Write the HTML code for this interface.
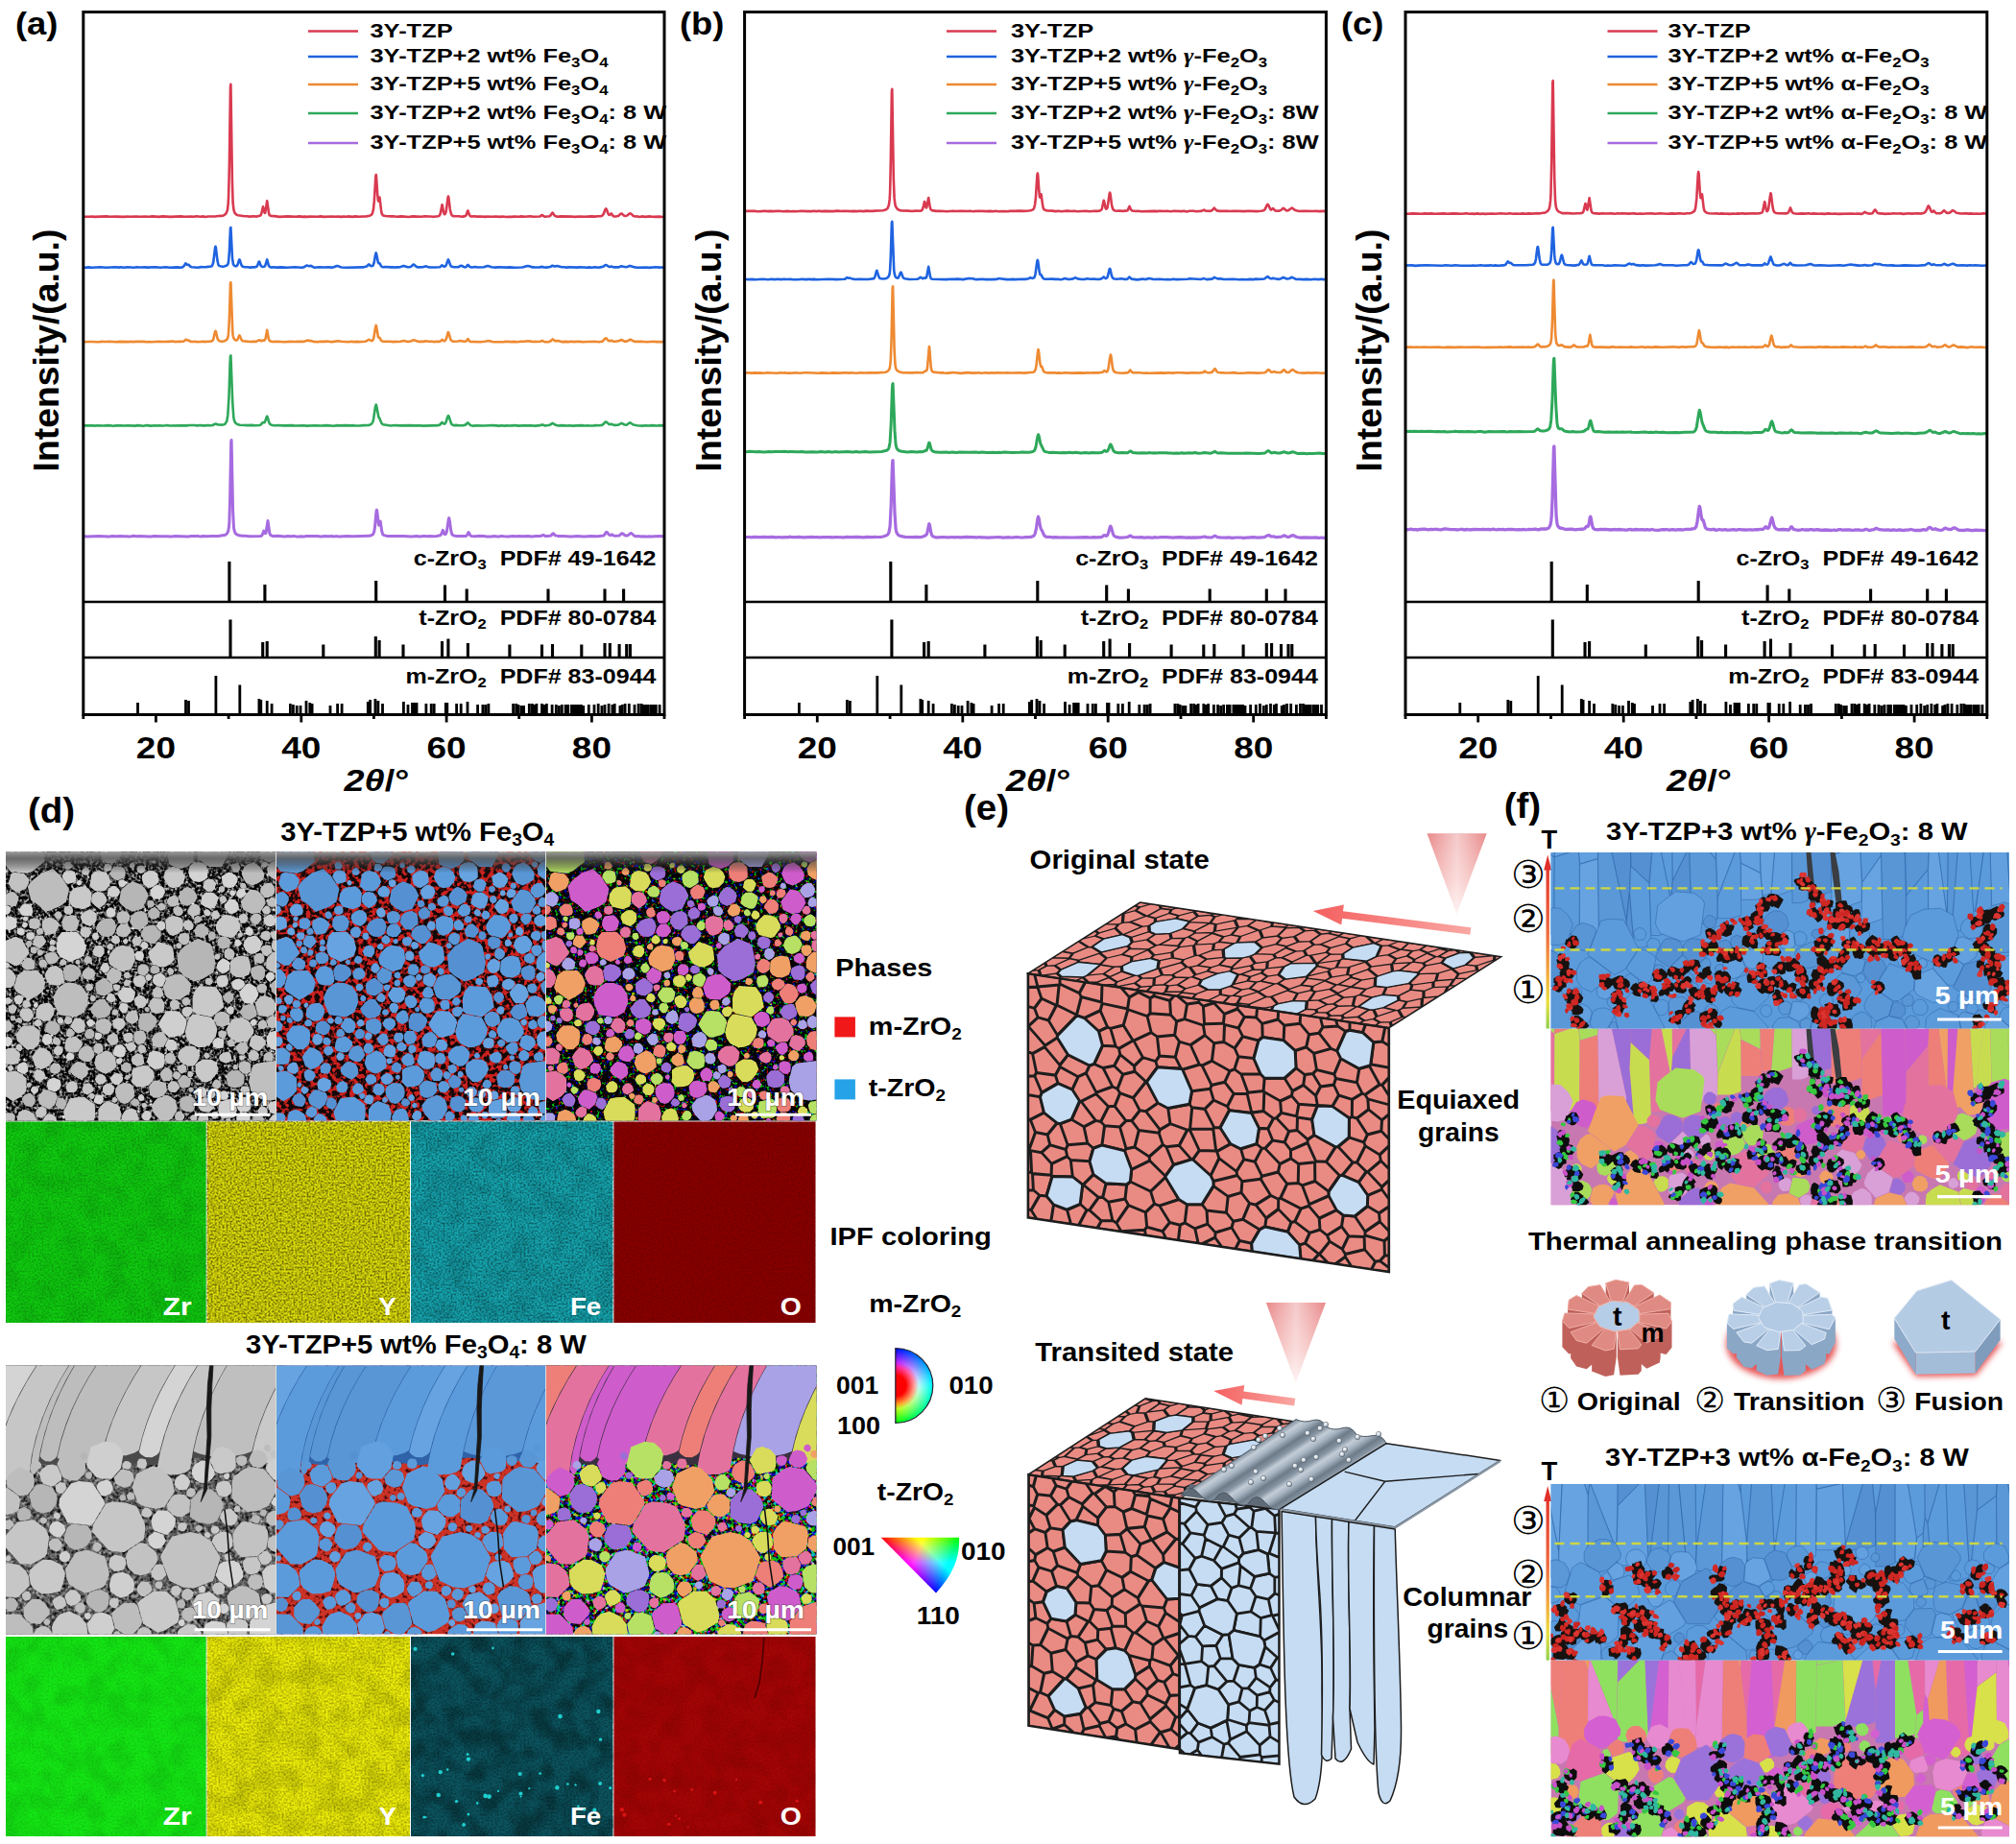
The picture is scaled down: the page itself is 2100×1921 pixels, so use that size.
<!DOCTYPE html>
<html><head><meta charset="utf-8"><title>Figure</title>
<style>html,body{margin:0;padding:0;background:#fff}svg{display:block}text{font-family:"Liberation Sans",sans-serif}</style>
</head><body>
<svg width="2100" height="1921" viewBox="0 0 2100 1921">
<rect width="2100" height="1921" fill="#fff"/>
<polyline points="86.8,225.7 92.5,225.8 96.3,225.6 98.9,225.9 111,225.4 114.4,225.8 119.7,225.6 129.5,225.9 132.9,225.5 135.2,225.7 141.6,225.5 146.9,225.8 150.3,225.5 155.3,225.7 158.7,225.4 165.5,225.9 169.6,225.4 177.2,225.9 188.5,225.4 192,225.7 198.8,225.5 202.2,225.8 204.8,225.3 208.6,225.7 212,225.4 213.9,226 216.9,225.5 224.1,225.5 227.5,225 230.9,224.9 232.8,224.5 235.1,222.9 235.8,221.8 237,218.6 237.7,212.1 238.1,204.7 238.9,171.5 240,90.2 240.4,87.7 241.9,188.4 242.6,211 243.4,218.2 244.2,221 245.3,222.8 246.8,223.9 247.9,224.3 254.7,225.3 257.4,225.3 259.7,225.6 264.2,225.2 267.6,225.6 270.6,224.8 271.4,224.4 272.1,223.3 274,215.3 275.5,221.4 275.9,221.9 276.3,221.5 278.2,209.3 280.1,222.3 280.8,224.2 282.4,225 285.8,225.1 291.4,225.9 299.8,225.4 308.1,225.8 311.9,225.4 315.3,225.9 317.2,225.6 320.2,225.9 322.8,225.6 330.8,225.8 334.2,225.4 337.2,225.9 346.7,225.5 347.4,225.7 353.1,225.6 354.6,225.9 358,225.6 360.7,225.8 362.5,225.4 367.1,225.9 370.5,225.4 373.5,225.7 381.5,225.4 385.2,224.7 387.1,223.6 387.9,222.5 389,217.9 389.8,209.9 391.3,184.2 391.7,182 392,184 393.2,201.9 393.9,209.1 394.3,209.5 395.1,206.2 395.5,205.6 397,218.7 397.7,222.5 398.5,223.8 399.2,224.4 401.5,225 407.2,225.4 409.4,225.2 413.2,225.7 418.1,225.4 425.7,226 429.9,225.4 439,225.7 442.4,225.3 452.2,225.7 456.4,225.3 457.5,224.9 458.6,223 460.5,213.2 460.9,214.1 462,221 462.4,222.3 463.2,223.2 463.9,222.6 464.7,220.2 466.6,205.7 466.9,204.6 467.3,205.6 468.8,217.9 469.6,221.8 470.7,224.3 472.2,225.2 473,225.3 478.3,225.3 480.6,225.7 482.1,225.4 483.2,225.6 484.7,225.1 485.9,223.6 487,219.9 487.4,219.5 489.3,224.6 490.4,225.5 493.8,225.3 497.2,225.6 501.7,225.5 505.1,225.9 507,225.6 512.7,225.8 516.1,225.5 520.7,225.9 523.7,225.5 527.1,226 530.5,225.7 532.4,225.9 535.8,225.6 540.7,225.8 543,225.4 546.4,225.8 552.4,225.3 555.5,225.8 562.3,225.5 564.9,224 566.4,225.2 567.6,225.7 572.5,225.3 573.6,224.3 575.5,221.6 578.1,225 580.8,225.7 584.2,225.4 596.3,225.6 596.7,225.8 599.3,225.9 603.5,225.5 609.5,225.8 615.6,225.4 620.9,225.6 622.4,225.2 626.2,225.1 627.7,224.3 628.8,222.7 630.3,218.5 631.1,217.4 631.9,218.2 633.4,222.3 634.1,223.5 634.5,223.9 635.3,223.9 636.8,222.4 638.7,225 639.4,225.4 641.3,225.5 644,225 646.6,222.8 647.4,222.5 648.1,222.8 650,224.7 651.5,225.1 653.4,224.4 655.7,222.6 656.4,222.3 657.6,222.9 659.5,224.8 660.6,225.3 661.7,225.5 664,225.4 666.3,225.9 668.5,225.4 672,225.9 677.2,225.4 679.1,225.8 681.8,225.9 687.1,225.6 689.4,226 692,225.7" fill="none" stroke="#d93a50" stroke-width="2.6" stroke-linejoin="round"/>
<polyline points="86.8,278.6 88.7,278.8 92.1,278.4 95.9,278.7 104.6,278.3 110.6,278.8 120.5,278.3 123.9,278.6 126.1,278.3 129.2,278.7 132.9,278.3 139.4,278.7 142.8,278.2 143.2,278.4 145.8,278.5 148.5,278.5 150.7,278.2 153,278.6 162.1,278.3 167,278.7 173,278.3 176.4,278.8 184.8,278.4 188.5,278.7 190.8,277.9 192,276.7 193.1,274.6 193.5,274.3 195,275.9 196.5,275.7 198.4,277.8 199.9,278.3 205.9,278.7 209.7,278.1 210.5,278.3 215,278.1 219.9,277.5 220.7,277.1 221.1,276.6 222.2,273.5 224.1,257.9 224.5,256.8 224.9,258.1 226.4,271.1 227.5,276 228.3,276.9 229.4,277.3 232,277.7 233.6,277.5 236.2,276.6 237,275.9 237.7,274.2 238.1,272 238.9,262.1 240,237.7 240.4,237 241.9,267.1 242.3,271.3 243,275.2 243.8,276.5 244.5,277 245.3,277.3 246.4,277.2 247.6,275.6 248.7,271.9 249.4,270.4 249.8,270.9 251.3,275.7 252.1,277 252.9,277.7 255.1,278.3 257.8,278.2 260.4,278.6 266.5,278.1 267.6,277.5 268.4,276.1 269.5,272.9 269.9,272.6 270.3,272.9 271.4,276.1 272.1,277.4 273.7,278 275.2,277.7 275.9,277.3 276.3,276.7 278.2,270.4 279.7,275.9 280.5,277.6 281.6,278.3 282.7,278.6 285,278.3 287.7,278.6 293.7,278.4 298.6,278.7 307.3,278.3 314.1,278.8 316.4,278.4 319.4,276.6 322.1,277.2 324,276.9 326.2,278.2 327.7,278.7 332.3,278.3 338.3,278.5 341.7,278.3 345.5,278.6 347.8,278.3 350.8,277 352.7,277.3 354.2,278.1 355.7,278.5 361,278.7 378.1,278.4 381.8,277.6 384.1,275.3 384.9,275.8 386,277 387.5,277.2 388.6,276.6 389.8,273 390.9,266.1 391.7,263.4 392,264 393.9,273.5 394.3,274.2 395.5,274.4 397,277.2 397.7,277.9 399.2,278.2 401.1,278 407.2,278.4 408.7,278.2 411.7,278.6 413.2,278.3 415.1,278.4 417.4,278 420.4,276.9 424.6,278.3 426.5,278.2 427.6,278 428.7,277.3 430.3,275.8 431,275.5 434,278.1 436.3,278.4 440.5,278.3 443.9,277.3 445.8,278.2 447.3,278.4 452.9,278.5 457.9,278.2 458.6,278 460.5,276.3 462.4,277.7 463.2,277.7 464.3,276.9 464.7,276.3 466.6,270.8 466.9,270.5 467.3,270.9 469.2,276.4 470,277.5 471.9,278.1 474.5,278.3 477.2,278.2 480.2,276.8 481.3,277 483.2,278.1 484.7,278.4 485.9,277.8 487,276.1 487.4,276 487.7,276.1 489.3,277.9 491.5,278.5 494.9,278 498,278.5 504,278.3 507.8,277 508.9,277.1 512,278.3 516.5,278.6 518.4,278.3 529,278.6 531.2,278.4 535.4,278.8 543.3,278.5 545.2,278.3 548.3,277.2 549.8,277 551.3,277.2 554.7,278.4 555.8,278.3 556.6,278.5 562.3,278.4 564.9,277.9 566.8,278.5 569.1,278.6 573.2,278 575.5,276.7 577.4,277.5 580.4,277.1 585,278.3 587.2,278.2 590.6,278.6 592.9,278.3 601.6,278.6 603.5,278.3 608.8,278.5 610.7,278.8 614.5,278.4 616.4,278.8 619.8,278.2 623.2,278.7 626.9,278.1 628.8,277.5 630.3,276.2 631.5,276 634.1,277.8 635.3,278 636.8,277.5 639,278.4 644,278.4 647.4,277.2 649.3,277.8 652.3,278.2 653.4,278 656.1,276.9 659.8,278.1 663.6,278.7 673.1,278.5 676.5,278.9 682.9,278.3 686.7,278.6 692,278.5" fill="none" stroke="#1f63e0" stroke-width="2.6" stroke-linejoin="round"/>
<polyline points="86.8,356 89.1,356.2 90.6,356 97,356 100.4,356.3 103.4,356.3 105.7,355.9 109.9,356 114,355.7 120.8,356.3 124.6,355.9 134.5,356.1 135.2,355.9 138.6,356.1 141.6,355.9 150.3,355.9 151.9,356.2 155.3,356 157.9,356.3 165.1,355.8 171.1,356 174.6,355.7 176.1,355.9 179.5,355.5 182.5,356.1 185.5,355.7 187.8,355.9 190.8,355.7 191.6,355.4 193.5,353.7 195.4,354.5 196.1,354.5 199.1,356 204.1,355.9 205.9,356.2 211.6,355.8 214.6,356.1 215.4,355.8 218.8,355.8 220.7,355.3 221.5,354.8 222.2,353.5 224.1,345.4 224.5,344.8 224.9,345.4 226.4,352.1 227.5,354.5 228.6,355.2 231.3,355.7 233.9,355.2 236.2,353.8 237,352.6 237.7,349.7 238.1,346.4 238.9,331.5 240,295.2 240.4,294.1 242.3,345.5 242.6,349.2 243.4,352.4 244.9,354.1 246,354.6 246.8,354.4 247.6,353.5 249.1,349.8 249.4,349.4 249.8,349.8 251.7,354.3 253.2,355.3 260.8,356 262.7,355.8 266.1,355.9 268.7,355.1 269.5,354.4 270.3,354.4 272.1,355.2 273.7,354.5 275.5,354.6 276.3,353.4 276.7,352 278.2,343.9 279.7,352.2 280.5,354.5 281.6,355.5 283.9,356 288.8,355.7 296,356.3 302,355.9 307.3,356 310.7,355.7 315.6,355.9 316.8,355.7 319.8,354.6 324,355.1 326.6,355.9 331.1,356.2 333,355.8 338,355.9 341.4,355.6 343.3,356 345.9,356.1 352.3,355.2 355.7,355.8 362.5,356.2 365.9,355.8 369,356.1 372.4,355.9 373.5,356.1 380.3,355.7 382.2,355.1 383.7,353.9 384.5,353.9 387.1,355.1 388.3,354.5 389.4,351.7 390.9,342 391.7,338.9 392,339.8 393.9,350.8 394.3,351.5 395.5,351.8 395.8,352.3 397.3,355.1 399.2,355.8 405.7,355.7 409.8,356.1 411.7,355.9 415.1,356 417,355.8 420.4,354.9 425,355.9 427.6,355.5 431,354.2 431.8,354.3 433.3,355.1 436.3,355.9 440.8,355.9 443.9,355.3 446.5,355.7 449.9,355.7 451.8,356.1 455.2,355.8 457.5,355.9 458.6,355.6 460.5,353.9 462.4,355.2 463.5,354.9 463.9,354.5 465.1,352.4 466.6,346.5 466.9,346 467.3,346.6 469.6,354.1 470.7,355.2 472.6,355.7 476.8,355.5 479.8,355 483.2,355.8 484.7,355.7 485.5,355.4 487.4,353.1 489.3,355.6 490,355.9 500.2,356.2 505.1,355.8 508.9,355 512.7,356 515.4,356.2 524.8,356.2 526.3,355.7 533.1,356.1 535.4,355.9 538.8,356.3 542.6,355.8 546.4,355.8 549.8,355.2 554.3,355.9 556.2,356 557.3,355.7 560.7,356 562.6,355.7 564.9,354.9 567.2,356.1 571.3,356.2 573.6,355.3 575.5,353.3 577.8,355.1 581.2,355.1 585,356.1 589.5,355.9 592.5,356.1 594.8,355.7 598.2,356.1 600.5,355.8 603.9,355.9 607.3,356.3 611.8,356 619.8,355.8 623.9,356.2 626.9,355.7 628.1,355.2 630.3,352.7 631.1,352.3 631.5,352.3 633,354.2 634.1,355.1 635.3,355.3 636.8,354.6 638.3,355.5 639.4,355.8 641.3,355.7 645.1,355 647.4,354 650.4,355.6 652.7,355.6 654.9,354.6 656.1,353.7 657.2,353.9 660.2,355.6 661.7,355.9 668.5,355.8 673.5,356.2 680.7,355.8 684.1,356.1 692,356.1" fill="none" stroke="#ee8a32" stroke-width="2.6" stroke-linejoin="round"/>
<polyline points="86.8,443.4 97.4,443.2 98.5,443.6 101.6,443.3 107.6,443.5 113.3,443.1 118.2,443.7 120.5,443.4 126.9,443.2 128.4,443.5 133.3,443.2 140.5,443.6 143.5,443.1 149.6,443.7 152.6,443.1 157.2,443.6 162.1,443.3 163.2,443.5 164.7,443.2 170,443.5 172.3,443.3 173.4,443 176.8,443.5 187.4,443.2 194.2,443.4 197.6,443 202.9,443 205.2,443.4 208.6,443 211.6,443.4 216.5,443.1 219.9,443.2 221.5,443 223.3,442 224.9,441.5 226.8,442.4 228.3,442.5 231.7,442.6 233.2,442.3 234.7,441.3 236.2,438.9 237.3,432.7 238.5,412.8 239.6,378.5 240,371.1 240.4,370.4 242.3,420.2 243.4,435.3 244.2,438.6 245.3,440.6 247.2,442 249.8,442.7 257.8,443.1 262.3,442.9 265.3,443.3 270.3,443 271.8,442.4 273.7,440 275.5,440.1 275.9,439.8 277.8,434.1 278.2,433.7 278.6,434.2 280.1,439.7 281.2,441.9 282.7,442.7 285.4,443.2 287.3,443.3 289.9,443 295.2,443.4 303.9,443.1 307.3,443.5 316.4,443.2 319.4,443.6 328.5,443.2 334.9,443.5 339.8,443.1 347.8,443.7 351.2,443.1 354.2,443.4 359.9,443.1 366.7,443.4 368.6,443.1 369,443.4 375,443.5 378.4,443.1 384.1,443 386.8,441.9 388.3,439.6 389,437 390.9,424.2 391.7,421.6 392,422.1 392.4,423.9 394.3,434 395.8,436.7 397.3,440.6 398.5,442 399.2,442.3 406.8,443.5 411.3,443 416.3,443.4 426.8,443.1 430.6,443.4 437.4,443.2 440.8,443.6 456.7,443.1 458.2,442.5 460.5,440 462.4,441.5 463.2,441.6 463.9,441 464.7,439.4 466.2,434.3 466.9,433 467.7,434.1 470,441.2 470.7,442.1 472.6,443.1 476,442.9 477.5,443.2 483.2,443.1 485.1,442.5 486.6,440.9 487.4,440.4 489.6,442.7 490.8,443.2 493,443.6 496.8,443.3 502.9,443.5 513.8,443.1 519.9,443.6 522.2,443.3 525.6,443.6 528.2,443.2 529.7,443.5 534.3,443.4 535.8,443.1 541.1,443.6 544.5,443.2 549,443.4 553.9,443.2 555.1,443.5 557.7,443.6 562.6,443.1 564.5,442.5 565.3,442.5 567.9,443.5 572.5,442.8 575.5,440.9 576.6,441.4 578.1,442.5 581.6,443.5 585,443.1 590.6,443.5 593.3,443.2 596.3,443.6 605.8,443.1 609.2,443.5 612.2,443.3 613.7,443.5 618.6,443.4 620.5,443.1 623.5,443.3 626.9,442.9 628.5,441.9 630.3,439.8 631.1,439.5 631.9,439.8 634.5,442.1 636.8,441.7 638.7,442.6 640.2,442.9 643.6,442.8 647.4,440.8 650.8,442.5 652.3,442.7 653,442.5 655.7,440.5 656.4,440.4 659.8,442.5 663.6,443.2 668.9,443.6 672.7,443.2 676.1,443.5 678.8,443.1 684.4,443.5 687.8,443.1 692,443.4" fill="none" stroke="#2ea85a" stroke-width="2.6" stroke-linejoin="round"/>
<polyline points="86.8,558.6 90.6,558.9 103.1,558.5 113.7,558.9 117.1,558.5 120.8,558.8 125.8,558.5 129.2,558.8 131.8,558.7 134.8,559.1 139,558.2 142.8,558.8 145.1,558.6 156.8,558.9 160.6,558.5 167.7,558.8 174.2,558.7 178.3,559 182.5,558.4 195.7,558.9 199.5,558.4 204.4,558.6 205.2,558.3 208.2,558.9 211.6,558.5 216.2,558.8 219.6,558.4 222.2,558.6 227.5,558.4 234.7,557.3 236.6,555.7 237.7,553.4 238.5,548.8 238.9,543.4 239.6,519.3 240.7,460.2 241.1,458.4 242.6,531.6 243.4,548.1 243.8,551.5 244.9,555.1 246.4,556.7 249.1,557.8 252.1,558.3 255.5,558.2 259.7,558.7 271.8,558.4 272.5,558 273.3,557 274.8,553.1 275.2,553.3 276.3,555.6 276.7,555.6 277.1,554.7 279,542.5 280.8,555.5 282,557.7 283.9,558.4 289.9,558.3 296.4,558.9 299.8,558.5 303.2,558.7 306.2,558.4 309.6,559.1 311.5,559.1 313,558.7 316.8,559 318.3,558.6 320.9,558.5 330.8,558.6 334.2,559 338.3,558.5 342.1,558.8 345.5,558.6 348.2,558.9 349.7,558.6 353.1,558.9 361.4,558.4 367.1,558.8 384.9,558.3 387.9,557.2 388.6,556.6 389.8,553.7 390.5,548.8 392,532.7 392.4,531.2 392.8,532.3 394.3,546.1 394.7,547.2 395.1,546.8 395.8,543.6 396.2,543 397.7,553.1 398.5,556.2 398.9,556.8 400,557.6 403,558.4 407.6,558.4 408.3,558.6 411.7,558.4 417,558.4 418.1,558.6 420.8,558.4 428.4,559 434,558.5 437.4,558.9 440.8,558.5 443.1,558.4 444.2,558.7 448,558.4 451.1,558.7 454.8,558.4 458.2,557.8 459,557.4 459.8,556.2 461.3,552.3 461.6,552.7 462.8,556 463.2,556.6 463.9,556.7 464.7,555.9 465.4,553.5 467.3,540.4 467.7,539.6 468.5,543.1 469.6,551.9 470.7,556.4 471.9,557.6 473.7,558.2 476,558.5 485.1,558.6 486.6,557.3 488.1,554.5 489.6,557.3 490.8,558.4 494.9,558.7 499.5,558.3 504.4,558.5 506.7,558.9 511.6,558.9 515,558.5 518.4,558.9 520.3,558.9 521.8,558.4 525.2,558.8 529,558.9 534.3,558.4 537.7,558.8 541.5,558.5 543.3,558.7 550.5,558.5 553.9,559 558.1,558.5 563.4,558.4 565.7,557.4 566.4,557.5 567.9,558.4 570.6,558.6 574,558 575.5,556.2 576.3,555.8 576.6,555.8 578.5,557.9 581.2,558.4 586.8,558.4 594.8,558.9 601.2,558.5 608.8,559 615.2,558.6 622.4,558.8 628.5,558.1 629.6,557.2 631.1,554.8 631.9,554.2 632.6,554.7 634.1,556.8 635.3,557.6 636,557.6 637.5,556.8 639,557.9 640.6,558.3 645.1,557.9 647.4,556 648.1,555.7 648.9,555.9 650.8,557.6 651.5,557.9 653.4,557.9 654.2,557.6 657.2,555.4 658.3,556 660.6,558.1 662.5,558.7 664.8,558.5 668.2,559 669.3,558.7 674.2,559.1 676.1,558.7 679.5,558.9 681,558.7 687.8,558.5 692,558.7" fill="none" stroke="#a66be0" stroke-width="3.0" stroke-linejoin="round"/>
<path d="M238.9 627v-42M275.9 627v-18M391.7 627v-22M463.5 627v-17.6M486.2 627v-13.5M571 627v-13.5M630 627v-13.5M649.6 627v-13.5" stroke="#000" stroke-width="3.1" fill="none"/>
<path d="M240 685v-39.5M273.7 685v-16M278.2 685v-17M336.8 685v-13.5M391.3 685v-22M395.1 685v-18M420 685v-13.5M460.5 685v-17M466.9 685v-19.5M487.4 685v-15M530.9 685v-13.5M564.5 685v-13.5M575.5 685v-14M605.8 685v-13.5M630 685v-15M635.3 685v-15M645.1 685v-14M652.7 685v-14M656.4 685v-14" stroke="#000" stroke-width="3.1" fill="none"/>
<path d="M143.5 744v-12M193.5 744v-15M196.5 744v-14M224.9 744v-40M249.8 744v-30.5M269.9 744v-16M271.8 744v-15M278.2 744v-14M283.1 744v-11M302.4 744v-11M305.4 744v-10M309.2 744v-9M313 744v-9M319 744v-14M322.8 744v-12M325.1 744v-11M344 744v-9M351.6 744v-11M356.1 744v-11M383.3 744v-13M385.6 744v-15M390.9 744v-16M393.9 744v-14M398.5 744v-11M420.4 744v-13M425 744v-10M429.5 744v-12M431.8 744v-12M434 744v-12M443.9 744v-11M449.2 744v-11M452.2 744v-11M464.3 744v-12M465.8 744v-12M475.6 744v-11M480.2 744v-11M487 744v-13M497.6 744v-10M502.9 744v-10M505.9 744v-10M508.9 744v-11M534.6 744v-11M537.7 744v-11M539.9 744v-10M543 744v-9M545.6 744v-9M551.3 744v-11M554.3 744v-11M556.6 744v-10M558.9 744v-11M564.5 744v-11M567.2 744v-10M569.4 744v-11M575.1 744v-10M579.3 744v-10M582.3 744v-9M585.3 744v-10M589.1 744v-10M591.8 744v-10M595.5 744v-10M598.2 744v-10M600.8 744v-10M603.1 744v-10M605.4 744v-10M607.7 744v-9M613.3 744v-10M619 744v-10M623.2 744v-11M626.9 744v-9M630 744v-10M634.1 744v-11M637.9 744v-10M640.2 744v-11M645.9 744v-9M648.1 744v-10M651.1 744v-11M655.3 744v-11M661 744v-10M665.1 744v-11M668.2 744v-11M670.4 744v-10M673.1 744v-10M675.4 744v-10M678.4 744v-10M681 744v-10M683.3 744v-10M687.1 744v-10" stroke="#000" stroke-width="2.8" fill="none"/>
<path d="M86.8 627H692 M86.8 685H692" stroke="#000" stroke-width="2.6"/>
<rect x="86.8" y="12.5" width="605.2" height="732" fill="none" stroke="#000" stroke-width="3"/>
<path d="M86.8 744.5v4.5M162.4 744.5v8M238.1 744.5v4.5M313.8 744.5v8M389.4 744.5v4.5M465.1 744.5v8M540.7 744.5v4.5M616.4 744.5v8M692 744.5v4.5" stroke="#000" stroke-width="2.8"/>
<text transform="translate(162.4 789.8) scale(1.2 1)" font-size="30.8" font-weight="bold" text-anchor="middle" fill="#000"><tspan>20</tspan></text>
<text transform="translate(313.8 789.8) scale(1.2 1)" font-size="30.8" font-weight="bold" text-anchor="middle" fill="#000"><tspan>40</tspan></text>
<text transform="translate(465.1 789.8) scale(1.2 1)" font-size="30.8" font-weight="bold" text-anchor="middle" fill="#000"><tspan>60</tspan></text>
<text transform="translate(616.4 789.8) scale(1.2 1)" font-size="30.8" font-weight="bold" text-anchor="middle" fill="#000"><tspan>80</tspan></text>
<text transform="translate(392.4 824.3) scale(1.24 1)" font-size="30.5" font-weight="bold" text-anchor="middle"><tspan font-style="italic">2θ</tspan>/°</text>
<text transform="translate(61 365) rotate(-90)" font-size="37.3" font-weight="bold" text-anchor="middle">Intensity/(a.u.)</text>
<text transform="translate(16 35.5) scale(1.12 1)" font-size="32.5" font-weight="bold" text-anchor="start" fill="#000"><tspan>(a)</tspan></text>
<path d="M321 32.5h52" stroke="#d93a50" stroke-width="2.6"/>
<text transform="translate(385.5 38.9) scale(1.21 1)" font-size="21" font-weight="bold" text-anchor="start" fill="#000"><tspan>3Y-TZP</tspan></text>
<path d="M321 59h52" stroke="#1f63e0" stroke-width="2.6"/>
<text transform="translate(385.5 65.4) scale(1.21 1)" font-size="21" font-weight="bold" text-anchor="start" fill="#000"><tspan>3Y-TZP+2 wt% Fe</tspan><tspan dy="4.2" font-size="13.9">3</tspan><tspan dy="-4.2">O</tspan><tspan dy="4.2" font-size="13.9">4</tspan></text>
<path d="M321 88h52" stroke="#ee8a32" stroke-width="2.6"/>
<text transform="translate(385.5 94.4) scale(1.21 1)" font-size="21" font-weight="bold" text-anchor="start" fill="#000"><tspan>3Y-TZP+5 wt% Fe</tspan><tspan dy="4.2" font-size="13.9">3</tspan><tspan dy="-4.2">O</tspan><tspan dy="4.2" font-size="13.9">4</tspan></text>
<path d="M321 118h52" stroke="#2ea85a" stroke-width="2.6"/>
<text transform="translate(385.5 124.4) scale(1.21 1)" font-size="21" font-weight="bold" text-anchor="start" fill="#000"><tspan>3Y-TZP+2 wt% Fe</tspan><tspan dy="4.2" font-size="13.9">3</tspan><tspan dy="-4.2">O</tspan><tspan dy="4.2" font-size="13.9">4</tspan><tspan dy="-4.2">: 8 W</tspan></text>
<path d="M321 149h52" stroke="#a66be0" stroke-width="2.6"/>
<text transform="translate(385.5 155.4) scale(1.21 1)" font-size="21" font-weight="bold" text-anchor="start" fill="#000"><tspan>3Y-TZP+5 wt% Fe</tspan><tspan dy="4.2" font-size="13.9">3</tspan><tspan dy="-4.2">O</tspan><tspan dy="4.2" font-size="13.9">4</tspan><tspan dy="-4.2">: 8 W</tspan></text>
<text transform="translate(683.5 589) scale(1.16 1)" font-size="21.6" font-weight="bold" text-anchor="end" fill="#000" xml:space="preserve"><tspan>c-ZrO</tspan><tspan dy="4.3" font-size="14.3">3</tspan><tspan dy="-4.3">  PDF# 49-1642</tspan></text>
<text transform="translate(683.5 650.5) scale(1.16 1)" font-size="21.6" font-weight="bold" text-anchor="end" fill="#000" xml:space="preserve"><tspan>t-ZrO</tspan><tspan dy="4.3" font-size="14.3">2</tspan><tspan dy="-4.3">  PDF# 80-0784</tspan></text>
<text transform="translate(683.5 711.5) scale(1.16 1)" font-size="21.6" font-weight="bold" text-anchor="end" fill="#000" xml:space="preserve"><tspan>m-ZrO</tspan><tspan dy="4.3" font-size="14.3">2</tspan><tspan dy="-4.3">  PDF# 83-0944</tspan></text>
<polyline points="775.6,220.1 779,219.7 787,219.9 788.5,220.2 792.6,220.1 796.4,219.8 800.2,220.1 802.1,219.9 805.1,220.1 811.2,219.8 815.7,220.2 820.3,219.9 823.3,220.2 826.3,220 829.7,220.3 834.7,219.7 841.1,220.1 846,220.1 847.2,219.8 850.6,220.1 853.2,219.8 855.9,220.1 859.3,219.9 867.6,220.1 872.5,219.6 875.9,220 879.3,219.7 887.3,220.1 888.8,219.9 892.2,220.1 896.4,219.7 899.4,220.1 902.8,219.6 904.7,219.9 910,219.9 911.1,219.6 919.9,219.3 922.5,218.6 923.6,217.8 924.8,216.7 925.9,213.5 926.7,207.7 927.1,200.8 927.8,170.1 928.9,95.2 929.3,92.9 930.8,185.5 931.6,206.4 932.4,212.9 933.1,215.3 935,218 937.3,219.1 939.5,219.5 946,219.6 950.1,220 953.6,219.6 957.7,219.8 960,219.4 960.7,218.6 961.5,216.6 963,210.1 963.4,210.9 964.5,215.9 964.9,216.4 965.3,216.1 967.2,206 968.7,215.4 969.5,218.1 970.6,219.1 975.1,219.9 979.3,219.7 986.1,220.2 992.9,219.8 996,220 1000.9,219.8 1008.8,220 1010,219.7 1014.1,220.2 1016,219.9 1016.8,220.1 1018.7,219.7 1028.1,220.1 1031.6,219.9 1035,220.2 1036.9,219.8 1039.9,220.2 1044.8,220 1050.1,220.2 1052,219.8 1057.7,219.9 1061.1,219.6 1066.8,219.9 1072.1,219.5 1074.7,218.9 1076.2,218.3 1077,217.3 1078.1,213 1078.9,205.8 1080.4,182.6 1080.8,180.5 1081.2,182.3 1082.3,198.5 1083,205.3 1083.4,205.6 1084.2,202.8 1084.6,202.3 1086.1,213.8 1086.8,217.1 1088,218.6 1090.6,219.5 1095.9,219.6 1099.7,220.1 1102.7,219.8 1105.4,220.2 1111.8,219.6 1116,220 1119,219.8 1122.4,220.2 1131.5,219.7 1134.9,220.2 1140.2,219.7 1142.9,219.9 1145.1,219.7 1147,218.9 1147.8,217.7 1149.7,208.7 1150.1,209.5 1151.6,216.7 1152,217.5 1152.7,217.6 1153.5,216.3 1153.8,214.9 1155.7,201.8 1156.1,200.7 1156.5,201.7 1158,213 1158.8,216.6 1159.5,218.3 1160.3,218.9 1161.4,219.5 1163.3,219.7 1165.6,219.6 1170.1,219.9 1174.3,219.4 1175,218.4 1176.2,215.4 1176.6,215 1178.1,218.4 1179.2,219.5 1183,220 1185.3,219.8 1188.7,220.3 1202.7,219.9 1205.3,220.1 1208,219.8 1213.7,220 1215.6,219.8 1219,220.3 1223.1,219.8 1230.7,220.1 1233,219.7 1236.4,220.4 1239,219.8 1241.3,219.8 1243.6,219.8 1245.9,220.2 1251.5,219.9 1254.2,218.6 1256.1,219.8 1261,219.9 1262.9,218.8 1264.8,216.6 1267.4,219.4 1270.1,219.9 1277.7,219.7 1281.4,220 1285.6,219.7 1296.2,220.1 1300.4,219.7 1308.7,220.1 1314,219.8 1316.3,219.2 1317.8,217.9 1319.7,213.8 1320.4,212.9 1321.2,213.7 1323.5,218.3 1324.2,218.6 1326.1,217 1328,219.2 1329.5,219.7 1332.6,219.6 1334.5,218.9 1336,217.3 1336.7,216.9 1337.5,217.2 1339.8,219.2 1340.9,219.4 1342.4,218.9 1345.8,216.5 1349.2,219.1 1353,220 1359.4,219.7 1367.4,220 1370.8,219.7 1373.4,220.1 1381.4,219.9" fill="none" stroke="#d93a50" stroke-width="2.6" stroke-linejoin="round"/>
<polyline points="775.6,291 781.3,291.1 783.2,290.9 787.3,291.2 794.5,290.8 800.2,291.2 803.6,290.8 806.6,291.1 810.4,290.8 813.8,291.1 816.5,290.8 819.9,291 823.3,290.9 826.3,291.3 831.3,291.3 835.4,290.7 838.8,291.1 843.8,290.9 844.5,291.1 847.9,290.9 851.3,291.2 863.4,290.8 871.4,291.1 879.3,290.8 880.5,290.6 882.4,289.1 883.5,289.7 885.4,289.6 888.1,290.6 891.1,291 895.2,290.8 904.7,291 910.4,290.1 911.5,288 913,282.4 913.4,281.8 915.3,287.9 916.4,290 919.5,290.5 922.5,290.3 924.4,289.4 925.9,287.7 926.7,284.9 927.1,281.6 927.8,267.2 928.9,231.9 929.3,230.8 931.2,280.8 931.6,284.4 932.4,287.5 933.1,288.9 934.6,289.7 935.4,289.7 936.1,288.9 938,284 938.4,283.6 938.8,284 940.7,289.1 941.8,290.1 942.6,290.3 947.1,291 955.4,290.8 956.6,290.4 958.9,288.8 961.1,290.2 963,289.4 964.2,289.7 964.9,289.1 965.3,288.3 967.2,277.9 969.1,288.5 969.8,290.2 971,290.8 985.7,291.1 990.7,290.7 994.1,290.9 997.5,290.6 1003.2,291.1 1009.2,290 1013.4,290.3 1015.6,291 1017.5,291.1 1023.2,290.8 1026.6,291.1 1033.4,291.1 1038,290.9 1039.9,290.3 1041.4,290.2 1048.6,291.1 1053.1,291.1 1054.3,290.9 1057.7,291.1 1064.5,290.7 1067.9,290.9 1071.3,290.3 1073.2,289.2 1075.1,289.9 1075.8,289.9 1077.4,289.1 1078.5,285.8 1080.4,272 1080.8,270.9 1081.2,271.9 1082.7,283.2 1083.4,285.9 1084.6,286.5 1086.5,289.9 1087.6,290.5 1088.7,290.8 1096.7,290.6 1098.9,290.9 1101.6,290.7 1105,291.2 1107.3,290.8 1109.2,290 1112.6,290.9 1114.1,291 1117.9,290.4 1119.8,289.4 1120.5,289.4 1122.4,290.4 1126.6,291 1129.6,290.9 1132.6,290.2 1135.7,290.8 1139.1,290.6 1144,291 1146.7,290.6 1148.5,289.6 1149.7,288.4 1151.6,290.1 1152.3,290 1153.1,289.5 1153.8,288.1 1155.7,280.4 1156.1,279.9 1156.5,280.5 1158,287.2 1159.1,289.7 1160.7,290.5 1163.3,290.8 1168.6,290.2 1171.6,290.9 1173.5,290.9 1174.7,290.5 1176.2,288.7 1176.6,288.6 1178.1,290.2 1178.8,290.6 1184.5,291.4 1190.6,290.6 1191.7,290.9 1194,291 1195.1,290.4 1197.4,290.1 1201.6,291 1207.6,290.8 1214.4,291.3 1216.3,291 1219.7,291.2 1221.6,290.8 1225.4,291.1 1231.1,291 1237.1,290.7 1239,290.3 1250.8,291 1254.2,290.1 1256.8,291.1 1262.5,290.6 1263.3,290.3 1264.8,288.9 1268.2,290.4 1271.2,290.4 1275,291 1284.5,290.8 1290.5,291.2 1293.9,291 1298.5,291.3 1301.9,290.9 1305.7,291.1 1308.3,290.6 1310.6,290.9 1313.6,290.7 1315.1,290.8 1317,290.5 1320.4,288 1322.3,289.6 1323.8,290.3 1325,290.2 1326.1,289.7 1328,290.3 1331.8,290.9 1334.5,290.2 1336.7,289 1340.5,290.5 1342.8,290.2 1345.8,288.8 1350.4,291 1353.8,290.9 1357.9,291.1 1361.3,290.9 1365.5,291.2 1368.9,290.7 1373.4,291.1 1376.5,290.7 1378.7,291.1 1381.4,291" fill="none" stroke="#1f63e0" stroke-width="2.6" stroke-linejoin="round"/>
<polyline points="775.6,388.7 779,388.2 780.9,388.6 787,388.4 790,388.6 791.9,388.4 795.3,388.7 799.1,388.3 809.3,388.7 812.7,388.2 814.6,388.5 818,388.3 819.5,388.7 822.9,388.5 824.8,388.8 828.2,388.3 833.5,388.8 837.3,388.3 841.5,388.2 852.5,388.7 855.9,388.4 865,388.7 866.8,388.4 874.4,388.6 881.2,388.3 884.6,388.6 886.5,388.3 892.2,388.8 895.6,388.2 901.7,388.5 904.7,388.3 913.8,388.4 922.5,387.8 924.4,386.9 925.9,385.4 926.7,383.9 927.4,379.6 927.8,374.7 928.6,353.1 929.7,300 930.1,298.4 931.6,364.1 932.4,378.8 933.1,383.5 934.2,385.8 936.5,387.2 939.5,388.1 950.9,388.4 954.7,388 959.6,388.3 961.5,388.1 963.4,386.8 964.9,386.3 965.7,385 966,383 967.9,361 968.3,363.3 969.5,379.5 969.8,382.9 970.6,386.2 971.3,387.1 972.5,387.6 978.2,388.2 980.4,388.4 982.3,388.1 983.1,388.5 986.1,388.7 986.5,388.5 988.8,388.6 992.2,388 1001.3,388.9 1006.9,388.1 1014.1,388.6 1019.8,388.2 1022.8,388.7 1026.6,388.2 1030.4,388.6 1033.4,388.2 1035.3,388.6 1039.1,388.2 1045.9,388.5 1049,388.3 1052.8,388.5 1063,388.3 1066.8,388.6 1076.2,387.8 1077.7,386.9 1078.9,384.2 1079.6,379.7 1081.2,365.4 1081.5,364.1 1081.9,365.3 1083.4,378.7 1084.2,381.6 1084.6,381.9 1085.3,381.9 1086.8,386.2 1087.6,387.3 1088.3,387.7 1091.8,388.4 1098.6,388.3 1100.1,388.6 1103.1,388.4 1105,388.7 1108.8,388.3 1116.4,388.6 1125.8,388.4 1129.2,388.6 1133.4,388.2 1134.9,388.5 1139.1,388.3 1143.6,388.4 1148.5,387.8 1150.4,386.1 1152,387.2 1152.7,387.4 1153.5,386.8 1153.8,386.2 1154.6,383.6 1156.1,372.7 1156.9,369.6 1157.3,370.5 1158.8,381.9 1159.5,385.3 1160.7,387.2 1163.3,388.2 1169,388.7 1173.5,388.4 1175.4,387.9 1177.3,385.5 1179.6,388.1 1187.5,388.2 1191.7,388.7 1193.6,388.5 1197,388.8 1209.9,388.4 1214,388.6 1217.5,388.3 1221.6,388.6 1225.4,388.2 1229.6,388.2 1236.8,388.6 1242.4,388.3 1248.9,388.5 1253.4,387.9 1254.9,386.6 1256.5,387.8 1258.7,388.3 1260.6,388.2 1262.9,387.4 1265.5,384 1266.3,384.9 1267.4,387 1268.9,388 1276.1,388.5 1281.1,388.5 1284.9,388.1 1288.3,388.6 1295.1,388.7 1300,388.3 1310.6,388.6 1316.7,388.3 1317.4,388.2 1318.9,387.3 1320.4,385.5 1321.2,385.1 1322.3,385.7 1323.5,387.1 1324.6,387.8 1325.7,387.7 1326.9,387 1329.9,388 1333.7,388 1335.2,387.3 1336.7,385.5 1337.5,385.2 1340.1,387.7 1341.6,388 1342.8,387.7 1345.8,385.2 1346.6,385 1349.6,387.3 1352.2,388.3 1359.4,388.6 1362.8,388.3 1366.6,388.6 1370,388.3 1378.4,388.7 1381.4,388.4" fill="none" stroke="#ee8a32" stroke-width="2.6" stroke-linejoin="round"/>
<polyline points="775.6,470.6 777.5,470.7 781.3,470.2 787.3,470.7 790.4,470.4 796,470.9 801,470.5 803.6,470.7 806.6,470.4 813.8,470.6 817.2,470.3 821.8,470.7 822.9,470.4 831.6,470.8 835.4,470.4 838.8,470.9 846.4,470.7 851.3,471 855.1,470.6 859.7,470.9 862.7,470.5 866.8,470.9 871.4,470.6 872.9,470.9 882.8,470.6 888.4,470.9 891.8,470.5 895.2,471 901.7,470.6 905.1,470.9 918.3,470.5 923.6,469.3 925.2,468.1 925.9,466.7 927.1,460.7 928.2,441.2 929.3,407.6 929.7,400.4 930.1,399.6 932,448.4 933.1,463.1 933.9,466.5 934.6,467.9 936.5,469.5 939.2,470.3 945.2,470.9 949.4,470.5 955.8,471 957.3,470.6 961.1,470.7 965.3,469 966,467.3 967.6,461.5 967.9,461.1 968.3,461.5 969.8,467.3 970.6,469.1 972.1,470.3 974.8,471.1 975.9,470.9 979.3,471.3 986.1,471.1 988.4,471.4 991.8,471 996.3,471.6 999,471 1010,471.3 1016.4,470.9 1019.8,471.5 1022.8,471.1 1028.1,471.5 1035,471.3 1036.9,471.6 1040.3,471.2 1042.5,471.5 1045.9,471.1 1054.3,471.4 1062.6,471.3 1063.7,471.1 1072.1,471.2 1075.8,470.6 1077.4,469.6 1077.7,469.1 1078.9,465.9 1080.8,454.9 1081.5,452.7 1082.3,454.6 1083.8,462.1 1087.2,469.2 1088.3,470.4 1092.5,471.4 1096.7,471.3 1103.9,471.7 1108.4,471.4 1110.7,471.7 1114.1,471.3 1117.1,471.7 1120.5,471.3 1125.8,471.9 1130.8,471.4 1134.2,471.9 1137.2,471.4 1142.5,471.8 1145.1,471.8 1148.2,471.2 1150.4,469.3 1152.3,470.4 1153.5,470.1 1155,467.4 1156.1,464 1156.9,462.9 1157.6,463.8 1159.5,469 1160.7,470.4 1161.4,471 1165.2,471.7 1168.2,471.5 1174.3,471.7 1175,471.5 1177.3,469.9 1178.1,470.1 1180,471.4 1185.3,472.1 1190.6,471.8 1194.7,472 1198.1,471.6 1199.7,471.9 1202.7,471.8 1203.8,472.1 1206.9,471.7 1211,471.7 1215.6,471.8 1216.3,472 1219.7,471.9 1222,472.3 1225.8,472 1228.1,472.3 1231.5,471.8 1233,472.2 1238.7,471.8 1242.1,472 1244.7,471.6 1248.1,472.2 1251.9,472 1254.6,471.5 1261,472.2 1262.1,471.9 1265.5,470.3 1267.8,471.7 1268.9,472.1 1272,471.8 1278.8,472.2 1295.1,472.3 1298.1,471.9 1311.7,472.4 1317.4,472.1 1320.8,469.6 1321.6,469.8 1324.2,471.7 1325,471.9 1327.3,471.3 1330.7,472 1333.3,472 1337.5,470.8 1341.6,472 1343.2,471.8 1346.6,470.7 1351.5,472.4 1357.9,472.3 1361.3,472.7 1362.8,472.4 1367.8,472.5 1374.2,472.1 1378,472.5 1381.4,472.5" fill="none" stroke="#2ea85a" stroke-width="3.0" stroke-linejoin="round"/>
<polyline points="775.6,559.5 780.9,559.5 782.4,559.8 785.4,559.3 791.9,559.7 795.7,559.4 799.8,559.7 804.8,559.4 808.2,559.8 811.2,559.5 814.2,559.8 818.8,559.6 819.9,559.8 823.3,559.2 825.2,559.7 829,559.5 830.1,559.7 832,559.4 837.3,559.9 846,559.4 847.5,559.7 850.9,559.5 853.6,559.9 857,559.5 864.6,559.6 866.8,559.9 871,559.5 879,559.8 882.4,559.4 885,559.7 893,559.4 899.8,559.8 902.8,559.4 908.5,559.7 911.5,559.3 913,559.5 917.6,559.3 919.9,559 922.9,558 924.8,556.8 925.9,554.9 927.1,548.4 928.2,526.2 929.3,488.4 929.7,480.3 930.1,479.6 932,534.3 933.1,550.9 933.9,554.6 935.4,557.1 937.7,558.4 942.6,559.4 950.9,559.6 953.6,559.4 957,559.7 960.4,559.3 962.6,558.6 964.9,557.1 965.7,555.7 967.6,546.3 967.9,545.6 968.3,546.4 969.8,554.8 970.6,557.4 971.3,558.5 972.1,559 974.8,559.8 977,559.9 981.6,559.5 988,559.9 991.4,559.5 994.1,559.9 996.7,559.5 1000.5,559.9 1006.6,559.4 1011.9,559.7 1013.8,559.6 1017.2,559.9 1020.6,559.5 1022.5,559.9 1025.5,559.8 1028.9,560.1 1040.6,559.5 1044.8,560.1 1051.2,559.7 1052.8,560 1055,559.9 1059.9,559.5 1063.4,560 1065.6,560 1067.9,559.6 1071.3,559.7 1074,559.4 1076.2,558.6 1077,558.1 1078.1,556.2 1079.3,551.4 1080.8,540.7 1081.5,538.2 1082.3,540.6 1083.4,547.7 1084.2,550.7 1085.7,553.3 1087.6,557.7 1089.5,559.2 1091.4,559.5 1093.3,559.3 1095.5,559.8 1098.9,559.6 1105.4,560 1106.9,559.8 1117.5,560 1131.1,559.6 1135.7,560 1138.7,559.7 1142.1,559.9 1146.7,559.7 1148.5,558.9 1150.1,557.6 1150.8,557.6 1152.3,558.4 1153.5,557.7 1154.6,555 1156.5,548.4 1156.9,548.1 1157.6,549.6 1159.5,556.4 1160.7,558.6 1162.6,559.4 1166.3,560.1 1170.5,560 1174.3,559.5 1175,559.3 1177.3,558 1177.7,558 1179.2,559.2 1181.1,559.6 1186.8,559.9 1188.7,559.7 1192.1,560.1 1195.1,559.8 1197.4,559.8 1198.9,560.2 1201.2,560.1 1202.3,559.7 1206.1,560 1209.1,559.7 1215.2,559.7 1222.8,560.2 1223.9,559.9 1229.2,559.7 1236,560.1 1238.3,559.8 1240.6,560.2 1243.2,559.9 1245.9,560.2 1247,559.9 1250.8,559.8 1254.6,559 1256.5,559.6 1261,560 1262.9,559.6 1265.5,558.1 1268.2,559.6 1270.5,559.9 1278.4,560.1 1279.9,559.8 1283.7,560.3 1286.7,560 1292.4,560 1295.1,560.3 1305.7,559.7 1310.2,560.2 1317,559.6 1320.8,557.6 1322,557.7 1324.2,559 1326.5,558.9 1329.9,559.7 1334.8,559.2 1337.5,557.8 1338.2,557.9 1339,558.5 1341.6,559.5 1342.8,559.3 1346.2,557.7 1347.3,557.8 1350.7,559.5 1354.5,560.1 1357.9,559.9 1367,560.2 1370.4,559.8 1373.8,560.3 1376.1,560 1379.5,560.3 1381.4,560.2" fill="none" stroke="#a66be0" stroke-width="3.2" stroke-linejoin="round"/>
<path d="M927.8 627v-42M964.9 627v-18M1080.8 627v-22M1152.7 627v-17.6M1175.4 627v-13.5M1260.2 627v-13.5M1319.3 627v-13.5M1339 627v-13.5" stroke="#000" stroke-width="3.1" fill="none"/>
<path d="M928.9 685v-39.5M962.6 685v-16M967.2 685v-17M1025.9 685v-13.5M1080.4 685v-22M1084.2 685v-18M1109.2 685v-13.5M1149.7 685v-17M1156.1 685v-19.5M1176.6 685v-15M1220.1 685v-13.5M1253.8 685v-13.5M1264.8 685v-14M1295.1 685v-13.5M1319.3 685v-15M1324.6 685v-15M1334.5 685v-14M1342 685v-14M1345.8 685v-14" stroke="#000" stroke-width="3.1" fill="none"/>
<path d="M832.4 744v-12M882.4 744v-15M885.4 744v-14M913.8 744v-40M938.8 744v-30.5M958.9 744v-16M960.7 744v-15M967.2 744v-14M972.1 744v-11M991.4 744v-11M994.4 744v-10M998.2 744v-9M1002 744v-9M1008.1 744v-14M1011.9 744v-12M1014.1 744v-11M1033.1 744v-9M1040.6 744v-11M1045.2 744v-11M1072.4 744v-13M1074.7 744v-15M1080 744v-16M1083 744v-14M1087.6 744v-11M1109.5 744v-13M1114.1 744v-10M1118.6 744v-12M1120.9 744v-12M1123.2 744v-12M1133 744v-11M1138.3 744v-11M1141.4 744v-11M1153.5 744v-12M1155 744v-12M1164.8 744v-11M1169.4 744v-11M1176.2 744v-13M1186.8 744v-10M1192.1 744v-10M1195.1 744v-10M1198.1 744v-11M1223.9 744v-11M1226.9 744v-11M1229.2 744v-10M1232.2 744v-9M1234.9 744v-9M1240.6 744v-11M1243.6 744v-11M1245.9 744v-10M1248.1 744v-11M1253.8 744v-11M1256.5 744v-10M1258.7 744v-11M1264.4 744v-10M1268.6 744v-10M1271.6 744v-9M1274.6 744v-10M1278.4 744v-10M1281.1 744v-10M1284.9 744v-10M1287.5 744v-10M1290.2 744v-10M1292.4 744v-10M1294.7 744v-10M1297 744v-9M1302.6 744v-10M1308.3 744v-10M1312.5 744v-11M1316.3 744v-9M1319.3 744v-10M1323.5 744v-11M1327.3 744v-10M1329.5 744v-11M1335.2 744v-9M1337.5 744v-10M1340.5 744v-11M1344.7 744v-11M1350.4 744v-10M1354.5 744v-11M1357.5 744v-11M1359.8 744v-10M1362.5 744v-10M1364.7 744v-10M1367.8 744v-10M1370.4 744v-10M1372.7 744v-10M1376.5 744v-10" stroke="#000" stroke-width="2.8" fill="none"/>
<path d="M775.6 627H1381.4 M775.6 685H1381.4" stroke="#000" stroke-width="2.6"/>
<rect x="775.6" y="12.5" width="605.8" height="732" fill="none" stroke="#000" stroke-width="3"/>
<path d="M775.6 744.5v4.5M851.3 744.5v8M927.1 744.5v4.5M1002.8 744.5v8M1078.5 744.5v4.5M1154.2 744.5v8M1230 744.5v4.5M1305.7 744.5v8M1381.4 744.5v4.5" stroke="#000" stroke-width="2.8"/>
<text transform="translate(851.3 789.8) scale(1.2 1)" font-size="30.8" font-weight="bold" text-anchor="middle" fill="#000"><tspan>20</tspan></text>
<text transform="translate(1002.8 789.8) scale(1.2 1)" font-size="30.8" font-weight="bold" text-anchor="middle" fill="#000"><tspan>40</tspan></text>
<text transform="translate(1154.2 789.8) scale(1.2 1)" font-size="30.8" font-weight="bold" text-anchor="middle" fill="#000"><tspan>60</tspan></text>
<text transform="translate(1305.7 789.8) scale(1.2 1)" font-size="30.8" font-weight="bold" text-anchor="middle" fill="#000"><tspan>80</tspan></text>
<text transform="translate(1081.5 824.3) scale(1.24 1)" font-size="30.5" font-weight="bold" text-anchor="middle"><tspan font-style="italic">2θ</tspan>/°</text>
<text transform="translate(751 365) rotate(-90)" font-size="37.3" font-weight="bold" text-anchor="middle">Intensity/(a.u.)</text>
<text transform="translate(708 35.5) scale(1.12 1)" font-size="32.5" font-weight="bold" text-anchor="start" fill="#000"><tspan>(b)</tspan></text>
<path d="M986 32.5h52" stroke="#d93a50" stroke-width="2.6"/>
<text transform="translate(1053 38.9) scale(1.21 1)" font-size="21" font-weight="bold" text-anchor="start" fill="#000"><tspan>3Y-TZP</tspan></text>
<path d="M986 59h52" stroke="#1f63e0" stroke-width="2.6"/>
<text transform="translate(1053 65.4) scale(1.21 1)" font-size="21" font-weight="bold" text-anchor="start" fill="#000"><tspan>3Y-TZP+2 wt% </tspan><tspan font-family="Liberation Serif, serif" font-style="italic" font-weight="bold">γ</tspan><tspan>-Fe</tspan><tspan dy="4.2" font-size="13.9">2</tspan><tspan dy="-4.2">O</tspan><tspan dy="4.2" font-size="13.9">3</tspan></text>
<path d="M986 88h52" stroke="#ee8a32" stroke-width="2.6"/>
<text transform="translate(1053 94.4) scale(1.21 1)" font-size="21" font-weight="bold" text-anchor="start" fill="#000"><tspan>3Y-TZP+5 wt% </tspan><tspan font-family="Liberation Serif, serif" font-style="italic" font-weight="bold">γ</tspan><tspan>-Fe</tspan><tspan dy="4.2" font-size="13.9">2</tspan><tspan dy="-4.2">O</tspan><tspan dy="4.2" font-size="13.9">3</tspan></text>
<path d="M986 118h52" stroke="#2ea85a" stroke-width="2.6"/>
<text transform="translate(1053 124.4) scale(1.21 1)" font-size="21" font-weight="bold" text-anchor="start" fill="#000"><tspan>3Y-TZP+2 wt% </tspan><tspan font-family="Liberation Serif, serif" font-style="italic" font-weight="bold">γ</tspan><tspan>-Fe</tspan><tspan dy="4.2" font-size="13.9">2</tspan><tspan dy="-4.2">O</tspan><tspan dy="4.2" font-size="13.9">3</tspan><tspan dy="-4.2">: 8W</tspan></text>
<path d="M986 149h52" stroke="#a66be0" stroke-width="2.6"/>
<text transform="translate(1053 155.4) scale(1.21 1)" font-size="21" font-weight="bold" text-anchor="start" fill="#000"><tspan>3Y-TZP+5 wt% </tspan><tspan font-family="Liberation Serif, serif" font-style="italic" font-weight="bold">γ</tspan><tspan>-Fe</tspan><tspan dy="4.2" font-size="13.9">2</tspan><tspan dy="-4.2">O</tspan><tspan dy="4.2" font-size="13.9">3</tspan><tspan dy="-4.2">: 8W</tspan></text>
<text transform="translate(1372.9 589) scale(1.16 1)" font-size="21.6" font-weight="bold" text-anchor="end" fill="#000" xml:space="preserve"><tspan>c-ZrO</tspan><tspan dy="4.3" font-size="14.3">3</tspan><tspan dy="-4.3">  PDF# 49-1642</tspan></text>
<text transform="translate(1372.9 650.5) scale(1.16 1)" font-size="21.6" font-weight="bold" text-anchor="end" fill="#000" xml:space="preserve"><tspan>t-ZrO</tspan><tspan dy="4.3" font-size="14.3">2</tspan><tspan dy="-4.3">  PDF# 80-0784</tspan></text>
<text transform="translate(1372.9 711.5) scale(1.16 1)" font-size="21.6" font-weight="bold" text-anchor="end" fill="#000" xml:space="preserve"><tspan>m-ZrO</tspan><tspan dy="4.3" font-size="14.3">2</tspan><tspan dy="-4.3">  PDF# 83-0944</tspan></text>
<polyline points="1464,222.7 1466.7,222.8 1471.6,222.4 1481,222.8 1484.4,222.4 1487.1,222.6 1490.9,222.4 1494.7,222.7 1504.1,222.4 1507.5,222.7 1514,222.4 1522.7,222.8 1527.6,222.3 1530.6,222.7 1534,222.6 1535.6,222.9 1539.7,222.4 1542,222.9 1545,222.5 1546.5,222.9 1554.5,222.5 1557.9,222.7 1563.6,222.3 1568.5,222.7 1572.7,222.3 1576.1,222.7 1579.5,222.5 1582.9,222.8 1586.3,222.4 1588.9,222.7 1592.4,222.4 1594.6,222.6 1601.4,222.2 1603.3,222.4 1606,222 1606.7,221.7 1608.3,221.7 1609.8,221.4 1612,220 1613.6,217.7 1614.3,215.2 1615.1,208.9 1615.5,201.4 1616.2,168.1 1617.3,86.5 1617.7,84.1 1619.2,185.1 1620,208 1620.8,215.3 1621.9,218.7 1623.4,220.4 1627.2,222.1 1633.6,222.1 1638.9,222.5 1642.3,222.2 1645.7,222.3 1648.4,221.7 1649.5,220.1 1651.4,212 1651.8,212.7 1652.9,218 1653.3,218.6 1653.7,218.1 1655.6,206.2 1657.5,219.3 1658.2,221.1 1659,221.8 1660.1,222.1 1666.2,222.6 1669.6,222.2 1672.6,222.5 1678.7,222.4 1682.1,222.7 1685.1,222.3 1686.6,222.5 1690,222.3 1696.5,222.6 1702.5,222.3 1703.3,222.6 1705.9,222.8 1708.2,222.5 1711.6,222.8 1714.3,222.5 1720.7,222.4 1724.5,222.8 1728.7,222.3 1736.6,222.7 1741.9,222.4 1744.6,222.6 1749.9,222.2 1754.4,222.8 1756.7,222.2 1760.5,222.3 1761.6,221.9 1763.1,221.3 1765,219.9 1766.1,217.1 1767.3,206.9 1768.8,181.3 1769.2,179 1769.6,180.9 1770.7,198.9 1771.4,205.9 1771.8,206.2 1772.6,203 1773,202.4 1774.5,215.2 1775.2,219 1776,220.3 1777.1,221.2 1777.9,221.7 1780.2,222.2 1785.1,222.5 1788.5,222.4 1790.8,222.7 1793,222.4 1798.3,222.8 1799.1,222.6 1802.1,222.9 1805.1,222.5 1808.5,222.7 1809.3,222.4 1811.6,222.6 1815,222.2 1817.6,222.6 1827.9,222.2 1829.8,222.5 1833.5,222.1 1835.4,221.5 1836.2,220 1838.1,210.2 1838.5,211.1 1839.6,217.9 1840.4,220 1840.7,220.2 1841.5,219.4 1842.2,216.9 1843.8,204.9 1844.5,201.3 1844.9,202.3 1846.4,214.8 1847.2,218.8 1847.9,220.5 1848.7,221.3 1849.4,221.8 1851.7,222.3 1860.4,222.4 1862.7,221.7 1863.4,220.5 1865,216.4 1866.5,220.4 1867.2,221.6 1868.4,222.2 1872.2,222.7 1876.7,222.4 1880.1,222.6 1884.3,222.3 1886.5,222.7 1888.8,222.4 1894.5,222.7 1897.5,222.6 1900.9,222.9 1904.3,222.4 1908.5,222.7 1910.8,222.5 1914.6,222.9 1929.3,222.5 1932.7,222.7 1935.4,222.5 1938.8,222.9 1940.7,222.3 1942.6,220.8 1944.5,222 1946.4,222.5 1948.6,222.6 1950.5,222.2 1952.4,219.2 1953.2,218.5 1953.6,218.7 1955.5,221.6 1956.2,222 1958.1,222.4 1962.3,222.6 1963.8,222.9 1967.2,222.5 1969.1,222.7 1971.7,222.3 1976.7,222.5 1979.3,222.4 1982.7,222.9 1988.4,222.3 1991.4,222.6 1997.9,222.3 2001.3,222.6 2004.3,221.7 2005.8,220.4 2006.9,218.4 2008.1,215.4 2008.8,214.5 2009.6,215.3 2011.1,219 2012.2,220.7 2013,220.8 2013.8,219.9 2014.5,219.5 2016,221.5 2017.2,222.2 2021.3,222.2 2022.9,221.3 2024.4,219.6 2025.1,219.3 2027.8,221.7 2028.5,221.9 2030,221.9 2031.6,221.2 2033.8,219.2 2035,219.5 2038,221.7 2042.2,222.5 2048.2,222.4 2050.9,222.6 2052.8,222.4 2056.9,222.7 2058.4,222.5 2062.6,222.7 2066,222.4 2069.8,222.5" fill="none" stroke="#d93a50" stroke-width="2.6" stroke-linejoin="round"/>
<polyline points="1464,276.5 1470.8,276.4 1474.6,276.9 1476.9,276.6 1485.6,276.3 1502.2,276.7 1506,276.3 1512.1,276.7 1515.9,276.3 1521.6,276.7 1532.5,276.7 1534,276.5 1537.8,276.8 1542.8,276.3 1546.2,276.8 1547.7,276.5 1551.1,276.6 1552.2,276.2 1555.2,276.7 1557.5,276.4 1560.5,276.7 1565.9,276.4 1568.1,275.9 1570.8,272.3 1572.3,274 1573.8,273.8 1575.7,275.7 1577.2,276.2 1589.3,276.3 1596.5,275.7 1598,275.2 1599.2,273.3 1599.9,270 1601.4,258.1 1601.8,257 1602.2,258.1 1603.7,270 1604.8,274.5 1605.6,275.4 1606.7,275.8 1611.7,275.7 1613.6,274.9 1614.3,274.2 1615.1,272.3 1615.5,270.3 1616.2,260.9 1617.3,237.6 1617.7,236.9 1619.2,265.4 1619.6,269.5 1620.4,273.3 1621.5,275 1623,275.2 1623.8,275 1624.9,272.6 1626.4,266.3 1626.8,265.6 1627.2,266.2 1629.1,273.9 1630.2,275.5 1631.7,276 1639.7,276.6 1644.2,275.9 1645.4,274.9 1647.3,271.4 1647.6,271.7 1649.1,275 1649.9,275.5 1652.2,275.7 1653.3,275.1 1653.7,274.5 1655.6,266.8 1657.5,274.5 1658.2,275.7 1660.1,276.2 1669.2,276.3 1671.9,276.7 1673.8,276.7 1674.5,276.5 1678.3,276.7 1681.7,276.2 1692.3,276.7 1694.2,276.2 1696.9,274.6 1697.6,274.6 1699.1,275.4 1701.4,275 1704,276.1 1708.6,276.6 1710.9,276.2 1714.6,276.6 1724.1,276.3 1726.4,275.9 1729,275 1732.4,276.2 1742.7,276.3 1746.1,276.7 1753.6,276.2 1757.1,276.3 1758.9,275.8 1761.2,273.2 1761.6,273.1 1763.5,274.7 1764.2,275 1765.4,274.8 1766.1,274.1 1767.3,270.3 1768.8,261 1769.2,260.3 1769.6,261 1771.1,269.7 1771.8,272 1773.3,272.7 1774.5,275 1775.2,275.7 1780.5,276.3 1793.4,276.4 1794.9,276.1 1797.2,274.7 1797.9,274.6 1801,276 1803.6,276.2 1805.9,275.5 1808.5,273.7 1809.7,274.2 1811.6,275.9 1813.1,276.3 1818.4,276.2 1820.3,275.6 1821.8,275.5 1825.2,276.4 1835.4,276.4 1836.6,276 1838.1,274.4 1839.6,275.5 1841.1,275.4 1842.2,273.9 1844.1,267.9 1844.5,267.5 1847.2,274.9 1847.9,275.7 1851,276.5 1852.8,276.5 1855.1,276.1 1857.8,274.8 1858.5,274.9 1861.2,276.1 1862.3,276.1 1863.4,275.5 1864.6,273.9 1865,273.9 1866.5,275.6 1867.6,276.2 1868.8,276.1 1871.4,276.5 1880.9,276.3 1885.8,274.9 1889.2,276.3 1890.7,276.5 1896,276.3 1905.5,276.8 1916.8,276.2 1920.2,276.7 1927.8,275.5 1930.8,276.1 1932.4,276.1 1935.8,276.6 1939.9,276.5 1942.6,276.1 1944.5,276.6 1950.2,276.3 1952.8,274.7 1953.6,274.7 1955.5,275.3 1957.3,275.1 1959.2,275.5 1960.4,276 1966.1,276.5 1969.5,276.3 1970.6,276.6 1971.7,276.4 1974.4,276.7 1978.2,276.7 1983.5,276.4 1997.5,276.7 2005.4,276.1 2008.8,274 2009.6,274.2 2011.5,275.6 2012.6,276 2014.5,275.3 2015.7,275.9 2017.5,276.3 2022.1,276.3 2025.1,274.8 2028.2,276.2 2030,276.2 2033.5,274.9 2034.6,274.8 2038,276.4 2039.9,276.5 2043.7,276.2 2049,276.6 2052,276.2 2053.9,276.5 2057.7,276.2 2064.5,276.7 2069.8,276.5" fill="none" stroke="#1f63e0" stroke-width="2.6" stroke-linejoin="round"/>
<polyline points="1464,361.6 1470.8,361.5 1472.7,361.8 1476.1,361.6 1477.6,361.8 1484.1,361.5 1487.9,361.8 1498.5,361.6 1503.4,362 1508.3,361.6 1514.4,361.9 1521.6,361.6 1526.5,361.8 1540.1,361.5 1543.9,362 1550.3,361.7 1551.5,361.9 1559.4,361.8 1562.8,361.5 1565.1,361.8 1573.8,361.4 1574.9,361.7 1586.7,361.5 1589.3,361.8 1592,361.5 1595.8,361.7 1598.8,361.2 1601.8,358.6 1602.6,359 1604.1,360.8 1605.2,361.4 1610.1,361.2 1612.4,360.5 1613.9,359.5 1615.1,357.9 1615.8,354.6 1616.2,351 1617,334.1 1618.1,293 1618.5,291.7 1620,342.7 1620.4,349.9 1621.1,356.5 1621.9,358.5 1623,359.7 1624.5,360 1626.8,359.2 1628.7,360.8 1630.6,361.4 1634.4,361.6 1636.7,361.5 1639.7,359.4 1641.6,360.9 1643.5,361.5 1649.5,361.5 1651,361.1 1652.2,360.5 1653.7,360.4 1654.4,359 1654.8,357.5 1656.3,348.7 1657.9,357.6 1658.6,360.2 1659.7,361.3 1661.6,361.6 1669.6,361.6 1676,361.9 1679.4,361.4 1681.3,361.4 1682.5,361.7 1684.7,361.8 1686.6,361.6 1696.1,361.8 1699.1,361.4 1701.4,361.7 1705.9,361.8 1710.9,361.3 1713.1,361.9 1717.3,361.5 1721.1,361.9 1724.5,361.4 1731.3,361.8 1743.4,361.4 1746.5,361.5 1748.7,361.9 1752.1,361.3 1755.5,361.6 1760.5,361.2 1764.2,361.3 1766.1,360.6 1767.3,358.6 1768,355.3 1769.6,345.1 1769.9,344.2 1770.3,345.2 1771.8,354.9 1772.6,357.1 1773.7,357.4 1775.2,360.1 1776,360.8 1778.3,361.4 1782.4,361.7 1786.6,361.9 1791.5,361.5 1795.3,361.9 1798.3,361.6 1801.7,362.1 1804.4,361.5 1807.8,361.8 1811.6,361.5 1815.7,361.8 1816.9,361.5 1821,361.8 1823.3,361.7 1824.5,361.4 1827.1,361.5 1828.6,361.9 1830.9,361.6 1836.2,361.5 1837.3,360.9 1838.8,359.4 1839.6,359.8 1840.4,360.7 1841.5,361 1842.2,360.4 1843,359 1844.5,352 1845.3,349.7 1845.7,350.3 1847.2,357.4 1848.3,360.2 1849.1,361 1850.2,361.4 1853.6,361.4 1855.1,361.9 1863.4,361.4 1864.2,361 1865.7,359.4 1867.2,360.8 1868,361.2 1874.4,361.7 1887.7,361.6 1891.5,361.9 1894.9,361.3 1898.3,361.6 1903.2,361.4 1907.4,361.7 1911.2,361.5 1915.7,361.8 1919.1,361.4 1929.7,361.8 1932.4,361.4 1934.6,361.8 1937.7,361.6 1939.6,361.9 1941.1,361.6 1943.3,360.6 1945.2,361.7 1949,361.7 1951.7,361.2 1953.9,359.4 1956.2,361.1 1958.1,361.6 1961.9,361.3 1967.9,361.9 1971.7,361.5 1975.1,361.8 1980.1,361.5 1983.5,361.8 1992.2,361.4 1995.6,361.8 1999.8,361.5 2003.2,361.7 2006.2,361.3 2009.6,358.7 2012.6,361.1 2013.4,361.3 2015.3,360.7 2017.5,361.6 2022.5,361.3 2023.6,360.9 2025.9,359.3 2026.6,359.5 2028.5,361.1 2030,361.5 2031.6,361.2 2035,359.4 2039.5,361.6 2042.9,361.4 2050.1,362.1 2053.5,361.3 2056.5,361.7 2064.1,361.6 2067.1,362 2069.8,361.7" fill="none" stroke="#ee8a32" stroke-width="2.6" stroke-linejoin="round"/>
<polyline points="1464,449.3 1467,449.5 1468.9,449.2 1470.1,449.4 1473.5,449.2 1478,449.6 1480.7,449.2 1483.3,449.6 1489.7,449.3 1494.7,449.7 1498.1,449.4 1502.2,449.7 1504.1,449.4 1507.2,449.9 1514.7,449.5 1515.9,449.2 1519.3,449.7 1521.9,449.4 1525.3,449.8 1529.5,449.5 1537.5,449.9 1539,449.6 1543.1,449.5 1546.5,450.2 1551.1,449.6 1556.8,449.8 1567.7,449.6 1569.6,450.1 1573.8,449.5 1577.2,449.7 1582.9,449.5 1586.3,449.8 1597.3,449.5 1598.8,449.1 1601.8,446.7 1604.1,448.5 1606.4,449.1 1609,448.9 1612,448 1613.6,446.8 1614.7,444.7 1615.8,437.4 1617,415.7 1618.1,381.2 1618.5,374 1618.9,373.3 1620.8,423.2 1621.9,440.2 1622.6,444.3 1623.4,446 1624.5,446.8 1626.8,446.7 1629.1,448.7 1630.2,449.2 1635.5,449.9 1638.2,449.5 1641.2,450 1647.6,449.7 1649.9,449.3 1652.6,447.2 1653.7,447.1 1654.1,446.8 1654.8,444.9 1656.3,438.6 1656.7,438.1 1657.1,438.6 1659.4,447.8 1660.5,449.3 1661.6,449.7 1664.7,449.6 1671.5,450.2 1675.7,449.9 1680.6,450.3 1684,450 1686.3,450.3 1690.4,449.9 1693.4,450.2 1696.9,449.9 1698.4,450.2 1699.1,450 1699.9,450.3 1705.6,450.4 1713.5,450.1 1716.9,450.5 1720,450.2 1722.6,450.4 1724.9,450.1 1727.9,450.5 1732.4,450.3 1735.9,450.8 1746.1,450.4 1749.5,450.7 1754.4,450.2 1758.6,450.3 1764.2,449.9 1765.4,449.1 1766.1,448.2 1767.3,445 1769.6,430 1770.3,427.2 1771.1,429.4 1773,439.9 1776,447.4 1776.7,448.6 1777.9,449.4 1781.3,450.2 1787.3,450.3 1790.4,450.7 1793,450.3 1796.1,450.8 1799.1,450.5 1800.2,450.7 1807.8,450.5 1811.2,450.8 1813.5,450.6 1817.3,451 1820.7,450.8 1824.1,451 1827.5,450.6 1835.1,450.5 1836.9,449.6 1838.5,447.7 1839.2,447.2 1841.1,448.4 1841.5,448.5 1842.2,448 1843.4,445.5 1844.9,439.9 1845.7,438.8 1846.4,440.2 1848.3,447.2 1849.4,449.2 1850.2,449.7 1856.6,451.1 1858.9,450.5 1862.3,450.7 1863.4,450.3 1865.3,448.2 1866.1,447.7 1866.9,448.2 1868.4,450 1869.5,450.6 1877.1,451.1 1886.2,450.7 1891.1,450.9 1893.4,451.3 1896.8,451 1903.6,451.2 1908.1,450.9 1913,451.6 1916.5,451 1924.8,451.3 1928.2,451 1929.7,451.2 1935,451.3 1938.8,451.7 1942.2,450.4 1943.7,450.2 1946,450.9 1948.6,451.1 1950.5,450.9 1954.3,448.8 1955.8,449.4 1957,450.4 1959.2,451.1 1971,451.6 1977.8,451 1980.8,451.6 1984.2,451.2 1987.6,451.2 1995.2,451.8 1998.6,451.3 2004.7,451.1 2006.9,450.2 2010,448.2 2010.7,448.4 2013.4,450.4 2015.7,450.1 2017.9,451.1 2019.4,451.5 2021.3,451.4 2026.3,449.5 2029.7,450.9 2031.2,451 2034.6,449.5 2035.7,449.6 2041,451.4 2043.3,451.7 2044.4,451.4 2047.8,451.7 2049.4,451.5 2052.8,451.7 2055.4,451.6 2058.8,452 2061.1,451.7 2064.1,451.9 2067.5,451.6 2069.8,451.7" fill="none" stroke="#2ea85a" stroke-width="3.0" stroke-linejoin="round"/>
<polyline points="1464,551.5 1466.3,551.9 1469.7,551.2 1472.3,551.8 1473.5,551.5 1475,551.9 1475.7,551.7 1476.9,552.1 1478.4,551.4 1480.7,551.5 1482.2,551.1 1482.9,551.3 1484.1,551.1 1487.5,551.8 1490.5,551.4 1492.4,551.7 1494.7,551.3 1497.3,551.3 1498.1,551.7 1500.7,551.9 1505.3,550.9 1510.9,551.7 1515.9,551.7 1518.5,552 1521.6,551.4 1523.4,551.4 1525,552 1528.7,551.5 1530.6,552 1531.8,551.7 1533.3,551.8 1534.4,551.5 1542,551.7 1545.4,551.3 1547.7,551.6 1550.7,551.5 1551.8,551.9 1556,551.2 1557.1,551.7 1559.4,551.8 1560.5,551.5 1562.1,551.7 1564.7,551.6 1565.1,551.3 1567.4,551.8 1571.5,551.4 1573,551.6 1574.2,551.4 1579.9,551.8 1582.1,551.6 1584,551.8 1587.4,551.5 1588.9,551.8 1591.6,551.7 1592.7,551.4 1594.2,551.7 1599.5,551.2 1601.8,551.8 1604.1,551.5 1605.2,550.8 1606,551.1 1607.1,551.1 1607.5,550.8 1608.6,551.3 1609.4,551 1610.9,551 1612.8,550.2 1613.6,549.6 1615.1,546.5 1615.8,542.2 1616.2,537.8 1617,520.9 1618.5,465.9 1618.9,465 1620.8,529.8 1621.1,537.3 1621.9,544.9 1622.6,547.8 1623.8,549.3 1624.9,550 1625.7,549.9 1626.4,550.4 1627.9,550.4 1629.1,551 1631,551.5 1638.2,551.2 1640.4,551.9 1647.6,551.1 1648.8,551.3 1650.3,550.8 1651,550.3 1652.6,548.3 1653.7,548.7 1654.4,548 1655.2,545.4 1656.3,538.9 1656.7,538.2 1657.1,539.1 1658.6,547.6 1659.4,550 1660.9,551.4 1663.9,551.9 1668.1,551.4 1669.2,551.6 1671.5,551.4 1678.3,552 1679.4,551.6 1681.3,551.8 1682.1,551.5 1682.8,551.9 1684.7,551.6 1685.5,551.9 1686.3,551.5 1690,551.9 1691.6,551.8 1692.7,552.2 1694.6,552.2 1696.9,551.6 1698.7,551.4 1699.9,552 1701,551.8 1702.2,552 1703.3,551.5 1707.5,551.8 1710.1,551.6 1713.5,552 1716.2,551.7 1718.1,552.1 1719.6,551.9 1720.3,551.5 1723.4,552.1 1727.5,552.3 1731.7,551.6 1732.8,551.9 1733.6,551.6 1735.1,551.8 1735.9,551.5 1738.9,552.1 1742.3,551.6 1745.7,552.1 1748.3,551.7 1752.9,552 1756.3,551.4 1761.2,551.4 1762,551 1765,550.6 1766.1,549.7 1766.9,548.5 1768,543.5 1769.6,530.9 1770.3,527.5 1770.7,528.1 1772.6,540.6 1773,541.4 1773.3,541.6 1773.7,541.4 1774.5,542.7 1776.4,549.6 1777.9,551.1 1782.4,551.8 1784.3,551.4 1785.8,551.5 1786.6,552 1788.5,552.3 1790.8,551.5 1794.2,552.2 1795.3,551.8 1797.6,551.7 1798.7,552.1 1801.4,552.2 1806.3,551.6 1807.8,552.2 1809.7,552.1 1810.8,551.6 1813.1,551.6 1814.2,551.9 1818,552 1818.4,552.2 1821,551.8 1824.1,551.8 1824.8,552.1 1829.8,551.6 1830.5,551.9 1833.9,551.3 1836.6,551.3 1839.2,548.7 1839.6,548.8 1840.7,550.2 1841.9,550.4 1843,548.7 1844.9,541.1 1845.7,539.3 1846,539.8 1847.9,547.5 1848.7,549.4 1850.2,551 1852.8,551.9 1857,551.5 1863.1,552 1864.2,551.3 1865.7,548.9 1866.1,548.8 1866.5,548.9 1868.4,551.5 1872.9,552.3 1876.7,551.8 1877.1,551.5 1880.5,552.1 1880.9,551.8 1884.3,552 1885.8,551.6 1887.7,551.7 1888.1,552 1889.6,552.2 1893,551.6 1894.5,552.1 1895.6,551.9 1897.1,552.3 1901.3,552 1907.7,552.5 1910.4,552 1911.5,552.3 1913.4,552.3 1915.7,551.6 1917.6,551.7 1919.1,552.2 1924.8,551.9 1927.4,552 1929,552.3 1932,552.1 1932.4,551.9 1934.6,552.1 1935.4,551.8 1938.8,552.3 1941.4,552.1 1943.7,551.3 1946.4,552.3 1947.9,552.5 1948.6,552.2 1952,551.6 1954.3,550.3 1957.7,551.7 1962.3,552.2 1966.8,552 1970.2,552.3 1972.5,551.8 1975.9,552.5 1977.4,552 1979.3,551.9 1980.8,552.3 1983.5,552.5 1984.2,552.2 1987.6,552.2 1990.7,551.5 1994.5,552.5 1999.4,552.3 2000.1,552.6 2003.5,551.7 2005.8,552.2 2006.9,552 2009.2,549.7 2010.4,549.3 2012.6,551.1 2014.1,551.3 2016,550.8 2018.3,551.9 2020.2,552.2 2022.5,552.3 2023.2,552 2024.4,551.4 2025.5,550.3 2026.3,550.1 2028.9,551.2 2031.6,551.7 2032.7,551.4 2034.6,550 2035.3,549.8 2036.9,550.1 2038.8,551.5 2040.6,552.3 2046.7,552.5 2047.1,552.2 2049.7,551.9 2053.5,552.7 2056.2,552.5 2057.7,552.1 2062.2,552.4 2064.1,552.3 2067.5,552.6 2069.8,552.5" fill="none" stroke="#a66be0" stroke-width="3.3" stroke-linejoin="round"/>
<path d="M1616.2 627v-42M1653.3 627v-18M1769.2 627v-22M1841.1 627v-17.6M1863.8 627v-13.5M1948.6 627v-13.5M2007.7 627v-13.5M2027.4 627v-13.5" stroke="#000" stroke-width="3.1" fill="none"/>
<path d="M1617.3 685v-39.5M1651 685v-16M1655.6 685v-17M1714.3 685v-13.5M1768.8 685v-22M1772.6 685v-18M1797.6 685v-13.5M1838.1 685v-17M1844.5 685v-19.5M1865 685v-15M1908.5 685v-13.5M1942.2 685v-13.5M1953.2 685v-14M1983.5 685v-13.5M2007.7 685v-15M2013 685v-15M2022.9 685v-14M2030.4 685v-14M2034.2 685v-14" stroke="#000" stroke-width="3.1" fill="none"/>
<path d="M1520.8 744v-12M1570.8 744v-15M1573.8 744v-14M1602.2 744v-40M1627.2 744v-30.5M1647.3 744v-16M1649.1 744v-15M1655.6 744v-14M1660.5 744v-11M1679.8 744v-11M1682.8 744v-10M1686.6 744v-9M1690.4 744v-9M1696.5 744v-14M1700.3 744v-12M1702.5 744v-11M1721.5 744v-9M1729 744v-11M1733.6 744v-11M1760.8 744v-13M1763.1 744v-15M1768.4 744v-16M1771.4 744v-14M1776 744v-11M1797.9 744v-13M1802.5 744v-10M1807 744v-12M1809.3 744v-12M1811.6 744v-12M1821.4 744v-11M1826.7 744v-11M1829.8 744v-11M1841.9 744v-12M1843.4 744v-12M1853.2 744v-11M1857.8 744v-11M1864.6 744v-13M1875.2 744v-10M1880.5 744v-10M1883.5 744v-10M1886.5 744v-11M1912.3 744v-11M1915.3 744v-11M1917.6 744v-10M1920.6 744v-9M1923.3 744v-9M1929 744v-11M1932 744v-11M1934.3 744v-10M1936.5 744v-11M1942.2 744v-11M1944.9 744v-10M1947.1 744v-11M1952.8 744v-10M1957 744v-10M1960 744v-9M1963 744v-10M1966.8 744v-10M1969.5 744v-10M1973.3 744v-10M1975.9 744v-10M1978.6 744v-10M1980.8 744v-10M1983.1 744v-10M1985.4 744v-9M1991 744v-10M1996.7 744v-10M2000.9 744v-11M2004.7 744v-9M2007.7 744v-10M2011.9 744v-11M2015.7 744v-10M2017.9 744v-11M2023.6 744v-9M2025.9 744v-10M2028.9 744v-11M2033.1 744v-11M2038.8 744v-10M2042.9 744v-11M2045.9 744v-11M2048.2 744v-10M2050.9 744v-10M2053.1 744v-10M2056.2 744v-10M2058.8 744v-10M2061.1 744v-10M2064.9 744v-10" stroke="#000" stroke-width="2.8" fill="none"/>
<path d="M1464 627H2069.8 M1464 685H2069.8" stroke="#000" stroke-width="2.6"/>
<rect x="1464" y="12.5" width="605.8" height="732" fill="none" stroke="#000" stroke-width="3"/>
<path d="M1464 744.5v4.5M1539.7 744.5v8M1615.5 744.5v4.5M1691.2 744.5v8M1766.9 744.5v4.5M1842.6 744.5v8M1918.4 744.5v4.5M1994.1 744.5v8M2069.8 744.5v4.5" stroke="#000" stroke-width="2.8"/>
<text transform="translate(1539.7 789.8) scale(1.2 1)" font-size="30.8" font-weight="bold" text-anchor="middle" fill="#000"><tspan>20</tspan></text>
<text transform="translate(1691.2 789.8) scale(1.2 1)" font-size="30.8" font-weight="bold" text-anchor="middle" fill="#000"><tspan>40</tspan></text>
<text transform="translate(1842.6 789.8) scale(1.2 1)" font-size="30.8" font-weight="bold" text-anchor="middle" fill="#000"><tspan>60</tspan></text>
<text transform="translate(1994.1 789.8) scale(1.2 1)" font-size="30.8" font-weight="bold" text-anchor="middle" fill="#000"><tspan>80</tspan></text>
<text transform="translate(1769.9 824.3) scale(1.24 1)" font-size="30.5" font-weight="bold" text-anchor="middle"><tspan font-style="italic">2θ</tspan>/°</text>
<text transform="translate(1439 365) rotate(-90)" font-size="37.3" font-weight="bold" text-anchor="middle">Intensity/(a.u.)</text>
<text transform="translate(1397 35.5) scale(1.12 1)" font-size="32.5" font-weight="bold" text-anchor="start" fill="#000"><tspan>(c)</tspan></text>
<path d="M1674.5 32.5h52" stroke="#d93a50" stroke-width="2.6"/>
<text transform="translate(1737.5 38.9) scale(1.21 1)" font-size="21" font-weight="bold" text-anchor="start" fill="#000"><tspan>3Y-TZP</tspan></text>
<path d="M1674.5 59h52" stroke="#1f63e0" stroke-width="2.6"/>
<text transform="translate(1737.5 65.4) scale(1.21 1)" font-size="21" font-weight="bold" text-anchor="start" fill="#000"><tspan>3Y-TZP+2 wt% α-Fe</tspan><tspan dy="4.2" font-size="13.9">2</tspan><tspan dy="-4.2">O</tspan><tspan dy="4.2" font-size="13.9">3</tspan></text>
<path d="M1674.5 88h52" stroke="#ee8a32" stroke-width="2.6"/>
<text transform="translate(1737.5 94.4) scale(1.21 1)" font-size="21" font-weight="bold" text-anchor="start" fill="#000"><tspan>3Y-TZP+5 wt% α-Fe</tspan><tspan dy="4.2" font-size="13.9">2</tspan><tspan dy="-4.2">O</tspan><tspan dy="4.2" font-size="13.9">3</tspan></text>
<path d="M1674.5 118h52" stroke="#2ea85a" stroke-width="2.6"/>
<text transform="translate(1737.5 124.4) scale(1.21 1)" font-size="21" font-weight="bold" text-anchor="start" fill="#000"><tspan>3Y-TZP+2 wt% α-Fe</tspan><tspan dy="4.2" font-size="13.9">2</tspan><tspan dy="-4.2">O</tspan><tspan dy="4.2" font-size="13.9">3</tspan><tspan dy="-4.2">: 8 W</tspan></text>
<path d="M1674.5 149h52" stroke="#a66be0" stroke-width="2.6"/>
<text transform="translate(1737.5 155.4) scale(1.21 1)" font-size="21" font-weight="bold" text-anchor="start" fill="#000"><tspan>3Y-TZP+5 wt% α-Fe</tspan><tspan dy="4.2" font-size="13.9">2</tspan><tspan dy="-4.2">O</tspan><tspan dy="4.2" font-size="13.9">3</tspan><tspan dy="-4.2">: 8 W</tspan></text>
<text transform="translate(2061.3 589) scale(1.16 1)" font-size="21.6" font-weight="bold" text-anchor="end" fill="#000" xml:space="preserve"><tspan>c-ZrO</tspan><tspan dy="4.3" font-size="14.3">3</tspan><tspan dy="-4.3">  PDF# 49-1642</tspan></text>
<text transform="translate(2061.3 650.5) scale(1.16 1)" font-size="21.6" font-weight="bold" text-anchor="end" fill="#000" xml:space="preserve"><tspan>t-ZrO</tspan><tspan dy="4.3" font-size="14.3">2</tspan><tspan dy="-4.3">  PDF# 80-0784</tspan></text>
<text transform="translate(2061.3 711.5) scale(1.16 1)" font-size="21.6" font-weight="bold" text-anchor="end" fill="#000" xml:space="preserve"><tspan>m-ZrO</tspan><tspan dy="4.3" font-size="14.3">2</tspan><tspan dy="-4.3">  PDF# 83-0944</tspan></text>
<style>.k0{fill:var(--k0)}.k1{fill:var(--k1)}.k2{fill:var(--k2)}.k3{fill:var(--k3)}.k4{fill:var(--k4)}.k5{fill:var(--k5)}.k6{fill:var(--k6)}.k7{fill:var(--k7)}</style>
<defs><filter id="fBC" x="0" y="0" width="100%" height="100%" color-interpolation-filters="sRGB"><feTurbulence type="fractalNoise" baseFrequency="0.32" numOctaves="2" seed="3"/><feColorMatrix type="matrix" values="2.3 0 0 0 -0.98 2.3 0 0 0 -0.98 2.3 0 0 0 -0.98 0 0 0 0 1"/></filter>
<filter id="fPH" x="0" y="0" width="100%" height="100%" color-interpolation-filters="sRGB"><feTurbulence type="fractalNoise" baseFrequency="0.22" numOctaves="2" seed="8"/><feColorMatrix type="matrix" values="0 0 0 0 0.8 0 0 0 0 0.13 0 0 0 0 0.12 7 0 0 0 -3.1"/></filter>
<filter id="fBC2" x="0" y="0" width="100%" height="100%" color-interpolation-filters="sRGB"><feTurbulence type="fractalNoise" baseFrequency="0.28" numOctaves="2" seed="13"/><feColorMatrix type="matrix" values="1.1 0 0 0 -0.2 1.1 0 0 0 -0.2 1.1 0 0 0 -0.2 0 0 0 0 1"/></filter>
<filter id="fPH2" x="0" y="0" width="100%" height="100%" color-interpolation-filters="sRGB"><feTurbulence type="fractalNoise" baseFrequency="0.25" numOctaves="2" seed="18"/><feColorMatrix type="matrix" values="0 0 0 0 0.3 0 0 0 0 0.04 0 0 0 0 0.04 5 0 0 0 -2.6"/></filter>
<filter id="fIP2" x="0" y="0" width="100%" height="100%" color-interpolation-filters="sRGB"><feTurbulence type="fractalNoise" baseFrequency="0.26" numOctaves="2" seed="31"/><feColorMatrix type="matrix" values="7 0 0 0 -3.7 0 7 0 0 -3.3 0 0 7 0 -3.45 0 0 0 0 1"/></filter>
<filter id="fIP" x="0" y="0" width="100%" height="100%" color-interpolation-filters="sRGB"><feTurbulence type="fractalNoise" baseFrequency="0.3" numOctaves="2" seed="5"/><feColorMatrix type="matrix" values="8 0 0 0 -5.0 0 8 0 0 -4.75 0 0 8 0 -4.8 0 0 0 0 1"/></filter>
<filter id="fEl" x="0" y="0" width="100%" height="100%" color-interpolation-filters="sRGB"><feTurbulence type="fractalNoise" baseFrequency="0.5" numOctaves="2" seed="11"/><feColorMatrix type="matrix" values="0 0 0 0 0 0 0 0 0 0 0 0 0 0 0 2.6 0 0 0 -0.95"/></filter>
<filter id="fEl2" x="0" y="0" width="100%" height="100%" color-interpolation-filters="sRGB"><feTurbulence type="fractalNoise" baseFrequency="0.045" numOctaves="2" seed="21"/><feColorMatrix type="matrix" values="0 0 0 0 0 0 0 0 0 0 0 0 0 0 0 3 0 0 0 -1.15"/></filter>
<filter id="blur1"><feGaussianBlur stdDeviation="0.6"/></filter>
<filter id="blur3"><feGaussianBlur stdDeviation="3"/></filter>
<linearGradient id="topfade" x1="0" y1="0" x2="0" y2="1"><stop offset="0" stop-color="#9a9a9a"/><stop offset="0.3" stop-color="#5a5a5a" stop-opacity="0.85"/><stop offset="1" stop-color="#222" stop-opacity="0"/></linearGradient>

<g id="gr1"><path class="k0" d="M21.4 249.3l-5.2 5.5-.5 .3-8.1 4.6-6.5-4.1-7.8-4.2-2.7-9.1 3.3-9.8 4.3-2.8 12.3-1.6 7.1 4.1 3.5 3.3 .5 1.8zM1.3 91.7l9.3-3.5 6.1 2.7 7.7 13.6-.3 1.7-10.4 11.8-3.9 .4-1.3-.2-12.7-7.2-.4-8.8 1.9-7zM257.9 184.5l.4 4.2-.3 .5-6.1 8.2-10.7 1-.4-.1-9-6.3-1.1-3.2-.7-4.6 .2-.6 5.2-8.7 3.4-1.6 7.3-.6 6.7 3.1zM115.7 282.3l-5.4 3.4-6.6 .6-7.1-6-.3-4.7 .2-7.5 4-5 2.5-1.9 2.9-1.6 2.6 .6 7.2 2.7 2 1.3 2.4 7.3 .2 1.8-1.4 6.7zM111 12.2l-6.8-1-3.7-3.7-2.1-5.5-.7-5 5.6-6.1 2.5-2.7 7 0 6.4 4.3 1.6 5.3-.6 6.3-4.2 4.2zM183 205.1l4.5-2.9 7-.2 3.5 1.9 3.9 4.8-1 7.5-2.1 3.4-1.3 1.5-2.9 2-4.4 .1-8.1-4.1-3-5 .6-4.8zM30.7 208.2l4.6-4.6 4.5 .8 5.6 3.4 3 4.6 1.3 4.6-4.9 5.9-3.6 2.1-4.7 1.7-6.2-3.9-1.4-4.5-1.7-4.5zM5.8 123l3.3 3.7 1.7 4.3-1.8 6.4-3.5 4.2-7.6 0-3.6-2-4.2-4.1-1.2-5.9 4-5.7 3.9-2 1-.3 5.8 .3zM171.1 67.3l3.6-.8 7.8 1.9 2.2 3.3-.1 7-1.3 3.2-3.6 3.3-5.6 2.3-4.3-2-3.1-5.8-.3-8.4 .4-1.2zM50.5 138.9l-5.3-1.2-2.6-3.9-2.1-5.1 1.9-4.7 3.7-4.2 5.7-1.2 5.6 2.9 1.5 1.7 1.9 9-.3 3.4-4 3.3zM50.7 164.7l-.6 4.5-3.9 6-3.5 .7-3.8 .3-7-4.3-.6-2.2 .4-5.7 3.9-5.1 4-1.2 5.5-.4 2.9 2.2zM14.1 209.1l1 1.9-.7 3-1.2 6.2-5.6 1.2-.1 0-6-.1-3.3-2-1-4.5-1.2-5.4 2.1-3.3 4.6-1.6 4.6-.6 1.7 .5zM96.8 41.6l4.4 .8 3.3 4.4 1 3.9-2.2 3.7-3.4 2.5-3.2 1.8-3.9-2.7-3.7-4.1 0-.2 .5-5.6 .6-1.3 3-2.8zM256.7 192l3.8-1.6 4.3 1.3 2.5 1 2.9 3.7 .2 1.8-.3 3-3 3.1-3.1 3.1-5.6-1.7-2-1.6-2.9-2.3 1-4.9 1-3.4zM77.9 173.3l4 3.6 1 3-.3 3.6-2.2 4.2-4.7 1.4-2.8-1.1-5.7-6 .1-.6 4.1-7.6 2.4-.8zM24.4 162.8l3.2 2.6 .8 3.2-.4 4-2 3-2.9 1.5-4.3-1.2-3.7-4.5-.3-1.7-.4-3.2 2.9-3.5zM281.9 91.5l2.2-.3 3.7 .9 1.7 2.6 1.1 3.8-1.9 3.7-1.8 1.8-6.6-.4-1.8-.8-1.8-4.2 .3-2.2 .9-3.9zM231 208l3.4 2.5 .8 4.4-1.8 3.8-4 1.6-4.6-1.8-2.8-3.2 .7-3.3 3.7-2.8zM35.3 265.7l2.5-.7 4.5 2.3 .4 5.1-1.8 2.5-.3 .4-3.3 1.6-4.2-1.4-2.4-3.2 1.3-3.6zM83.7 240.9l3.5 .1 3.1 2.7 1.5 4.6-2.2 2.2-4.7 2.5-3.9-1.8-1.6-3.7 1-3.4zM78.2 80.6l3.3-2.7 4 .3 2.2 2.2 1 3.4-2 4.6-3.3 1.2-4-1.5-.5-.5-1.7-3.6zM193.5 72.5l2.4 3.7-.9 3.9-2.5 1.4-4.2 .2-2.8-3.2-.3-1.2 0-3.1 1.1-2.1 4.4-1.7zM125.8 198.4l-3-2.9-.1-3.5 1.9-2.9 4-.9 2.6 .6 1.6 2.3-.1 3-.9 2.2-1.2 1.3-2.1 .7zM66.3 55.9l2.7 1 1.1 3.9-.4 2.9-3.3 1.5-3.2-.3-2.5-2.1-.1-3.9 1.8-2zM254 250l-2.1 3.1-3.7 .2-3-2.2-1.1-3.1 1.7-3.6 3.2-.6 3.2 1 1.8 2.3zM250.9 72.6l-2.7 1.8-2.8-.4-2.1-2.8-.5-4.1 2.2-2.1 3.6-.7 2.4 1.3 1.2 3.6zM279.6 82.1l2.8 .9 2.7 2.3 .3 3.1-2.4 2.1-1.5 .5-2.2 .6-2-1.8-1-1.4-.2-3.2 .3-1.3zM271.2 65.2l-2.7-1.1-1.7-3.2 2.3-3.5 1.8-1.4 3.1 .8 1.5 2.4 .3 3.4-2 2.2zM218.7 252.4l-1.1 2.7-1.8 1.5-3.2-.4-2.6-2.2 .2-2.7 .9-2.7 3.7-1.2 2.9 2.3zM18.8 154.9l2.2-.4 3.2 .5 1.7 3-.5 2.5-2.3 1.8-2.9 .1-2.3-.9-.6-3 .5-1.8zM11 201.2l2.5-1.4 1.7 .7 1.2 1.1 .9 1.7-.1 2.1-1.5 2.1-3-.5-.3-.2-1.8-1.7-.2-2.2zM116.6 144.7l-2.4 .3-1.8-2.6-.6-1.8 1.7-2.1 2.2-.6 3 .9 .5 2-.7 2.3zM51.7 99l.4 2.6-1.5 1.7-1.5 .7-.8 0-1.9-.6-1.3-1.5 .1-2.4 1.9-1.9 2.7 .1zM2 224.9l.6-1.8 2.4-.6 1.5 .2 1.6 1.8-.1 1.8-1.5 1.8-2.4 .3-.9-.9zM222.5 111.6l-2.4 .7-1.8-.8-.2-.4-.5-2.6 .7-1.3 2-1.2 2.2 .2 1.1 1.8-.2 1.6zM141.6 263.4l1-1.3 1.7-.8 2 .6 1 2-.5 1.7-1.8 1.2-1.9 0-1.1-1.4zM243.2 89l-1.3-1.3 0-2.1 .8-1.2 1.9-.4 1.5 .2 .8 1.8-.5 1.7-1.2 1.1z"/><path class="k1" d="M22.8 36l4.6-6.1 9.8-7.8 12.2-4.6 5.4 5.5 1.6 .8 9.3 14.2 .2 1.1-3 12.9-7.2 4.9-14.5 5.5-7.7-7.4-7.3-4.8zM55.4 169.7l-4.7-10.9-1.2-7.6 4-8.1 1.8-2.2 6.7-4.5 8.3 .1 .5 .1 8.1 2.9 6.1 8.7 .7 8.8-4 9.9-7.2 4.3-2.6 .7zM163.8 140.9l4.6-10.5 7.4-2.6 6.9-.4 4.2 3.4 5.9 6.3-.5 7.7-2.2 3.2-8.8 6.1-10-.6-3.5-2-1.5-2.1zM170 12.5l-.9-7.7 .1-6.5 4-5.8 8.3-3.4 9 1.8 3.6 6.8 1.6 4.1-.2 7.2-4.8 5.2-2.2 1.1-5.8 2.1-10-3.2zM253.9 63.6l-6.3-3.2-1.6-4.3-1.3-4.2 8.9-12 1.2-.9 6.4 1.1 2.4 1.2 5.8 6.9 .2 .6 1.2 4.8-6 9.6-8.4 1.2zM245.6 22.4l2.6-6.3 3.2-3.2 7-2.2 5.9 4.2 3.1 4.1 2 4.3-1 5.4-4.6 3.2-6.8 3.1-6.6-2.6-2.8-4.6zM115.1 254.8l-1-3.8-.1-2.3 .5-2.5 2-2.6 4.1-2.4 2.5-.6 6.6 .6 3 3.2 1.6 6.2-.8 4.1-1 1.7-5 5.2-3.5 .8-4.7-1.5zM265.4 -3.1l2.8-4 3.7-2 5.1 .5 5.5 1.8 1.9 5.1-.1 6.6-3.4 3.1-6 2.9-4.8-1.9-3.3-2.5-2.2-4.9zM33.4 257.1l2-4.3 4.1-4.9 3.8-.2 8.9 3.6 1.7 4.1-2.7 7.8-2 1.6-3.9 3.4-1.2-.5-6.6-3.4-2.6-2.1zM168 248.3l-.8 1.9-3.3 3.8-5.5 2.2-4-.2-4.2-2.7-.5-4.5-.7-4.3 1.3-2 3.1-3.5 4-1.1 4.3 1.4 5 1.3zM69.8 232.5l-2.8-4.2 .5-3.5 4.4-4.7 2.9-1.9 4.3 1 3.9 1.7 2.3 4.4 .5 5.7-1.7 2.6-5.3 3.6-3.5-1.4zM73.4 68l3.1 4.3-1.1 5.4-2.3 4-3.2 .9-6.6 .2-2.9-2.7-1.9-3.7 .5-5.2 2.2-4.3 9-1.2zM109.8 183.2l-1.8 5-3.5 1.7-2.5 .3-6.4-3.4-2-2.2-.2-4.8 1.1-3.7 4.3-2.1 4.6-.4 4.1 1.9 2.5 3.3zM75.2 211.2l2-4.9 .7-1 2.4-2.3 4.8-1.6 3.6 1.5 .9 1.3 3.1 6.7-1.3 3.4-3.7 4.3-3.6-.2-4-.9-3.5-2.2zM225.3 182.5l-5.1-1.7-1.3-2.2-2.3-4.7 1.4-3.9 .3-.3 3.3-2.7 3.8-.7 3.2 .8 .9 .5 3.1 2.8 .7 3.3 .2 3.3-1.3 2.1-3.6 2.4zM120.1 124.8l.7 1.9-1 5.8-2.8 2.9-1.2 1-4.4 1.1-.6-.2-5.2-4.6-.4-2-.3-4 5.6-6.2 .4-.3zM125.9 74.8l.6 .6 2.5 2.7 1.8 4.6-3 3.5-1.5 2.1-4.6 .4-4.5-1.1-1.9-2.7-.2-2.8 .3-1.9 1.8-2.7 2.5-2.5zM133.4 190.1l2.8-3.6 2.9-.1 4.4 .2 2.4 4 .8 3.1-1 2.2-2.1 3.6-.5 .3-4.3 .7-2.2-.4-2.4-2.8-.9-2.4zM115.3 67l1.2-3.5 4.3-1.9 2.9 .1 3.4 1.4 2.1 2.8 0 4.3 0 .1-1.8 2.5-2.1 1.5-6.3 .2-1.7-.8-1.4-4.2zM44.7 116.8l-1-1-2.5-4.1-.1-4.6 2.6-1.8 2.3-.9 4.5 .3 3.1 2 1.5 3.5-.5 2.7-3.1 3.2-2.4 .5zM173.4 233.7l-.6 1.9-2 3.2-3.6-.2-3.3-.1-2.2-3.5-.9-3 .4-2.5 2.9-3.3 3-1.6 3.4 1.2 2.4 2.5 .8 1.6zM247.5 217.7l3.2 .6 2.6 .6 1.7 2.6 .2 4-.5 3.1-3.2 2.9-3.8-.5-.6-.3-3.5-2.9-.2-.9-.6-2.3 .1-2.7 1.1-2.5zM242.9 199.5l1.9-.8 3.6-.4 2.7 1.2 1.2 4.1-.6 4.1-4.4 3.7-3.9-.9-3.1-3.9-1.2-3.6zM149.1 123.6l-1.4 2.7-2.5 2-1.7 .4-5.2-1.4-1.1-3.5 .7-4.3 3-2.7 4.4 .3 3.2 3zM261.5 64.2l2 .3 2.8 2.3-.4 4.4-2.6 3.3-3.6 1.7-3.4-2.9-1.8-3.1 1.3-3.4 2.1-2.1zM46.5 229.8l-.5-4.6 .8-2.8 3.3-2.6 5.1 .7 2.3 3.3-.9 3.9-2.2 3.2-4.2 .2zM269.5 109.8l-.3 4.3-3.7 2.5-3.9-1.2-3.1-2.5-.3-3.8 3.1-2.8 3.2-1.1 1.5 .3 2.8 2.6zM176.4 278.4l-.4-3.8 .6-1.4 1-1.7 2.7-1.7 3.2 1.4 2.9 3-.5 3.2-3.3 2.9-3.3 .6zM277.6 209.5l1.2 4-.6 3.3-.9 .8-5.3 .7-3.3-2.6-.1-3.6 1.9-2.4 3.9-1.6zM261.9 142.9l-.2-1.6 .8-2.9 3.6-1.2 3.3 0 2.7 3.4-.5 4-2.3 2.1-3.4 .6-2.7-1.5zM220.2 237.1l2.8 1.7 1.7 3.4-1.3 2.6-2.2 1.9-3.7-.4-2.3-2.2-.1-2.7 2.1-3.5zM71.1 187.3l.6 2.1-1.6 2.6-.2 .1-3.7 .9-2.9-1-.7-2.6 1.3-3.3 2.2-1.7 2.6 .1zM89.4 110.8l.6 2.9-2.2 2.4-3 .5-2.7-1.5-1-2.4 1.6-3 1.9-1.8 2.7 1zM40 120.2l-3.1-.5-2-1.1-.3-2.8 1.2-2.9 2.5-1.2 2.8 .9 1 1.6 .5 1.3-.6 2.3zM158.6 59.3l-.3-2.8 .6-2 3.1-1.4 2.5 .6 2 2.2-.1 3.2-2.4 1.7-3 .4-1.5-.9zM235.7 203l-3-.3-1.5-2.2-1-2.4 2.5-2.3 2.1-.7 .9 .3 2.5 1.8 .7 1.7-1 2.8zM54.8 70l-2.1-.7-1.5-2.6-.3-2.3 1.9-2.2 2.6-.4 2 1.7 1.4 3.1-1.2 1.8zM26.4 104.9l-.8-1.7 .3-3.1 2.1-1.3 2.5-.1 1.9 2.5 .3 1.6-1 2.8-2.6 .5zM39.3 82.9l-.7 2.6-2.5 .7-1.9 .2-.1 0-2.1-1.8-.1-3 .7-.8 2-1.4 1.4-.4 1.8 1.1 .9 1.6zM221.9 37.1l1.5-1 2.6-.7 1.9 1.3 .4 2.9-1.2 1.9-2.1 1.1-2.4-1.3-.8-1.6zM234.7 279.4l.4 2.2-1.1 2.1-2.3 .8-2.4-1.2-1.1-1.6 1-2.8 1.4-1.1 2.8-.2zM33 106.2l-.1-2.2 1.1-2.2 1.9-.1 2.4 .9 .9 2-.9 2.1-1.5 1.2-2.9 .3zM177.8 95.8l2-1.2 1.3 .1 1.5 1.2 .3 .4 .2 2.6-1.3 1.6-2.2 .5-1.3-1.2-1.3-1.9zM236.6 225l0-1.8 1.3-1.8 1.9-.1 2 1.7-.2 1.9-.5 1.3-1.9 .9-.4 0-1.8-.9zM77.6 114.7l-.6 2.2-1.4 .3-1.8-.3-1.4-1.2 .2-1.9 1.1-1.4 .2-.1 1.9 0 1.2 .7zM25.3 245.2l-1.4 0-1.9-.9 0-.1 0-2.4 .5-.9 1.7-.9 1.5 .5 1.1 1.6-.4 2zM124.3 235l0-1.3 1.5-1.4 2.2 0 1.2 1.3-.1 1.5-.9 1.8-1.5 .4-1.6-.7z"/><path class="k2" d="M-2 -11l5.7-5.3 9.8-4.7 16.1 .2 7 11.8 3 10.7 .9 8.4-12 9.7-6.5 2.5-17.4-2-6.7-9.3-4.3-7.4zM173.7 193.3l-3.7-.4-6.5-5.7-.4-.8-4.4-7 4.5-7.7 4.1-5.8 5.4-.4 8 .7 7 8.1 .8 2.7 0 1-2.7 10.4-2.9 2.4zM240.7 267.5l-.7 4-1.7 4.4-2.1 1-10.9 .7-.7-.3-3.2-6.9 .1-4.8 .6-5.3 12.2-3.1 3.9 1.5zM292.7 286.7l-2.1 2.2-6.2 2.8-4-.1-3.5-4.2-1.9-4.1 .1-5.5 3-3.7 6.8-1.8 4-.5 3.9 3.8 .9 4.8zM165.6 219.6l-1.5 4.7-4.5 2-5.9-.3-4.2-3.4-2.7-3.8 1.9-6.1 .8-3.6 5.5-2.1 4.9 1.2 4.9 2.5 .1 .3 .9 7.5zM252.2 105l-3.1-3.9-1.8-3.5 1.8-5.5 2.8-3.2 6.5-1.6 3.1 .5 3.6 3.9 2.1 4.1-2.9 7.1-1.6 1.2-3.6 1.7-2.9 .7zM221.2 46.8l-.6 4.4-1.2 3.8-2.2 3.5-4.8 .7-5.7-2.5-4-3.2 1-4.1 .8-4 3.6-3 4.5-.5 1.5 0 3.1 1.7zM145.2 21.5l4.4-2.4 4.6 .7 3.7 2.5 1.1 4.7 .2 4.5-2.2 2.3-6.3 3.6-2.9-.3-4.3-3.2-1.5-4.8-.1-4.5zM129.8 141.2l1.1 .6 4.1 4.1-.6 3.9-1 3.6-.2 .7-3.1 2.6-5.2 .6-.6-.1-3.3-1.2-2.2-2.8-2.3-4 .7-2.1 4.7-6.1zM60.4 21.4l2.8-2.1 3.9-.3 .5 0 4.1 1.4 1.1 3.7 .5 2.7-.5 4-3.4 1.4-3.9 1.1-2.4-.3-3.7-5.7-.7-2zM163.3 140l-1.6 .5-3.3-.4-1.5-.8-2.9-2-1.2-2.8 1.1-5.4 1.9-1.2 4.5-1.9 2.4 .8 3.6 3 .5 3-2.9 6.4zM285.3 261.3l1.3 3.2 .6 3.6-1.5 3.4-5.8 1.6-1.2-.4-3.3-1.3-1.5-4.1-.6-3.8 2.2-3.3 2.7-.3 3.2-.6zM222.3 141.1l-1.7-2.5-.8-2.7 0-4.1 1.6-2.1 3.9-1.1 3.7-.2 2.2 3 .8 2.1-.5 3.4-1.9 3.2-3.6 .7zM280.6 68.1l.8 4-1.2 4.1-4 1.5-4.6-.8-2.8-3.7 .1-4 3.2-3 1.9-.7 2.1-.8zM179 201.3l-1.4 4.6-4.9 1.4-3.2 0-3.5-4.7 0-.8 1.9-4.8 1.2-1.4 5.2 0 3.3 2.5zM122.3 235l-.8 4.1-4 3.1-3.9 .3-3.3-2.8-1.5-4.3 2.7-3.2 3.9-2 4 1.2zM107.9 46.1l-2.2-3.4 1.3-4.4 4.1-2.9 3 .2 4.2 3.3 .2 4.4-1.8 3.2-5.2 .7zM201.9 244.4l4.5 .5 3.2 3.8-.8 4.4-2.5 2.1-3.7 .6-3.6-2.5-1.4-3 1.5-3.8zM146.4 280.4l-3.3-1.6-1.7-3.1 1.7-3.7 2.8-2.5 3.1 .2 2.4 2.1 .2 4.2-1.4 2.2zM121.3 167.8l-2-2.2-1.6-3.3 1.6-4 2.8-1 4 .9 1.6 2.8-.6 3.8-2.1 3zM11.6 149.5l2.9-.4 3.1 1.6 .5 2.9-1.3 3.4-2.3 2.2-3.6-.9-2.2-3.5-.2-2.8zM101.8 126l-2.6-2.8-.5-3 2.2-3.4 3.4-1.3 2.1 1.7 2 3.5-.5 2-3 3.3zM158.3 73.7l2.8-1.9 2.9 .7 2 2.3 .1 3.2 0 1.1-2.3 2.4-2.7 .5-1.5-1-2.5-2.9-.3-.7zM30.1 87.2l-1.2 3.2-.1 .1-2.1 1.2-2.7-.3-2.1-1.9-.6-3.7 1.6-1.7 3-.3 3.1 .3zM234.6 160.7l2.4 .8 .8 3.5-.8 3.2-3 1.2-2.7-1.4-1.9-2 .7-2.3 2.1-2.6zM141.7 94.6l.6-.9 2.3-.2 2.5 .9 1.6 2.8-.9 2.7-2.2 1.2-2.8 .3-1.9-2.7-.5-1.8zM29.4 252.6l-1.8-1.6-1.8-2.5 1.1-3.1 2.1-1.3 2.5 .9 2.7 2-.5 2-1.3 2.1zM96.9 195.9l-2.6-.4-1.8-1.9 .2-2.8 0 0 1.4-2.2 2.2-.7 3.3 1.6 .9 1.6-1.2 2.8zM93.3 84.3l2.5 .2 .8 2.4 .6 2.7-2.8 2.1-2.4-.5-1.8-1.7-.3-1.7 .8-2.9zM206.4 64.1l-.1-2.3 2.6-2.2 1.9 .4 1.8 1.4 1 2.6-1.4 2.4-2.1 .5-2.6-.8zM143.5 254l1 2-.8 2.8-1.7 .4-2.4 .2-.7-.8-1.3-1.6 .6-2.3 1.2-1.4 2.3-1zM56 172.8l1.7-.4 2 1.8 .6 2.2-.9 1.6-1.8 1.3-2.8-1-1.4-2 .4-2zM267 15.1l-.9-2.5 1.1-1.6 1.8-1 2.7 .4 .8 1.5-.1 2.3-1.8 2-1.8-.1zM116 220.2l-.7-1.1-.3-3 2.1-1.1 2.6-.3 1.3 1.8 .2 2.4-1.6 1.7-2.3 .6zM19.3 71.8l-1.5-1.4 .3-2.1 1.5-1.3 1.2 .2 .6 .1 1.7 .9 .1 1.5-1 1.9-1.3 .8z"/><path class="k3" d="M12.1 128.5l6-4.6 .3-.1 13.9-.3 1 .2 4.9 5.6 3.1 7.1-2.7 9.2-5.7 4-8.6 4.8-13.8-9.3-1.9-4.1zM108 117l-1.4-6 2.8-6 4.9-5.3 .8-.6 5.5-1.8 8.6 1.3 4.2 3.6 1.5 10.3-3.1 7-1.1 2.6-9.7 2.6-8.3-4.2zM35.5 188.1l0 5.5-.9 6.7-5.8 5.4-6.7 .1-.2-.1-9.9-8.7-1.4-6.6 4.5-6.7 2.9-2.7 7.9-.3 2.2 .4 6.6 4.5zM287.1 125l-6.8 1-5.7-2.5-3.4-3.1 0-6.2 1.8-5 5.7-5.1 10.4 .5 .4 .2 3.9 5.9 2.1 6.8-4.3 6.5zM94.9 226.4l-2.7-6.2 1.7-7.2 .9-1 9.7-5.3 5 2 4.2 5 .6 1.4 1 8.9-.1 .3-5.3 4.3-5.5 2.5-4.1-1.2-.7-.3zM234.1 114.3l.3-.7 4.5-3.9 2.1-.7 4.8-1 6.9 1.5 1.6 5 1.2 7.2-2.1 6.1-5.7 2.6-1.7 .7-5.5-.7-4.5-2.2-2.5-3.8zM282.2 160.1l-2.1 7-2.4 2.3-4.3 2-1.6 .2-7.8-.9-2.1-4.2-.9-3-.8-3.8-.5-2.1 4.9-6.5 5.4-1.6 7.2 2.7 3 4zM29.6 273l1.6 4.2 1.2 5-3.7 5.3-4.4 1.8-5.1 .9-6-3.5-1.7-4.7 .6-5.5 1.3-5.6 6.8-2.6 4.2 1.4zM15.2 40.8l-4.4 .9-5-3.5-3.1-5.1 1.2-4.3 1.2-5.6 3.4-1.9 9.5 1.1 1.6 .6 4.7 5.5-.5 4.7-2.8 5zM274.4 13l1.7-2 4.5-2.2 3.2-.6 4.7 1.7 4.6 3.9-.2 4.5-.9 5.3-5 5.2-4.6 .8-4.8-2-4.4-3.5-1.2-6.8zM46.5 85.9l-4.6 .1-4-6.9-.2-1 .2-6 3.9-2.7 3.9-1.3 3.6 1.1 3.7 2.2 3.1 4-2.3 5-2.1 4zM63.3 195.1l.9-1.1 8.2-1.9 2.2 1.3 4.8 4.1 .4 4-.4 .7-3.6 5.1-1.3 1.3-4.9 .4-6-1.5-2.3-3 .5-5.2zM160.7 167.8l-4.1 .7-3.1-1-2.3-1.9-1.8-4.8-.2-1.2 .4-3 3.4-4.3 9.7 .8 2.2 4.2 .5 3.1-.7 4.9zM37.6 98.9l-1.6 1.6-2-.4-5.3-3.3-.3-.2 .1-4 .5-1.2 2.6-4.5 .4 0 6.5 .4 2.1 3.3 1.7 2.6-1.9 3zM143.8 216.2l.4 3.9-2 1.9-5.4 1.5-1.7-1-2.7-1.8-1.9-3.6 1.4-4 2.8-1.8 2.5-1.7 5 1.8 1.1 2.7zM196.4 67.1l-2 .1-3.9-2.2-1.5-3.6 1.5-2.2 2.1-3.6 2.4-1.1 3.5-.1 3 2.2 1.3 3.5-.6 2.7-1 2.4zM176.1 238.7l3.2 2.4 2 4-2.7 4-2.4 1.7-5.4-.7-1.7-3.3-.1-4.6 3.2-3.4zM200.5 277.2l2.3-3.6 4.7-.6 3.3 2.2 .6 4.9-1.1 2.9-3.7 2.4-4.5-.8-1.8-3.6zM277.2 102.3l-.6 3-3.3 2.8-.4 .3-3.2-.2-1.6-1.5-1.1-1.3-1.3-4.4 .4-1 1.2-2 4.7-1.3 3.6 .8 .1 .3zM154.2 151.5l-1.9-4 1.6-4.2 2.8-2.8 .9 .1 3.5 .3 1.9 2.9 1.5 4.8-2.9 3.3-1.9 .4-4.4-.4zM261.6 208l2.4 3-.9 4.2-2.7 2.2-4.1 .3-3.4-2.8-.4-3.6 2.6-3.9 3.2-1.2 1.4 .5zM266.4 84.1l3.7-1.8 3-.1 2.5 2.3 .2 4.9-2.4 3.2-3.2-.3-3.5-1.8-1.6-2.6zM178.2 164l-4.2 .7-2.3-2.4-1-3.6 1.4-3.2 2.7-1.3 3 .3 1.7 .6 1.4 3.4-.1 4.5zM140 89.2l2 2.9-.8 2.2-1.2 2.1-1.6 1.7-3.9-.4-2.8-2.9-.3-3 2.1-2.5 4.1-1zM146.1 204.3l-.4 3.1-1.8 1.5-3 1.4-.3-.1-2.2-1.9-.8-3.5 1-2.6 1.5-1.3 1-.2 2.7 .5zM4.9 168.2l-2.2-2.2-.2-3.4 1.1-2.7 3.3-.5 2.4 .7 2.4 2-.8 3-2 2.7zM85.4 17.6l1.7 2.5-.5 3-2 1.2-2.9 0-2.4-2.1-.3-2.2 1.5-2.3 2.7-1.7zM66.6 18.1l-2.7-.2-2.4-1-.4-3.4 1.1-2.7 2.2-.7 2.5 .7 1.9 2.4 .2 3zM85.4 137.5l2-.2 2.6 1.3 1.2 2.4-1.3 2.6-2.1 1.4-3.3-.7-1.2-2.2-.3-2.7zM223.3 46.8l3.1-1.2 2.2 .7 1.4 2.5-.1 2.1-1.3 1.9-2.9 1.1-2.2-1.8-1-2.1zM211.8 131.5l2.2 .6 1.9 2.5-1.2 2.6-2.4 1.7-2.2-.6-2.3-1.3 .2-3 1.3-2.5zM109.6 95.2l2.2 1.8 .1 2.1-.8 2.4-2.1 .4-2.2-.6-1.5-1.3 .3-2.5 1.9-1.8zM194.8 281l-2-1.4-.9-2.6 1.2-2.2 2.1-1 2.8 1 1.5 1.9-.3 1.9-1.4 2.2zM123.7 134.2l2.4-1.1 2.3 .4 1 2 0 2.7-1.4 1.3-2.5 .4-2.1-.8-.5-2.9zM189.4 233.1l-.2-2.1 .9-2.2 2-.6 2 .9 1.2 2-.3 2.2-1.9 1.5-1.9 .1-1.3-1zM87.7 153.7l.2-2.2 1.2-2 2.1-.3 1.5 1 1.2 1.9-.6 2.7-1.9 .8-1.9 .1zM91.7 256.8l-1.5 .8-1.9-.3-1.5-2.3-.4-1.9 1.2-.9 1.1-.6 1.6-.4 2.1 1.2 .6 1.8zM116.4 259.1l-.9 1.2-1.7 1.3-2.8-1-.4-1.6 .5-2.3 1.5-1.3 1.4-.2 1.4 1 1 1.5zM210.3 215.1l-2 .1-1.5-1.4-.7-1.7 1.3-2.1 2.1-.9 1.9 .9 1.2 2.3-.6 1.7z"/><path class="k4" d="M180 123.6l-1.3-12.7-.4-3.4 0-.3 7.7-8.9 14.2-8 12.6 5.2 2.4 3.5 3.2 16.2-1.9 10.3-11.7 7-8.5 2.4-9.7-5.4-2-1.5zM132 62.3l-7.5-3.9-5.4-4.8-.8-4.1 2-10 7-6.3 5.2-2.4 7.9 3 5.1 4.7 3.3 6.9-6.5 13.7-.2 .2zM107.1 88.4l-5-.2-2.9-1.2-5.4-6.8 1.6-4.7 3.7-4.1 5.6-2.1 5.9-.4 3 3.7 1.6 5.2-.2 .8-1.4 4.3-1.1 2.5-2.4 1.8zM151.5 168.5l5.1 4.2 1.2 3.2-2.2 5.8-2.8 3-4.8 3.4-6.6-2.6-2.9-2.1-.4-6.4 .2-1.5 1.7-5.8 2.1-1.7 6.5-.3zM97.1 173.6l-2.1-.7-5.1-4.5-2.3-5.5 2.8-3 2.3-3.2 4.9-3.4 5.4 .3 3.5 4.6 3.5 4.5-1.8 6.8-4 2.7-.5 .4zM154.7 95.6l-3.7 .2-6.2-3.6-.5-.7-3.7-4.4 .9-4.3 2.5-3.5 2.4-2.1 3.8-.7 3.4-.6 1.6 .7 5.6 6.7 .4 1.2 .7 3.1-4.2 5.1zM231.5 243.8l-1.4-6.4-.3-3.9 2.9-4.1 2-1.6 7.5-.2 .5 .2 5.6 4.6 .4 2.2-.4 5.3-.7 1.9-3.3 2.9-2.2 .6-4.7 .4zM71.2 117.4l.8 .3 4.5 2.7 1.8 3.9 .1 3.7-4.2 4.5-3.4 2.5-5.4-.4-3.8-1.3-2-9.2 .8-1.7 1.7-3.7 5-2zM141.9 61.6l4.6 2.7 1.4 5 .1 5.7-3.6 2.8-3.6 3.4-5.9-.8-2.5-2.4-3.2-4.7 1.2-6.1 2.6-2.9 3.6-2zM185.1 38.6l3.7-2.3 4.5 1.7 3.4 2.8 2.6 4.5-1.8 6.5-1 .8-7.5 3.9-5.3-2.2-2.3-2.6-1.5-4.6-.1-.4 1.7-3.6zM103.2 150l-4.5-.8-3.9-2-1.3-5 .1-5.3 3.9-3.2 4-2.3 2.1 .2 7.6 6.7 .2 .7-.3 5.7zM247.1 172.6l-1.5-2.8-2.2-2.5 3.1-5.4 1.6-1.8 5.8-1.6 3.7 0 1.8 2 2.4 7.5-.7 2.8-2.8 2-5.3 2.5zM192.7 270.9l-5.2-.4-3.3-1.4-3.2-4.5 .6-4.6 .7-3.7 5.6-1.9 3.3-.1 3.2 1.3 3.3 3.3-.6 5.2-.4 3.6zM268.1 119.3l1.9 3.1 0 4.4-.6 4.2-3.4 2.8-4.1-.6-3.3-.2-2.3-3.7-1.4-4 1.4-4.2 3.7-2.2 4.3-1zM111.7 16.2l.5-.4 3.4-.8 4 .6 3.7 1.4 1.4 3.9-.4 4.8-1.9 1.5-5.8 2.6-3.6-1.3-3.5-3.1-1.2-2.7 .2-.9zM277.7 146l-1.3-3.4-1-4.2 2.1-2.1 .8-1.1 3.3-2.4 2.6 .2 3.3 1.4 3.8 3.6 0 4.2-2.9 3.1-2.3 2.6-5.4 .7zM41 182.8l1.8-4.3 3-2 4.4-.5 1.5 .2 4.7 4.9 0 3.1-1.4 3.6-3.1 2.7-3.8-.1-3.4-1.4-3-1.8zM196.9 84.6l-.7-2.8 2.5-4.4 2.1-2 4.1-.7 3.2 2.8 3 3-.1 3.7-2.5 2.8-1.8 2.6-3.6-.6-4.8-.9zM21.9 252.1l3.6-1 2.7 2.4 2.4 3.3 .3 2.5-1.3 3.8-2.2 2.5-5-.6-2.7-1.2-1.8-3.5-1.2-2.9 2.2-3.3zM265.4 287.4l-3.4-.6-2.5-1.4-3-2.2 .3-3.2 1.1-4.6 2.8-1.7 2.6 .3 4.7 1.9 1.3 3.1 .5 2.6-1.9 2.9zM183.9 232.6l3.2-.2 5.3 4.1 .5 1.4-.2 3.1-1.5 3.7-3.5 1-3.3 .8-2.8-2-2.4-5.5-.1-.4zM232.5 90.2l1.6 2.3-.4 3.5-1 3-.9 .4-2.6 1-4 .8-2.6-2.5-1.9-1.7 0-5.3 1.5-2.4 3.3-1.3 .6 .1 5.2 1.4zM160.3 62.1l.4 .6-.6 4.6-3.7 2.5-4.6 .4-2.9-2.9-1-4.3 3.2-4.1 4.1-1.4 2.4 1.5zM59.4 256.3l3.1 2.5 .9 3.6-2.3 4.6-2.2 1.6-4-1.5-2.9-3.1 0-1.3 1.7-5.1 1.3-1.6zM236.1 155.3l-3.9 2.4-3.5-2-1.8-2.2-.2-3.4 2.9-3.5 3.7-1.2 3.3 2.9 1.1 3.3zM123.3 229.3l-3.1-2.4 0-4 3.1-3.2 3-.8 3.6 2.4 1 3.9-1 2.9-2.8 2.2zM83.9 194.2l-2.1-3.7 1.5-3.4 2.1-2.5 3.7 0 3.1 2.6 .2 2.2-.5 2.8-1.5 1.7-3.3 1.2zM242.3 12.5l2.3 3.4-.9 2.8-2.1 2.4-3.2 .2-2.6-2.6-.8-3.2 1.5-2.5 3.1-1.4zM150.9 124.9l-.4-3.5 1.7-2.6 3.1-.9 4.1 2.1 1.2 2.3-.5 2.6-2.8 1.7-.4 .2-3.5-.1zM133.9 256.6l3 .8 .9 .8 1.2 1.4 .8 2.6-2.7 2.6-2.1 .4-2.9-.9-2.1-2.8 1.6-3zM218.9 89l-2.3 2.4-3.1 0-2.5-1.9 0-3.5 1.3-2.6 2.2-.6 2.9 .5 1.2 2.8zM148.4 56.7l-1.2-2.4 .3-2.7 1.9-1.1 3.1-.1 1.8 1.9 .8 2.5-1.6 2.1-2.5 1.3zM199.3 74.3l-2.2-1.3-1.2-3 1-2.1 2.1-1.2 .5-.2 2.1 .4 2 1.2 .4 3.2-1.8 1.9zM25.9 98.2l-2.1 .7-1.7-.9-1.5-1.6 .8-2.6 1.4-1.2 2.2-.3 .9 .2 1.1 1 .9 2.3zM17.2 174.8l-.2 2.5-1.4 1.3-1.9-.3-2.2-1.4-.4-1.4 .6-2.4 2.3-.6 1.8 .5zM8.2 176.1l-2.7-.3-.7-1.6 0-1.9 .8-1.8 2.7 .1 1.2 .6 .8 2.1-.7 1.8zM192.8 250.3l-1.7-.5-.8-2.5 .8-1.7 1.6-.4 1.7 0 1.3 1.5 .1 1.8-1.5 1.7zM147.3 167.1l-1.8-1.1-.7-1-.1-2.3 1.5-1 1.5-.3 1.7 1 .2 .5 .2 1.4-.7 1.5z"/><path class="k5" d="M72.7 83.3l1.7 .5 6.8 7 0 .1 2.5 9.9-2.6 7.4-.3 .3-13.2 6.1-11.2-5.4-2.9-4.8-.9-7 2-9.3 4.1-4.6zM210.2 21.1l.1 5.5-3.7 3.1-5.2 1.7-5.9-.8-4.2-4.5-1-6 1.4-5.5 4-3.2 5.2-1 4.5 1 4.2 4.4zM256.2 137.9l4.1 2.8 2.5 5.6 .4 3.3-3.4 5.6-3 2.4-1.4 .1-6-.1-2.3-2.6-3.4-5.8-.4-3.4 6.4-7.2 2.1-1.6zM281.8 206.9l-5.3-1.6-4-4-.9-4.9 .2-3.9 2.8-4.3 5.1-1.6 6 .6 3.4 4.4 2.1 4.2-1 4.7-3.6 3.5zM229.7 37l-3.2-2.5-1.1-4.5-.7-4.4 2.8-1.9 4.7-2.8 3.5 1 3.4 2.4 2.7 3.5-.8 4-3.3 4.8-4.1 .9zM255.4 266.4l-2.5 3.6-1.3 .4-7.4 .1-2.5-1.9-1.8-6 1-3.4 2.5-2.4 4.1-1.5 2.6 0 3.6 2.8 2.1 4zM159.5 49.1l-5.3 .2-2.4-3.1-1.3-3.2 .3-3.5 2.3-2.5 4.1-2.7 .6-.3 3 .9 3.5 2 1.8 4.6-1.5 3.6-1.6 2.8zM44.2 247.4l-.3-.2-1.1-5.1 .7-3.1 1.9-2.3 4.8-1.6 3.9 1.6 2.6 1.1 1.1 4.7-1.6 4.3-2.9 2.3-2.9 .8-.5-.1zM233.1 122.5l-3.5 2.9-3.8 1.1-3.5-1.8-2.5-3.4 0-3 1.2-3.1 2.9-2.9 3-1.4 3.6 1.8 3 2.3zM7.3 80.5l-2.9 1.2-4.2-1-1.9-3.6-1-2.6 .7-3.3 2.5-3.3 4.3-.8 3.6 1.2 2.4 2 .4 3.3 .3 4.7zM233.1 49l5.1 .7 3 2.7 1.3 2.4-.2 4.4-1.9 3.6-4.4 1.7-3.9-.5-1.7-2.4-2.9-3.6 .4-2.7 3.8-4.8zM242.6 273.5l2.5-2.5 4.5 0 2.5 1.4 2.5 2.3 0 3.8-1.1 3.2-3.9 2.7-2.2-.1-4.1-2.3-2.9-2.7-.2-2.4zM113.6 212.3l-1.8-2.4 .6-4 1.3-2.8 2.3-2 3.7-.3 2.6 1.3 2.5 2.3-.1 4.9-1.2 3.5-2.2 1.2-3.7-.2-.8-.2zM14.7 62.9l-.7-3.3 2.3-3.1 2.9-2.4 3 0 3.5 .8 2.2 4 .4 3.6-1 2.7-4.2 1.6-6.2-.5zM249.2 138.3l-.7 .9-3.2 3.5-3.3 1.6-4.2-1.6-2.7-3.6 1-4 3.8-2.7 3.4-.5 4.6 2.6zM11.3 224.3l2.6-3.5 3.9-1.8 3.3 .5 2 4.2 .3 4.7-3.8 3.2-4.1-1.4-.5-.2-2.9-1.6zM225.4 204.1l-4.6 .7-4.3-1.4-.9-3.4 .6-3.2 1.7-2.4 2.4-.7 2.1-.2 3.2 1.5 1.2 1.1 .4 4.7zM45 200.7l-3.7 .6-3.6-4 .3-3.1 2-4.1 3.8-.7 .5 .2 3.2 2 1.2 3.4-.1 .8-1 3.3zM134.5 106l2.4-2.6 3.8-.1 2.3 1.6 1 2.9-1 4.4-3.2 1.4-3.7-1.1-.8-1.1zM91.9 260.7l-.1-2.8 2.1-4.2 3.3-.9 3.6 1.1 1.2 3.5-1.1 3.3-2.1 2.2-3.1-.2zM-3.5 198.9l1.5-3.9 2.2-2.1 3.3-.5 3 2.1 .6 3.5-2.2 3.4-2.7 1.7-3.7-1.8zM240.3 42.5l1.9-3.1 2.5-1.2 4.3 1.3 1.2 3.4-.1 .9-2.4 3.2-1.4 .5-3.6 .6-2.4-2.9 0-2.4zM226.6 258.6l-3-1.5-1.3-3.8 .6-2.8 3.3-1.4 3.2-.2 2.1 2.6 .5 3.4-1.5 2.7zM-4.2 61.9l.6-3.9 2.4-1.7 3.2-.5 1.5 .6 1.2 1 .7 3.4-1.3 2.8-3 1.8-2.6-.8zM113.4 67l-4.1 1.4-3.1-1.4-1.5-3 0-2.8 2.6-2.9 3.6-.2 2.8 3.2 .5 3.1zM277.6 134l-2.9 1.3-2.4-2-1.8-3.2 2.2-3.4 1.9-1.4 3.7 .5 1.5 2.5 .1 3.8zM249.4 82.1l1.2-2.8 2.9-1.6 2.8 1.9 1.7 2.8-.8 2.8-2.2 2.2-3.5-.9-1.8-1.5zM62.7 212.4l1.7-2.7 1.7-1 1.6 .4 1.9 1.2 1.7 1.5-.3 3-2.2 2.2-3.5 .2-2.2-2.1zM123.3 36.1l-2 .6-2.8-.6-1.1-2.5 0-3.4 .7-.5 2-.9 2-.1 2.7 1.8 .3 2.6-.5 1.7zM19.8 84.9l-2.5 2.1-2.4-.2-2.8-1.6-.5-2.7 1.2-2.8 3.2-.9 2.4 1.1 1.2 2zM91.9 179.8l-1.9 1.5-2.3 .9-2-.9-1.7-3 1-2 2.1-2.1 2.7 .5 1.9 1.8zM239.6 91.4l2.4-.6 2.1 1.4 1.8 2.7-1.1 2.1-2.4 1.4-2.8-.1-1.2-1.8-.1-3zM259 181.3l-2.2-.7-1-.8-.8-1.4-.2-1.4 1.5-2 2-1.2 2.1 1 1.3 2.5-.8 2.1zM233.1 42.2l1.4-2.1 1.7-.3 2.1 .6 .9 2-.4 2.1-1.3 1.2-2.2 .3-1.5-1.5zM22.3 77.3l-.9 1.2-2.3 .7-1.5-1-.7-1.9 .8-2.1 2.2-1.1 1.4 .3 1.6 1.6zM76.4 34.9l-1.6-.6-1-2 .4-1.8 1.6-1.1 1.6 .2 1.8 1.8-.2 1.4-.8 1.7zM33.6 158l.1 2-.8 1.5 0 0-1.6 1.1-1.2-.7-1.2-1.4 .1-1.7 1.4-1.3 1.9-.4z"/><path class="k6" d="M192 199.4l-3.4-5-1.7-6.2 .2-2.2 2.7-10.6 4.4-6.2 3.1-.3 17 3.7 4.8 8.6 1.3 3.2-.8 4.3-.8 3.5-6.3 8.8-5.9 2.2-6.1 .5zM92.4 263.1l.8 4.1-.2 9.1-2.9 9.7-10.3 3.2-9.8-2.6-6-1.9-3.3-10.2-.7-4 6.9-13.6 6-1.2 9-.4zM194.5 151.9l2-6.7 4.8-5.6 17.6 1.2 5.8 8.2 2.5 12.7 0 .1-12.8 10.3-16.1-3.5-3.7-2.7zM175.6 112.2l-3.3 4.3-6.9 3.4-5.4-.2-7-3.5-3-5-1.7-6.8 6.2-5.7 4.5-5 6.7 1.9 7.7 3.2 1.5 6.2zM244.4 76.1l-.1 3.6-6.1 8.6-2.1 .9-2.4 .4-11.4-3.1-3.1-5.2-.5-5 3.5-5.7 5.5-5.1 6.5 .4 5.3 2.3 1.2 .8zM221.7 226.1l-2.4 5.3-4.9 6.1-4.3 2.2-5.5-.2-5.6-5.9-1.5-4.5 .2-7.4 2.1-2.4 2.1-1.2 3.7-2.1 8.6 .2 4.7 2.8zM88.3 54.7l-1.1 2.3-6.8 2.8-5.6-1.2-5.6-1.7-3.5-6.1 .8-7 3.7-5.3 3.1-1.6 9.7-1.1 4 3.3 2.4 3.9zM136.2 244.9l-5.4-5.3 .8-4.4-.2-7.9 4.4-3 1.6-.4 5.4-1.3 4.9 .1 5.7 4.9 1.4 5-1.4 5.5-3.2 3.7-1.9 1.5-4.2 1.2zM92.5 20.6l4.5-1.4 7.4 2.2 2.7 3.7 2.5 6-2.9 5.7-3.9 3.8-2.1 .4-7.4-.5-1-.4-5.1-4.3 .9-4.4 1.1-7.6zM180.8 17.3l3.6 3.4 2.5 5-1.7 6.3-4.8 4.7-6.4 1.1-4.3-1.7-4.1-6.6-1.3-3.3 2.4-7.3 4-2 3.6-1.7zM120.6 276.1l2.6-5.4 2.5-2.4 5.5-1.2 4.5 2.2 1.8 5 1 3.6-1.6 5.2-4.8 2.5-3.8 0-5.2-1.9-2.1-4.1zM83.6 76.1l-3.4-2.2-2.3-5.2 .9-3.8 4.6-3.3 3.2-1 3.8 .5 3.7 3 .7 4.9-1.2 4-2.7 2.6-2.8 1.8zM212.4 271.1l-4.2-.1-4.3-1.1-2.2-2.2-1.8-4.2 2.6-4.8 1.4-1.5 3.8-1.5 2 .2 .3 .1 3.4 1.6 2 2.9 1.2 3.4-.5 3.7zM50.9 283.6l-1.7 2.5-3.5 .1-3.4-1-2.6-3.3-.5-2.9 .5-1.9 3.8-4.3 2.8 0 3.2 1.1 2.6 2.5 1.2 4.1zM132.4 135.4l.5-3.4 1.8-2 3.9-1.6 .7-.3 4.1 1.1 1.1 1 1.8 4.4-.7 1.6-2.2 3.7-1.9 1.2-4.4-.6-2.2-1.5zM207.8 39.2l-2.5-2.1 .9-3.8 .6-2.7 2.6-2.1 4.7-.3 2.4 1.1 2.8 3.8-.9 2.5-1.2 3.5-2 2.2-5.1 0zM118.6 173l3.2 .7 2.2 2.5 .8 3.4-1.7 3.2-2.5 2.1-2.1 1.7-4.2-2.6-1.7-1.8-1.6-3.2 1.7-4 2-1.6zM141.5 149.4l2.5 1.4 2.3 2.8 1 2.6-1.6 4.1-2.7 2.1-4.4 .1-2.3-2-1.9-3.3-.4-2.1 .2-2 .8-1.7 3.2-2zM92.9 98.7l3.6-1.4 3.7 .4 2.5 3.6-.1 4.1-2.8 4-3.5 .1-4.2-1.5-2-4.2zM62.6 243.7l3.6-4.3 3.9-1 3.9 2.8 1.1 4.4-1.9 3.8-3 1.4-4.9-.4-2-2.7zM38.7 237.7l-4.2 1.4-3.6-1.7-1.6-3.8 .1-4.3 3.1-2.7 3.9 .3 3 2.1 2.1 3.7zM113.2 245.7l-.7 4.5-3.2 3.3-5-.2-3.4-3.4 .1-4.3 1.8-2.9 3.4-1.7 4.7 1.4zM101.2 241.8l-4.2 .7-2.7-2.6-1.5-3.2 2.2-3.8 2.9-1.5 4.3 1 2.2 2.7 .2 4.2zM193.4 168.7l-3 3-3.9-.3-2.4-2.8-.8-2.8 1.9-3.6 4-1 3.5 .4 2.2 3.1zM264 273.7l-1.7-3.3 1.1-2.9 3.1-3 3 1 3 2.6 .4 3.5-2.7 2.9-3 .5zM109.6 147.1l3.3 1.8 1.3 2.8-1 3.2-2.2 1.9-3.6-.7-2.6-2.1 .3-2.8 1.5-2.8 .7-.5zM131.3 198l2.6 1.7 2.3 2.6-1.1 3.6-3 1.5-3.7-.1-2.9-3 .6-3.3 1.8-2zM51.6 203.2l3.1-1 3.1 .6 2 3.5-.6 2.8-2.3 2.3-3.7 .8-2.8-2.7-1.1-2.3zM117.1 95.2l-2.7 1.1-3.6-2-1.2-2.9 1.3-2.5 2.7-2.5 3 1.4 1.8 1.7 .8 3.6zM219.9 61.6l2.5 2 .6 3.2-1.6 2.2-2.6 1.6-3-1-2.1-3.7 1.4-2.7 1.6-2.3zM137.2 21.1l-.9-3.5 1.4-2.4 2.5-1.3 3.1 .7 1.9 2.7-.3 2.3-1.7 2.1-2.7 .8zM110.8 15.3l-.6 2.4-.8 1.5-1.9 .9-2.7 .1-2.7-1.9 .4-3.1 1-2.8 3.1-.1 1.9 .8zM37 180.8l-2.8 .9-2.9-.3-1.7-2.4 .2-2.1 2.3-2.1 1.9-.4 2.2 .8 .5 .3 .7 2.6zM218.6 278.1l-2.2 0-2.1-1.9-.6-3.4 2-1.8 1.8-.4 2.9 .5 1.1 2.2-.6 2.7zM-1 153.2l1.9-1.5 2.7-.3 1.9 1.9 .9 2.3-1.4 2.4-2.7 .6-2.1-.9-1.3-2zM149.9 127.6l2.2 1.6 .5 1.9-1.6 2.2-2.4 1.3-2.2-1.1-.5-1.3-.2-.7 0-2.5 2.5-1.9zM-2.5 118.8l1-2.2 2-1.5 1.9 .3 1.5 1.3 .7 2.1-1.8 2.3-1.1 .1-1.6-.1-1.1-.6zM47.1 97.1l-1.3-.8-.1-2.3 .7-1.8 1.4-1.2 2.3 .4 1.1 1.9-.1 2.4-1.1 1.4zM132.2 11l1.7 .8 .4 2.4-.3 1.5-1.6 1.1-2.3-.2-1.3-1.4 .3-2.4 1.2-1.1zM123.4 90.9l1.6-.6 2 1.2 .2 1.7-.4 1.9-1.5 .7-1.8 0-1.3-1.8-.4-1.8zM245 211.8l2.1 .3 1.4 1.4 0 1.4-1.1 1.6-2.2 .7-1.2-1-.9-1.5 .4-1.7z"/><path class="k7" d="M253.1 238.7l3.8-15.3 4.1-3.1 23.9-3.2 2.9 1.3 8.7 7.9 5.6 11.1-6.5 10.8-8.6 8.3-3.4 1.3-9.6 1.1-8.4-1.3-10.4-9.4zM232.9 -6l-.5 6.8-3.9 8.1-3.5 6.6-9.8 0-3.5-.1-11.2-8.5-.4-.6 .1-10 3.9-5.9 3.6-6.4 11.1-.2 6.8 2.2zM173.2 277.9l-5.3 2.7-6.1 .1-6-6.4-2.9-4.8-1.1-5.6 5.4-6.7 10.3-4 3.3 1.1 5.5 4 1.8 5.5 .4 5.2zM165.2 202.3l-3.5 1.3-3 .2-5.7-1.6-.4-4-.8-3.3 2.4-4.1 3.9-2.7 4.3-.5 3.3 2.5 2.1 3.5 .2 1.7zM268.4 34.6l3.5-2.2 4.8 0 2.1 2.9 1.7 2.9-.3 4.4-2.4 3.2-4.3 1.6-3.7 .4-4.5-5.3-.3-.8 .7-3.9zM11.2 54.9l-3.5 2.2-.8 .2-8.2-3.5-.6-.7-.3-5.7 1.3-2.5 4.7-3 3.5-.4 3.2 2.1 2.8 3.2-.2 3.4zM-3.9 277.9l2-3.3 2.1-2.5 3-.4 4.2 .4 2.4 2.8-.2 3.5-.7 2.7-2.3 3.1-4 1.5-2.2-1.4-3.2-2.2zM28.8 122.2l-4.7 .9-2.8-.2-3.4-2.4-1.4-2.2 .9-3.6 3.5-4 1.6-.6 3.4 .7 3.1 2.2 1.6 1.8-.3 5zM124.5 173l1.5-4.1 2.8-2.4 3.5-1.7 3.2 .9 1.8 3.3 .7 2.9 .1 2.1-.6 1.9-2.1 1.8-3.6 1.9-2.6-1.1-3.2-2zM272.5 175.3l2.2-3.6 3.5-1.5 2.8 1.6 2.4 1.6 1.4 3.7 .1 2.5-2.2 2.6-3.5 1.4-2.5 .2-3.4-2.2-1.2-4.7zM82.9 121.6l3.6-1.2 3.3 1.2 1.7 2 1.4 2.1 0 3.4-2 2.6-3.8 1.5-2.9-.3-3.4-1.8-.8-3.1-.2-2.6zM179.7 93l-.1-4.3 2.3-3.2 4.5-1.4 4.5 1.8 .7 3.5-.9 4.6-1.4 1.8-1.9 1-2.5 .1zM29.4 68.8l3.5 .1 2.8 3.1 .2 4.4-1 2.1-2.7 1.8-2.3 .2-5.1-1.3-.5-4 .5-4.9zM106.4 198.1l-1.3-3.4 2.6-3.7 3.4-2.1 4.4 1 1.5 4.5 0 3.6-2.7 2.9-4.4 .5zM7.1 180.2l-1.2 5-4.1 2.5-3.6-.2-3.7-2.4 .4-5 1.3-2.8 3.9-1.9 4.2 1.4zM177 214.7l-.4 3.2-2.9 3.2-4.6-.3-2.8-2.3-.6-5.2 1.8-2.7 3.2-1.6 4.2 1.5zM178.1 46.3l1.8 2.7 .4 1.2-1 3.7-1.4 2-2.3 1.2-3.9 0-3.2-2.9-.8-3.8 2.4-3 4.5-2.3zM236.1 101.4l2.4 3.7-.4 3.4-2.8 2.9-3.3 1-3.9-2.7-.5-3.5 .6-4 2-1.3 1.7-.9zM96.5 210.5l-3.9-1.4-1.2-2.7 .1-3.7 2.4-3.4 4.2-.1 2.9 2.8 .7 3.9-1.4 2.5zM281.7 56.6l-4.1 .8-3.2-.7-1.6-2.8 1.2-4.1 2-2.3 .9-.4 2.1 .5 3 1.6 1.3 3.9zM178.1 56.5l.9-.1 3.6 1.3 2.2 3.2-.9 3.9-2.7 1.9-4.2-.8-2.1-2.6-.7-3.5 1.5-2.1zM268.3 174.6l2.7 2.2 .8 1.2 .5 2.1 0 2.4-3.4 2-3.4-.1-2.5-1.8-.3-3.5 1.4-2.6zM188.1 223.4l.1 3.5-1.2 2.7-3.8 1.5-1.3-.7-1.9-1.6-.8-2-.1-3.8 2.9-1.1 2.9-.8 .1 .1zM68.7 177.7l-1.8 1.5-3.5 .4-2.2-1.8-.3-2.8 1.6-2.8 1.1-.9 4 .6 1.9 2.5-.6 3zM188.2 160.2l-2.1-.2-2.6-2.8 .2-2.5 2.1-2.8 3.1-.6 2.7 2.1 .9 2.5-1.7 2.8zM49.3 194.5l1.2-1.3 3.5 0 1.7 1.2 1.8 3-1.4 3-2.3 1.2-3.5-1.3-1.6-1.9zM176.7 236.8l-2-2-.7-1.5 .1-1.4 1-2 2.2-1.7 2.7 1.4 2.4 1.9-.7 3-1.4 1.8-.8 .8zM229.4 188.6l.4 2.3-1.6 3.1-2.5 0-1.8-.4-1.7-.8-1-2.5 1.1-2.8 2.4-1.9 2.8 .9zM173.6 127.9l-3 .3-1.5-1.7-1.1-2 1.4-3.2 1.8-.9 2.6 1.4 1.4 1.9-.2 1.9zM58.5 118.4l-2.3-1.9 .2-2.1 .9-2 2.9-.8 .2 .2 1.3 .6 1.6 2.2-.5 2.5-2.2 1zM129.1 126.3l.6 2 0 2.1-2.3 1.6-2.5-.5-1.6-1.6-.4-2.4 1.6-2 2.9-.7zM116 164.3l.9 1.5 .6 2.2-1.5 1.8-2.8 .5-2.1-1.1-.7-2 1.2-2.5 1.7-1zM248.5 32.4l1.4 1.2 .6 2.6-.9 1.6-2.2 .7-2.1-.6-1.3-1.9 .7-2.3 1-1.4z"/></g>
<g id="gr2c"><path class="k0" d="M-11.8 114l2.8-19.7 5.1-19.6 7-19.7 8.9-19.7 10.6-19.6 12.5-19.7 32.7 0-11.8 19.7-10 19.6-8.2 19.7-6.4 19.7-4.6 19.6-2.4 19.7-4.4 2.8-8.5 2.7-12.2-.3-7.4-2.7zM101.7 88.3l4.3-15.4 5.3-15.3 6.5-15.4 7.6-15.4 8.7-15.4 9.8-15.4 34.5 0-9.4 15.4-8.4 15.4-7.2 15.4-6 15.4-5 15.3-3.8 15.4-4.5 2.8-8.7 2.7-12.4-.3-7.6-2.7zM157.5 108.1l3.6-18.7 5.1-18.7 6.8-18.7 8.3-18.6 9.8-18.7 11.5-18.7 29.6 0-10.5 18.7-9 18.7-7.5 18.6-5.9 18.7-4.4 18.7-2.8 18.7-4.2 2.8-8.2 2.7-11.6-.3-7.1-2.7z"/><path class="k1" d="M-83.9 79.3l4.2-13.8 5.1-13.9 6.2-13.9 7.2-13.9 8.1-13.9 9.2-13.9 42.9 0-9 13.9-8 13.9-7 13.9-6.1 13.9-5.1 13.9-4.1 13.8-5.3 2.8-10.2 2.7-14.8-.3-8.9-2.7zM25.4 107.7l3.1-18.6 4.8-18.6 6.3-18.6 8-18.7 9.6-18.6 11.3-18.6 5 0-10.6 18.6-9.1 18.6-7.5 18.7-5.9 18.6-4.5 18.6-2.9 18.6-1 2.8-1.9 2.7-2.2-.3-1.7-2.7zM35.6 94.5l3.5-16.5 4.6-16.4 5.8-16.4 7.1-16.4 8.2-16.4 9.4-16.4 22.2 0-10.5 16.4-9.1 16.4-7.9 16.4-6.5 16.4-5.2 16.4-3.8 16.5-2.3 2.8-4.2 2.7-5.7-.3-3.7-2.7zM53.7 96.3l3.8-16.7 5.2-16.7 6.5-16.7 7.9-16.8 9.3-16.7 10.7-16.7 46.1 0-10.6 16.7-9.3 16.7-8 16.8-6.7 16.7-5.3 16.7-4.1 16.7-5.6 2.8-10.6 2.7-15.5-.3-9.2-2.7z"/><path class="k5" d="M-42.7 93.5l3.7-16.3 5.1-16.2 6.4-16.3 7.7-16.2 9.1-16.3 10.4-16.2 34.7 0-10.4 16.2-9.2 16.3-8 16.2-6.7 16.3-5.4 16.2-4.2 16.3-4.1 2.8-7.8 2.7-11.2-.3-6.8-2.7zM138.9 90.3l3.7-15.7 5-15.7 6.1-15.7 7.3-15.8 8.5-15.7 9.6-15.7 22.8 0-9.8 15.7-8.6 15.7-7.5 15.8-6.4 15.7-5.3 15.7-4.2 15.7-2.6 2.8-5.1 2.7-6.9-.3-4.4-2.7z"/><path class="k6" d="M255.6 96.2l3.8-16.7 5-16.7 6.4-16.7 7.6-16.7 8.9-16.7 10.2-16.7 58.8 0-11 16.7-9.5 16.7-8.1 16.7-6.7 16.7-5.2 16.7-3.8 16.7-6.8 2.8-13.1 2.7-19.3-.3-11.4-2.7z"/><path class="k7" d="M195.6 89.5l3.6-15.6 4.6-15.6 5.7-15.6 6.7-15.5 7.8-15.6 8.9-15.6 63.9 0-9.6 15.6-8.4 15.6-7.3 15.5-6.2 15.6-5.1 15.6-3.9 15.6-7.4 2.8-14.1 2.7-20.8-.3-12.2-2.7z"/></g>
<g id="gr2e"><path class="k0" d="M123.3 194.6l-11-.8-5.2-1.5-17.2-19 1.2-7.5 12.8-21.3 3.2-1.4 4.6-1.3 14.6 1.5 10 3.8 8.3 16.6 .9 6.3-1.8 11.3zM.1 190l-.8-12.1 12.7-14.8 17.3-2.4 12.7 9.8 3.1 8.1-2.2 17.4-1.7 2.8-4.1 2.7-10.6 5.7-11.2-.5-.2-.2zM12.7 241.6l-12.8-.7-6.5-3.9-3.9-7.6-1.8-8.5 6.3-8.9 7.7-6.3 11.5 1.7 7.7 6.4 3.1 6.6 .7 9.1zM265.6 206.8l.1 1.2-1.7 5.8-1.9 2.5-6.9 1.6-4.7-1.7-2.1-3.4-1.3-4.2 .1-5 4-3.3 .3-.2 10.1-.7zM151.9 219.6l-.3-5.5 4.7-6.5 4.8-.5 2.5 .9 3.6 9.7-.7 1.4-2.7 2.9-5.7 2.2-2.6-1.2zM269.3 193.4l.9-.2 2.7 .3 3.3 3.6 1.3 3.8-.9 2.1-2.8 3.6-2.7 .7-4.5 0 0-.1-3.4-6.2 .3-2.9zM48.5 245.8l2-3.1 4.6-2.5 2.8 .4 3.3 2 1.7 4.7-.3 2.5-2.7 2.9-2.5 1.1-4.1 .6-2.7-2.8-1.3-3.5zM223.3 238.6l-3.4 .5-2.9-2.9-1.8-2.2 .5-3.8 1.9-3.2 2.5-.8 3.4-.5 1.1 .8 2.2 1.8 1.3 2.3-.3 4.4-.8 2.3zM137 100.2l1.9-2.9 2.9-.2 3.8 .6 1.5 4.2-.9 4-2.7 1.6-4.4-.5-2.5-2.1zM117.4 249.8l-3 2.9-3.2-.4-3.1-2.7-.3-1.9 .3-2.8 1.5-1.9 3.2-1 4 1.1 1 2.5zM172.9 238.4l-.8-3.9 .7-3 3.1-2.1 3.5 .3 3.5 3.2-.7 3.6-1.6 2.3-3.7 1.6zM151.5 156.5l-2.9 1.8-4.3-.3-2.6-2.1-.3-3.7 2.5-3.4 3.9-.6 2.8 1.8 1.9 3.1zM180.9 164.4l2.2-.8 3.6 .5 2.1 3.1-.6 2.7-2.4 2.8-2.9 .1-3.5-2-.3-3.5zM171.6 104.9l2.8 .3 1.8 2.7-.5 3.3-2 2.6-3.8 .3-2.5-2.5-.4-2 1.4-4zM127.6 99.8l2.9 2 .4 3.2-2.4 2.9-2.3 .4-3.2-.7-.4-.1-1.3-3.4 1.4-3.2 1.7-1.4z"/><path class="k1" d="M30.1 292.3l-6.4 11.5-11.3 5.4-15.5 .2-10-6-11.1-11 0-12.5 11.8-15.6 6.5-5 2.9-.4 17.7 .3 13.2 13.3zM237.5 141l-2.1-3.1 .5-18.3 2.1-4.2 9.8-7.4 6-2.4 15.3 2.4 13.6 16-.1 5.9-9.1 16.6-12.3 5.2-9.6 .8zM254.8 264.9l-3.5 .5-16.1-4.9-4.9-19.3 3.7-6 9.2-5.4 8.2 .7 9.9 5.2 2.4 2.8 2.6 12.2zM134 247.3l3.5 3.6 4.3 16-.3 2-1.1 2.7-8.6 9.2-1.3 .8-6.5-1.4-10-6.5-3.4-12.5 .3-3.3 1.4-2 10.1-8.1 .3-.1zM65.1 119.2l-5.6-2.7-6.1-13.9 2.9-6.1 5.1-5 10.7-1.2 .7 .3 10 11.6 .4 6.6-1.8 4.9-7 6.4zM14.2 106l7.1 2.7 7.3 4.2 1.3 9.4-.9 4.2-5.6 7.8-8.6 2-13.1-9.7-.8-5.1 1.2-6.3 7.3-6.2zM20.9 264.4l-2.2-3.7 .1-8.8 4.1-4.6 4.4-3.9 8.1 .2 4.9 3.9 5.5 7.3-.9 4.9-8.6 9.3-.9 .6-8.7-1.1-4-2.3zM254.9 94.1l2.3-4.4 4.3-1.7 5 .9 3.3 2.1 2.8 6.1-1.6 4.9-3.5 3.4-2.9 1.2-6.4-1.1-2.5-2.5-2.6-3.9zM194.7 252.5l.5 .2 3.8 6.9-.3 2-2.4 3.4-5 2.1-3.7-1.1-3.4-3-.5-1.9-.3-4.6 2.6-2.8 3.7-1.8zM260.3 217.5l4.2 .9 2.8 2.8 .6 4.4-.9 3.8-1.6 2.8-4.9 1.3-2-.1-3.8-2.1-.7-.4-1.9-5.2 .4-3.3 2.9-3.8zM241.7 102.9l-1.4-2.2-.1-3.7 0-.7 3.6-2.2 4.2 0 3.2 2.2-.2 4.3-1.3 2.5-4 2zM82.6 250.1l.2 3.7-1.7 3.5-4 .7-3.6-2-1.4-2.9 .6-3.1 4.2-3.1 .1 0 3 .4zM4.4 170.8l-.7 .3-3.4-.5-2.3-3 .5-4.2 1.7-2 4-.8 3.4 2.3 .7 3.4zM93.6 193.9l-3.1-2.8 .1-3.1 1.9-3.3 3.4-.5 2.7 1.4 1.4 2.7-.7 2.9-3.1 2.8zM128.7 132.5l2.4-.1 2.2 1.6 1 2.5-1.3 3-1.9 .8-3.5-.6-1.4-2.3-.1-2.3zM275.5 88.7l-2.4 1.3-2.9-1.2-1.5-1.7 .6-3.3 2.3-1.5 2 0 2.2 1.8 .4 2.7zM45.2 269.8l-2.1 .8-2.1-.5-1.4-1.9 .5-2.2 1.8-1.9 2-.4 2.2 2 .1 2z"/><path class="k2" d="M99.6 118l-5.1-1.5-9.9-11.1-.4-2.6 4.4-17.5 1.1-.9 13.2-5.2 10.1 1.4 6.7 6.2 2.8 5.9-2.7 14.5-9.2 10.6-.6 .1zM295.8 226.8l-5 7.7-6.2 2.6-8 0-7-6-2.6-16 4.1-5.2 7.3-3 8.5 1.2 6.5 3.9 3.5 8.5zM84.7 269.3l.2-.4 7.5-10.2 4.6-1 3.3-.4 6.9 2.2 2.7 1.8 3.4 12.6-4.7 8.5-1.1 1.2-6.8 2.5-8-2.2-6.3-5.9-1.4-7zM222.5 243.8l.1 1.5-2.6 14.1-5.3 4.6-9.3-1-4.6-1.5-6.5-11.9-.1-1.8 4.4-7.5 1.5-1.5 11.7-3 .1 0 2.4 1.2 5.9 4.4zM114.6 239.6l-5.7-4.2-1-7 1.9-7.9 3.7-3.9 6.7-1.2 1.6-.1 6.8 2.7 4.2 5.6 1.1 5.3-1 6.7-7.8 5.1-5.9 1.3zM273.9 100.3l3.7-1.3 6.5-.9 5.9 2 2.7 5.3 .3 3.8-2.1 5.3-5.3 4.5-4.6 .6-2.2-1.2-7-8.3-.9-4zM192.2 120.6l-.9 3.6-2.6 4.7-2.9 .7-5.5-.2-3-2.5-1.7-3.3 .7-3.5 1.8-3.5 4.5-3.3 3.3 .3 3.3 2.6zM62.4 193.2l3.9 2.5 1 3.5-1.6 4-3.4 1.9-3.1-.3-3.3-3.2-.2-3.8 2.6-3.5zM200.7 231.6l.5-.6 4.2-1.7 2 1.3 .9 2.4-1.2 3.2-.5 .2-2.3 .5-1.7-.5-1.7-2.2zM85.9 264.5l-2.2-.2-1.7-2.3 0-1.9 1.1-2.1 3.1-.5 1.9 1 .9 2.1-1.1 2.8zM233.1 116.2l-.8 1.5-2.5 1-1.5-.7-1.6-2.3 .4-1.8 1.5-1.2 1.9-.3 1-.1 1.7 1.5z"/><path class="k3" d="M170.8 224.4l-.7-.8-9-24.2 .8-2.4 11.2-18.8 19.1-4.8 11.1 2.7 10.3 6.8 10.1 17.4-7.8 24.1-19.6 7.7-11.7-1.1zM173.3 118.5l2.5 12.9-10.4 15.9-4.7 1.3-4.4 1-14.2-3.7-4.4-2.6-6.2-16.2 4.8-14.2 .9-.7 15.9-7.4 8.3 2.3 .8 .3zM261.6 198.7l-15.8 1-3.8-3.2-4.5-5.6-1-15.4 3-5.4 6.2-7.1 4.3-.5 20 5.1 2.9 5 .4 4.6-1.9 13.6zM127.2 193.5l.8-1.1 12.1-8 5.7 1.4 9.1 7.3 2.1 2.6 1.2 5.9-.6 3-8.6 11.9-.9 .6-7.5 1.7-7.1-1.8-6.7-7.2-1.8-11.4zM15 139.9l-1.4 10.2-4.7 3.4-7.1 2-8.8-1.4-4.4-5.2-3.4-5 2-9.8 6.4-4.8 7.6-1.7 1.3 .4 11.1 8.3zM179.1 157.8l-4.6-2-4.9-4.8-.5-.5-1.4-5.4 0-.1 5.6-8.5 2.7-1.7 5.8-.8 4 .6 5.9 5.3 .3 .5-.5 12.2-6.9 4.8zM31.9 274.3l4.1-2.4 4.3-.4 1.7 .6 2.8 1.3 3 4.1 .1 .7-.3 4-2 4.5-4.2 3-3.2-.7-4.5-1.4-3.8-3.5 0-.1-.4-5.6zM278 177l3.1 .2 5.5 .7 1.7 3.2 1.1 4.1-.8 4.4-3.5 3.1-3.9 1.9-4.7-1.9-3.7-4-.2-1.4 .9-6.3 .1-.1zM151.3 284.5l-2.5 3.3-5.2 .8-3.3-.5-3.5-4.1-.5-4 1.5-4.2 2.6-2.5 3.9-1.1 4.3 1.9 3 2.8 .5 4.7zM140.6 225.4l2.4-.3 5.4 .5 3 3.8 1.2 4.2-1.6 2.6-6.9 4.8-3.4-1.1-2.8-3-1.6-3.6 .9-3.1zM26.1 238.6l-.3 3.8-1.9 2.3-3.8 .3-2.3-2-1-3.8 .9-1.6 1.2-1.2 2.6-1.3 2.9 .5zM283.9 90.4l.5 2.4-1 2.8-2.8 .9-2.9-.5-2-2.8 .6-3.4 2.3-1.4 3.1 0zM241.2 146.1l1.7 .3 .4 .4 1.1 2.5 .2 1.8-2 1.9-2.7-.2-1.8-1.6-.4-1.8 1-2.3zM2.3 197.7l2.4 .9 .8 2-.3 1.9-1.8 1.6-1.4 0-1.9-1.2-.6-1.9 1-2.1z"/><path class="k4" d="M220 162l-7.1 3.3-12.3-1.9-8.7-5.6 .8-17.7 9.4-10.2 6.2-1.5 6.6 .8 9.3 9.4 2.2 5.9 .3 3.3zM31.7 124.6l5.7-1.1 11.1 3.8 4.5 7.3 .6 5-1.6 5.6-5 6.8-8.4 2.1-6.6-2.2-4.7-4.9-2.4-9.7-.3-3.3 6.1-8.4zM80.5 190.2l-8.9 1.9-5.2-2.5-5.6-6.8 .2-4.7 3.1-9.3 5-3.8 15.5 1.7 .7 .3 3.6 6.1 .9 6.7-5.1 7.6zM83.7 246.8l.9-6 3-4.3 6.8-2.5 6-.1 6.3 3.6 1.1 3.3-1.1 9.2-2.4 4-3.8 2.5-4.1 .4-3.1-.6-6-4.7zM12.4 250.1l-1.8 4.5-3.7 1.7-3.6 .3-3.5-3.2-1.8-2.6 0-4.7 2.2-2.3 4-1.9 3 .3 2.7 1.2 2.9 4.4zM15 148.9l4.7-1.1 3.7 1.6 1.8 2.1 1.4 4.3-1.2 3.7-2.3 1.3-7.5 1-.8-.2-2.4-2.6-.4-3.7 1.1-4.8zM265.1 158l-.5 4.3-2.5 2.4-3.2-.7-2.6-1.3-.7-3 1.6-3.3 3-1 2.4 .5zM178.2 247.5l.6-1.9 3.3-1.9 3 .5 1.8 2.9 .3 2.5-1.9 3.1-3.6 .4-2.4-1.2zM83.7 97.6l-3.1 .7-.8-.6-1.9-2.3-.5-.7 .3-2.5 3.1-2.2 2.5 .7 1.6 1.7 .4 2.5zM204.7 168.8l-.2 2.3-1.8 1.7-2.6 .8-2.2-2.1-.5-2.5 1-1.8 2.4-1 2.5 .9zM84.1 112l1.8-1.2 2.7 .8 1.4 1.7-.2 2.6-1.5 1.9-2.8 .5-2-1.6-.5-2zM266.9 156.9l-1.8-2 0-2.2 1.1-2 2.6-.8 2.2 .9 .9 2.9-1 2.1-2 1zM120.2 140.9l-1.7-2.3 .2-2.1 1.5-1.7 2.3-.3 1.9 1 .9 2.2-.8 2.3-2.2 1.1z"/><path class="k5" d="M296.3 246.2l15.5 12.7 4.8 16.3-3.4 14.2-17.5 16.3-11 2.9-18.9-5.9-12.5-11.4 1-24.6 12.6-15.5 18.8-6.3zM91.3 164.2l-3.2 2.2-23.9-2.7-9-18.1 .9-6.7 .2-.7 12-15.5 8-2.2 4.8 .4 8.9 1.1 12.2 18.4 1.1 3.7zM209 291.5l-3.9-8.9 .9-7.6 1.9-5.3 6.4-3.7 9.1 .9 4.8 1.5 4.2 13.9-.3 1.1-3 6.2-5.1 4.4-8.6 .4zM221.9 223.5l-3.4-4.8 3.5-10.7 1.4-1.4 3.4-2.4 10.4-1 6 2.8 2.8 6.2 1.2 3.3 .3 4.8-5 5.7-8.4 5.2-2.3-.8-8.4-5.6zM153.2 157l5.2-6.1 6.4 .1 4.5 .8 7.2 7.1 .4 .4-.1 5.7-2.3 5.1-6.5 6.5-.3 0-13.1-4.5-1.9-3.5-1.3-7zM217.4 110.2l.3 4.1-3.6 4.4-5.1 4.2-6.4-.8-5.4-2.8-3.6-6.3 .5-4.6 2.5-5.2 7.2-4.3 4.7 .4 5.1 3.6zM162.9 175.7l1.2 1.1 2.9 5.9-2.5 4.1-3 3.2-3.1 1-4.5-.8-3.8-2.7-1.9-4.7 .3-4.5 4.9-3.9 2.2-1.2zM110.7 124l1 5.1-2.1 4.3-2.5 1.2-3.9 1.7-3.4-.9-4.5-6.7-.5-2.4 1.2-3.9 3.8-2 5.1-1.5 3.7 1.8zM48.7 163.6l4.3-1.5 4.2 1.6 3.8 2.9 1.3 4.8-2 3.3-3.2 4.2-4.5-.2-3.1-1.4-3.4-3.5-.9-3 .8-3.9zM222.9 249.6l2.9-1.4 3.8-.3 2.5 3.5 0 3.8-1.7 2.3-3.9 1.4-3.6-2.1-1-3.7zM284.3 138.2l2 3.2-.9 2.8-1.9 1.9-4 .5-2.3-2.1-.4-2.5 2.3-4.3 2-.9zM183.1 272.1l-2.1-1.3-1.6-2.5 .8-2.4 2-1.2 2.8 0 .3 .2 1.1 1.5 .3 2.6-1.6 2.1-.1 .1z"/><path class="k6" d="M137.4 248.2l2.4-3.5 14.4-9.7 12.9 .2 9.2 8.2 4.6 16.7-1.5 7.4-13.7 8.4-7.6 2-14.9-8.6zM56.8 258.9l9.3-3 11.4 5.4 6.5 7.9 1.3 9.1-4.1 10.7-5.5 6.6-10.8 .4-8.8-3.1-6.1-5.8-2-13.5 .1-1.8 4.8-9zM58.2 208l3.6 8.8-1.4 7.8-3.6 10.4-8.9 2.6-10.2 .4-8.9-5.8-3.2-4.8-1.2-9.9 .3-3.9 7.1-6.7 7.6-5 8.4 .8zM220.7 112.1l-2.1-1.2-6.4-12.2 2.8-5.2 4.2-6.9 6.3-2 8.3 2.9 5.6 5.9 .3 11.4-1 2.8-3.3 3-12.1 2.4zM203.8 278.4l-1.5 6.7-4.3 7-4.6 1.1-6.4 .3-6.4-4.2-1.4-5.8-.3-6.3 2.5-2.9 8-4.9 7.3 .6 3.5 3.3zM34.9 112.8l2.5-4.6 6-4.4 5.5-.7 4.7 1.8 .3 .4 4.3 9.9 0 1.4-.4 2.6-7.7 6.3-2.7 .6-7.9-2.6-2.4-3zM251.8 268.4l.7 5.9-2.5 6.6-3.6 2.7-6.4 1.3-5-1.8-2.5-2.9-2.7-8.9 2.3-4.8 3.2-4.1 2.8-.3 11.6 3.5zM214.7 183.3l.7-2.3 1.8-3.5 6.8-4.2 6.2 .2 4.3 2 1.6 5.6 .5 6.4-3.9 4.3-4.6 3.8-6-1.6-1.8-1zM240.7 155.4l1.1 1.4-1 4.6-2.4 4.1-4.7 1.3-5-.8-2.8-2.4-2.6-4.4 .2-2.8 1.8-3.8 1.1-1.4 5.1-2 3.4 .2zM107.7 203l1.7-3.3 4.1-2.5 6 1 4.1 2.3 1.5 3.5 0 0-.1 4.1-2.5 4.6-4.3 1.4-4.9 .3-3.1-2.4-2.8-3.3zM234.9 131.9l-.9 1.9-3.6 2.6-4.6 .1-3.6-1.1-.9-.8-1.7-4.1-.7-3.3 1-4 3.7-2.3 5.1-1 3.4 .8 2.9 4.6zM61.5 241.3l-.1-.6 1.5-3.1 4.2-3.6 4.6-.2 2.3 1.5 3.9 4 .2 4.5-.6 1.8-5.1 3.7-4.6 1.2-2.8-1.4-1.1-1.2zM61.3 122.3l1.4 2.9 .2 3.2-3.6 4.7-3.6 .3-3.2-2.4-.9-4.7 .5-1.6 3.8-3 .2-.1zM272.4 237.4l4.1 2 .9 4-1.4 3.4-2.6 1.4-.3 .1-4.5-.1-1.9-3.1-.7-3.7 2.7-2.9zM222.4 169.8l.1 2.4-2 2.3-.3 .2-2.6 .6-2.7-.8-1-2.5 .2-3.2 3.2-1.9 2.9 .9zM228.4 197.1l2.1-1 2.4 .1 2.2 2.2-.1 2.7-1.4 1.8-3.3 .3-1.7-1-.8-2.3zM52.5 160l-2.5-1.5-.3-2.6 .8-1.9 2.9-1.1 1.9 .8 1.8 2.3-.6 2.4-2.1 2.1zM211.9 174l1.6 1.9-.8 2.8-1.3 1.1-1.2 0-3.1-2-.4-1.3 .9-2.3 2-.7z"/><path class="k7" d="M103.6 228.5l-1.6 1.9-17 6.3-4-.2-13.6-7.5-1.9-2.2-2.1-5-1.3-9.1 .1-1 10.6-16.8 7.2-2 3.5-.7 3.5 .5 16.3 6.3 0 0 4.1 15.2 .4 3.8zM133.4 119l-2.1 3.2-2 3.6-6.1 1.5-5.1-1.8-3.6-2.6-1.9-6.4 7-7.8 3.1-.4 7 1.5 2.6 2.7 1.4 5.7zM273.2 154.5l3.6-2.6 3.1-.8 4.6 2.4 1.8 3.2 1.3 3.1-2.3 5.1-3.6 1.7-3.7 .5-3.4-1-3-3.6-.5-4.3zM52.1 180l2.6 .5 3.2 3.3 1.1 2.6-1.3 3.1-1.5 2.9-3.5 1.5-4.5-1.9-2.1-1.6-1.2-3.3 .3-3.4 0-.4 3.9-2.7zM195.6 236.1l-.7 4.4-2.3 3.1-4.1 1.3-4.7-3.2-1-3.3 2.5-4.3 3.6-1.9 .3 0 3.5 1.2zM196.4 128.8l1.5 3-.4 2-3.2 3.5-3.4-.4-2.8-2.3 .4-3.7 2.1-2.7 2.4-.8zM29.6 100.6l3-1.6 2.7 1.5 2 2.7-.6 3.2-2 1.4-3.1 .3-3.1-2.4-.5-2.3zM160.8 233.1l-2.2-.4-3.1-2-.1-3 1.4-2 2.4-1 3.1 .8 1.2 2.3-.3 2.8zM117.5 283.4l-3 .8-2-2.1-.5-2.3 1.5-2.1 1.6-.9 2.5 .2 .2 .1 1.4 2.1-.3 3.2zM43 162.1l-1 1.9-2.8 .9-1.8-.5-1.9-2.1 .3-2.1 1.7-2 3.1 .2 1.9 1.4z"/></g>
<clipPath id="cd"><rect x="0" y="0" width="282" height="280"/></clipPath>
</defs>
<text transform="translate(29 856.5) scale(1.07 1)" font-size="36" font-weight="bold" text-anchor="start" fill="#000"><tspan>(d)</tspan></text>
<text transform="translate(292.2 875.5) scale(1.09 1)" font-size="26.8" font-weight="bold" fill="#000"><tspan>3Y-TZP+5 wt% Fe</tspan><tspan dy="5.4" font-size="17.7">3</tspan><tspan dy="-5.4">O</tspan><tspan dy="5.4" font-size="17.7">4</tspan></text>
<text transform="translate(256 1410) scale(1.09 1)" font-size="26.8" font-weight="bold" fill="#000"><tspan>3Y-TZP+5 wt% Fe</tspan><tspan dy="5.4" font-size="17.7">3</tspan><tspan dy="-5.4">O</tspan><tspan dy="5.4" font-size="17.7">4</tspan><tspan dy="-5.4">: 8 W</tspan></text>
<g transform="translate(6 887.5)" clip-path="url(#cd)"><rect width="282" height="280" fill="#262626"/><rect width="282" height="280" filter="url(#fBC)"/><use href="#gr1" style="--k0:#c6c6c6;--k1:#bdbdbd;--k2:#cfcfcf;--k3:#c2c2c2;--k4:#b6b6b6;--k5:#d4d4d4;--k6:#c9c9c9;--k7:#bfbfbf"/><rect width="282" height="22" fill="url(#topfade)"/></g>
<g transform="translate(287.5 887.5)" clip-path="url(#cd)"><rect width="282" height="280" fill="#120808"/><rect width="282" height="280" filter="url(#fPH)"/><use href="#gr1" style="--k0:#5c9bdb;--k1:#5896d6;--k2:#62a0df;--k3:#5c9bdb;--k4:#5591d2;--k5:#66a3e0;--k6:#5c9bdb;--k7:#5a98d8"/><rect width="282" height="22" fill="url(#topfade)"/></g>
<g transform="translate(568.5 887.5)" clip-path="url(#cd)"><rect width="282" height="280" fill="#000"/><rect width="282" height="280" filter="url(#fIP)" opacity="0.72"/><use href="#gr1" style="--k0:#e4729e;--k1:#cf5ccb;--k2:#b6e164;--k3:#f0a064;--k4:#9a6ed6;--k5:#ee7f78;--k6:#d8dc5a;--k7:#a9a2e6"/><rect width="282" height="22" fill="url(#topfade)"/></g>
<text transform="translate(199.7 1152) scale(1.09 1)" font-size="25.6" font-weight="bold" fill="#fff" stroke="#222" stroke-opacity="0.35" stroke-width="1.6" paint-order="stroke"><tspan>10 µm</tspan></text><path d="M202.6 1161.3H281.6" stroke="#fff" stroke-width="3"/>
<text transform="translate(482 1152) scale(1.11 1)" font-size="25.6" font-weight="bold" fill="#fff" stroke="#222" stroke-opacity="0.35" stroke-width="1.6" paint-order="stroke"><tspan>10 µm</tspan></text><path d="M486 1161.3H565" stroke="#fff" stroke-width="3"/>
<text transform="translate(757 1152) scale(1.11 1)" font-size="25.6" font-weight="bold" fill="#fff" stroke="#222" stroke-opacity="0.35" stroke-width="1.6" paint-order="stroke"><tspan>10 µm</tspan></text><path d="M766 1161.3H845" stroke="#fff" stroke-width="3"/>
<path d="M287.5 887.5V1167.5M568.5 887.5V1167.5" stroke="#ddd" stroke-width="1"/>
<rect x="6" y="1168.5" width="208.7" height="209.5" fill="#10cb10"/><rect x="6" y="1168.5" width="208.7" height="209.5" fill="#0a0" opacity="0.08" filter="url(#fEl2)"/><rect x="6" y="1168.5" width="208.7" height="209.5" fill="#063" opacity="0.2" filter="url(#fEl)"/><text transform="translate(169.8 1369.5) scale(1.17 1)" font-size="25.6" font-weight="bold" fill="#fff"><tspan>Zr</tspan></text>
<rect x="215.7" y="1168.5" width="211.3" height="209.5" fill="#dcdc0a"/><rect x="215.7" y="1168.5" width="211.3" height="209.5" fill="#662" opacity="0.5" filter="url(#fEl)"/><text transform="translate(394.6 1369.5) scale(1.08 1)" font-size="25.6" font-weight="bold" fill="#fff"><tspan>Y</tspan></text>
<rect x="428" y="1168.5" width="210.4" height="209.5" fill="#16a6b0"/><rect x="428" y="1168.5" width="210.4" height="209.5" fill="#077" opacity="0.1" filter="url(#fEl2)"/><rect x="428" y="1168.5" width="210.4" height="209.5" fill="#044" opacity="0.4" filter="url(#fEl)"/><text transform="translate(593.9 1369.5) scale(1.08 1)" font-size="25.6" font-weight="bold" fill="#fff"><tspan>Fe</tspan></text>
<rect x="639.4" y="1168.5" width="210.1" height="209.5" fill="#870000"/><rect x="639.4" y="1168.5" width="210.1" height="209.5" fill="#400" opacity="0.15" filter="url(#fEl)"/><text transform="translate(812.7 1369.5) scale(1.11 1)" font-size="25.6" font-weight="bold" fill="#fff"><tspan>O</tspan></text>
<g transform="translate(6 1422.5)" clip-path="url(#cd)"><rect width="282" height="280" fill="#555"/><rect width="282" height="280" filter="url(#fBC2)"/><path d="M0 0H282V92L250 100L200 96L150 104L100 98L50 104L0 98Z" fill="#4a4a4a"/><use href="#gr2c" style="--k0:#c6c6c6;--k1:#bdbdbd;--k2:#cfcfcf;--k3:#c2c2c2;--k4:#b6b6b6;--k5:#d4d4d4;--k6:#c9c9c9;--k7:#bfbfbf"/><use href="#gr2e" style="--k0:#c6c6c6;--k1:#bdbdbd;--k2:#cfcfcf;--k3:#c2c2c2;--k4:#b6b6b6;--k5:#d4d4d4;--k6:#c9c9c9;--k7:#bfbfbf"/><path d="M212.5 0h3.5l-1.2 20-1 25 0 30-2.6 30-2 25-6 12 3.6-14 1.4-24 1.8-30-.6-30 1-24z" fill="#181818" stroke="#181818" stroke-width="0.8" stroke-linejoin="round"/><path d="M228 150l3 25 2 30 4 26" fill="none" stroke="#111" stroke-width="1.6"/></g>
<g transform="translate(287.5 1422.5)" clip-path="url(#cd)"><rect width="282" height="280" fill="#cc3226"/><rect width="282" height="280" filter="url(#fPH2)"/><path d="M0 0H282V92L250 100L200 96L150 104L100 98L50 104L0 98Z" fill="#2f62a8"/><use href="#gr2c" style="--k0:#5c9bdb;--k1:#5896d6;--k2:#62a0df;--k3:#5c9bdb;--k4:#5591d2;--k5:#66a3e0;--k6:#5c9bdb;--k7:#5a98d8"/><use href="#gr2e" style="--k0:#5c9bdb;--k1:#5896d6;--k2:#62a0df;--k3:#5c9bdb;--k4:#5591d2;--k5:#66a3e0;--k6:#5c9bdb;--k7:#5a98d8"/><path d="M212.5 0h3.5l-1.2 20-1 25 0 30-2.6 30-2 25-6 12 3.6-14 1.4-24 1.8-30-.6-30 1-24z" fill="#181818" stroke="#181818" stroke-width="0.8" stroke-linejoin="round"/><path d="M228 150l3 25 2 30 4 26" fill="none" stroke="#111" stroke-width="1.6"/></g>
<g transform="translate(568.5 1422.5)" clip-path="url(#cd)"><rect width="282" height="280" fill="#1c1c1c"/><rect width="282" height="280" filter="url(#fIP2)" opacity="0.72"/><path d="M0 0H282V92L250 100L200 96L150 104L100 98L50 104L0 98Z" fill="#3a3040"/><use href="#gr2c" style="--k0:#e4729e;--k1:#cf5ccb;--k2:#b6e164;--k3:#f0a064;--k4:#9a6ed6;--k5:#ee7f78;--k6:#d8dc5a;--k7:#a9a2e6"/><use href="#gr2e" style="--k0:#e4729e;--k1:#cf5ccb;--k2:#b6e164;--k3:#f0a064;--k4:#9a6ed6;--k5:#ee7f78;--k6:#d8dc5a;--k7:#a9a2e6"/><path d="M212.5 0h3.5l-1.2 20-1 25 0 30-2.6 30-2 25-6 12 3.6-14 1.4-24 1.8-30-.6-30 1-24z" fill="#181818" stroke="#181818" stroke-width="0.8" stroke-linejoin="round"/><path d="M228 150l3 25 2 30 4 26" fill="none" stroke="#111" stroke-width="1.6"/></g>
<text transform="translate(199.7 1686.3) scale(1.09 1)" font-size="25.6" font-weight="bold" fill="#fff" stroke="#222" stroke-opacity="0.35" stroke-width="1.6" paint-order="stroke"><tspan>10 µm</tspan></text><path d="M202.6 1697.8H281.6" stroke="#fff" stroke-width="3"/>
<text transform="translate(482 1686.3) scale(1.11 1)" font-size="25.6" font-weight="bold" fill="#fff" stroke="#222" stroke-opacity="0.35" stroke-width="1.6" paint-order="stroke"><tspan>10 µm</tspan></text><path d="M486 1697.8H565" stroke="#fff" stroke-width="3"/>
<text transform="translate(757 1686.3) scale(1.11 1)" font-size="25.6" font-weight="bold" fill="#fff" stroke="#222" stroke-opacity="0.35" stroke-width="1.6" paint-order="stroke"><tspan>10 µm</tspan></text><path d="M766 1697.8H845" stroke="#fff" stroke-width="3"/>
<path d="M287.5 1422.5V1702.5M568.5 1422.5V1702.5" stroke="#ddd" stroke-width="1"/>
<rect x="6" y="1705" width="208.7" height="208" fill="#14e614"/><rect x="6" y="1705" width="208.7" height="208" fill="#0a0" opacity="0.08" filter="url(#fEl2)"/><rect x="6" y="1705" width="208.7" height="208" fill="#063" opacity="0.1" filter="url(#fEl)"/><text transform="translate(169.8 1900.5) scale(1.17 1)" font-size="25.6" font-weight="bold" fill="#fff"><tspan>Zr</tspan></text>
<rect x="215.7" y="1705" width="211.3" height="208" fill="#eeee08"/><rect x="215.7" y="1705" width="211.3" height="208" fill="#884" opacity="0.12" filter="url(#fEl2)"/><rect x="215.7" y="1705" width="211.3" height="208" fill="#773" opacity="0.28" filter="url(#fEl)"/><text transform="translate(394.6 1900.5) scale(1.08 1)" font-size="25.6" font-weight="bold" fill="#fff"><tspan>Y</tspan></text>
<rect x="428" y="1705" width="210.4" height="208" fill="#0c5560"/><rect x="428" y="1705" width="210.4" height="208" fill="#033" opacity="0.3" filter="url(#fEl2)"/><rect x="428" y="1705" width="210.4" height="208" fill="#022" opacity="0.3" filter="url(#fEl)"/><text transform="translate(593.9 1900.5) scale(1.08 1)" font-size="25.6" font-weight="bold" fill="#fff"><tspan>Fe</tspan></text>
<rect x="639.4" y="1705" width="210.1" height="208" fill="#a40505"/><rect x="639.4" y="1705" width="210.1" height="208" fill="#600" opacity="0.08" filter="url(#fEl2)"/><rect x="639.4" y="1705" width="210.1" height="208" fill="#400" opacity="0.1" filter="url(#fEl)"/><text transform="translate(812.7 1900.5) scale(1.11 1)" font-size="25.6" font-weight="bold" fill="#fff"><tspan>O</tspan></text>
<g fill="#22dede" opacity="0.9"><circle cx="619.3" cy="1885.6" r="2"/><circle cx="458.7" cy="1846.2" r="2.1"/><circle cx="497.2" cy="1878.4" r="1.3"/><circle cx="542.4" cy="1868.4" r="2"/><circle cx="602.4" cy="1881.8" r="1.3"/><circle cx="487.9" cy="1890.1" r="1.5"/><circle cx="441.8" cy="1893" r="1.6"/><circle cx="466.2" cy="1843.5" r="1.3"/><circle cx="443.8" cy="1893.3" r="1"/><circle cx="519" cy="1865.9" r="1.1"/><circle cx="542.6" cy="1871.5" r="1"/><circle cx="599.5" cy="1859.4" r="1.2"/><circle cx="562.7" cy="1847.6" r="1.4"/><circle cx="509.5" cy="1871.6" r="2.4"/><circle cx="580.3" cy="1862.2" r="2.2"/><circle cx="591.4" cy="1858.6" r="1.4"/><circle cx="456.7" cy="1870" r="2.3"/><circle cx="505.6" cy="1870.9" r="2.3"/><circle cx="625.1" cy="1858.1" r="2"/><circle cx="440.3" cy="1849.6" r="1.7"/><circle cx="551.3" cy="1863.2" r="1.1"/><circle cx="483.1" cy="1900.9" r="1.9"/><circle cx="635.7" cy="1862.7" r="1.6"/><circle cx="608.7" cy="1885.3" r="1.4"/><circle cx="541.6" cy="1848" r="2.1"/><circle cx="475.5" cy="1876.6" r="1.7"/><circle cx="487.1" cy="1827.6" r="1.5"/><circle cx="625.5" cy="1812.2" r="1.6"/><circle cx="432.5" cy="1717.8" r="2.1"/><circle cx="513.4" cy="1716.9" r="1.3"/><circle cx="487.9" cy="1832.6" r="2.2"/><circle cx="471.7" cy="1723" r="1.8"/><circle cx="583.5" cy="1788.1" r="2.3"/><circle cx="623.3" cy="1783" r="2.2"/></g>
<g fill="#e81818" opacity="0.8"><circle cx="707.5" cy="1894.7" r="1.3"/><circle cx="702.7" cy="1865.9" r="1.3"/><circle cx="647.9" cy="1885.3" r="2.2"/><circle cx="696.8" cy="1900.3" r="1.6"/><circle cx="677.1" cy="1853.3" r="1.6"/><circle cx="792.2" cy="1877.7" r="2"/><circle cx="830.2" cy="1876.3" r="1.5"/><circle cx="716.8" cy="1903.4" r="1"/><circle cx="692" cy="1854.6" r="1.8"/><circle cx="704" cy="1891.7" r="1.1"/><circle cx="650.4" cy="1890.7" r="2.1"/><circle cx="720.7" cy="1864.3" r="1.4"/><circle cx="744.7" cy="1867.6" r="2"/><circle cx="767.1" cy="1853.8" r="1.2"/></g>
<path d="M796 1706l-2 25-3 22-5 16" fill="none" stroke="#3a0000" stroke-width="1.6" opacity="0.8"/>
<text transform="translate(1004 854) scale(1.07 1)" font-size="36" font-weight="bold" text-anchor="start" fill="#000"><tspan>(e)</tspan></text>
<text transform="translate(1072.6 904.8) scale(1.07 1)" font-size="27.4" font-weight="bold" fill="#000"><tspan>Original state</tspan></text>
<text transform="translate(1455.2 1154.8) scale(1.05 1)" font-size="27.4" font-weight="bold" fill="#000"><tspan>Equiaxed</tspan></text>
<text transform="translate(1477 1189.4) scale(1.03 1)" font-size="27.4" font-weight="bold" fill="#000"><tspan>grains</tspan></text>
<text transform="translate(1078.3 1418.4) scale(1.07 1)" font-size="27.4" font-weight="bold" fill="#000"><tspan>Transited state</tspan></text>
<text transform="translate(1461.3 1672.5) scale(1.05 1)" font-size="27.4" font-weight="bold" fill="#000"><tspan>Columnar</tspan></text>
<text transform="translate(1486.5 1705.7) scale(1.03 1)" font-size="27.4" font-weight="bold" fill="#000"><tspan>grains</tspan></text>
<linearGradient id="cn1" gradientUnits="userSpaceOnUse" x1="0" y1="868.3" x2="0" y2="952"><stop offset="0" stop-color="#e9898a"/><stop offset="0.6" stop-color="#f3b4b2"/><stop offset="1" stop-color="#fbe4e2"/></linearGradient><linearGradient id="cn1h" gradientUnits="userSpaceOnUse" x1="1486.5" y1="0" x2="1548.7" y2="0"><stop offset="0" stop-color="#fff" stop-opacity="0"/><stop offset="0.5" stop-color="#fff" stop-opacity="0.55"/><stop offset="1" stop-color="#fff" stop-opacity="0"/></linearGradient><path d="M1486.5 868.3L1548.7 868.3L1517.4 952Z" fill="url(#cn1)"/><path d="M1486.5 868.3L1548.7 868.3L1517.4 952Z" fill="url(#cn1h)"/>
<linearGradient id="ar1" gradientUnits="userSpaceOnUse" x1="1531.8" y1="970" x2="1367.8" y2="949"><stop offset="0" stop-color="#f9a7a3"/><stop offset="1" stop-color="#f4605f"/></linearGradient><path d="M1532.3 966.2 1399 949.2 1399.9 942.5 1367.8 949 1397.2 963.4 1398.1 956.7 1531.3 973.8Z" fill="url(#ar1)"/>
<linearGradient id="cn2" gradientUnits="userSpaceOnUse" x1="0" y1="1357" x2="0" y2="1440"><stop offset="0" stop-color="#e9898a"/><stop offset="0.6" stop-color="#f3b4b2"/><stop offset="1" stop-color="#fbe4e2"/></linearGradient><linearGradient id="cn2h" gradientUnits="userSpaceOnUse" x1="1318.8" y1="0" x2="1381" y2="0"><stop offset="0" stop-color="#fff" stop-opacity="0"/><stop offset="0.5" stop-color="#fff" stop-opacity="0.55"/><stop offset="1" stop-color="#fff" stop-opacity="0"/></linearGradient><path d="M1318.8 1357L1381 1357L1349.7 1440Z" fill="url(#cn2)"/><path d="M1318.8 1357L1381 1357L1349.7 1440Z" fill="url(#cn2h)"/>
<linearGradient id="ar2" gradientUnits="userSpaceOnUse" x1="1348.7" y1="1460.6" x2="1264.2" y2="1449.1"><stop offset="0" stop-color="#f9a7a3"/><stop offset="1" stop-color="#f4605f"/></linearGradient><path d="M1349.2 1456.8 1295.4 1449.5 1296.3 1442.9 1264.2 1449.1 1293.5 1463.7 1294.4 1457 1348.2 1464.4Z" fill="url(#ar2)"/>
<defs><clipPath id="ce1"><rect width="376.3" height="254.6"/></clipPath><clipPath id="ce2"><rect width="376.3" height="138.3"/></clipPath></defs>
<g transform="matrix(1 0.1507 0 1 1070.7 1014)"><g clip-path="url(#ce1)"><path d="M0 126.5l0-19.2 7-1.7 7.5 16.6-1.7 4.7zM171 114l-2.1 22.8-.4 .5-2.4 .8-17.8-3.8-2.3-15.8 22.3-7.5zM195 245.8l-13.7 8.8-3.8 0-3.4-14.9 13.1-6.8 8.2 7.7zM266.4 29.7l.7-15.8 16.3-4.4 9.5 10-2.9 13.6-11.5 5.5zM14.2 24l-7.3 11.3-6.9-.9 0-19.8 10.1-2zM46.6 204.9l-2-17.2 19.7-1.6 4 13.1-10.6 12.2-.7 .2zM14.2 184.5l8.9-9.2 16.4 2.3 1.5 6.9-16.2 10.1zM220.6 245.2l-4.5 9.4-14 0-7.1-8.8 .4-5.2 16.9-7.7zM134.7 45.6l2.3 19.8-3.9 6.2-13.3-2-9.5-16 18.2-11.3zM28.7 101.8l-19.7 .4-4.2-19.4 12.6-8.7 15.9 16.5 .1 1.7zM115.1 2.2l12.3 4.5 0 15.9-3 3.3-20.2-4-.4-.6 1.9-12.4zM314.4 231.9l-10.6 14.8-.6 .1-14.4-9.2 4.8-11.5 10.7-4.9 7.4 4.8zM217.3 173.6l-18.1-11-2.4-6.7 14.4-10 10.6 3.5 3.2 10.5zM60.6 94.8l10.7 18.6-.3 1.4-15.5 10.3-1.6-.1-7.7-10.8 6.2-14.4zM6.9 0l26.4 0 .1 6.1-.9 1-22.3 5.3zM354.9 88.3l13.9 9-.7 11.5-14.4 5.9-11-15.3zM321.5 198.1l-18 11.4-10.8-11.3 .5-1.8 20.3-11.9zM313.4 180l-14.3-8.6-.2-19.6 1.1-1.3 10.7-1 14.1 12.3zM108 188.1l19-12.1 16.3 13.7 0 1.1-15.4 17.1-21.2-7zM126.4 172l-15.2-7.7 4.5-18.3 20.8-.2 4.1 11.5zM163.2 23l2.7-15.9 12.2-3.6 4.6 3.2 1.2 18.4-1.2 1.5zM291.6 129.2l-11.2-8 .4-13.4 15.2-.2 2.3 16zM135.5 114.6l-12.5 10.7-6.4 0-6.9-12.1 13.3-18.9 .8 0zM199.2 162.6l-8.8 19.5-18.6-14 6.8-10.6 17.4-2.1 .8 .5zM147.8 237.2l-7.5 10.4-16.3-2-1.4-15.1 9.2-10.3 5.3 1.3zM355.7 42.7l10.7 18-15.2 12.8-2.9-1-5.6-10.5 2.5-14.7zM376.3 147.3l0 11.4-7.6 8.2-14.7-13.4 13.7-13.7zM210.4 70l-18.7-7.7 2.3-18.8 10.1-2.8 11.3 4.9 3.9 8.2-4.1 13.6zM61.3 237.3l-8.4 17.3-8 0-4.1-14.5 13.7-8zM222.3 194.9l-13.8 6.1-15.2-8.6-.1-5 24.8-9.8 5.2 5.5zM17.9 72.5l-17.5-17.4 10.1-10.8 11 1.5 9.4 14.1-.3 2.5zM77.3 0l19.5 0 8.9 8.9-1.9 12.4-26.3-1.6-.8-1.2zM245.4 85.4l-16.1 4.4-7-18.2 20-3.4 4.2 3.8zM12.2 229.4l-6.5-4.6-.9-16.9 19.6-1.3 .9 1.1-5.9 21.3zM376.3 178.8l0 7.2-10.5 8.7-12.1-5.6 .3-11.1 14.6-8.5zM319.1 57l-18.3-1.9-2.9-16.6 17.9-7.7 6.3 1.5 3.9 7.3zM369 60.8l7.3 10.2 0 9.2-22.2-2.7-2.9-4 15.2-12.8zM152.5 0l2.9 0 10.5 7.1-2.7 15.9-8.2 3.6-6.2-5.7-.9-14.7zM262.5 159l-15.4-13.9 7.9-9.6 12.4 .1 6.4 7.3 .1 8.6zM224 222.4l17.5 8.1-8.5 15.7-12.4-1-8.3-12.3 1.8-6.9zM337.8 80.5l-.2 18.2-2.9 1.6-17.5-9.5 6.6-12.6zM58.4 151l3.7 16.6-20.6 4.9-7.9-20.9 11.9-6.3zM184.3 113.6l9.8 18-1.1 1.3-24.1 3.9 2.1-22.8zM144.2 159.1l7.6 17.6-8.5 13-16.3-13.7-.6-4 14.2-14.7zM350.8 234.8l-.4-13.2 .9-1.6 20 2.7 .4 15.3-5 6.3-4.8 1.5zM169.5 49.1l9.2 19-17.7 7.8-1.3-.6-6.1-11.2 4.2-16.8zM194 0l24.6 0-.3 4.1-13.6 7.4-10.9-10zM122.6 230.5l-17.7-4.7-3.6-6 1.7-15.4 3.7-3.5 21.2 7 3.9 12.3zM102.2 138.2l-11.7-13.5 5.5-14.4 13.7 2.9 6.9 12.1-8.4 12zM267.1 13.9l-.7 15.8-21.9 0-.4-14.1 16.4-6.9zM293.6 226.1l-15.5-9.4 6.4-14.5 8.2-4 10.8 11.3 .8 11.7zM39.5 177.6l-16.4-2.3-2.7-10.3 10-13.7 3.2 .3 7.9 20.9zM30.3 28.5l2.2-21.4 .9-1 20.2 6.4 2 3.7-4.8 19.4zM357.9 254.6l-20.7 0-6.6-9.2 .1-2.7 20.1-7.9 11.1 11zM3.9 207l-3.9 .1 0-24 1.4 .1 1.4 1zM298.9 151.8l.2 19.6-13.3 6.4-4.3-1.8 .5-20zM187.2 232.9l-13.1 6.8-10.6-4.5 2.3-19.4 15.6-2.5 4.9 5.6zM243.9 174.4l-7.4-13.8 7.3-15.1 3.3-.4 15.4 13.9-1.8 8.8zM93.3 106.4l5.8-16 12.2-5 11.7 8.9-13.3 18.9-13.7-2.9zM299.9 82.2l5-10.2 13.8-3.9 5.1 10.1-6.6 12.6-15.5 1.6 0-.1zM194.1 131.6l-9.8-18 9.2-10.7 14.3 4.5 2.2 3.6-9.7 19.6zM96.1 70.2l-6.2 12.6-11.5 4-9.4-2.8 8.7-20.4 13.8-1.3 3.3 1.8zM166.1 138.1l-8.5 17.5-13.4 3.5-3.6-1.8-4.1-11.5 1.1-3.7 10.7-7.8zM376.3 18.7l0 22.8-19.2-.5 3-23.4 9-2.2zM376.3 250l0 4.6-18.4 0 4-8.8 4.8-1.5zM262.9 93.4l1 12.1-5 6.2-3.1 .9-10.4-6.1 .8-20.1zM163.2 23l19.5 3.6 1.7 10.1-14.9 12.4-11.7-1.8-4.9-6.1 2.1-14.6zM78.4 86.8l9.8 17.9-16.9 8.7-10.7-18.6 3.7-8.5 4.7-2.3zM240.3 33.8l-16.4-1.7-4.5-8.2 6.2-12.6 12.4-1.2 6.1 5.5 .4 14.1zM230.9 204.7l-6.9 17.7-9.9 3.6-7.4-7.9 1.8-17.1 13.8-6.1zM60.6 94.8l-8.2 5-19-7.5-.1-1.7 8.6-12.1 22.4 7.8zM0 81.7l0-26.5 .4-.1 17.5 17.4-.5 1.6-12.6 8.7zM260.9 206.3l-12.6 11.4-10.9-12.3 15.6-12.1 8 2.6zM204.8 22.5l-.7 18.2-10.1 2.8-9.6-6.8-1.7-10.1 1.2-1.5 19.8-3.7zM351.7 0l20.4 0-3 15.4-9 2.2-11.4-8.5zM81.4 206.6l-3.4 15-4.4 .7-15.9-10.9 10.6-12.2zM70.7 142.7l-15.2-17.6 15.5-10.3 12.9 11.4-8 16.9zM30.9 59.9l-9.4-14.1 8.2-17 .6-.3 20.5 7.1 .3 .5zM140.3 247.6l3.8 7-21.3 0-1.1-5.6 2.3-3.4zM84 225.6l17.3-5.8 3.6 6-12.7 20.3-4-2zM303.2 16.5l12.6 14.3-17.9 7.7-7.9-5.4 2.9-13.6zM312.8 254.6l-15.9 0 6.3-7.8 .6-.1zM351.5 126.7l-8.8 18.7-4.2 .6-15.4-14.2 11.4-11.3 15.5 2.8zM376.3 186l0 26-9.7-8.6-.8-8.7zM205.1 82.4l9.4 10.7-6.7 14.3-14.3-4.5-3.5-11.4 1.4-3.8zM287 73.1l12.9 9.1 1.8 10.1-19.5 1.5-7.4-7.7 .8-5.1zM121.7 249l-24.4 5.1-5.1-8 12.7-20.3 17.7 4.7 1.4 15.1zM24.4 206.6l.4-12 16.2-10.1 3.6 3.2 2 17.2-21.3 2.8zM59.8 0l17.5 0-.6 18.5-21.1-2.3-2-3.7zM12.2 229.4l-8.8 16.7-3.4-.3 0-19.7 5.7-1.3zM323.1 131.8l15.4 14.2-11 15-2.7 .8-14.1-12.3 9.8-17zM76.6 246.3l-4.4 8.3-19.3 0 8.4-17.3 2.8-.3zM337.8 80.5l-14-2.3-5.1-10.1 2.1-7 21.9 .9 5.6 10.5zM304.6 0l16 0 2.2 6.4-15.6 3.4zM30.4 151.3l-10 13.7-12.6-.6-5.2-12.4 14.2-9.4zM288.5 62.1l-1.5 11-11.4 7.9-8.3-12.1 12-12.4zM258.9 111.7l13.1 11.9-4.6 12-12.4-.1-4.9-11.4 5.7-11.5zM253 193.3l-10.5-15.6 1.4-3.3 16.8-6.6 9.3 10.8-6.9 15.9-2.1 1.4zM237.4 205.4l10.9 12.3-1.2 9-5.6 3.8-17.5-8.1 6.9-17.7zM326.8 214.4l7.3 8.9-6.6 14.7-13.1-6.1-2.7-5.9zM157.3 211.8l-20.2 9.7-5.3-1.3-3.9-12.3 15.4-17.1zM158.6 238.3l-1.9 16.3-12.6 0-3.8-7 7.5-10.4zM155.4 0l22.6 0 .1 3.5-12.2 3.6zM376.3 41.5l0 10.2-7.3 9.1-2.6-.1-10.7-18 1.4-1.7zM344.5 165.8l8.1-12.3 1.4 0 14.7 13.4-.1 2.6-14.6 8.5zM0 0l6.9 0 3.3 12.4-.1 .2-10.1 2zM24.1 254.6l-14.8 0-5.9-8.5 8.8-16.7 7.2-.4 7.4 7.9zM181.4 68.7l10 19-1.4 3.8-19.2 5.5-9.8-21.1 17.7-7.8zM326.8 214.4l-15.1 11.6-7.4-4.8-.8-11.7 18-11.4 7.1 4.4zM285.8 177.8l7.4 18.6-.5 1.8-8.2 4-21.4-7.7 6.9-15.9 11.5-2.6zM97.2 254.6l-25 0 4.4-8.3 11.6-2.2 4 2 5.1 8zM290 33.1l7.9 5.4 2.9 16.6-3.9 4.7-8.4 2.3-9.2-5.6-.8-17.9zM127.4 22.6l21.4-1.7 6.2 5.7-2.1 14.6-18.2 4.4-6.2-3.3-4.1-16.4zM86.1 44.4l5.4 17.9-13.8 1.3-4-14.4 9.3-5.7zM157.6 155.6l12.8 12.6-18.6 8.5-7.6-17.6zM222.3 71.6l7 18.2-.9 1.1-13.9 2.2-9.4-10.7 5.3-12.4 4.8-2.6zM215.4 45.6l8.5-13.5 16.4 1.7-5 19.3-16 .7zM263.1 194.5l21.4 7.7-6.4 14.5-3.8 1.4-13.4-11.8 .1-10.4zM7.8 164.4l-6.4 18.8-1.4-.1 0-31.6 2.6 .5zM242.3 68.2l-20 3.4-7.1-4.2 4.1-13.6 16-.7zM131.1 3.9l16.8 2.3 .9 14.7-21.4 1.7 0-15.9zM376.3 80.2l0 9.8-7.5 7.3-13.9-9-.8-10.8zM128.5 42.3l-18.2 11.3-.8-.1-10-14.5 4.7-17.1 20.2 4zM366.6 203.4l-15.3 12.8-10.8-14.6 13.2-12.5 12.1 5.6zM191.7 62.3l18.7 7.7-5.3 12.4-13.7 5.3-10-19zM267.3 68.9l8.3 12.1-.8 5.1-11.9 7.3-16.7-7-.8-1 1.1-13.4zM298.9 151.8l-16.9 4.2-8.1-4.5-.1-8.6 17.5-10.3 8.7 17.9zM242.5 177.7l10.5 15.6-15.6 12.1-6.5-.7-8.6-9.8 .9-11.8zM186.3 218.9l20.4-.8 7.4 7.9-1.8 6.9-16.9 7.7-8.2-7.7zM340.5 201.6l10.8 14.6 0 3.8-.9 1.6-16.3 1.7-7.3-8.9 1.8-11.9zM233.7 254.6l-17.6 0 4.5-9.4 12.4 1zM33.3 0l26.5 0-6.2 12.5-20.2-6.4zM260.9 0l23.1 0-.6 9.5-16.3 4.4-6.6-5.2zM376.3 116l0 6.9-9.8 10.9-15-7.1-1.5-3.4 3.7-8.6 14.4-5.9zM99.5 39l-13.4 5.4-3.1-.9-7.6-16.1 2.1-7.7 26.3 1.6 .4 .6zM24.4 206.6l-19.6 1.3-.9-.9-1.1-22.8 11.4 .3 10.6 10.1zM376.3 90l0 26-8.2-7.2 .7-11.5zM115.7 146l-4.5 18.3-8.8 2.9-6.6-21.6 6.4-7.4 6-.9zM342.7 99.4l11 15.3-3.7 8.6-15.5-2.8 .2-20.2 2.9-1.6zM135 77.3l-1.9-5.7 3.9-6.2 16.6-1.3 6.1 11.2zM76.6 246.3l-12.5-9.3 9.5-14.7 4.4-.7 6 4 4.2 18.5zM158.6 238.3l-10.8-1.1-10.7-15.7 20.2-9.7 8.5 4-2.3 19.4zM204.1 40.7l.7-18.2 14.6 1.4 4.5 8.2-8.5 13.5zM315.8 30.8l-12.6-14.3 4-6.7 15.6-3.4 8.3 4.2-9 21.7zM238.9 0l22 0-.4 8.7-16.4 6.9-6.1-5.5zM75.4 27.4l-16.8 10.3-7.5-1.6-.3-.5 4.8-19.4 21.1 2.3 .8 1.2zM0 151.5l0-25 12.8 .4 4 15.7-14.2 9.4zM157.8 47.3l-4.2 16.8-16.6 1.3-2.3-19.8 18.2-4.4zM272 123.6l-13.1-11.9 5-6.2 16 1.2 .9 1.1-.4 13.4zM177.5 254.6l-20.8 0 1.9-16.3 4.9-3.1 10.6 4.5zM218 177.6l-24.8 9.8-2.8-5.3 8.8-19.5 18.1 11zM7 105.6l-7 1.7 0-25.6 4.8 1.1 4.2 19.4zM372.1 0l4.2 0 0 18.7-7.2-3.3zM33.4 92.3l19 7.5-6.2 14.4-14.8-4.3-2.7-8.1zM376.3 122.9l0 24.4-8.6-7.5-1.2-6zM228.4 90.9l4.7 19.1-.3 .5-22.8 .5-2.2-3.6 6.7-14.3zM211.2 145.9l-14.4 10-.8-.5-3-22.5 1.1-1.3 6.2-1zM320.6 0l14.7 0 0 8.7-4.2 1.9-8.3-4.2zM79.9 146.6l-2.7 20.7-9 4.7-6.1-4.4-3.7-16.6 12.3-8.3 5.2 .4zM127 176l-19 12.1-7.3-18.5 1.7-2.4 8.8-2.9 15.2 7.7zM260.9 206.3l13.4 11.8-3.6 10.4-23.6-1.8 1.2-9zM95.8 145.6l6.6 21.6-1.7 2.4-23.5-2.3 2.7-20.7zM320.5 132.5l-9.8 17-10.7 1-8.7-17.9 .3-3.4 6.7-5.6zM64.3 186.1l-19.7 1.6-3.6-3.2-1.5-6.9 2-5.1 20.6-4.9 6.1 4.4zM123 125.3l14.6 16.8-1.1 3.7-20.8 .2-7.5-8.7 8.4-12zM330.6 245.4l-10.3 9.2-7.5 0-9-7.9 10.6-14.8 13.1 6.1 3.2 4.7zM218.6 0l20.3 0-.9 10.1-12.4 1.2-7.3-7.2zM123 94.3l-11.7-8.9-.5-5.6 9-10.2 13.3 2 1.9 5.7-11.2 17zM178 0l16 0-.2 1.5-11.1 5.2-4.6-3.2zM131.7 0l20.8 0-4.6 6.2-16.8-2.3zM273.9 151.5l8.1 4.5-.5 20-11.5 2.6-9.3-10.8 1.8-8.8zM217.3 173.6l7.7-13.7 11.5 .7 7.4 13.8-1.4 3.3-19.3 5.4-5.2-5.5zM96.8 0l18.5 0-.2 2.2-9.4 6.7zM41.9 78.5l-8.6 12.1-15.9-16.5 .5-1.6 12.7-10.1zM193 132.9l3 22.5-17.4 2.1-10.1-20.2 .4-.5zM284 0l20.6 0 2.6 9.8-4 6.7-10.3 3-9.5-10zM345.2 47.3l-2.5 14.7-21.9-.9-1.7-4.1 6.9-17.4zM146 118.5l2.3 15.8-10.7 7.8-14.6-16.8 12.5-10.7zM55.5 125.1l15.2 17.6-12.3 8.3-12.9-5.7 8.4-20.3zM29.7 28.8l-15.5-4.8-4.1-11.4 .1-.2 22.3-5.3-2.2 21.4zM83 43.5l-9.3 5.7-15.1-11.5 16.8-10.3zM337.2 254.6l-16.9 0 10.3-9.2zM352.6 153.5l-8.1 12.3-17-4.8 11-15 4.2-.6zM101.3 219.8l-17.3 5.8-6-4 3.4-15 21.6-2.2zM182.7 6.7l11.1-5.2 10.9 10-1 9.9-19.8 3.7zM14.5 122.2l-7.5-16.6 2-3.4 19.7-.4 2.7 8.1zM208.5 201l-1.8 17.1-20.4 .8-4.9-5.6 11.9-20.9zM44.9 254.6l-20.8 0 2.7-17.7 14 3.2zM225.6 11.3l-6.2 12.6-14.6-1.4-1.1-1.1 1-9.9 13.6-7.4zM0 55.2l0-20.8 6.9 .9 3.6 9-10.1 10.8zM350.8 234.8l-20.1 7.9-3.2-4.7 6.6-14.7 16.3-1.7zM313.5 184.5l-20.3 11.9-7.4-18.6 13.3-6.4 14.3 8.6zM250.1 124.1l-9.3 1-8-14.6 .3-.5 12.3-3.5 10.4 6.1zM170.8 97l19.2-5.5 3.5 11.4-9.2 10.7-13.3 .4-2.7-3zM246.2 86.4l-.8 20.1-12.3 3.5-4.7-19.1 .9-1.1 16.1-4.4zM376.3 212l0 5.7-5 5-20-2.7 0-3.8 15.3-12.8zM99.1 90.4l-9.2-7.6 6.2-12.6 14.7 9.6 .5 5.6zM88.2 104.7l-9.8-17.9 11.5-4 9.2 7.6-5.8 16zM270.7 228.5l3.6-10.4 3.8-1.4 15.5 9.4-4.8 11.5-5.9 2.7zM354.1 77.5l.8 10.8-12.2 11.1-5.1-.7 .2-18.2 10.5-8 2.9 1zM376.3 237.3l0 12.7-9.6-5.7 5-6.3zM91.5 62.3l-5.4-17.9 13.4-5.4 10 14.5-14.7 10.6zM0 226.1l0-19 3.9-.1 .9 .9 .9 16.9zM110.3 53.6l9.5 16-9 10.2-14.7-9.6-1.3-6.1 14.7-10.6zM75.9 143.1l8-16.9 6.6-1.5 11.7 13.5-6.4 7.4-15.9 1zM376.3 51.7l0 19.3-7.3-10.2zM9.3 254.6l-9.3 0 0-8.8 3.4 .3zM115.3 0l16.4 0-.6 3.9-3.7 2.8-12.3-4.5zM303.2 246.8l-6.3 7.8-12.6 0-1.4-14.3 5.9-2.7zM318.7 68.1l-13.8 3.9-8-12.2 3.9-4.7 18.3 1.9 1.7 4.1zM296.9 59.8l8 12.2-5 10.2-12.9-9.1 1.5-11zM240.8 125.1l9.3-1 4.9 11.4-7.9 9.6-3.3 .4-5.6-3.8zM296 107.6l-15.2 .2-.9-1.1 2.3-12.9 19.5-1.5 0 .1zM178.7 68.1l-9.2-19 14.9-12.4 9.6 6.8-2.3 18.8-10.3 6.4zM1.4 183.2l6.4-18.8 12.6 .6 2.7 10.3-8.9 9.2-11.4-.3zM376.3 217.7l0 19.6-4.6 .7-.4-15.3zM83.9 126.2l-12.9-11.4 .3-1.4 16.9-8.7 5.1 1.7 2.7 3.9-5.5 14.4zM122.8 254.6l-25.6 0 .1-.5 24.4-5.1zM335.3 0l16.4 0-3 9.1-13.4-.4zM73.6 222.3l-9.5 14.7-2.8 .3-6.8-5.2 2.5-20.5 .7-.2zM243.8 145.5l-7.3 15.1-11.5-.7-3.2-10.5 16.4-7.7zM170.4 168.2l-12.8-12.6 8.5-17.5 2.4-.8 10.1 20.2-6.8 10.6zM202.1 254.6l-20.8 0 13.7-8.8zM376.3 158.7l0 20.1-7.7-9.3 .1-2.6zM6.9 35.3l7.3-11.3 15.5 4.8-8.2 17-11-1.5zM291.3 132.6l-17.5 10.3-6.4-7.3 4.6-12 8.4-2.4 11.2 8zM282.2 93.8l-2.3 12.9-16-1.2-1-12.1 11.9-7.3zM367.7 139.8l-13.7 13.7-1.4 0-9.9-8.1 8.8-18.7 15 7.1z" fill="#ea8b83" stroke="#1d1d1d" stroke-width="3.0" stroke-linejoin="round"/><path d="M58.6 37.7l15.1 11.5 4 14.4-8.7 20.4-4.7 2.3-22.4-7.8-11.3-16.1 .3-2.5 20.2-23.8zM135 77.3l24.7-2 1.3 .6 9.8 21.1-2.5 14-22.3 7.5-10.5-3.9-11.7-20.3zM279.3 56.5l-12 12.4-20.8 3.1-4.2-3.8-7-15.1 5-19.3 4.2-4.1 21.9 0 12.1 8.9zM360.1 17.6l-3 23.4-1.4 1.7-10.5 4.6-19.2-7.7-3.9-7.3 9-21.7 4.2-1.9 13.4 .4zM14.5 122.2l16.9-12.3 14.8 4.3 7.7 10.8-8.4 20.3-11.9 6.3-3.2-.3-13.6-8.7-4-15.7zM232.8 110.5l8 14.6-2.6 16.6-16.4 7.7-10.6-3.5-10.9-15.3 9.7-19.6zM317.2 90.8l17.5 9.5-.2 20.2-11.4 11.3-2.6 .7-22.2-8.9-2.3-16 5.7-15.2zM103 204.4l-21.6 2.2-13.1-7.4-4-13.1 3.9-14.1 9-4.7 23.5 2.3 7.3 18.5-1.3 12.8zM157.3 211.8l-14-21 0-1.1 8.5-13 18.6-8.5 1.4-.1 18.6 14 2.8 5.3 .1 5-11.9 20.9-15.6 2.5zM54.5 232.1l-13.7 8-14-3.2-7.4-7.9 5.9-21.3 21.3-2.8 10.4 6.7zM313.4 180l11.4-18.2 2.7-.8 17 4.8 9.5 12.2-.3 11.1-13.2 12.5-11.9 .9-7.1-4.4-8-13.6zM284.3 254.6l-50.6 0-.7-8.4 8.5-15.7 5.6-3.8 23.6 1.8 12.2 11.8z" fill="#c5dcf3" stroke="#1d1d1d" stroke-width="3.0" stroke-linejoin="round"/></g><rect width="376.3" height="254.6" fill="none" stroke="#1d1d1d" stroke-width="2.2"/></g>
<g transform="matrix(1 0.1507 0.8453 -0.5351 1070.7 1014)"><g clip-path="url(#ce2)"><path d="M280.5 26.8l7.2 13.9-.6 1.1-11.9 5.1-9.2-7.7 6.7-15.7zM12.1 18.8l3.6 14.3-.9 .6-14.8-3.4 0-9.2 5.8-5.2zM118.9 94.7l14.7 .8 1.6 2.5-5.4 10.2-9.8 .5-4.1-5zM123.8 0l15.7 0 .8 3.6-5.6 9.7-5.2 1.3-7.6-3.7-.8-1.4zM92.7 0l.1 0 10.3 10-.9 9.1-6.2 3.7-3.1-1-6.6-14.2 1.5-4.1zM240.6 36.6l-17 6.9-1.9-1.7-3.6-16.1 .1-.3 13.4-6 4.1 1.6 5.6 13.7zM218.2 25.4l-7.6-11.8 5.2-10.8 11.5 .7 4.3 15.9zM133.6 95.5l-14.7-.8-1.7-4.1 7.7-10.2 7.8 3.4zM376.3 40.5l0 20.6-10.8-5.8-.3-1.4 10.8-13.4zM115.8 121.9l-12.1 10.5-10.8-10.9 8.3-11 14.6 11.4zM354.4 130.7l14 7.6-23.2 0-.2-.9zM376.3 95.9l0 15.5-2.6 .2-10.7-10.5 3.9-7.9zM70.6 73.9l-14.9 7.3-9.5-7.5 1.6-6.9 5.2-3.7 16.5 3.4zM81.8 58.4l11.4 8.9-.3 9.9-2.8 1.4-17.5-2.4-2-2.3-1.1-7.4 .4-.7zM115.9 103.7l-13.9 3.1-2.2-16 3-6.1 14.4 5.9 1.7 4.1zM121.9 10.9l-9.4 11.9-10.3-3.7 .9-9.1 9.9-4.8 8.1 4.3zM187.7 0l15.9 0-3.7 11.9-9.8 .5zM24.4 118.5l1.4 14.9-5 4.9-9.5 0-5.2-8.2 .9-5.8 16.4-6.3zM230 .2l14.7 .9 5.5 5.3 .6 4.7-15.1 9.9-4.1-1.6-4.3-15.9zM140.3 3.6l13.4 4.3-.8 5.3-11.7 4.3-6.5-4.2zM25.1 32.4l8.8 16.2-.7 1.7-14.4 6.5-2.8-1.3-4.7-13.5 3.5-8.3 .9-.6zM196.1 98l-3.6-13 14.6-4.7 3.3 14.1-8.2 6.8zM176.6 132.2l-1.3-11.1 10.5-7.6 9.3 3.8-.8 13.6-10.1 4.8zM307.9 45l13.7-1.5 5.6 7-6.9 12.4-11.3-.6-3.6-7.2zM272.7 23.5l-6.7 15.7-5.2 1.4-7.3-8.2 6.4-12.7 12 2.4zM57.1 138.3l-19.1 0-1.8-4.3 3-5.9 10.8-1.8 7.6 10.1zM128.1 48.1l4.3 4.5-1 11.9-11.5 4.6-2.6-1.5-4.5-9.5 2.1-4.5 10.5-6.3zM321.6 43.5l-13.7 1.5-1.9-3.8 10.4-15.1 4.6-.9 1.4 .8zM230 0l14.7 0 0 1.1-14.7-.9zM251 129.4l-15.3 8.9-5.4 0-5.5-7.5 3.4-8.7 11-4.6zM376.3 2.9l0 18.3-3.2-1-3.6-10.7zM304 9l.4 12.8-6.5 2.7-4.6-2.7-2.6-10.8 4.4-3.8zM90.1 78.6l-5.2 14.1-10.6-3.8-1.7-12.7zM259.9 19.7l-6.4 12.7-12.2 2.3-5.6-13.7 15.1-9.9zM196 56.1l9.7-4.2 6.9 5.5-6 13.8-12-6.9-.9-2.7zM164.1 79.6l13.6-9.9 8.5 5.3 1.8 8.1-6.1 4.7-16.4-3.1zM143.5 71.6l-12.1-7.1 1-11.9 13.6-.1 3.7 6.2-3.1 12zM55.1 91.7l.6-10.5 14.9-7.3 2 2.3 1.7 12.7-7.7 7.6zM80 0l12.7 0-4.9 3.5zM114.9 53.6l-10.4-15.1 10.8-9.4 8.2 3 1.9 15.2zM356.5 45.1l8.7 8.8 .3 1.4-8.8 10.5-12.8-1-2.2-12.7 5.8-6.3zM298.3 75.4l-8.7-7.1 .4-13.2 15.4 0 3.6 7.2zM287.7 40.7l-7.2-13.9 12.8-5 4.6 2.7-.3 12.1zM361.1 6.5l8.4 3 3.6 10.7-12.4 9.8-1.8-1.1-8.1-14 .8-4.6zM350.8 14.9l-11.6 9.8-3.9-1.2 .2-13.5 10.3-4.8 5.8 5.1zM277.3 70.2l12.3-1.9 8.7 7.1-.2 2.7-17 9-6.7-13.5zM146.6 70.7l3.1-12 13.8-1-3.7 17.2zM101.9 138.3l-16 0-3.9-5.1 4.5-10.9 6.4-.8 10.8 10.9 .2 2.5zM269.1 98.2l-7-12.4 8.4-12.2 3.9 0 6.7 13.5-1.3 4.4zM76.6 25.5l-3.1-12.1 .3-.6 12.5-5.2 6.6 14.2zM84 105.8l2.5 16.4-18.9-3.4 3.5-11.6zM67.6 118.8l18.9 3.4 0 .1-4.5 10.9-5.6 1.8-9.3-5-.4-10.2zM46 42.4l8.2 9.7-1.2 11-5.2 3.7-14.6-16.5 .7-1.7zM146 52.5l-13.6 .1-4.3-4.5 14.7-10.6 5.2 8.6zM120 108.7l-4.2 13.2-14.6-11.4 0-2.7 .8-1 13.9-3.1zM6.9 74.8l-.8 4.8-6.1 3.6 0-16.4zM134.7 13.3l6.5 4.2-.2 13.8-12.5-2.7 1-14zM293.8 101.7l14.4 6.2 .9 1.4-2.1 3.8-11.2 4.4-5.3-7.4zM376.3 21.2l0 19.3-.3 0-14.4-6.5-.9-4 12.4-9.8zM319.2 109.7l1.9 12.9-11.9 3.8-2.2-13.3 2.1-3.8zM361.8 0l14.5 0 0 2.9-6.8 6.6-8.4-3zM351.4 107.7l-17.2 7-9.9-8.7 3.1-12.7 2.3-1.7 15.3 5.5 6.4 10.1zM23.4 118l-16.4 6.3-5.7-8.2 11.3-14.3 5 3.2zM104.5 38.5l10.4 15.1-2.1 4.5-11.5 .5-7.7-7.9 9.2-12.4zM11.3 138.3l-11.3 0 0-6.3 6.1-1.9zM250 74.6l-11.3-13.2 0-.3 2.9-2.6 18 .8 .7 6.3zM138.7 137.5l-17.3 .6 .3-11.2 14.9-4.6 1.2 .4 4.7 9.1zM371.6 80.5l4.7 1.5 0 13.9-9.4-2.7-.3-1.6zM0 0l13.2 0-8.3 7.8-4.9-2.6zM92.8 0l19.5 0 .7 5.2-9.9 4.8zM316.4 26.1l-12-4.3-.4-12.8 6.8-4.2 9.3 3.5 .9 16.9zM159.8 44.5l-11.8 1.6-5.2-8.6 .3-4 12.2-3.2zM298.5 138.3l-18.4 0 2.4-12.1 11.2-.1 4.7 4.1zM213.8 95l14.7-10.7 1.4-.1-.8 17.3-5.8 2.4zM202.4 13.9l-.9 11-14.3 3-3.9-7.5 6.8-8 9.8-.5zM207.8 115.1l5.3 16.5-1.4 1.3-12 1.3-5.4-3.3 .8-13.6 7.5-4.8zM230.3 138.3l-18.4 0-.2-5.4 1.4-1.3 11.7-.8zM276.1 56.1l1.2 14.1-2.9 3.4-3.9 0-10.2-8-.7-6.3 .3-.6 14.8-3.9zM376.3 61.1l0 8.1-5.2 9.3-11.4-4.5-3-8.2 8.8-10.5zM280.1 138.3l-10.3 0-3.6-8.8 15.5-4 .8 .7zM294.1 0l16.3 0 .4 4.8-6.8 4.2-8.9-1.8zM279.8 91.5l13.8 9.4 .2 .8-3.3 8.4-11.8 4.5-7.7-5.5-2.4-9.7 .5-1.2zM167 115.3l8.3 5.8 1.3 11.1-8.7 4.2-11.2-3.9 3.7-14.5zM121.3 138.3l-5.3 0-12.1-3.4-.2-2.5 12.1-10.5 5.9 5-.3 11.2zM71.6 42.7l-5.8 7.6-11.6 1.8-8.2-9.7 2.9-11.1 .5-.5 14.5-.3 5.7 2.7zM228.2 122.1l-7.7-10.7 2.8-7.5 5.8-2.4 10.2 3.5-.1 12.5zM212.6 57.4l-6.9-5.5 .7-8.8 15.3-1.3 1.9 1.7 .4 8.2zM353.2 84.9l13.4 6.7 .3 1.6-3.9 7.9-11.6 6.1-6.4-10.1zM338.8 72.6l13.9 9.7 .5 2.6-8.2 12.2-15.3-5.5 4.3-16.7zM308.9 127l5.5 9.6-1.1 1.7-14.8 0-.1-8.1zM155.7 0l15.7 0-2.3 7.1-14-.7zM329.1 138.3l-15.8 0 1.1-1.7 9.4-1.6zM367.1 118.1l7.3 13.6-4.9 6.6-1.1 0-14-7.6 2.6-13.6zM170.2 104.6l-3.2 10.7-6.6 2.7-10.2-6.5-.7-8.2 13.1-7.4zM61.9 0l10.7 0-2.6 2.4-8.1-1.7zM117.3 67.6l-14.9 15.6-9.5-6 .3-9.9 8.1-8.7 11.5-.5zM325.6 0l19.6 0 .6 5.2-10.3 4.8-10.6-5.4zM203.6 0l9.8 0 2.4 2.8-5.2 10.8-8.2 .3-2.5-2zM376.3 131l0 7.3-6.8 0 4.9-6.6zM323.1 124l.7 11-9.4 1.6-5.5-9.6 .3-.6 11.9-3.8zM253.5 32.4l7.3 8.2-3.7 6.1-11.6-.5-4.9-9.6 .7-1.9zM0 21.1l0-15.9 4.9 2.6 .9 8.1zM278.7 114.6l3 10.9-15.5 4-5.2-2.8 10-17.6zM195.1 117.3l-9.3-3.8-4.1-9.9 1.5-2.1 12.9-3.5 6.1 3.2 .4 11.3zM28.9 83.4l5.1 17.1-16.4 4.5-5-3.2-1.5-3.4 2.6-6.9 14.1-8.3zM124.9 80.4l-7.7 10.2-14.4-5.9-.4-1.5 14.9-15.6 2.6 1.5zM324.9 4.6l10.6 5.4-.2 13.5-12.9 2.5-1.4-.8-.9-16.9zM51.8 121.4l-1.8 4.9-10.8 1.8-5.3-11.2 5-5.9zM34 100.5l-5.1-17.1 9.8-2.8 8.1 13.9-8.1 9zM245 94.5l-15-10.4 3.6-4 15.8-1.8 2.3 4.1zM166.2 55.2l11.3 10.1 .2 4.4-13.6 9.9-4.3-4.7 3.7-17.2zM309 92.5l-.8 15.4-14.4-6.2-.2-.8 10.6-11.4zM207.1 80.3l-14.6 4.7-4.5-1.9-1.8-8.1 8.4-10.7 12 6.9 1.8 6.7zM155 133.3l.2 5-16.5 0 0-.8 3.8-5.7zM14.3 0l18 0-.5 2.9-7.1 4.1zM266.2 129.5l3.6 8.8-16.1 0-1.9-8.7 9.2-2.9zM187.2 27.9l14.3-3 5.3 4-3 11.4-8.9 0-7.6-9.3zM376.3 111.4l0 19.6-1.9 .7-7.3-13.6 6.6-6.5zM270.5 73.6l-8.4 12.2-10.4-3.4-2.3-4.1 .6-3.7 10.3-9zM171.4 0l16.3 0 2.4 12.4-6.8 8-10.3-3.5-3.9-9.8zM86.7 95.4l13.1-4.6 2.2 16-.8 1-14.3-5zM181.9 87.8l1.3 13.7-1.5 2.1-11.5 1-7.6-8.7 2.9-11.2zM150.2 111.5l-12.4 11.2-1.2-.4-6.8-14.1 5.4-10.2 14.3 5.3zM0 62.6l0-20.1 11.3-.5 4.7 13.5zM15.7 33.1l-3.6-14.3 10.8-5.5 4.6 16.3-2.4 2.8zM93.6 50.7l7.7 7.9-8.1 8.7-11.4-8.9 1.8-5.7zM0 96.1l0-12.9 6.1-3.6 7.6 11.9-2.6 6.9zM344.7 30.7l14.2-1.8 1.8 1.1 .9 4-5.1 11.1-9 .7zM142.8 37.5l-14.7 10.6-2.7-.8-1.9-15.2 5-3.5 12.5 2.7 2.1 2.2zM155.1 6.4l14 .7 3.9 9.8-13.8 5.6-6.3-9.3 .8-5.3zM12.6 101.8l-11.3 14.3-1.3-.3 0-19.7 11.1 2.3zM266 39.2l9.2 7.7-.5 7.9-14.8 3.9-2.8-12 3.7-6.1zM184.2 135.7l0 2.6-16.3 0 0-1.9 8.7-4.2zM63.9 30.5l.4-13.2 9.2-3.9 3.1 12.1-7 7.7zM320.3 62.9l6.9-12.4 14.5 1.6 2.2 12.7-5.1 7.8-4.8 2.3zM129.5 14.6l-1 14-5 3.5-8.2-3-2.8-6.3 9.4-11.9zM245.6 98l-.6-3.5 6.7-12.1 10.4 3.4 7 12.4-.5 1.2zM86.5 122.2l-2.5-16.4 2.9-3 14.3 5 0 2.7-8.3 11-6.4 .8zM33.9 48.6l-8.8-16.2 2.4-2.8 21.4 1.7-2.9 11.1zM74.3 88.9l10.6 3.8 1.8 2.7 .2 7.4-2.9 3-12.9 1.4-4.5-10.7zM221.7 41.8l-15.3 1.3-2.6-2.8 3-11.4 11.3-3.2zM18 72l-11.1 2.8-6.9-8 0-4.2 16-7.1 2.8 1.3zM67.1 130l-9.5 6.4-7.6-10.1 1.8-4.9 14.9-1.6zM38 138.3l-17.2 0 5-4.9 10.4 .6zM199.7 134.2l.4 4.1-15.9 0 0-2.6 10.1-4.8zM281.6 9.7l9.1 1.3 2.6 10.8-12.8 5-7.8-3.3-.8-1.4zM184.6 59.4l-4.2-10.4 11.1-1.7 4.5 8.8-2.3 5.5zM13.2 0l1.1 0 10.4 7-1.8 6.3-10.8 5.5-6.3-2.9-.9-8.1zM115.8 121.9l4.2-13.2 9.8-.5 6.8 14.1-14.9 4.6-5.9-5zM376.3 69.2l0 12.8-4.7-1.5-.5-2zM163.5 57.7l-13.8 1-3.7-6.2 2-6.4 11.8-1.6 7.4 6.8-1 3.9zM213.8 95l9.5 8.9-2.8 7.5-12.7 3.7-5.2-2.6-.4-11.3 8.2-6.8zM316.4 26.1l-10.4 15.1-8.4-4.6 .3-12.1 6.5-2.7zM52.6 10.9l11.7 6.4-.4 13.2-14.5 .3zM139.5 0l16.2 0-.6 6.4-1.4 1.5-13.4-4.3zM304.2 89.5l-10.6 11.4-13.8-9.4 1.3-4.4 17-9zM141 31.3l.2-13.8 11.7-4.3 6.3 9.3-3.9 7.8-12.2 3.2zM0 42.5l0-12.2 14.8 3.4-3.5 8.3zM277.3 70.2l-1.2-14.1 13.8-1 .1 0-.4 13.2zM102.8 84.7l-3 6.1-13.1 4.6-1.8-2.7 5.2-14.1 2.8-1.4 9.5 6zM290.5 110.1l5.3 7.4-2.1 8.6-11.2 .1-.8-.7-3-10.9zM238.7 61.4l11.3 13.2-.6 3.7-15.8 1.8zM137.8 122.7l12.4-11.2 10.2 6.5-3.7 14.5-1.7 .8-12.5-1.5zM361.6 34l14.4 6.5-10.8 13.4-8.7-8.8zM259.6 59.3l-18-.8 3.9-12.3 11.6 .5 2.8 12zM305.4 55.1l-15.4 0-.1 0-2.8-13.3 .6-1.1 9.9-4.1 8.4 4.6 1.9 3.8zM331.1 122.6l-8 1.4-2-1.4-1.9-12.9 5.1-3.7 9.9 8.7zM81.8 58.4l-11.9 7.4-4.1-15.5 5.8-7.6 12 10zM76.4 135l-.3 3.3-19 0 .5-1.9 9.5-6.4zM181.7 103.6l4.1 9.9-10.5 7.6-8.3-5.8 3.2-10.7zM245.5 46.2l-3.9 12.3-2.9 2.6-14.7-9.4-.4-8.2 17-6.9zM167.9 136.4l0 1.9-12.7 0-.2-5 1.7-.8zM61.9 .7l8.1 1.7 3.8 10.4-.3 .6-9.2 3.9-11.7-6.4-1.1-3.7 .3-.6zM13.7 91.5l-7.6-11.9 .8-4.8 11.1-2.8 9.8 11.2zM310.4 0l15.2 0-.7 4.6-4.8 3.7-9.3-3.5zM345.2 138.3l-16.1 0 6.8-3.9 9.1 3zM6.1 130.1l-6.1 1.9 0-16.2 1.3 .3 5.7 8.2zM213.1 131.6l-5.3-16.5 12.7-3.7 7.7 10.7-3.4 8.7zM345.2 0l16.6 0-.7 6.5-9.5 3.8-5.8-5.1zM228.5 84.3l-14.7 10.7-3.4-.6-3.3-14.1 1.3-2.4zM23.4 118l-5.8-13 16.4-4.5 4.7 3 .2 7.5-5 5.9-9.5 1.6zM46.8 94.5l-8.1-13.9 7.5-6.9 9.5 7.5-.6 10.5zM363 101.1l10.7 10.5-6.6 6.5-10.1-1-5.6-9.4 0-.5zM25.8 133.4l-1.4-14.9 9.5-1.6 5.3 11.2-3 5.9zM116 138.3l-14.1 0 2-3.4zM213.4 0l16.6 0 0 .2-2.7 3.3-11.5-.7zM180.4 49l4.2 10.4-7.1 5.9-11.3-10.1 1-3.9 11.2-3.4zM32.3 0l17.9 0 1.6 6.6-.3 .6-19.7-4.3zM358.9 28.9l-14.2 1.8-5.5-6 11.6-9.8zM50.2 0l11.7 0 0 .7-10.1 5.9zM253.7 138.3l-18 0 15.3-8.9 .8 .2zM280.3 0l13.8 0 1 7.2-4.4 3.8-9.1-1.3zM177.5 65.3l7.1-5.9 9.1 2.2 .9 2.7-8.4 10.7-8.5-5.3zM102.2 19.1l10.3 3.7 2.8 6.3-10.8 9.4-1.7-.2-6.8-15.5zM131.4 64.5l12.1 7.1-10.8 12.2-7.8-3.4-5-11.3zM65.8 50.3l4.1 15.5-.4 .7-16.5-3.4 1.2-11zM244.7 0l9 0-3.5 6.4-5.5-5.3zM324.3 106l-5.1 3.7-10.1-.4-.9-1.4 .8-15.4 18.4 .8zM192.5 85l3.6 13-12.9 3.5-1.3-13.7 6.1-4.7zM187.3 31l7.6 9.3-3.4 7-11.1 1.7-2-1.1zM72.6 0l7.4 0 7.8 3.5-1.5 4.1-12.5 5.2-3.8-10.4zM205.7 51.9l-9.7 4.2-4.5-8.8 3.4-7 8.9 0 2.6 2.8zM293.7 126.1l2.1-8.6 11.2-4.4 2.2 13.3-.3 .6-10.5 3.2zM85.9 138.3l-9.8 0 .3-3.3 5.6-1.8zM230 84.1l15 10.4 .6 3.5-6.3 7-10.2-3.5 .8-17.3zM211.7 132.9l.2 5.4-11.8 0-.4-4.1zM366.6 91.6l-13.4-6.7-.5-2.6 7-8.3 11.4 4.5 .5 2zM206.8 28.9l-5.3-4 .9-11 8.2-.3 7.6 11.8-.1 .3zM329.1 138.3l0 0-5.3-3.3-.7-11 8-1.4 4.8 11.8zM289.9 55.1l-13.8 1-1.4-1.3 .5-7.9 11.9-5.1zM138.7 138.3l-17.4 0 .1-.2 17.3-.6zM112.3 0l11.5 0-2.7 9.5-8.1-4.3zM356.7 65.8l3 8.2-7 8.3-13.9-9.7 5.1-7.8z" fill="#ea8b83" stroke="#1d1d1d" stroke-width="2.5" stroke-linejoin="round"/><path d="M66.6 96.5l4.5 10.7-3.5 11.6-.9 1-14.9 1.6-12.9-10.4-.2-7.5 8.1-9 8.3-2.8zM27.8 83.2l-9.8-11.2 .8-15.2 14.4-6.5 14.6 16.5-1.6 6.9-7.5 6.9-9.8 2.8zM48.9 31.3l-21.4-1.7-4.6-16.3 1.8-6.3 7.1-4.1 19.7 4.3 1.1 3.7-3.2 19.9zM102.8 38.3l-9.2 12.4-10 2-12-10-2-9.5 7-7.7 16.3-3.7 3.1 1zM162.6 95.9l-13.1 7.4-14.3-5.3-1.6-2.5-.9-11.7 10.8-12.2 3.1-.9 13.2 4.2 4.3 4.7 1.4 5.1zM187.3 31l-8.9 16.9-11.2 3.4-7.4-6.8-4.5-14.2 3.9-7.8 13.8-5.6 10.3 3.5 3.9 7.5zM238.7 61.4l-5.1 18.7-3.6 4-.1 .1-1.4 .1-20.1-6.4-1.8-6.7 6-13.8 11.4-5.7 14.7 9.4zM245.6 98l23 1.4 2.4 9.7-10 17.6-9.2 2.9-.8-.2-11.8-11.9 .1-12.5zM320.3 62.9l13.7 12-4.3 16.7-2.3 1.7-18.4-.8-4.8-3-6.1-11.4 .2-2.7 10.7-13.1zM335.9 134.4l-4.8-11.8 3.1-7.9 17.2-7 5.6 9.4-2.6 13.6-9.4 6.7zM344.7 30.7l2.8 15.1-5.8 6.3-14.5-1.6-5.6-7 .8-17.5 12.9-2.5 3.9 1.2zM253.7 0l26.6 0 1.3 9.7-9.7 12.4-12-2.4-9.1-8.6-.6-4.7z" fill="#c5dcf3" stroke="#1d1d1d" stroke-width="2.5" stroke-linejoin="round"/></g><rect width="376.3" height="138.3" fill="none" stroke="#1d1d1d" stroke-width="2"/></g>
<defs><clipPath id="ce3"><rect width="157.4" height="262"/></clipPath><clipPath id="ce4"><rect width="104" height="266"/></clipPath><clipPath id="ce5"><path d="M0 0H160L276 0V146H0Z"/></clipPath></defs>
<g transform="matrix(1 0.1557 0 1 1071.3 1535.9)"><g clip-path="url(#ce3)"><path d="M4.7 177.3l-1.5 21.8-3.2 1.4 0-25.1zM50.8 94.7l-20.6-4.5-4.3-13.9 12.1-6.1 16.3 14.9zM65.5 106.6l-1.6 17.5-14.3 1.8-9.6-13.3 11.6-14.6zM132.5 77.2l-19.6-10.7 3.8-12 11.5-6.4 .5 .1 11.6 13.5 .8 8zM142.9 122.1l-7.5 15.2-12.2-3.6-4.9-15 22.7-1.6zM8.1 0l16.6 0 4.2 7.2-5.9 11.6-13.6 .7-4.3-7.5zM59 166.2l2.9 13.1-12.3 8.6-10.9-11.4 2.1-11.6 3.4-3.2 7.5-.3zM29.3 112.1l-5.1-14.9 6-7 20.6 4.5 .8 3.3-11.6 14.6zM25 201.4l-1.5-18.8 15.2-6.1 10.9 11.4-.2 5.2-10.2 13.8-1.9 .2zM85.9 147l5.1 19.8-9.9 2.9-9-8.7 .3-10.5zM141.5 148.7l14.7 15.7-8.4 11.9-19.2-4.1 1.4-14.6 10.7-9zM144.4 37.6l-15.7 10.6-.5-.1-7.3-12.4 3.1-11.9 16.3 1zM19 119.2l-14.5-8.8 6.2-15.2 13.5 2 5.1 14.9zM95.6 47.6l-15.6 3.3-7.8-9 .2-7.7 8.8-12.8 8.7-1.7 8.9 4 3.8 16.8-.1 .3zM126.9 237.9l-15.6 10.6-9.7-4.3-4.6-12.5 11.8-11.7 7.8 .3 10.1 15zM141 117.1l-22.7 1.6-2.2-1.6-2.1-6 11.1-19.5 3.4-1.6 15.9 17.6zM16.4 204.8l-4.1 20.5-2.1 .8-10.2-3.6 0-22 3.2-1.4zM24.9 262l-24.9 0 0-15.3 1.4-.8 18.9 4.8 4.7 10.8zM7.5 82.6l-7.5-5.8 0-15.5 6.4-5.4 11.2 1.9 2.3 15.7zM0 130.1l0-18.2 4.5-1.5 14.5 8.8-3.7 11.2-9.5 2.9zM153.4 228.7l-4.8 13.8-11 4.9-.4-.1-10.3-9.4-.2-2.6 16.7-16.5zM80.9 67.6l20.2-1.9 6 3.4-.8 15.6-8.7 7.6-16.3-5.2-5.3-9.1zM157.4 185.7l0 19.7-9.9 2.1-6.1-13 9.2-10.2zM87.6 144.6l-5.9-15.6 5.2-5.8 14 6.2 .6 13.1zM80.7 262l-25.5 0 2.6-5.4 16-6.2 6.9 11.6zM99.9 104.3l-12.7 10.1-14.3-9.8 8.4-17.5 16.3 5.2zM27.3 241.2l-7 9.5-18.9-4.8 8.8-19.8 2.1-.8 8.5 2.5zM45.3 0l14.4 0 7.2 9.4-10.9 12.8-13.9-5-2.5-8.2zM87.6 210.2l-1.7 17-16.5-.3-2.1-17.9 3.2-5.6 1-.5zM149.7 0l7.7 0 0 15.1-9.6-3.1-.4-.9zM130 157.6l-18.3-10 11.5-13.9 12.2 3.6 5.3 11.3zM157.4 15.1l0 28-3.8 .2-9.2-5.7-4.1-12.8 7.5-12.8zM56.6 24.5l-6.9 15.5-5.9 2.2-10.6-15.4 8.9-9.6 13.9 5zM5.5 32.1l-5.5-.2 0-20.8 5.1 .9 4.3 7.5zM38 70.2l-12.1 6.1-6-2.8-2.3-15.7 5.2-5.6 12.9 0zM116.1 117.1l-15.2 12.3-14-6.2 .3-8.8 12.7-10.1 14.1 6.8zM147 262l-19.4 0 9.6-14.7 .4 .1zM157.4 140.9l0 23.4-1.2 .1-14.7-15.7zM157.4 104.8l0 24.5-14.5-7.2-1.9-5 3.4-9.5zM108.4 0l17.5 0-.5 3.2-14.1 .9zM157.4 43.1l0 29.7-16.3-3.1-.8-8 13.3-18.4zM157.4 205.4l0 22.9-4 .4-10-9.9-.4-2 4.5-9.3zM93.2 0l15.2 0 2.9 4.1-3.9 14.8-8.6 4.8-8.9-4-.9-15.3zM22.8 52.2l-4.2-12.5 11.6-13.1 3 .2 10.6 15.4-8.1 10zM79.9 .2l9.1 4.2 .9 15.3-8.7 1.7-12.2-11.8zM0 175.4l0-22.8 7.6-4.2 11.9 4.1 1 4.6-8.2 18.5-7.6 1.7zM101.1 65.7l-5.5-18.1 6.9-6.8 14.2 13.7-3.8 12-5.8 2.6zM40.8 164.9l-20.3-7.8-1-4.6 4.1-5.9 16.1 .2 4.5 14.9zM47.7 262l-22.8 0 .1-.5 12.4-6.6zM143 216.8l-19.1-6.4-.5-5 11.2-11.8 6.8 .9 6.1 13zM23 18.8l7.2 7.8-11.6 13.1-12.4-6-.7-1.6 3.9-12.6zM67.3 209l-15.5 6-12.6-8.1 10.2-13.8 21.1 10.3zM107.4 18.9l3.9-14.8 14.1-.9 1.6 2.6-3.9 16.7zM10.7 95.2l-6.2 15.2-4.5 1.5 0-21 6.4-2.3zM70.5 203.4l-21.1-10.3 .2-5.2 12.3-8.6 8.9 2.4 .7 21.2zM76 78l5.3 9.1-8.4 17.5-7.4 2-13.9-8.6-.8-3.3 3.5-9.6zM107.4 18.9l15.7 3.6 .9 1.3-3.1 11.9-18.3 4.8-3.8-16.8zM81.7 129l5.9 15.6-1.7 2.4-13.5 3.5-8.9-7.4 4.9-13.1zM0 152.6l0-22.5 5.8 3.2 1.8 15.1zM137.2 247.3l-9.6 14.7-14.7 0-1.6-13.5 15.6-10.6zM125.9 0l23.8 0-2.3 11.1-20.4-5.3-1.6-2.6zM72.1 161l-13.1 5.2-7.3-4.8 10.6-17.9 1.2-.4 8.9 7.4zM106.3 84.7l18.8 6.9-11.1 19.5-14.1-6.8-2.3-12zM63.9 124.1l1.6-17.5 7.4-2 14.3 9.8-.3 8.8-5.2 5.8-13.3 1zM126.4 174.5l-21.8-2.3-4.3-4.1 8.7-20 2.7-.5 18.3 10-1.4 14.6zM112.9 262l-18.7 0-2.9-3.2 1.1-8.7 9.2-5.9 9.7 4.3zM157.4 228.3l0 20.5-8.8-6.3 4.8-13.8zM59.7 0l20.2 0 0 .2-10.9 9.4-2.1-.2zM37.3 207.1l-16.5 20.7-8.5-2.5 4.1-20.5 8.6-3.4zM85.9 227.2l1.7-17 12.6-2 8.6 11.8-11.8 11.7-8.1-1.2zM134.6 193.6l-11.2 11.8-12.3-9.8 .4-3.8 14.6-11.4zM3.2 199.1l1.5-21.8 7.6-1.7 11.2 7 1.5 18.8-8.6 3.4zM125.1 91.6l-18.8-6.9 .8-15.6 5.8-2.6 19.6 10.7-4 12.8zM6.4 55.9l-5.8-10 5.6-12.2 12.4 6 4.2 12.5-5.2 5.6zM6.4 88.6l-6.4 2.3 0-14.1 7.5 5.8zM20.5 157.1l20.3 7.8-2.1 11.6-15.2 6.1-11.2-7zM30.2 26.6l-7.2-7.8 5.9-11.6 10.7 1.8 2.5 8.2-8.9 9.6zM25.9 76.3l4.3 13.9-6 7-13.5-2-4.3-6.6 1.1-6 12.4-9.1zM24.7 0l20.6 0-5.7 9-10.7-1.8zM88.9 230.5l-5.2 13.9-9.1 3.5-11.7-14.5 6.5-6.5 16.5 .3zM73.8 250.4l-16 6.2-3.7-15.6 5.7-7.4 3.1-.2 11.7 14.5zM143.4 218.8l-16.7 16.5-10.1-15 7.3-9.9 19.1 6.4zM10.2 226.1l-8.8 19.8-1.4 .8 0-24.2zM123.2 133.7l-11.5 13.9-2.7 .5-7.5-5.6-.6-13.1 15.2-12.3 2.2 1.6zM157.4 257.3l0 4.7-4.2 0zM140.3 24.8l-16.3-1-.9-1.3 3.9-16.7 20.4 5.3 .4 .9zM0 0l8.1 0-3 12-5.1-.9zM69 9.6l12.2 11.8-8.8 12.8-15.8-9.7-.6-2.3 10.9-12.8zM91 166.8l-5.1-19.8 1.7-2.4 13.9-2.1 7.5 5.6-8.7 20zM101.6 244.2l-9.2 5.9-8.7-5.7 5.2-13.9 8.1 1.2zM157.4 164.3l0 21.4-6.8-1.4-2.8-8 8.4-11.9zM108.8 220l-8.6-11.8 10.9-12.6 12.3 9.8 .5 5-7.3 9.9zM56.6 24.5l15.8 9.7-.2 7.7-22.5-1.9zM95.6 47.6l5.5 18.1-20.2 1.9-.9-16.7zM157.4 129.3l0 11.6-15.9 7.8-.8-.1-5.3-11.3 7.5-15.2zM134.6 193.6l-8.5-13.2 .3-5.9 2.2-2.3 19.2 4.1 2.8 8-9.2 10.2zM94.2 262l-13.5 0 0 0 10.6-3.2zM153.6 43.3l-13.3 18.4-11.6-13.5 15.7-10.6zM37.4 254.9l-12.4 6.6-4.7-10.8 7-9.5 10.2 5zM126.1 180.4l-14.6 11.4-6.9-19.6 21.8 2.3zM61.9 179.3l-2.9-13.1 13.1-5.2 9 8.7-10.3 12zM51.8 215l15.5-6 2.1 17.9-6.5 6.5-3.1 .2zM55.2 262l-7.5 0-10.3-7.1 .1-8.7 16.6-5.2 3.7 15.6zM62.3 143.5l-13.6-4.7 .9-12.9 14.3-1.8 4.5 5.9-4.9 13.1zM157.4 248.8l0 8.5-4.2 4.7-6.2 0-9.4-14.6 11-4.9zM83.7 244.4l8.7 5.7-1.1 8.7-10.6 3.2-6.9-11.6 .8-2.5zM0 61.3l0-15.4 .6 0 5.8 10zM19.5 152.5l-11.9-4.1-1.8-15.1 9.5-2.9 8.3 16.2zM79.9 0l13.3 0-4.2 4.4-9.1-4.2zM62.3 143.5l-10.6 17.9-7.5 .3-4.5-14.9 9-8zM116.7 54.5l-14.2-13.7 .1-.3 18.3-4.8 7.3 12.4zM6.2 33.7l-5.6 12.2-.6 0 0-14 5.5 .2z" fill="#ea8b83" stroke="#1d1d1d" stroke-width="3.0" stroke-linejoin="round"/><path d="M76 78l-21.7 7.1-16.3-14.9-2.3-18 8.1-10 5.9-2.2 22.5 1.9 7.8 9 .9 16.7zM49.6 125.9l-.9 12.9-9 8-16.1-.2-8.3-16.2 3.7-11.2 10.3-7.1 10.7 .5zM157.4 72.8l0 32-13 2.8-15.9-17.6 4-12.8 8.6-7.5zM104.6 172.2l6.9 19.6-.4 3.8-10.9 12.6-12.6 2-16.1-7.3-.7-21.2 10.3-12 9.9-2.9 9.3 1.3zM20.8 227.8l16.5-20.7 1.9-.2 12.6 8.1 8 18.6-5.7 7.4-16.6 5.2-10.2-5z" fill="#c5dcf3" stroke="#1d1d1d" stroke-width="3.0" stroke-linejoin="round"/></g><rect width="157.4" height="262" fill="none" stroke="#1d1d1d" stroke-width="2.2"/></g>
<g transform="matrix(1 0.111 0 1 1228.7 1560.4)"><g clip-path="url(#ce4)"><path d="M63.5 63.7l-2.1 20.8-7.1 3.5-10.7-9.7 .1-9.1 18-8.5zM94.3 187l-14.6-8.3-1.5-10.5 5-3.9 11.6 2.4 5.7 11.8zM49.3 185.7l-13.3-14.6 6.6-8.4 12.8-1.3 6.4 5.8-5.5 17.3zM21.5 0l18.6 0 7.9 14-3.9 6.8-14.7 3.9-11.7-12.5-.8-4.4zM96.8 111.9l7.2 14.7 0 1.6-16.1 10.6-3.9-3.6 .6-19.3 11.4-4.4zM104 201.8l0 20.5-10.2 3.3-5-14.1 9.8-11.8zM17.7 12.2l-12.7 14.3-5-.5 0-21.1 16.9 2.9zM79.7 178.7l14.6 8.3-.3 4.8-13.2 4.9-9.4-6.4zM85.6 266l-23.2 0 .8-2.9 20.6-4.9 1.8 2.5zM83.8 258.2l-20.6 4.9-12.5-13.2 2.1-4 17.1-10.3 13.6 12.9zM33.9 245.3l-14.1 7.2-8.4-8.3 7.8-11.7 13.2 3.6zM43.8 266l-20.6 0-4.5-5.5 1.1-8 14.1-7.2 12.5 6.3zM11.4 35.3l-8.3 12.2-3.1-.2 0-21.3 5 .5zM65.3 191.3l-3.5 14.3-10.8 4.3-10.6-14.6 8.9-9.6 7-1.2zM79.4 93.8l-5.1 16.5-14.7 3.8-9.6-12.5 4.3-13.6 7.1-3.5 12.4 1.7zM0 0l21.5 0-4.6 7.8-16.9-2.9zM20.4 115.7l-17.7 6.6-2.7-2.6 0-19.6 12.4 .2 8.4 11.9zM44.1 20.8l7.1 12.3-5.6 12.7-1.7 .5-16.8-6.6-1.6-3.8 3.9-11.2zM104 25.4l0 25.3-10.7-3.3 6.6-21.9zM93.3 226.5l-21-.4 .9-12.3 7.3-4.6 8.3 2.3 5 14.1zM73.8 86.2l4.5-13 15.3-4.8 5.5 3.4 0 17-6.5 6.7-13.2-1.7zM30.1 172.4l-2 19.8-12.1 4.3-4.4-2.5-6.1-21.5 .1-.2 17.3-4.6zM89.4 1.1l9.6 6.6 .9 17.7-19.8 .7-5-3.4 2.3-17.5zM104 70.6l0 19.2-4.9-1 0-17zM0 152.1l0-20 .2 0 9.2 10.9zM84.6 115.9l-.6 19.3-27.7-3.4 3.3-17.7 14.7-3.8zM104 257l0 9-18.4 0 0-5.3zM0 230.1l0-15.3 8.2 4.3 .1 .6zM23.9 151.9l-1 15.8-17.3 4.6-5.6-14.6 0-5.6 9.4-9.1 7.3-.1zM104 89.8l0 20-7.2 2.1-.8-.4-3.4-16 6.5-6.7zM18.7 260.5l-7.6 5.5-5.7 0-5.4-4.3 0-10.3 8.2-7.5 3.2 .3 8.4 8.3zM58 0l15 0 .1 1.7-13.4 3.4zM35.8 61.4l8.1-15.1 1.7-.5 16.5 10.3-.4 4.6-18 8.5zM104 5l0 20.4-4.1 .1 0-.1-.9-17.7zM0 75.5l0-28.2 3.1 .2 13.3 13.6-6.2 12.1zM18.2 88l-5.8 12.3-12.4-.2 0-24.6 10.2-2.3zM9.4 143l-9.2-10.9 2.5-9.8 17.7-6.6 5.7 14.4-9.4 12.8zM11.6 194l-11.6 3.5 0-24.2 5.5-.8zM104 222.3l0 20.8-9.7-4.9-1-11.7 .5-.9zM104 128.2l0 26.5-2.1 .3-12.7-9.9-1.3-6.3zM89.6 0l14.4 0 0 5-5 2.7-9.6-6.6zM56.9 10.5l16.1 12.5-10.9 11.8-10.9-1.7-7.1-12.3 3.9-6.8zM22.9 167.7l1-15.8 14.2-2.3 4.5 13.1-6.6 8.4-5.9 1.3zM45.6 45.8l5.6-12.7 10.9 1.7 4.3 15.7-4.3 5.6zM25.5 35.9l-14.1-.6-6.4-8.8 12.7-14.3 11.7 12.5zM80.1 26.1l2.2 19-15.9 5.4-4.3-15.7 10.9-11.8 2.1-.3zM94.3 238.2l-10.8 10.3-13.6-12.9-.2-6.3 2.6-3.2 21 .4zM18.2 88l14.4 .1 7 12.9-18.8 11.2-8.4-11.9zM39.6 101l-7-12.9 11-9.8 10.7 9.7-4.3 13.6zM104 178.3l0 23.5-5.4-2.1-4.6-7.9 .3-4.8 6.2-8.5zM104 50.7l0 19.9-4.9 1.2-5.5-3.4-2-20.1 1.7-.9zM104 243.1l0 13.9-18.4 3.7-1.8-2.5-.3-9.7 10.8-10.3zM8.2 219.1l-8.2-4.3 0-17.3 11.6-3.5 4.4 2.5zM27.1 39.7l-4.2 18.6-6.5 2.8-13.3-13.6 8.3-12.2 14.1 .6zM101.9 155l-7.1 11.7-11.6-2.4 6-19.2zM55.4 161.4l-12.8 1.3-4.5-13.1 7.1-11.8 6.1-1.3zM69.9 235.6l-17.1 10.3-3.7-19.4 .8-1.2 19.8 4zM0 132.1l0-12.4 2.7 2.6-2.5 9.8zM78.3 73.2l-4.5 13-12.4-1.7 2.1-20.8zM74.3 110.3l5.1-16.5 13.2 1.7 3.4 16-11.4 4.4zM19.2 232.5l-7.8 11.7-3.2-.3-8.2-8.5 0-5.3 8.3-10.4zM49.1 226.5l3.7 19.4-2.1 4-4.3 1.7-12.5-6.3-1.5-9.2zM63.2 263.1l-.8 2.9-18.6 0 2.6-14.4 4.3-1.7zM45.2 137.8l-7.1 11.8-14.2 2.3-7.2-9 9.4-12.8zM104 154.7l0 23.6-3.5 .2-5.7-11.8 7.1-11.7zM79.7 178.7l-8.3 11.6-6.1 1-9-6.8 5.5-17.3 16.4 1zM40.1 0l17.9 0 1.7 5.1-2.8 5.4-8.9 3.5zM8.2 243.9l-8.2 7.5 0-16zM0 173.3l0-15.6 5.6 14.6-.1 .2zM69.7 229.3l-19.8-4 1.1-15.4 10.8-4.3 11.4 8.2-.9 12.3zM73 23l-16.1-12.5 2.8-5.4 13.4-3.4 4.3 3.5-2.3 17.5zM98.6 199.7l-9.8 11.8-8.3-2.3 .3-12.5 13.2-4.9zM104 109.8l0 16.8-7.2-14.7zM28.1 192.2l2-19.8 5.9-1.3 13.3 14.6-8.9 9.6zM99.9 25.5l-6.6 21.9-1.7 .9-9.3-3.2-2.2-19 19.8-.7zM73 0l16.6 0-.2 1.1-12 4.1-4.3-3.5zM43.9 46.3l-8.1 15.1-12.9-3.1 4.2-18.6zM80.8 196.7l-.3 12.5-7.3 4.6-11.4-8.2 3.5-14.3 6.1-1zM23.2 266l-12.1 0 7.6-5.5zM5.4 266l-5.4 0 0-4.3z" fill="#c5dcf3" stroke="#1d1d1d" stroke-width="2.8" stroke-linejoin="round"/><path d="M43.6 78.3l-11 9.8-14.4-.1-8-14.8 6.2-12.1 6.5-2.8 12.9 3.1 7.9 7.8zM45.2 137.8l-19.1-7.7-5.7-14.4 .4-3.5 18.8-11.2 10.4 .6 9.6 12.5-3.3 17.7-5 4.7zM89.2 145.1l-6 19.2-5 3.9-16.4-1-6.4-5.8-4.1-24.9 5-4.7 27.7 3.4 3.9 3.6zM49.1 226.5l-16.7 9.6-13.2-3.6-10.9-12.8-.1-.6 7.8-22.6 12.1-4.3 12.3 3.1 10.6 14.6-1.1 15.4zM91.6 48.3l2 20.1-15.3 4.8-14.8-9.5-1.8-3 .4-4.6 4.3-5.6 15.9-5.4z" fill="#c5dcf3" stroke="#1d1d1d" stroke-width="2.8" stroke-linejoin="round"/></g><rect width="104" height="266" fill="none" stroke="#1d1d1d" stroke-width="2"/></g>
<g transform="matrix(1 0.1557 0.8384 -0.5447 1071.3 1535.9)"><g clip-path="url(#ce6)"><path d="M0 52l0-17.8 3.7-1.4 3.7 3.3-3 15.4zM104.8 57l13.8-8.2 5.7 9.8-4.9 12.6-1.4 .8-5.4-.9zM113 114.1l-10.6 5.4-10.6-6.8 3.6-7.9 13.2-1.9 3.5 3.3zM82.5 145.4l-15.5 0-2-4.2 2.6-4.6 7.7 .3 7.2 8.5zM120.9 45.4l1.2-14 12.6-1 .8 14.6zM106.1 11l-.9 11.5-15.7 1 4.4-15.4 2.7-1.1zM165 141.9l0 3.5-12 0-.1-4.2 9.8-1.6zM125.7 101.9l-13.6 4.3-3.5-3.3 .7-11.6 12-4.5 8.3 4.4 .6 3.3zM5.2 131.8l-5.2 .3 0-11.1 7.5-4.3 4 4.2zM120.6 16.2l14.7 3.6 0 9.8-.6 .8-12.6 1-5.7-6.1zM29.8 0l18.1 0 0 1.6-7.4 5.9-10.5-1.7-.8-1.4zM153.5 12.1l9.6 7.7-4.7 9.7-7.2 1.4-2.6-13.7zM6.4 112.4l-6.4-1.7 0-12.6 5.8-.1 3 5.2zM65 141.2l-6.2 3.5-11.7-2.5 .2-15.2 17.1 .8 3.2 8.8zM137.9 77.5l-5.6-5.5 1.3-12.9 3.6-3.1 12.5 8.7 .8 6.9-1 2.3zM6.4 112.4l2.4-9.2 18.2-3.8 5.6 10.6-14.1 12.7-7-1.8-4-4.2zM7.7 8.6l5 9.9-9.8 8.5-2.9-1.5 0-17.4zM89.5 23.5l15.7-1 3.8 3.9-6.2 11.6-13.5-14.4zM13 1.5l16.2 2.9 .8 1.4-11.3 14.9-6-2.2-5-9.9zM165 124.4l0 7.4-2.3 7.8-9.8 1.6-4.4-3-1.4-5.1 4.3-10.6 10-1.3zM88.6 77.2l5.6 10.6-2.9 6.6-13.2 1.6-5.8-14.3 5.8-5.5zM132 132.2l-16.8 0 1.7-14.8 11-2.7 7.4 3.8-.9 10.7zM81.5 0l17.2 0-2.1 7-2.7 1.1-13-5.1zM165 19.2l0 16.4-6.6-6.1 4.7-9.7zM21.6 35.1l-14.2 1-3.7-3.3-.8-5.8 9.8-8.5 6 2.2 3.8 12.9zM43 62.3l12.4 .1 4.5 4.9-1 12.7-6.2 1.8-8.9-3-1.9-15.7zM129.6 91.2l-8.3-4.4-3.3-14.8 1.4-.8 12.9 .8 5.6 5.5zM133.9 145.4l-10.8 0-9.7-4 .9-8.3 .9-.9 16.8 0zM22.8 43.7l-6.2 8.8-8.2 1.4-4-2.4 3-15.4 14.2-1zM35.2 145.4l-20.8 0-.1-.4 4.2-4.1 11.8-1.4zM133.6 59.1l-9.3-.5-5.7-9.8 .3-1.7 2-1.7 14.6-.4 2.5 2.2-.8 8.8zM58.8 48.1l-3.4 14.3-12.4-.1 2.3-15.7 7-2.1zM122.1 31.4l-1.2 14-2 1.7-15.7-6.9-.4-2.2 6.2-11.6 7.4-1.1zM75.8 55.8l-2.8 8.3-13.1 3.2-4.5-4.9 3.4-14.3 9.7-1.7zM95.2 56.9l-1.5 14.9-5.1 5.4-10.5-1-5.1-12.1 2.8-8.3zM151.1 0l13.9 0 0 4.8-11.2 4.8-4.2-6zM70.2 120.8l13 3.6 .3 2.3-8.2 10.2-7.7-.3-3.2-8.8zM52.7 81.8l-3.6 15.6-.5 .3-15.3-8.2 10.5-10.7zM135.5 45l-.8-14.6 .6-.8 15.5 1.9-.8 11.5-12 4.2zM165 96.7l0 15.1-1.7 .7-6.8-8.5 5.6-7.7zM1.6 144.7l-1.6-1.2 0-11.4 5.2-.3 4.1 11zM159.5 52.6l-9.8 12.1-12.5-8.7 .8-8.8 12-4.2 8.5 5.9zM156.5 104l6.8 8.5-1.9 8.7-10 1.3-8.3-7.5 2.2-7.4zM27 99.4l-18.2 3.8-3-5.2 .4-10.7 .6-.9 8.8-3.8 13.2 8.6zM8.4 53.9l1.4 13.8-9.8 4.5 0-20.2 4.4-.5zM103 86.7l3.1-11.6 6.5-4 5.4 .9 3.3 14.8-12 4.5zM112.5 0l15.5 0 .6 3.5-9.5 7.7-5.8-3.4zM6.2 87.3l-6.2 .5 0-14.4 6.8 13zM62.1 12.6l4.2 15.8-14.7 .8-2.1-2.2 .2-5.5 11.6-9.4zM94.6 139.2l-12.1 6.2-7.2-8.5 8.2-10.2 11.1 9.7zM143.1 115l8.3 7.5-4.3 10.6-12.7-3.9 .9-10.7zM153 145.4l-15.5 0 11-7.2 4.4 3zM98.7 0l13.8 0 .8 7.8-7.2 3.2-9.5-4zM80.9 3l13 5.1-4.4 15.4-.2 .1-6.5 .1-5.8-11.8 3.8-8.8zM42.5 123.5l-11.7 8.2-11.4-7.3-.9-1.7 14.1-12.7 4.9 1.6zM58.8 48.1l-6.5-3.6-.7-15.3 14.7-.8 4.9 3.1-2.7 14.9zM98.7 145.4l-16.2 0 0 0 12.1-6.2 4.3 4.3zM1.6 144.7l-.2 .7-1.4 0 0-1.9zM47.9 0l16.7 0-4.6 7.1-12.1-5.5zM37.6 35.1l3.1 9.5-9.3 4.4-8.6-5.3-1.2-8.6 .9-1.5zM45.3 46.6l-2.3 15.7-1.1 .8-10.4-4.6-.1-9.5 9.3-4.4zM19.4 124.4l-.9 16.5-4.2 4.1-5-2.2-4.1-11 6.3-10.9 7 1.8zM58.9 80l1-12.7 13.1-3.2 5.1 12.1-5.8 5.5-8.8 .9zM148.6 17.2l2.6 13.7-.4 .6-15.5-1.9 0-9.8 2.7-2.9zM93.7 71.8l12.4 3.3-3.1 11.6-8.8 1.1-5.6-10.6zM14.4 145.4l-13 0 .2-.7 7.7-1.9 5 2.2zM89.9 113.5l-17.6-8.4 0-.2 5.8-8.9 13.2-1.6 4.1 10.4-3.6 7.9zM102.4 119.5l1.7 8.9-9.5 8-11.1-9.7-.3-2.3 6.7-10.9 1.9-.8zM7.5 116.7l-7.5 4.3 0-10.3 6.4 1.7zM148.6 17.2l-10.6-.3-1.5-10.5 5.9-4.6 7.2 1.8 4.2 6-.3 2.5zM72.5 0l9 0-.6 3-.1 .1zM114.3 133.1l-10.2-4.7-1.7-8.9 10.6-5.4 3.9 3.3-1.7 14.8zM31.4 49l.1 9.5-8.7 1.6-6.2-7.6 6.2-8.8zM104.8 57l7.8 14.1-6.5 4-12.4-3.3 1.5-14.9 3.2-2.1zM47.9 1.6l12.1 5.5 1.3 5-11.6 9.4-9.2-14zM165 68.6l0 13.9-4 1.4-11.5-10 1-2.3zM0 0l12.7 0 .3 1.5-5.3 7.1-7.7-.5zM165 56.2l0 12.4-14.5 3-.8-6.9 9.8-12.1zM43.2 145.4l-8 0-4.9-5.9 .5-7.8 11.7-8.2 4.8 3.5-.2 15.2zM33.3 89.5l15.3 8.2-11.1 13.9-4.9-1.6-5.6-10.6 1.8-8.2zM165 41.4l0 14.8-5.5-3.6-1-3.7zM112.6 145.4l-13.9 0 .2-1.9 13.8-1.3zM135.3 118.5l-7.4-3.8-2.2-12.8 4.5-7.4 15.1 13.1-2.2 7.4zM64.6 0l7.9 0 8.3 3.1-3.8 8.8-14.9 .7-.8-.5-1.3-5zM5.8 98l-5.8 .1 0-10.3 6.2-.5zM103.2 40.2l15.7 6.9-.3 1.7-13.8 8.2-6.4-2.2zM61.7 97.6l1.8-15 8.8-.9 5.8 14.3-5.8 8.9zM112.1 106.2l13.6-4.3 2.2 12.8-11 2.7-3.9-3.3zM141.9 0l9.2 0-1.5 3.6-7.2-1.8zM109.3 91.3l-.7 11.6-13.2 1.9-4.1-10.4 2.9-6.6 8.8-1.1zM58.8 144.7l0 .7-15.6 0 3.9-3.2zM66.3 28.4l-4.2-15.8 14.9-.7 5.8 11.8-11.6 7.8zM165 82.5l0 14.2-2.9-.4-1.1-12.4zM165 111.8l0 12.6-3.6-3.2 1.9-8.7zM109 26.4l-3.8-3.9 .9-11.5 7.2-3.2 5.8 3.4 1.5 5-4.2 9.1zM112.7 142.2l-13.8 1.3-4.3-4.3 0-2.8 9.5-8 10.2 4.7-.9 8.3zM165 4.8l0 14.4-1.9 .6-9.6-7.7 .3-2.5zM63.5 82.6l-1.8 15-12.6-.2 3.6-15.6 6.2-1.8zM9.8 67.7l-1.4-13.8 8.2-1.4 6.2 7.6-8.7 9.7zM158.4 29.5l6.6 6.1 0 5.8-6.5 7.5-8.5-5.9 .8-11.5 .4-.6zM51.6 29.2l.7 15.3-7 2.1-4.6-2-3.1-9.5 11.9-8.1zM128 0l13.9 0 .5 1.8-5.9 4.6-7.9-2.9zM12.7 0l17.1 0-.6 4.4-16.2-2.9zM83.2 124.4l-13-3.6 2.1-15.7 17.6 8.4zM128.6 3.5l7.9 2.9 1.5 10.5-2.7 2.9-14.7-3.6-1.5-5zM137.5 145.4l-3.6 0-1.9-13.2 2.4-3 12.7 3.9 1.4 5.1zM123.1 145.4l-10.5 0 .1-3.2 .7-.8zM6.8 86.4l-6.8-13 0-1.2 9.8-4.5 4.3 2.1 1.5 12.8zM165 131.8l0 10.1-2.3-2.3zM133.6 59.1l-1.3 12.9-12.9-.8 4.9-12.6zM3.7 32.8l-3.7 1.4 0-8.7 2.9 1.5zM30.3 139.5l-11.8 1.4 .9-16.5 11.4 7.3zM67 145.4l-8.2 0 0-.7 6.2-3.5z" fill="#ea8b83" stroke="#1d1d1d" stroke-width="2.5" stroke-linejoin="round"/><path d="M37.5 111.6l11.1-13.9 .5-.3 12.6 .2 10.6 7.3 0 .2-2.1 15.7-5.8 7-17.1-.8-4.8-3.5zM15.6 82.6l-1.5-12.8 8.7-9.7 8.7-1.6 10.4 4.6 1.9 15.7-10.5 10.7-4.5 1.7zM89.3 23.6l13.5 14.4 .4 2.2-4.8 14.6-3.2 2.1-19.4-1.1-7.3-9.4 2.7-14.9 11.6-7.8zM40.5 7.5l9.2 14-.2 5.5-11.9 8.1-15.1-1.5-3.8-12.9 11.3-14.9zM149.5 73.9l11.5 10 1.1 12.4-5.6 7.7-11.2 3.6-15.1-13.1-.6-3.3 8.3-13.7z" fill="#c5dcf3" stroke="#1d1d1d" stroke-width="2.5" stroke-linejoin="round"/></g><path d="M0 0H159L157 145.4H0Z" fill="none" stroke="#1d1d1d" stroke-width="2"/></g>
<defs><clipPath id="ce6"><path d="M0 0H159L157 145.4H0Z"/></clipPath></defs>
<linearGradient id="gw" gradientUnits="userSpaceOnUse" x1="1230" y1="1558" x2="1242.4" y2="1577" spreadMethod="repeat"><stop offset="0" stop-color="#8795a3"/><stop offset="0.22" stop-color="#c3cdd7"/><stop offset="0.45" stop-color="#a7b4c1"/><stop offset="0.75" stop-color="#6d7b89"/><stop offset="1" stop-color="#8795a3"/></linearGradient>
<path d="M1229.5 1558L1334 1572.5L1342 1562L1240 1546Z" fill="#5f6b77"/>
<path d="M1230 1558.2 q9 -14 18 -3 t16.6 7.6 q9 -14 18 -3 t16.6 7.6 q9 -14 18 -3 t16.5 7.5 L1444.2 1503.7 q-5 -10 -15 -8 t-16 -1 q-6 -10 -15 -7 t-16 -1 q-6 -10 -15 -7 t-17.2 -1.1 Z" fill="url(#gw)" stroke="#4a5560" stroke-width="1"/>
<radialGradient id="sph" cx="0.35" cy="0.3" r="0.8"><stop offset="0" stop-color="#ffffff"/><stop offset="0.5" stop-color="#cfd8e0"/><stop offset="1" stop-color="#6a7783"/></radialGradient><g fill="url(#sph)" stroke="#4a5560" stroke-width="0.5"><circle cx="1275" cy="1531" r="2.7"/><circle cx="1283" cy="1527" r="2.7"/><circle cx="1306" cy="1508" r="2.7"/><circle cx="1311" cy="1500" r="2.7"/><circle cx="1318" cy="1496" r="2.7"/><circle cx="1333" cy="1488" r="2.7"/><circle cx="1336" cy="1495" r="2.7"/><circle cx="1362" cy="1493" r="2.7"/><circle cx="1368" cy="1499" r="2.7"/><circle cx="1375" cy="1488" r="2.7"/><circle cx="1381" cy="1484" r="2.7"/><circle cx="1395" cy="1501" r="2.7"/><circle cx="1401" cy="1510" r="2.7"/><circle cx="1308" cy="1533" r="2.7"/><circle cx="1316" cy="1540" r="2.7"/><circle cx="1349" cy="1527" r="2.7"/><circle cx="1355" cy="1531" r="2.7"/><circle cx="1358" cy="1521" r="2.7"/><circle cx="1371" cy="1518" r="2.7"/><circle cx="1366" cy="1541" r="2.7"/><circle cx="1343" cy="1546" r="2.7"/><circle cx="1414" cy="1497" r="2.7"/><circle cx="1436" cy="1494" r="2.7"/><circle cx="1398" cy="1515" r="2.7"/><circle cx="1405" cy="1521" r="2.7"/><circle cx="1303" cy="1544" r="2.7"/></g>
<path d="M1333.7 1571.9L1453.2 1591L1562.9 1521.4L1444.2 1503.7Z" fill="#c5dcf3" stroke="#1d1d1d" stroke-width="1.5" stroke-linejoin="round"/>
<path d="M1400.6 1533.1L1442.8 1543.2L1411.5 1584M1442.8 1543.2L1540 1535.5" fill="none" stroke="#1d1d1d" stroke-width="1.4"/>
<path d="M1333.7 1572.5L1453.2 1591.6L1562.9 1522" fill="none" stroke="#8a97a4" stroke-width="2.2"/>
<g fill="#c5dcf3" stroke="#1d1d1d" stroke-width="1.5" stroke-linejoin="round"><path d="M1335.1 1574.6L1370.5 1580 C1371 1640 1378 1700 1377 1760 C1378 1810 1379 1850 1370 1874 Q1358 1886 1348 1872 C1338 1830 1337 1700 1335.1 1574.6Z"/><path d="M1370.5 1580L1387.5 1582.6 C1387 1650 1391 1720 1388.5 1790 L1387 1832 Q1381 1838 1376.5 1828 C1378 1760 1378 1700 1374 1650 Q1371 1610 1370.5 1580Z"/><path d="M1387.5 1582.6L1405 1585.4 C1403 1650 1408 1720 1406 1780 L1407.5 1822 Q1399 1842 1391 1832 L1388.5 1790 C1391 1720 1387 1650 1387.5 1582.6Z"/><path d="M1405 1585.4L1431.5 1589.6 C1430 1660 1431 1740 1432 1800 L1431 1838 Q1424 1836 1414 1815 L1406 1780 C1408 1720 1403 1650 1405 1585.4Z"/><path d="M1431.5 1589.6L1453.2 1593 C1455 1660 1459 1740 1459.5 1800 Q1460 1850 1448 1876 Q1440 1884 1436 1868 C1431 1820 1431 1700 1431.5 1589.6Z"/></g>
<style>.b0{fill:var(--b0)}.b1{fill:var(--b1)}.b2{fill:var(--b2)}.b3{fill:var(--b3)}.b4{fill:var(--b4)}</style>
<defs><clipPath id="cf"><rect width="477.5" height="183.5"/></clipPath></defs>
<text transform="translate(1566.7 852) scale(1.07 1)" font-size="36" font-weight="bold" text-anchor="start" fill="#000"><tspan>(f)</tspan></text>
<text transform="translate(1673 875.3) scale(1.11 1)" font-size="26.3" font-weight="bold" fill="#000"><tspan>3Y-TZP+3 wt% </tspan><tspan font-family="Liberation Serif, serif" font-style="italic" font-weight="bold">γ</tspan><tspan>-Fe</tspan><tspan dy="5.3" font-size="17.4">2</tspan><tspan dy="-5.3">O</tspan><tspan dy="5.3" font-size="17.4">3</tspan><tspan dy="-5.3">: 8 W</tspan></text>
<text transform="translate(1605.6 884.4) scale(1.01 1)" font-size="27" font-weight="bold" fill="#000"><tspan>T</tspan></text>
<linearGradient id="ta1" gradientUnits="userSpaceOnUse" x1="0" y1="890.5" x2="0" y2="1071.5"><stop offset="0" stop-color="#e0302a"/><stop offset="0.45" stop-color="#ee6a40"/><stop offset="0.7" stop-color="#f2b040"/><stop offset="0.85" stop-color="#e8e040"/><stop offset="1" stop-color="#8ed050"/></linearGradient><rect x="1610.5" y="898.5" width="3.4" height="173" fill="url(#ta1)"/><path d="M1612.2 890.5L1608.2 906.5L1616.2 906.5Z" fill="#e0302a"/>
<text x="1591.9" y="925.3" font-family="DejaVu Sans, sans-serif" font-size="40" text-anchor="middle" font-weight="normal">③</text>
<text x="1591.9" y="970.9" font-family="DejaVu Sans, sans-serif" font-size="40" text-anchor="middle" font-weight="normal">②</text>
<text x="1591.9" y="1044.7" font-family="DejaVu Sans, sans-serif" font-size="40" text-anchor="middle" font-weight="normal">①</text>
<defs><g id="fs1"><path class="k0" d="M-3 85.6l0-86.1 6.6 6.1-.2 67.8-.7 11.1-3 1.1zM124.4 82.5l.4-33.4-10.3-51.8-8.9 0-2.9 35.1 1.7 54.1 8.5 0zM126.7 29.3l15.8-32.1-16.1 .1zM343.7 3.2l-19.5 27.8-1.6-33.8 21.5 0zM370.4 45l22.5-27 .1 56.4-10.8 3.8-12.2 0z"/><path class="k1" d="M5 89l-1.6-15-.9 15.6 .9 0zM345.9 90.5l-1.8-87.1 .3-6.1 20.8 0 3.6 4.6 1.1 42.8-.2 41.8-11.4 4zM370.2 44.5l22.5-26.9 1.2-20.4-24.7 0-.1 4.6zM417.9 76.2l6-78.9-10.3 0-.7 69.9 .6 9.5 2.8 0z"/><path class="k2" d="M3.5 4.5l0-7.3-6.3 0 .1 2.1 6.2 5.7zM48.7 6.4l-18.5 5.5-1.3-14.7 20.3 0zM171.8 6.7l-.1-9.5-8 0zM192.6 -2.8l-18.9 49.2-1.5-39.3-.2-9.8zM198 11l20.2 10.1-.4-23.9-21 0zM233.2 -2.7l-3.7 47.1 8.5-.1 13.2-4.6-.3-42.4zM292.2 3.5l15.4-6.4-15.6 0zM481 -2.7l0 38-2.2 16-3.5-54zM478.6 56l0-4.6-3.4-54.1-17.5 0 1.5 61.6 11.1 0z"/><path class="k3" d="M412.8 67.1l.7-69.8-10 0zM417.6 81.7l6.4-84.4 12.4 0 4.3 72.5-.1 9-8.3 2.9z"/><path class="k4" d="M81.9 40.8l-3.3 30.4-15.6-73.9 20.1 0-.1 17zM102.4 31.8l2.9-34.6-22 0 .2 16.8zM77.4 96.4l1.3-24.6 3.2-30.4 4.3 52.9-5.8 2.1zM146.1 70l-1.8-72.7-1.6 0-15.9 32.5-1.5 19.2-.6 25.3 9.2 0zM269.5 -2.8l-.5 4.9-2.1-4.9zM269.2 2.6l.6-5.3 21.8 0 .2 6.6 .2 36.8-10.4 3.7-13.4 0z"/><path class="k5" d="M27.4 -3l-23.5 7.6 .1-7.5zM29.7 93.6l.4-81.2 18.8-5.6 1.1 82.8-11.6 4zM198.2 49.3l-.3-37.9 20.3 10.2 2.2 25.6-5.8 2zM220.5 44.3l-1.8-22.8-.7-24.2 15 0-3.6 45-5.8 2zM292.4 56.5l-.3-52.6 15.8-6.6 14.3 0 1.6 33.9-.2 19.8-15.6 5.5zM345.3 69.3l-1.4-65.9-19.7 28.1-.6 42 9.6 0zM368.8 1.3l0-4.1-3.3 0zM413.1 73.1l-.4-5.9-9.3-69.9-9.3 0-1.1 20.7 .3 58.4 10.3 0zM478.7 72.3l.1-20.4 2.2-16 0 35.9-1.4 .5z"/><path class="k6" d="M29.6 81.9l.3-69.5-1.4-15.1-.9 0-23.8 7.8 0 .5-.3 67.8 1.4 12.7 12.8 0zM104.5 96l-2.1-63.6-19.2-18-1.1 27 4.7 57.8 8.8 0zM125 48.9l1.5-19.6-.3-32-11.6 0zM198.1 65.3l-.4-53.9-1.2-14.1-3.7 0-18.9 49.3-.4 22.1 15-.1zM442 61.4l9-64.1-14.5 0 3.8 64.1zM442.1 61.4l9-64.1 6.5 0 1.4 61.5-7.2 2.6z"/><path class="k7" d="M77.8 84.7l.7-13.5-15.7-73.9-13.3 0-.5 9.5 1.2 84.3 9.2 0zM173.3 69.9l.1-23.3-1.6-39.4-8.4-9.9-18.9 0 1.9 77 14.4 0zM266.6 -2.7l2.3 5.4-1.1 47.4-7 2.5-9.3 0-.4-55.3z"/><path class="k0" d="M366.1 88.9l2.3-9.3 6.4-14.2 14.2-6.2 17-1 13.2 7.5 5.4 20.4-8.3 20.4-17.4 8.6-20.1-8.8zM362.4 154.4l-5.8 .3-19.7-13.2 15.6-25.7 26 9.1 .4 .6-.8 17.2zM226.8 144l-.1 7 0 .2-15 14-17.4-3.6-5.9-6.8 0-12.8 6-11.2 8.5-3.5 5.8 .3zM104.1 133.7l-4.3 2.6-2.5 .2-18.2-14-.2-2.4 11.7-18 6.3-.8 9.6 5.4 1.9 2.7 1 2.1zM397.9 120.5l1.1-4.9 17.5-8.6 13.5 10.2 0 .1-9.7 20.2-2.3 1.4-4.5-.6zM303.7 125.4l-2.5-7.1 .2-4.9 4.2-6.5 5.8-4 7.8 .7 8.2 10.4-2.9 10.4-8.3 4.3zM486.6 160.8l4.5 5.1 1.2 4.5-1.6 7.6-4.6 3.7-5 2.1-14-11.4-.2-.7 1.6-5.1 2.9-4.2 11.4-2.5zM139.5 138.6l.1-.2 8.4-2.8 .5 0 4.1 1.8 1.3 5.1-1.5 5.4-6.2 2.4-4.2-.9-3-4.6zM454.3 155.1l-.6-4.1 2.7-5.1 6.1-1.5 4.5 2.7 1.5 4.3-.1 2-1.5 4.2-4.6 2.7-4.4-1.3zM266.3 87l.2 5.1-4.2 4.7-4.7 .7-3-2.4-1.3-10.4 0-.1 5.6-2.6 4.9 1.7zM271.5 187.1l-1.2-2.4 2.2-8.7 .5-.5 5.6-.3 3.6 3.1 .4 5.1-2.4 3.7-4.1 1.4zM113.9 96.6l-1.9 3.8-3.4 2.3-4.9-.6-3.3-4-.4-4 3.2-4.2 5-.3 4.3 2.1zM220.7 159.8l5-1.1 3.4 2.7 1.2 3.5-1.3 4.6-3.7 2-4.3-.9-2.6-3.8-.4-3.3zM433.9 166.6l-1.4-1.9 .7-4.9 3.6-2.4 3.1-.2 4.1 2 1.1 4.5-.3 .4-3.4 4.3-.1 .1z"/><path class="k1" d="M463.7 105.3l-4.9-1.2-7.6-9.7 .6-30.6 7.4-8.1 13.4-3.7 16.7 6.3 6.2 6.3 6.6 13.3-3.6 14.7-10.8 10.3zM20.9 85.2l5.6-8.7 6.7-3 7.2 1.9 4.2 1.9 3 4.2-7.6 19.9-2.9 1.3-5.1-.6-7.1-3.8-3.2-8.2zM255.2 111.2l-.9-5.9 1.6-4.6 15.1-7.5 5.3 2.5 5.4 8.1-.4 5.2-2.7 8-5.2 3-8.8 .7-4.7-2.8zM336.1 110.4l-1.4 1-3.3 1-4.9-.9-2.5-2.9-.8-6.4 3.6-3.7 5.3-.8 4.1 2.1 2 4.6zM113.8 130.2l-5.6-1.2-2-2.4 2.2-8.9 .1-.2 5.4-.6 4 2.3 1.5 4.9-1.6 3.1zM453.9 171.8l-1.5 2.7-4.9 2.4-1.6-.4-4.2-7.7 4-4.9 4.3 .4 3.7 2.8zM368.3 159.9l-2.6-4 .1-3.5 6.3-4.7 .8-.2 3.8 2.2 1.2 4.1-1.4 5-3.5 1.6zM176.6 126.7l-3.9-1.5-1.7-3.4 .1-2.5 3.5-2.7 2.8 .1 1.7 1.2 1.4 5.5-1.1 2.1zM69.5 183.2l-.3 .8-3.2 2-3.1-.6-2-2.2 .1-2.3 2.1-3.9 3-.7 2 1.3z"/><path class="k2" d="M130 40.8l19.1 1.6 9 6.6 1.9 4.2-4.1 32.7-18.7 7-23.6-8.7-4.7-10 2.2-18.6 7.2-6.1zM491.9 127.8l-5.7 8.1-6 1.9-6-.7-11.9-13.8 0 0 1.7-8.1 3-4.1 9.5-3.8 7.5 1.4 6.8 7 2.2 3.9zM423.7 89.7l1.2-.8 3.9-1.1 9.8 3.9 4 3.9 1.3 9-1.6 4.8-8.2 5.6-4.5 1.3-12.8-9.7zM177.8 111.3l.1-.3 12.8-6.1 4.2 .5 3 2.9 4.6 11.3-1.8 5-4.8 4.9-6.3 2.2-5.8-2.2-1.4-.9zM264.7 156.3l3.3 2.2 1.9 5.5-1.7 6-10.2 6.3-9.9-5.2 3.7-15.7 .3-.4zM210.4 98.9l3.6 0 5 3.9 2.4 5.5-1.3 7.1-3.2 2.9-5.3 3-5.1-.2-4.3-3.9-3.6-8.7 .5-2zM40.9 174.2l-3.8 3.9-5.6 .8-5.6-1.5-3.2-4.9-.5-2.1 .1-2.9 1.3-3.7 5.1-4.9 4-1 5.9 2.7 2.9 3.6 1.2 3.6zM57.6 133.7l1.2 0 5.7 2 2.2 4.4 1.3 4.4-2.1 3.7-8.6 4.9-.2 .1-6.5-1.8-2.2-3.1-.7-5.5 .3-1.3zM215.5 133l-.7-4 1.6-4.4 2.7-3.6 6-.9 3.2 .5 4.5 4.4 .3 4.1-1.9 5.5-3.7 2.8-3.3 1.6-3.6-1.3zM470.5 157.4l-1.5-4 0-.1 2.4-4.7 2.7-1.4 4 .9 2.7 3.1 .4 4.3-4 3.6-3.2 .3zM386.9 110.4l4.1 1.8 1 3.2-.6 3.1-3.5 1.9-2.8-.1-2.4-2-.7-4.1 2.3-2.9z"/><path class="k3" d="M66.2 127.6l-27.8-21 13.7-35.3 7.3-1.8 15.9 .7 1 .9 15 29.1-13.8 21.2zM190.4 218.7l-11.1-8.1-8.7-12 2.2-24.3 5.4-8.9 8.3-4.8 25.1 5.1 14.8 16.4 .5 19-2.5 5.3-17.1 10.1zM82.7 146.8l6.7-2.4 11 3.8 17.8 34-.8 3.4-9.1 11.5-16.8 7-11.9 .2-5-3.5-7.8-30.3 0-2.1zM375.6 193.4l-.1 .4-4.4 7.9-12.7 7.5-7.6 0-12.3-7.4-3.9-9.4-.3-2.2 4.3-13.7 13.6-5.9 14.1 3.3zM36.5 110.4l4.4-1.3 20.8 15.7-.1 5.1-19.3 15.5-.2 0-10-4.5-4.7-6.8-.7-11 4-8.2zM263 191.4l-4.6 6.7-9.2 4.5-6.4 .5-9.5-5.2-3-9.8 .8-8.1 5.5-6.9 .6-.4 10.6-1.2 9.9 5.3zM51.7 187.2l-7.4-3.4-3.3-3.7 0-3.8 2.9-10.6 6-3.3 6.3-.4 5.8 2.2 3.6 4.9 .3 2-9.1 16.3zM449.4 81l-2.7 6.6-4 1.4-6.9 1-1-.4-3.3-2.4-4.4-5.4-.2-4.5 2.6-5.8 6.2-3.7 6.7 .4 4.9 2.8 2.5 6zM392.7 160.8l-.3 4.2-2.9 3.5-3.1 1.1-5.1-.6-2.8-1.4-2.1-5.4 .5-2.9 2.5-4.3 3-1.9 4.5 .4 3.2 1.9zM91 133.1l-.3 4.4-4.7 3.6-4.6-.4-4.4-3.9-1-5.3 2.7-3.4 4.3-2 7.2 5.5zM283.7 161.1l-3.1-2.8-1-4.8 2.9-4.6 3.2-1.7 5.7 2.2 2.8 4.2-1.2 4.3-3.5 3.8zM170.4 158.9l3.4 3.6 .7 4.5-3 4-5 1.3-3.9-1.9-2.7-4.8 1.6-4.5 3.6-2.7zM254.4 144.6l3.1-2.6 5.3 1 2.9 2.3 .2 5.7-2.4 2.4-3.9 1.1-4.4-1.4-1.6-3.8zM206.9 97.5l-.4 3.1-.6 .7-2.4 1.6-3.1 0-2.7-2.2-.2-1.1 3.1-5.8 1.6-.4 3.3 1.1zM467 130.8l1.5 2.2 .4 3.1-2.1 2.5-3.6 .7-2.8-1.3-1.2-3.7 .9-2.6 3.6-2.2zM327.3 132.9l-2.8 2.7-3.5 0-.6-.5-2.1-3.4-.5-1.4 .8-2.2 4-2.1 2.1 .7 2.2 2.2 .6 1z"/><path class="k4" d="M447.8 111.2l8.2 5.8 2.5 3.8 0 21.4-10.4 12-9.3-.8-19.8-12.3 0-.1 11.5-23.6zM12.3 132.1l-5.4 6.5-12.1 2.1-8-2.1-6.5-6.6-3.3-12.1 2.1-9.2 10.1-6.7 9.6-3.1 6.6 3.9 9.7 9.3 1.8 6.7zM133.1 181.2l2.5-4.9 11.5-9.8 6.4-1 14.9 13.9-1.3 6.4-4.3 10.1-6.6 4-7.6 .8-9.5-4.8-3.7-6.4zM123.6 119.5l-.5 0-11.9-7.6-2.2-4.2 8.3-15.8 3.4-2.2 6 0 4 1.4 4.1 2.5 2.2 4.1 .1 8.9zM149.8 119.3l-12.2-12.7 0-7.6 1.4-4 5.8-4.4 2.3-.8 6.4 .3 7.7 3.2 3.9 6.7-.5 6.5zM325.1 124.6l2.8-10.5 13.2-4.2 .3 0 5 3.2 2.8 7.3-10 16.5-.8 .4-6.5-.8zM232.2 61l7.1 .1 5.7 4.7 2.7 8.4-1.1 3.8-1.8 2.3-9.9 7.1-6.2-1.9-4.8-2.8-2.8-7.9 1.4-6.7 3.3-3.7zM360.6 155.5l3.9 1.7 4.4 4.6 .4 2.5-.5 4.2-3.7 3.4-2 .7-8.9-2.1-1.1-1-.3-.6 3.5-12.2zM184.8 91.9l1.1 1.1 3.2 7.2-1.4 4.9-3.3 2.1-4.3 1.4-4-2-2.4-1.9-1.7-5.1 1.6-4.4 3-2.5 4.6-1.4zM198.3 87.8l2.8 4 0 .1-4.9 9.1-4.2 0-2.8-1.9-1.9-4.2-.3-1.1 1.1-4.7 5.1-2.8zM167.3 65.7l4.7 3.3 .4 3.9-2.1 4.8-4.1 1.9-5.3-2-2.3-4.2 .9-3.7 3.5-3.8zM274.6 89.2l-2.6-2.2-.4-3.4 2.3-2.9 2.6-.6 3.1 1.2 2 3.4-1.3 3.2-2.4 1.7z"/><path class="k5" d="M381.2 148.2l-2.6-4.5 .5-12.6 2.9-3.8 15.7-6.3 16.9 19.3 .1 .8-6.9 11.8-4.6 3.2-5.4 .2zM482.9 185.9l.6 2.3-2.5 5.8-7.2 8.2-6.5 1.1-10.1-2.7-3.7-4.3-3-9.6 1.8-6.3 4.9-7.2 7.9-1.8zM311 97.1l-1.8 2.5-8 3.8-9.1-2.3-5-2.6-3.8-9.5 1-5.4 5.5-8.5 6.1-2.4 6.7 1.2 7.9 5.3 .4 .6zM261.6 125.6l-.9 7.3-4.4 5.2-4.6 1.9-8.1-.4-4.7-3.4-2.9-5.3 1-9.9 5.1-4.6 4.7-2.1 8.3 1.5 3.6 4.5zM240.5 99.6l-2.5-3.2-1.5-6.2 2.4-5 4.6-3.2 4.2-.7 5.1 2.5 1.6 13.6-4.6 3.3-3.7 .4zM309.3 178.3l2.5 5.8-.9 3.8-2 4.2-5.4 2.3-4.3-1.2-4.9-3.6-1.2-2.7 .3-5.9 3.3-4 4.8-2.5 5 1.5zM125.8 137.1l4.6-.8 4.5 3.3 .9 4.6-2.3 3.6-4 1.5-4.5-1.2-2.2-2.8 .5-4.4zM373.5 110.1l.4 3.7-4.2 4.1-4.4 .7-3-2-1.5-3.8 .8-4.6 4.3-2.7 4.9 1zM179.4 80.3l-.2 3.9-1.9 2.7-3.6 .5-3.2-2.4-.9-2.7 1-3.3 2.8-1.9 3.6 .4z"/><path class="k6" d="M428.4 192.1l-2.9 4.1-10.9 5.6-11.5-.6-7.5-6-5.4-12.4 .8-10.3 5.8-5.3 8.4-4.8 19 7.3zM429 166.5l.9-.5 11.4 3 5.8 10.8-1.7 4.6-3.8 4.1-6.5 .5-7.1-1.6-3.1-16.6 .2-.9zM313.2 79.5l6.1-2.6 5.2 .4 4.2 2.3 3.2 4.8 0 7.2-3.2 4.2-5.1 3.4-6-.2-3.5-2.8-2.6-4-.1-9.3zM106.9 159.8l1.4-2.6 3.2-3.2 5.2-.5 2.6 .6 3.1 2.9-.1 8.1-.5 1.1-3.8 3.1-3.9 .7-2.3-1.1zM87.9 89.6l-1.6-4.6 .8-3.7 4.7-2.9 4.4 1 2.7 3.6 .1 4.5-2.4 3.2-5.3 1.1zM435.3 151.8l.3 .5-.6 3.3-3.1 3.3-4 .3-4-2.6-.7-3.9 1.3-4.1 3.9-1.1zM68.1 161.6l-4.9 1.1-3.6-3.6-1.2-3.4 1.3-3.3 3.9-2.2 .6-.3 4.6 1.5 1.9 2.7-.1 4.3zM159 132.1l.3-3.4 2.3-3.1 5.4-.6 2.6 2 1.7 3.5-1.4 3.9-3.6 2.8-5.1-1.3zM26.7 140.3l3.5 1.3 1.9 3.2-.1 3.3-2.6 2.8-3.8 .4-3.5-2.1-.8-4.4 1.9-3z"/><path class="k7" d="M-5.1 196.1l-13.7-7.6-8.8-11.4 .5-14.5 5.1-11.5 8.2-7.4 22.1-1.9 13.6 16.5-.7 26.6-10.6 11zM18.3 89.4l-5 5.9-6.4 1.3-11-.8-8-6-4.8-12.5 1.1-8.4 6-5.7 12.2-5.5 7.8 .7 8.1 7.5 4.6 9.1zM327.1 163.6l-.8-4.4 3.6-8.6 7.2-6.5 2.8-.1 16.3 11.1-4.2 15-13.3 5.8-.6-.2zM296.1 143.4l-1.4-7.9 5-6.8 3.3-3 13.2 3.6 7.4 12 .1 1.6-2.5 4.8-6 5.4-6.5 .8-9.5-3.9zM123 154.5l2.7-2.5 10.8-2 3.7 1.9 4.1 5.7 .9 6.8-3.9 6.2-2.1 1.9-1.3 1.1-6.5 .5-7.4-2.4-1.2-1.8zM134 128.6l-4.2-.9-4.2-5.8 .3-4 11.3-10.7 .4 .1 9.7 10.1 .5 2.2-2 3.7zM333.1 171.6l1.2 5.2-.1 5.6-3.7 3.4-6.8 3.3-4.8-2-3.9-2.9-2.4-6.1 1.4-6.1 2.5-2.6 7.4-3.4 4.2 1.5zM368.1 176.6l2.7-4.7 3.9-2.1 4.9 .9 4.3 4.9-.5 4.8-4.1 4.3-5.5 .2-2.7-2.1zM243.3 154.7l5.2 1.2 2 3.1-2.1 8.8-.8 .8-6.2 .5-3-2.8-1.4-4.6 1.8-4.6zM262.7 185.3l-2.8-4.2-.4-1.2 .4-3.9 .7-.7 3.9-2.4 3.6-.1 3.6 2.9 .2 .5-2.1 8.4-2 1.5zM136.5 133.4l-.5-3.8 1.5-2 6-2.7 4.3 2.3 1.5 4.3-2.1 3.9-5.8 1.9-1.9-.4zM155.8 120.1l-.8-4.5 .2-.3 6-5.3 2.9 .9 2.4 4.1-.3 3.6-3.2 3.1-3.8 .7zM417.5 155.7l3.2-.4 3.2 3.1 .9 3.8-1.7 2.4-3.7 1.8-3.8-1.2-1.7-2.9-.1-3.6zM358.4 95.6l-1.4 3.1-3.2 1.5-2.9-.8-1.8-2.5 .2-3.3 2.4-1.8 2.6-.6 3.1 2.2z"/></g><g id="fs1b"><path class="b4" d="M26.2 95.3l-2.9 2.5-4.8 .9-4.2-3 1.7-4.5 2.9-2.3 2.9 .6 5 2.6zM15.5 90.7l7-1.5 2.2 3.3 2.2 4.2-1.8 3.2-3.1 .8-4.5-2.4-2.2-4.4zM26.5 87.1l2.6 4.8-.4 3.9-3.9 4.5-5.1-3.4-2.5-1.7 1.1-5.5 3.4-3.1zM8.8 109.5l4.5-2.2 2.9 3.9 1.6 3.5-1.3 4.3-5.8 .9-3.2-2.7-1.8-5.2zM14.9 112l-2.3 2-4.1-2.7-1.5-2.5 .4-1.7 2-2 4.2 1.2 1.2 3.1zM18.5 121.8l-4.4 2.1-4.5-.9-2.2-3.1-.9-5.7 4.9-1.6 6-.8 2.1 3.5zM18.1 132.8l-2.2-3-3.6-4.4 3.4-4.9 3.3 0 3.8 .7 1.4 7.6-2.4 2.7zM20 127.9l-1.6 3.3-3.2 .3-2.5-2.6-2.4-2.3 .9-3.1 3.9 .3 3 1.5zM20.1 124.4l1.4 4.3-2.8 2.7-4.5 .6-4.7-3.7-.5-3.4 2.5-3.1 4.2-.6zM16.7 153.7l-.6-3.3 1.1-2.5 2.9-1.9 3.2 1 .5 4.2-1.3 3.3-3.4 1.1zM19.5 145.7l6.2 0 4.5 .9 3.7 5-2.2 4.7-5.7 2.7-6.2-2.6-2-5.7zM16.7 145.4l3.6-3.1 5.7 2.8 3.9 3.8-1.8 4.1-5.9 1.2-7.7 .3-.7-3.4zM17.1 159.2l2.6-4.3 2.5-2.3 4.8 .8-.2 4-.9 3.5-4.4 2.3-2.6-.4zM28.3 157l.3 4.5-2.9 3-5.1-.1-2.8-5.8-1.8-2.9 3.3-2.9 5.2-.3zM22.8 158.9l4.6-.7 4.3 2.3 2.4 3.1-1.1 3.8-4.5 2.2-5.6-.4-1.3-5zM29.8 183.4l-1.2-2.9 1.8-2.4 2.8-1.3 2.5 .4 1.9 1.2-1 2.3-3.4 2zM27.2 183.3l-.2-4.1 3.8-3.9 3.6-.1 3.2 2.3 2.4 3.2-4.1 3.5-4.6 2.4zM24.5 181.4l-4-3.8 1.8-3.7 2.4-4 4.3 .4 5.3 3.9-3 4.4-2.2 3.4zM15.7 131l.2 3.6 .3 5.6-5 1.5-4.4-2.2-4.2-4.5 1.6-4.4 4.8-1.6zM3.1 141.7l0-3.5 3.4-2.1 3.3 .9 3.2 4.3-2.2 3.3-2.6 1.5-3.3-1.7zM12.3 136.4l-2.7 3-4.1 1.5-1.4-4.4-1.5-4.7 3.7-2.9 2.4-.7 3.9 1.7zM63.6 131.8l1.2 3.5-2.5 4.9-2.9 2.4-4-1.2-1.8-2.8 3.1-3.6 4-4.1zM57.2 139.1l-5.3-2.8 1.8-3.4 2.7-2.1 4 .3 5 3.6-.4 3.2-4.3 2.9zM62.3 135.2l-.4 5.3-3.6 .1-5.8-.8-2.1-4.8 .2-3.1 4.5-1.4 4.9-1.2zM78.3 131.2l3.5 3.4 .8 3.6-2.3 3.4-4.6 1.2-3-3.1-.8-3.1 .3-4.6zM72 144.1l-5.9-2.4-1.7-4.2-.7-5.9 7.2-3.3 4.3 .5 2.4 5.5-1.5 6.6zM68.4 136.1l2.4-2.8 3.7-1.5 3.2 .5 .7 3.5-.4 4.1-4.2 .7-4-1zM82.4 142.1l2.7-4.4 3.7-2 3.6 3.6 3.3 3.5-3.1 5.5-3.2 .5-4.1-4.3zM90.9 142.1l-1-3.7 1.9-2.9 3.1-.9 2.1 1.2 .6 3.9-.7 3.6-3.7 .4zM86.7 144.3l2.2-1.6 2.8 1.1 1.3 3 .8 3.4-3.3-.3-3.5-1-2.4-2.4zM105.1 147.6l-3.7 3-2.8-1.2-3.3-3.7-.2-4.9 5.7-3.4 3.9 1.7 3.3 3zM96.3 147.4l-2.8-5 3.8-2.8 4.3-2.5 3.4 2.3 1.5 6-2.2 3.8-5.7 1.4zM103.8 155.2l.6-3.5 .4-3.8 3.7-.2 3.5 1.7 .4 3.5-2.1 3.2-2.8-.3zM113.4 124.6l3.8 1.6-.1 4.6-2.2 3.9-5.7 .2-2.3-3.8-1.8-4.6 5.5-2zM121.9 127.1l-1.7 5.7-3.7-.1-4.2-1.3-3.6-4.4 2.2-4.4 4.4-1.8 3.5 2.7zM107.7 128.3l1.1-4.2 5.7-.4 4 4.4 .2 3.5-4.8 2.8-3.9 .3-3.8-1.1zM123.8 129.4l-3-2.9 .6-4.5 4.5-3.4 4.3 1.2 3.9 2-1.2 5.6-4.8 2zM126.2 128.4l1-5.4 4.4-2.4 5 2.7 4.5 2.8-3.9 4-3 2.1-7.1-.1zM138.9 122l2.1 3.7-3.5 2.6-1.6 3-4.4-2.9-1.1-2.5 .7-4.6 2.7-.3zM139.5 126.4l-1-4.4 .1-4.9 3.8-2.8 2.2 1.3 2.4 3.3-1.5 3.4-2.7 2.7zM151.9 121.8l-3 2.7-4.6-4.6-2.2-4.1 2.8-3 5.2-1.4 4 1.1 2.1 6.2zM146.3 118.4l-2.1 3.8-4 2.2-3.1 0 .3-3.6 .9-2.8 3.4-1 3-.6zM146.1 142.3l3.4-1.8 5 3.6 3.3 3.1 .9 4.4-5.4 2.6-5.2-2.9-2.8-3.2zM144 145.9l-1.1-2.6 4.1-3.2 4.1 .1 2.5 3.7 .6 5.3-3.2 .2-5.1 .5zM150.3 144.3l2.5-1.6 4.9-.4 3.1 1.9 2.4 2-3.2 3.2-3.6 .6-2.9-1.1zM170.5 151.9l-5.2-.4-2.7-2.5 .4-3 3.2-3.3 3.9 .7 3.5 2.2-1.2 3.3zM157.6 146.8l4.5-1.6 3.3 .7 4.2 2.4-.3 5.5-1.3 3.6-5.5-1.5-2.9-3.8zM164.5 140.2l4.3 2.9 .1 4.9-1.8 2.1-4.3 1.8-1.6-2.9-2.5-5.8 3-1.9zM173.8 140.1l-2.5-3.6 .6-3.2 1.9-2.9 3.8 1.1 2.5 1.6 .2 4.9-2.4 2.1zM176.1 134l3.1-.4 2.6 .6 .2 3.3 0 2.2-4.3 .4-4.2-.6-.9-2.6zM182 140l-1.1 3-2.7 4.3-5.1-3.5-1.2-3 0-5 5.8-3.4 4 3.2zM161.8 98l2.4-.7 2.8 4.1 .2 3.9-2.8 1.5-3.3-.3-2-2.9-1-4.1zM172.8 92.7l1.4 3.5 1 5.4-5.8 2.8-3.2-1.1-4.2-2.6 1.9-5.1 3.1-3.3zM156.4 100.6l.3-4 3.5-2.5 3.4-.4 2.2 4.6-.3 3.4-2.3 1.5-5.3 1zM172 90l-4.8-.5-4.1-1.3-1.2-3.2 2.8-3.8 4 .6 3.9 .9 .3 4.1zM172 84.7l-.5 3.5-3 2-3.9-.9-2.1-4.5 1.2-2.6 3.8-1.9 2.9 .4zM166.3 88.8l-3.8 .8-1.5-5.2-.2-3.5 4.1-2.2 3 .9 1.9 3.4-.2 4.4zM187.5 82.8l-2.9 .2-1.8-2.1 1.6-2.9 1.9-2.8 3.1 .3 1.9 1.4-1.7 4.6zM184.8 72l.9 3.4-1.5 3.4-2.7 1.5-3-1.6-1.3-2 2.2-3.7 2.4-.8zM182.7 88.1l-5.7-1.8-.3-5.7 1.5-2.8 5.1-1.9 4.9 .9 .4 3.4-.4 5.6zM204.9 74.5l-3.5-1-.8-2.3 2.2-2.5 2.9-1.9 3.5 .7 .2 3.6-.9 2zM210.4 74.9l.9 3.6-5.4 3-4.3-.6-1.8-4.1-.7-2.5 3.6-3.4 6 1.5zM204.9 78.6l-5.2-2.2-3-5.1 2.6-3 4.1-1.5 4.7 2.5 2.8 3-3 4.2zM214.6 73.3l-4.1-3.7-2.5-5 3.2-2.6 5.7-3.4 2.3 3.1 1.7 4.6-1.2 6.4zM207.1 67l3.3-2.8 4.2-.3 1.4 3.6 1.3 2.7-3.5 2.8-4.3 .5-1.2-2.9zM209.4 74.1l.9-6 3.1-3.3 5.6 .4 1.4 4.1-.1 3.4-3.7 2.2-4.3 .7zM225.1 59.1l-2.5 3-3.2-.8-5.4-1.2-1.5-5.1 3.4-1.3 4.4-1.7 3.4 2zM218.7 60.9l-.2-3.9 1.2-3.9 3.5-1.1 5 2.3 0 3.7-2.3 3.6-3.3 0zM226.6 52.8l-1.1 2.3-2.8 1.2-3.2-1-1.7-5.1 1.3-3.2 3.4-.9 2.3 3.9zM228.1 48.4l3.2-1 2.2 2.8 .9 2.7-1.6 2.8-2.3 1.4-3.3-2.4-2-3.7zM226.6 43.9l2.8-.8 4.5 .1 .4 4.3-1.2 4.4-5 1.6-3.2-2.4-1.2-3.3zM230.2 53.7l.6-4.7 4.5-5.5 3.8 3 3.2 2.7-2.9 5.5-2.3 3.8-4.1-1.8zM246.5 86.1l1.7 4-3.7 4.7-3.7 1.5-6 .6-.4-5.1 1-5.8 6.1-1zM232 94.1l-3.1-2.3-.7-4.3 3.4-4.4 4.1 .2 4.6 2.3-.1 5.4-4.2 5.3zM238.9 88.5l1.3 2.5-1.8 4.1-4.3 1.2-1.9-3-1.1-1.8 1.5-3.6 4-1zM233.3 103.3l-2.9 3.7-3 .3-3.9-.2-1.4-4 2.3-3.8 3.2-.7 4.2 1.3zM223.1 96.5l2.2-3.4 3.9-1.8 6.3 2.6 1.2 4.8-3 6.1-4.8-1-4.5-.9zM240 104.3l-2.3 3.6-5.5-.5-4.3-2.1-.9-3.4 1.8-1.6 4.3-1 5 .6zM182.4 102.7l4.3-.1 1.6 3.1-1.3 6.2-2.2 3.7-5.8-.6-1.6-5.4 .9-4.3zM177.2 113.7l-4 .2-1-3.6 2.9-5.3 2.3-2.7 4.4 1.5-.3 3.2-1.3 5.2zM183.9 108.3l-4.1 .9-3.1-1.4-.7-2.3-.2-4.5 4.3-.8 2.9 1.4 2.3 3.1zM195.4 100.9l4.1 3.5-3.6 4.4-3.7 3-5.3-2.1-3-3.4 .9-5.8 6.1-1.5zM191.8 112.2l-5.4 1.8-2.1-6.3 1.5-5.6 2.9-1.3 6.1 .5 2.2 3.1-2.7 6.2zM198 114.2l-3.4-.6-2.7-2.3-.5-3.7 .7-3.6 4.4-.8 2 3.3 1.8 4.3zM215 99.9l-4.5 .5-3.7-2.6-3.9-5.3 3.9-3.4 4.4-3.1 3.3 4.4 1.3 4.2zM199.5 96.5l-.6-3.8 1.3-5.3 5.4-2.5 2.9 2 2 5.2-.8 4.3-4.4 3.1zM210.5 90l-3.4 1-1.6-2.8 .2-2.2 2.2-2.1 4.3-.5 2.3 2.1-2 3.2zM229.3 90.7l-4.6 .2-4.3-5.6 .8-2.4 3.4-1.5 4.8 1.1 3.7 2.8-1.9 3.3zM223.8 83.5l-2.9 3.3-3.6 1-2.5-1.3-.9-4.3 2-5 5.1-1 2 3.9zM222.6 82.5l.9 3.3-2.4 3.3-3.3 1.4-1.6-2.7-1.3-3.2 2.5-4.4 2.6 .6zM140.6 163.8l-.3-3.5 4 0 4.7 .4 1 3.7-1.3 1.9-3.6 .9-2.4-.8zM136.6 162.4l1.9-4.8 3.5-4.1 5.7 1.7 .8 5.7-.7 4.1-4.5 4.2-5.8-2.7zM149.5 157l1.7 2.8-2.5 2-3.3 1-3.9-1.6-.2-3.6 .7-3.3 4.3 .4zM169.3 175.2l-4.5-1.4-2.1-6.2 .6-3.1 3-2 4.9 .6 2.6 3.5-.8 5.9zM167.7 173.5l-5.2 3.9-7.2-.8-.6-4.8 .5-4.1 5.5-2.4 5.1 0 1.9 3.7zM165.2 164l3.2 1.1 4.4 3.2-.1 3.5-3.5 1.7-5.3-.5-1.5-4.4-1-3.7zM173 182.4l-3.3-2.3-1-4.3 1.2-3 2.7-2.6 3.2 3.8 1.7 3.4-1.1 5.6zM169.3 178l1.1-2.5 5.5-.8 2.5 2.8-.2 2.8-1.6 1.8-3.8 .4-2.6-1.9zM173.5 170.4l1.7 2.6 .7 3-1 4-4.8-.3-2.6-1.8-.3-5.3 2.5-2.1zM135.2 170.8l.3 4.9-.2 2.7-3.8 1.3-3.3-3.5-1.9-4.1 1.5-2 5-1.3zM129.5 170.2l-.5-4.5 3.7-1.8 4.5-.1 2.6 3.8-2.3 4.5-1.5 1.5-3.9-1.5zM130.8 173.4l1.5 1.3-1.1 3.2-3.1 .2-3.4-1.1-2.5-1.5 1.6-2.9 4-.9zM75.4 164.1l-.6 3.2-3.3 1.4-2.9-1.2-2-3 .5-1.6 2.1-2.3 3.5 .6zM75.7 164.2l-2 4.3-4.6 .3-2.4-3.4-2.2-3.2 4.9-3.3 5-.9 3 3.7zM76.1 162.4l-1.7 4.5-3.9-3.5-2.5-5.3 .5-4.3 3.9-4.1 2.8 3.7 3.7 4zM68.3 158.1l-3.1-.1-2.1-1.6-.6-4.9 2.8-1.7 3.2 .5 2 2.8 .4 2.4zM75.3 147.4l-2.6 1.9-5 1.8-2.8-.6-3-2.5 3.3-3.1 4-1.6 4.9 .6zM63.3 148.8l2.7-3.5 3.3-1.2 4 .6 1.5 2.1-.3 4.4-3.7 .9-5.3-.6zM119.2 146.8l-2.1 2.1-3.9 1-1.2-3.4 1.2-2.5 2.7-1.8 2.8-.2 2 1.7zM118.5 139.9l1.4-4.8 4.1-.5 4 2.1 .9 4.5-2.3 3.7-3.7-.3-5.1-1.1zM117.6 142l2.1-.6 3.4 .2 .5 4 0 3-1.8 1.3-3.1-1.9-1.1-2.4zM128.7 136.1l3.4-2.5 4.6 .6 3.3 4.1 1.6 5.9-3.7 2.8-7.1-1.2-2.7-4.2zM134.2 133.7l5.4 .5 1.7 3.7-1.3 3.9-3.1 3.9-4-1.4-3.3-3.6 .7-3.7zM140.1 129.7l2.8-.9 3.5 2.6 .5 2.4-3.4 3.9-3.2 1.1-3-2.5-1.2-3.4zM158.3 124.3l2.5-2.4 4.8-.3 2.1 3.4-1.7 3.8-2.6 1.1-3 .8-2.9-3.6zM160.6 131.7l-2.5 .9-3.7-.7-2.4-3.3 1.7-2.5 2.1-1.9 3.7 2.3 2.1 2.4zM166 124.3l-1.6 2.4-2.3 2.8-4.2-3-.5-3.3 1.6-2.4 4.1-2 2.8 0zM177.8 124.8l3.5 .7 2 4.4-3.4 2.9-2.9 2.6-4.2-3.2-2.7-2.3 4.3-4.7zM180.3 123.4l3.8 1 3.5 5-.8 5.2-4.5 1.6-5.4-.1-2.6-4.7 2.2-4.9zM173.9 132.9l-2.2-2.2-1.5-4.2 3-2.9 3.6-1 2.8 3 .4 3.4-2.5 2.9zM195.9 139.5l-2.9 3.2-3.6 1.8-2.5-2.4-1.2-1.9 2.6-3.3 3.2-2.3 5 1.4zM183.2 146.4l.5-4.3 4-3.6 8 1.1 3.4 3.5-1.9 4-4.8 2.5-3.7-.5zM194 146.8l-3.7 1.8-4.3 1.8-4.7-3.8-1.7-4.8 3.5-3.4 7-1 1.4 3.7zM223.4 121.4l-3.5 3.2-4.2 .6-1.4-4.3 0-3.7 2.6-3.3 4.1 1.5 4 2.6zM223.4 129l-3 2.7-4.4-2.1-2.5-3.4 2.8-4.7 3.9-.9 3.8 1.7 1.4 3.5zM220.9 121.9l3.8 .3 1 3.8-.6 3.8-4.7 .5-1.5-2.2-1.9-3.9 1.9-1.6zM244.5 122l-.2 4.1-4.1 1.3-2.5-1.1-1.1-4.8 1.2-2.6 2.6-1.7 3.9 1.2zM230.5 120.2l3-3.2 2.2-1.8 5.3 3.2-.2 3-.9 5.1-4.7 0-2.2-1.4zM243 120.6l-2.4 3.8-5.9 2.5-2.4-2.7 2.2-5.7 1.6-4.6 6.3-.5 2.8 2.1zM249.9 121.4l-1.6-4.9 .1-3.4 4.8-3.3 2.6 1.9 3.8 3.6-1.5 4.7-2.8 2zM246.2 124.3l-2.5-2.8-1.1-5.1 6.1-5 4-.1 2.2 5.3-.7 5.2-4.1 2.5zM254.9 122.4l-3.8 1.6-3.1-1.9-1.4-3.2 1.2-3.1 2.9-1.4 2.9 .8 1.3 4.4zM268.6 133.1l-1.8 3.5-2.9-1.4-2.9-1.8-.6-4.2 2.3-2.2 2.3-1.2 2.8 2.7zM266.1 128.7l-3.9 2.4-4-2.8-1.9-4.2 .9-4.5 2.1-2.1 4 1 3.1 4.9zM258 132.9l-4.6-4.8 .8-3.7 3.7-5.6 5.5 1.8 1.8 5.3 1.1 5.2-3.7 1.6zM233.7 139l-2.3 3.3-3.7 .7-.4-3.1 .3-3.9 2.2-3.4 2.6 .5 3.2 2.1zM232.1 128.7l2.7 2.2 1 3.4-1.8 3.2-3.3 1.9-3.5-1.4-3.4-3 2.5-5.2zM242.4 132.7l-1.6 5.3-4.6 3.6-3.1-2.2-3-3.1 1.6-4.5 3.3-2.6 3.6-1.1zM255.4 141.5l-1.2 3-3.2-.2-2.2-2.8-1.1-3.7 2-1.4 2.2-.8 4.1 1.7zM254.9 138.6l-.9 4.1-1.7 3-4.4-.2-3.6-1.4 .2-3.5 2.5-2.8 3.3 0zM247.1 136l1.1 4-2.5 3.1-3.4 .7-3.5-2.2-.5-3.9 .2-3.2 6.2-1.8zM232.3 155.6l-1.3-3.4 2.1-1.6 4.3-1.5 3.7 2.1 2 4.4-4.8 2.5-3.2 1zM236.9 145.9l4.1 2.7-1.1 3.7-2 1.3-4.7 0-2-2.5-.5-2.6 2.6-3.3zM239.8 145.8l.5 3.2-1.5 2.1-3.4-.7-1.6-3.6-.5-3.5 1.4-.9 2.6 .5zM224.2 145.4l-4.2 2.2-3.9-2.8-3.2-5.3 4.7-4.7 3.2-1.1 4.5 3.8 .5 3.2zM222.7 144l-5 0-2.8-3.8 .4-4.9 3.1-3.2 5.7-.9 4.9 2.4-1.3 4.4zM222.9 146.2l-1-4.8-.9-3.2 4.4-3.5 5.8 1.1 1.3 3.9 .3 5.8-4.2 2.1zM209.5 136l-4.3-.3-.9-3.7-.3-3.6 4.1-1.9 3-.2 4.3 2.9-2.9 3.7zM205.7 128.7l1.2-2.9 2.3-1.6 2.8-1 2.4 2.9-.2 5-3.4 2-3.2-2.1zM212.7 130.5l-1.5 4-2.4 .1-4.3-1.3-.2-2.9 1-3.9 2-2.2 3 2.1zM257.8 148.4l-1.4-2.9 3.3-4.4 6 .7 4.1 2.1 .7 2.8-3.2 4.7-6.1 1zM262.9 137.5l3.1 1.2 4.2 2.4-.1 2.5-3.4 2.2-2.8-.6-3-1.1-.7-3.5zM262.4 150.9l-4.6-.6-3-3.9 .8-3.9 4.8-1.3 4.9 1.2 1.6 1.7-1.8 3.8zM258.4 38.7l-.8-4.1 1.3-3.2 4.3-1.1 2.1 1.9 1.7 3.8-1.2 2.8-4.2 .9zM260.5 24.2l4.7 2 .4 4.9 .4 2.8-4.1 1.6-2.6-2-2.9-2.1 1.6-4.1zM253.9 28.1l3.3-1.2 2.8 1.1 2 3-.1 4.2-3.4 .4-2.5-1.2-3-4.5zM278.3 43.5l-3.3 3.1-4.1-.9-2.8-1.1 1.2-4.1 .9-2.6 4.8-.9 1.3 2.8zM267.6 35.4l2.3-1.3 2.4-2 4 1.4 1.4 4-2.4 2.7-4.2 .7-2.3-1zM271.7 42.4l-4.7-2.4-3.1-4.2 .9-6.4 3.9 0 4.2 1.1 2.6 5.5 .3 3.5zM277.7 38.6l3.8 1.7 3.2 5.4-2.4 2.3-4.6 2.1-4.7-1.6-2.1-6.8 3.9-3.2zM278.8 42.4l-.4 3.7-2.2 4-5.4-.1-2.6-1.9 .7-4.4 2.9-2.6 3.1 .4zM283.5 49.9l-2.9 2-3.3 .8-1.8-2.2-.1-3.7 2.8-2.6 2.4-.2 1.7 2.1zM281.9 54l3-1.9 4.6 1.8 1.1 2.9-2.3 2.5-3.2 1.9-3.3-1.3-.4-3.3zM283 59l1.9-2.4 1.9-1.8 3.6 1.6 1.3 2.8 .3 3.2-3.9 1.8-2.7-2zM286.8 56.4l-1.8-2.9 3.1-2.9 2.9-1 3.3 .9-.3 3.2-1.1 3.5-3.5 .4zM294.8 71l-1.8-2.8 1.1-5.6 2.8-1.3 5.2-.7-.3 5.1 .6 3.2-3.7 3.6zM295.8 60.5l3.5 .9 3.9 .5-1 2.5-1.6 3.1-4.3 1.7-3.1-1.5-.2-2.2zM301.3 64.8l-2.7 1.7-3.8 .8-1.2-3.7 .4-4 4.2-2.5 3.9 1.2 2.1 2.8zM307.7 59l4.4 1.7 1.4 3.5-.4 2.8-3.4 2.9-3 .2-3.4-4.9 1.7-4.8zM308.1 59.4l-5.1 2.2-3 .2-3.1-4.2-.6-5 5.1-2.3 6.3 0 1.9 5.2zM309.7 63l-4.2 .3-2.7-4.1 1.4-4.4 3.3-.2 4.1 .7 2.2 1.8 1.2 4.6zM316.1 67.9l-3-2.1 .6-4.4 3.9-2.5 3.5 .5 1.3 4.1-.3 3.4-3 2zM314.7 73.8l-2.4 1-3.2-2-.9-3.2 2.1-2.4 3.8-2.1 3.7 1.6 .8 3zM315 73.3l-5.1-2.7 .8-2.7 1.1-2.5 4.1-.4 3.3 .4 .1 4.5-1 3.1zM319.8 75.1l3.9 2.2 2.2 1.9-1.8 3.8-2.6 1.2-3.6-2-2.1-3.6 2-2.1zM332.5 77.1l-.7 3.5-4.5 2.7-5.4-2.8-1.5-4.6 4-2.4 2.6-1.7 5.5 2.1zM322.3 84.9l-2.5-3.2 0-3.5 1.6-2.5 2.3 0 1.7 2.7 1.2 2.9-1.7 3.4zM291.6 74.1l4.1-2.3 2.9-.3 2.2 3.1-.3 3-3 3-3.5-1.5-3.3-1.9zM291.7 75l-.1-4.2 2.3-4.4 5.6-1.1 2.4 4.7 2.4 5.2-4.7 1.9-3.2 1.6zM292.9 67.3l3.6-.3 4.9 4.6-2 4.9-5 2.8-4.2-1-2.4-3.2 1.2-5.5zM283.2 96.8l-.6-3.3-.9-4.8 4.7-1.6 4.9 0 3 5.1-.7 6.2-4.5-.3zM282.3 86.7l2.6-.4 3 2.7-.5 3.2-1.2 1.5-4 1-2.4-3.4-1.3-2.7zM288.4 87.5l3.6-.3 1.5 2.9-1.3 3.8-3.2 2.7-2.8 .1-1.3-3.2 .3-4.1zM282.8 108.9l-5.7-.2-2.4-3.9-1.1-3.4 1-4.4 6.8 .1 3.5 2.5-.7 6zM284.2 103.5l-2.7-4.3-2.4-5.9 2.1-3.6 5.2 2.1 4.5 3 .5 5.3-2.7 2.8zM274.4 96.1l-.5-4 3.5-.9 3.3-.6 2.4 2.1 0 4.9-2.7 1.9-4.9-.5zM281.7 61.9l2.6 5.3-3 3.8-3.2 2-3.8-4.3-1-6 2.8-3.3 3.2 .3zM276.4 65.7l-4.4 1.5-2.9-.6-1.2-3.7 2.3-3.9 2.4-1.7 3.1-.3 1.8 5.1zM277 59.5l6 .7 0 4.6-1 2.8-4.3 3.1-3.6-2.8-3.8-3.8 3.1-3.8zM307.3 76.1l-5.2 1.5-1.1-4.4 .7-2 2.6-3.9 5.1 .5 3.3 2.3-1.5 4.7zM299.5 80.4l-1-4.1 .7-6 4-1.8 4.4 1.7 1.6 2.8-.7 4.7-3.5 3.5zM302.5 71.8l2.8-1.9 3.6-1.5 4 3.6 1.4 2.2-3.4 4.2-5.6 1.1-1.3-3.5zM302.4 96.6l1.1-4 3.5-1.7 2.7-.9 1.6 4.8 0 4-3.5 1.8-2.8-1.4zM306.7 95.5l1.6-2.6 3.8 .4 2.1 2.7 .1 2.6-1.9 2-2.9-1.2-3.6-2.1zM310.1 94.3l1.5-4.9 3.8-1.9 2.1 2.5 1.3 3.1-.3 3.3-4.1 1.1-3.9 .5zM322.6 94.7l6.1 3.8-.9 4.7-2.9 3.3-4 1-6.7-2.7 .7-3.2 3.4-4.8zM321.8 110.2l-5.3 .1-1.9-4.1-.5-3 2.2-5.4 5 .7 4.4 3 .1 5.1zM322.6 100.8l2.8 3.5 .3 4.8-3 2.1-4.7-1.4-2.6-3.7 1.1-4.8 3.1-3zM333.3 105.8l-3.1-2-.6-2.9 3.3-4.3 4.8-1.2 3.8 1.2-.8 5.4-4.2 3.9zM327.3 94.4l2.2-3.9 5.3-4.8 5.4 3.2 1 4.7-1.6 6.7-5 .1-5.2-.4zM340.8 94.2l-1.2 5.2-3.7 2-3.6-.5-4-6 2.6-2.4 4.6-2.4 2.9 .5zM353.8 103.4l-3.8 3.7-4.6-4-1.7-2.5-.9-5.7 6.6-.3 6.1 1.1 .4 4.4zM348.2 93.3l2.4 2.2 3.7 4.6-3.4 2.5-3 2-5.1-.7-1.2-4.7 2.6-3.8zM340.1 99.1l1.8-4.2 4.3-.6 1.3 2.2 1.2 2.9-1.9 3.8-3.1 2-4-3.8zM368.5 100.1l-3 3.8-6.9-.2-1.9-3-.7-6 3.3-5 5.3 1 3.2 3zM362 96.8l-4.5 .4-2.5-3.6-1.1-2.9 3.2-3 3.5-1.1 3.2 4.2-.2 3zM359.6 98.8l-3.3-1.5-1.3-2.9 .5-4.4 3.7-.5 3.7 1 2.2 2.5-1.1 5.1zM358.7 98.2l1.2-3.3 3.3-1.2 5.7 .1 .7 3.7 .5 2.1-4.7 3.4-4.5-2zM365.8 106.2l-4.4-2.9 .4-3.2 4.7-1.6 5.6-.5 2.3 2.1 1.2 5.4-3.7 1.9zM362.1 94l5.1-1.6 3.3 .8 2.7 3.7-3.1 4.5-1.9 1.9-4.2-.7-2.6-5.5zM368.1 119.5l-2.2-4.4-1.3-4.2 4.6-4.8 5.4 1 2.9 6-.8 3.7-5 2.6zM368 110.1l4.8-2 4.1 4.2 1.7 3.6-4.4 3.8-3.2 1.1-5.2-1.9-.5-5.2zM377.7 105.7l2.7 4.5-.4 4.6-4.3 3.6-3.8-.6-3-3.8 .9-4.7 4.5-1.4zM380.1 132.8l-2.4-1.2-1.7-4 .8-5.6 3.2-1.4 4.1 1.3 1.5 4.2 .2 5.6zM385.9 123.6l-.3 2.5-3.1 1-3.5-1.7-2.4-1.8 1.1-4 3.5-.2 3.6 .6zM382 124.5l-4.2 2.9-4.7-3.3-2-5.3 2-5.5 3.9 .2 5.2-.9 3.1 5.2zM334.3 109.5l-2.1-3.3-4.2-3.5 3.1-3.2 5.1-1.2 4.3 .6 1.1 5-1.4 4.7zM337.8 99.5l3 2 .3 4.3-1.8 2.5-2.2 .7-3.3-1-.3-3.7 .9-2.3zM342.9 106.7l-2.6-.1-2.2-2.5 1.4-3.7 1.4-1.2 3.9 .2 2.4 3.2-.2 2.7zM311.1 104.9l-2 3.6-3.6 .4-3.5-2-.1-4.2 2.7-2.7 2.5-1.8 2.9 3.9zM308.7 109l-2 5.1-3.2-.6-4.3-4 .4-4.3 2.6-2.4 4.1 1.4 1.9 2.1zM305.6 106.3l3.7 3-2.2 4.3-3.2 .7-3.9-1.3-2.7-2.3 2.9-4 2.4-1.6zM300.7 105.8l3.2-.7 3.3 2.3 .2 3.4-.7 2.9-3 1.7-4.6-1.2-.2-3.2zM310 110.6l-1.6 4-3.8 2.8-4.1 .3-1.1-2.3 .8-3.7 3.8-2.6 3.4-.6zM294 118l1.8-3.1 3-3.8 3.9-1.8 2.6 4.5-1.1 5.2-2.4 2.7-4.3 .8zM276.9 110.5l6-4.3 3.2 3 2.8 3.2-.6 6.3-3.4 3-3.5-2.7-4.2-2.9zM297.1 116.2l-1.6 3.5-3.6 3.6-6.4-2-3.2-4.4 1.9-2.7 3.3-2.4 4.9 .4zM281.5 127.3l-1.4-7.2 .2-5.5 4 .2 5.8 2.2 3.1 4.3-3.5 3.8-3.3 2.4zM280.8 120.5l2.2 1.5 .4 5.8-3.1 3.1-2.6 .8-3.7-2.4 .8-3.9 .7-3.3zM273.3 121.8l4.1 .3 4.9 .8 1.9 6-1.9 3.3-4.2 4.3-4.7-3.3-2.5-5.5zM279.3 122.1l1.3-3.1 3.7 1.9 2.5 2.3 .6 3.9-2.9 2.1-5.1 .8-1.5-4.5zM273.5 134.2l3.5-1.1 4.8 .7 2 3.3-.5 3.1-3.9 1.5-5-.6-1.4-2zM281.9 136.9l-1.6 2.3-3.4 1.5-3.1-1.1-2.5-4.8 1.7-4.5 2.7 .3 4 2.4zM269.3 132.9l5-1.6 3.9 1.8 2.5 5.3-4 5.5-4.6-.7-3.1-2.6-.9-3.7zM350.3 109.2l-.7-4.1 1.9-4.4 4.1 .3 4 1.8 .4 4.8-1.3 4.3-5 0zM353 107.4l2.8-4.2 3.2-.5 3.5 .1 .6 5.6-3.3 2.5-3.3 .6-2.7-1zM362.2 109.5l-2 2.8-2.3 1.2-4.4-1-2-2.8 1.3-3.2 3.7-.9 4.2 .8zM287.5 145.4l.3-3 4.7-3.3 5.8-1.4 2.9 4-2.5 4-4.7 4-3.9-.3zM298.7 145.2l-4.1-4.1-.7-5.4 2.6-1.7 3.1-1.2 5.3 3.1 .7 4-3.8 4.6zM290.3 146.9l-3.4-5.4 2.3-5.6 3.9-1 6.1 1.3 1 3.5-2 4.7-4.1 2zM302.5 145.3l2.2 1.4 2.8 3.2-1.3 4.8-2.5 3-2.4-2.3-1.7-3.1 .5-3.9zM302.9 154.7l-1.2-2.3-.1-4.5 2.5-1.8 4.2-.8 1.7 1.8 .4 5.6-3.6 2zM305.2 148.8l2.8 1-.6 4.6-1.9 3.6-3.5 .2-3.5-2.1 .5-4.3 2.9-3.2zM313.2 160.8l-2.9-1.9-1.3-2.6 .8-4.6 4.2-2 3.6 2.7 1.7 4.1-1.8 3.4zM316.2 159.5l-3.1 3.2-4.1 1.9-5 .1-.5-5.1 .9-4.9 5.2-3.1 3 3.1zM310.6 150.8l5.9 4.3-1.2 3.8-1.7 5.1-5.7-.8-3-1-2.1-6.2 4.5-4zM295.8 163.8l-4 1.4-3.1 .1-2.2-2.7-1.8-4.1 3.9-1.4 4.3-.1 3.2 1.8zM293.6 165.1l1.2-2.4 4.5-1.9 2 2.6 .7 4.4-3 3.5-3 .4-3.5-3.2zM289.8 165.2l1.4-5.4 2.4-1.6 5.2-.4 1.7 6.8 .3 4.6-5.9 1.6-5-.6zM282.3 172.1l1.6 3.4-2.3 2.6-3.7 1.1-2.9-1.7-2.3-3.2 1.4-3.9 3 .1zM286.5 183.7l-4.1-2-3.9-4 0-5.9 3.6-1.2 3.4-.9 4 2.1 1 6.4zM277.3 170.8l1.6-3.4 5 .2 3.3 2-.2 3.1-1.8 5.3-2.7 0-4.5-1zM290.3 173.2l3.8 1.9 1.3 3.9-.9 2.9-4.3 4.2-2.6-2-2.9-3.2 .7-5zM295.8 175.7l2.4 3.4-.5 4.3-3.1 2.7-4.1 .2-2.5-4.3-.3-2.9 4.2-4.1zM290.3 176.6l.1 6.6-.5 4.2-5 3-5.7-2.7-2-5.1 3.3-4.1 4.9-1.6zM305.2 186.2l-4.4-3.8 1-5.9 5.9-4 5 1 1.7 5.4-.1 5.4-4.2 5.4zM299.2 176.9l2.2-4.2 3.8 .3 4.1 2.6 .7 4.6-2.7 3-4.7-.8-2.7-3.2zM302.7 177.6l3.1-1.1 4.2 2.3 2.3 2.9-.7 3.5-5.3-.1-3.2-1.5-3-3.3zM279 170l-4.1 4.4-3.9-2.2-.5-4.9 1.4-5.3 2.5-2 4.1 2.2 1.6 2.3zM273.8 176.1l-1-3.8 .5-2.9 2.2-3.3 3 1.8 2.6 1.8-1.1 3.9-2.3 2.2zM276.5 178l-4-.9-.9-1.6 1.6-4 3.2-1.4 4.7-.2-.8 3-.7 2.9zM345.4 139l2.1 3.7-2.3 2.7-1.2 1.6-4.9-1.1-1.5-3.2 1.2-3.4 2.8-1.5zM347 137.7l-.5 4.1-4 2.4-4.9-.2-3.3-3.1 1.4-5.2 5.5-1.6 3.6 .9zM348.1 142l-3 3.5-3.5 2.1-2.8-3-1.6-5.9 3.3-3.1 3.1-.8 3.7 3zM397.9 111.7l1.2-3.9 3.6-1.8 2.8 1.5 5 2.5 .1 5.3-4.1 1.8-3.9-2.5zM405.2 111.5l2.9-2 3.7 2.7 1.4 4.1-1.5 3.8-3.3-.3-3.3-2-2.3-3.7zM408.1 116.5l-3.2 3.1-5.6-1.7-1.3-3.5 .4-3.6 3.5-2.3 4.9 .1 3.3 4.3zM426.3 106l-3.3 1.7-4.2 1-5.3-1.6-1.1-4.8 3.8-3 5-1.6 3 3.4zM412.6 107l2.8-.9 2.3 1.4 1.5 4-2.1 2.1-3.9 1.6-1.3-2-2-3.6zM416.2 109.5l-1.7 2.9-2.9 3.3-2.4-1.9-2.9-3 1.8-2.3 2.3-2.7 3.6 .5zM450.5 74.7l-2.4 2-2.5-1.4-2.9-3.4-.1-3.4 3.2-1.3 4.5 .7 1.2 3.1zM441.1 78.7l-2.7-2.2-1.5-3.4 1.7-5.7 5.3-1 3.4 1.1 1.4 4.8-1.6 4.7zM451.7 75.7l-5.7 2-3-3.9 .5-6.5 2.9-3 3.6-3 3.4 5.5 0 3.1zM448.2 63.6l1.5-3.1 4.7-.9 2.2 .3 3.5 3-3.9 4.4-3.9 3.2-2.8-2.3zM446.1 68l3.3-4.2 3.1-1 5.3 .6 2 5.2-2.3 4.6-3.7 1-4.8-1.7zM445.7 58.9l3.3-.7 2.1 2.1 1.9 1.9-2 4.7-3.4 .1-3-.2 0-4.3zM463.9 61.5l2.9-2.3 3 .1 2.6 3.9-.4 3.4-3.7 2.1-3.5 0-1.8-3.9zM456.3 59.9l4.3-1.9 4.1-2.1 4.1 2.9-1.1 6.2-4.3 2-4.9 1-3.6-2.4zM467.7 68.6l-3.4 2-2.5 .3-4.2-2.7 .7-4.6 3.1-4.7 2.2 1.4 4.2 1.3zM448 104.2l-4.9-2.3-2.9-1.8 1.6-5.2 3.1-4 6.9 2.6 2.7 4.9-2.4 3.5zM442.5 95.1l5.1-3.1 6.3 1.5 3 3.4-1.6 5.3-4.6 4.6-3.8-2-5.8-5.5zM454.6 97.6l-2.9 3.1-4.5 1.1-5.2-1.6-3.1-4.6 3.6-3.5 4.5-2.6 3.8 3.6zM460.4 99.3l2.6 3.5-.7 3.3-2.6 5.7-7.2-1.3-2.6-4.4 .7-6.1 4.4-3.2zM454.4 103.8l1.3-3.9 2.7 .8 1.8 1.1-.1 3.6-1.2 2.4-2.3 1.8-2.6-2.8zM456.7 107.2l-5.1 1.5-4-1.7 .1-5.7 .5-4.8 5.7 .8 3.7 1.8 3.2 4.2zM458.6 111.1l3.5 1.2 2.7 2.6-.3 2.8-2.5 2.8-2.9 1.1-1.9-4.5-1.6-3.5zM467.6 113.5l-5.3 2.1-3.4-.1-3.4-5.7 3.1-2.9 5.7-2.1 4 1.4 0 5.2zM469.2 117.6l-.6 4.1-5.7 1-4.9-1.6-1.5-3.6 1.9-3.7 4.1-3.5 4.2 2.8zM458.4 124l-3.3 3.6-3.7 1.3-.7-4.7-.3-3.6 3.3-4.8 4.3 1.4 .3 2.8zM451.6 122.8l-1-4 3-3.1 4.4 .1 1.8 2.6 .9 3.6-3.1 2.6-4.6 .7zM451.2 113l.3 3.1-.9 4.2-4 .4-2.9-.7-.6-2.4 .8-4.4 2.7-.9zM460.1 126.7l0-3.6 3.2-.2 3.7 1.6 3 2.3-1.1 3-3.5 .7-3.5-.1zM458.8 136.6l-3.5-3.3-1.3-5.6 4.2-2.3 4.8-1.9 1.9 3.6 .8 4.6-2.5 3.1zM463.6 119.9l4.5 2.6 2.9 3.5-3.4 4.1-6.6 .9-3-2.8-1.2-4.5 .9-2.3zM469.1 142.9l-2.3-3.2 3.2-2.6 2.6-.8 4.1 1.8-.1 2.4-1.7 4.4-3.2 .1zM476 139.5l-2.3 3.8-3.7 0-5.2-2.2-.2-6.2 2.5-2.3 3.2-2.3 3.6 3.9zM467.2 140.4l-5 .1-2.7-3.8 2-3.2 4-2.8 6-1 .2 3.7 .2 5.4zM455.4 159.9l1.5-2.6 3.2 .8 2.4 1-.2 4.9-1.8 .9-2.5 .7-2.1-2.8zM455.8 156.4l3 .7-1.4 4.6-.8 2.5-4.9-.7-1.3-1.9-.8-3.3 2.7-3.1zM458.1 156.6l4.2 2.3 .8 3.3-.3 5.1-3.8 .1-2.7-.7-2.1-3 .2-4.1zM439.2 171.5l1.4-2.2 6.3-.7 2 3.5 .6 5.1-3.7 3.4-3.8-.4-3.3-4.3zM446.7 169.1l4.5 4.1-2.3 4.1-3.3 1.1-4.1-1.2-3.4-3.7 2.8-3.2 2.7-1.4zM440.9 177.1l2.4-2.5 3.6-.5 2.5 2.6-.1 4.1-1.5 2.1-5.2-.3-2.8-3.4zM475.6 139.4l1.3 5.3-2.7 5-3.9 2.1-2.9-.9-3-6.2 1.1-3.8 7-3.4zM469.4 141.2l3.8-1.4 3.4-1.3 .7 5.3 .4 4-4.4 2.4-3.1 0-1.9-3.2zM465.1 153.4l-1.2-5 1.5-3.6 2.7-1.9 2.9 1 3.2 5.2-3.1 3.2-2.7 1.3zM457.6 92l-3.4 1.1-4.5 1.4-3.4-5.2 1.4-3.1 2.8-4.4 3.9 1.6 5.3 3.1zM459.5 76.6l5.3 2.9-.2 5.1-4 4.8-5-2.1-3.7-2.3 .3-7.5 3.3-3.5zM455.6 83.5l-3 .7-2.9-1.8 .8-4.2 2.6-3.7 4.1 .3 2.2 3.8-1.8 2.5z"/><path class="b0" d="M13.3 101.6l-2.9-1.2-.1-1.7 1.1-1.1 2.6 .2 1.4 1.1-.1 1.5zM20.8 94.9l0 1.8-.9 1.3-1.7-.5-.9-2.4 .9-2.3 1.9 0zM6.2 119.8l-.3-2.5 2.4-1.7 3 .6 1.7 3.2-1.2 1.9-2.2 .5zM14.5 111.4l1.4-2.2 2-.5 1.9 1.4-.3 1.9-2.1 1.2-2.3-.2zM18.9 124l1.4 1.6 .2 1.4-1.1 2.2-2.3-.6-.8-1.1 .1-1.9zM25.5 152.1l1.5-.7 1.2 1.5 0 1.9-1.6 .3-1.8-.4-.9-1.1zM20 174.3l0-1.8 1.9-2 2.8 .3-.3 2.6-1.4 1.9-2.3 .7zM22.8 177.7l2.8 .6 2.2 2-2 2.1-3.2-.3-2.2-1 .6-2.4zM18 131.1l1.2 3.4-1.9 1.9-2-.3-2.6-1.6 .6-2.1 2.1-1.5zM11.1 130.5l.8-1.9 1.6-.6 1.8 1.2 1 2-2.3 1.1-1.7-.4zM54.3 143.3l-1.6-1.7 .6-2 2.5-.2 2.2 1 .5 2-2 1.4zM56 130.4l-.2-2 1.8-1.8 1.8-.7 3 1.3-1.1 2.3-2.1 1.3zM94.1 146.7l-1.7-.1-1.8-1.7-.6-2 2.7-.8 1.9 1.5 .2 2.1zM100.6 140.8l.3 2.3-1.5 1.1-2.6 .3-1.5-.9 .8-2.2 1.7-1.2zM104 150.9l1.6-2.3 1.7 .3 1.2 .8-.6 2.8-2.1 .9-1.2-1zM105.9 145.1l-2.6-2.1-1.2-2.6 2.5-1.4 2.5-.2 2.5 1.2-1.2 3.4zM108.2 131.1l-1-2 1-2.7 2.1-1.3 2.7 2.9-.3 2.7-1.7 1.4zM115.3 131.7l-2.4 .9-1.8-.1-1.3-2.7 1.6-2.4 1.8-.3 3.1 1.8zM127.5 125.2l-2.7-1.7-1.5-3.2 1.6-.9 2.8 .4 1.9 2.1-.5 2zM132.2 131.4l-2.2 1.4-1.8-1.4-.4-2.3 1.3-1.6 2.3 .6 1.3 1.2zM143.4 118.3l-3.6 .3-1.8-1.6-.9-3 3.5-2 2.6 1 1.3 2.9zM153.5 118.8l0 2.2-1 2.2-2.2 1-2.2-1 1.1-2.2 2.2-2.4zM142.9 116.5l1-3.6 3.1-1.6 2.7 1.4 .1 3-1.7 2.8-2.4-.1zM153.6 147.6l-.5 2-2.3 .8-1.4-.4 .2-2.8 1.8-1.7 1.8 .5zM170.9 143.9l1.2 1.6 .2 2.1-1.1 1.2-1-.1-1-2.3 0-1.7zM177.3 134.7l-2.9-.4-.2-2 1-2.8 2.3-.1 1.8 1.6-.2 2.4zM178 140.2l1.8-1.1 1.4-.2 .6 1.3-.8 1.4-1.7 1.3-1.5-.7zM163.7 94.8l.5 2.4-3.1 2.7-2.9-1-2.5-2.5 2.1-2.4 3.3-.8zM168 108.2l-2.6-.2-1.1-2.5 .6-2.5 3 .4 1.8 1.3 .6 2.1zM162.4 105.6l-2 2.8-1.9 .5-3.4-.5-1-4.1 2.7-1.4 2.9 .9zM178 82.6l.4 3.3-3 1.8-2.3-1.7-1.7-3.3 2.5-2.9 2.5 .5zM176.1 83.9l-2.3-1.4 .2-2.6 2.5-1 3.3 .2 1.1 2.6-1.3 1.8zM203.4 76.5l2.5 1.6 .5 2.5-1.6 1.3-2.6 .2-2-1.8 .8-2.8zM208.7 71.2l.8 3.5-1.6 2-3.7 .3-2.2-2.3 .3-3.9 4-1.6zM212.6 75.1l-2-2.8 1.2-1.9 2.6 .4 3 1.4 .2 3.8-2 .2zM217.2 65.8l.7 2.4-1.7 2.4-3.3 1-1.1-2.2-.2-1.9 3.6-1.9zM215.7 61.7l-1.9-1.5 .8-2.9 1.9-.9 3.2 .3-.3 2.8-1.1 2.2zM226.5 50.9l-2.3-.5-.6-1.4 .4-1.6 2-.4 1.8 .9-.2 2zM236.4 49.3l-1.9 1.4-2.9-.3-1.2-2.4 1.1-2.9 2.3-.5 2.2 2zM233.2 86.7l-2.2 .9-2.3-.3 .3-2.2 1.3-1.2 1.5-.4 1.7 .9zM231.3 105.1l-.2-4.1 1.6-1.1 3.8-1.4 2.1 2.5-1.2 3.9-3.7 1.2zM182.7 101l-.3 1.8-2.1 1.1-1.6-1-1.3-1.4 1.5-2 1.8 0zM192.4 101l-.7-2.2 1-1.5 2 .1 1.7 2.7-.1 2.1-1.6 .9zM207.4 82.5l1.8 1.7-1.1 1.5-1.7 .7-2.1-1.4-.7-1.7 1.1-1.2zM141.6 168l-1.4-2.9 .2-2.2 3.3-.5 2.2 .8 .4 3.2-2.6 1.3zM166.8 171.4l-1.7 2-2.3-.2-1-1.7 .6-2.1 1.9-1 1.3 1.3zM124.6 177.2l0-1.6 .7-1.7 2.2 .5 1.9 2-.4 1.4-2.2 .6zM129 175.9l-1.8-1.2-1-3.5 3.2-1.5 3.1-.4 2 2.9-2 4.1zM131.8 173.9l-.4-3 2-2.6 2.5-.2 1.2 2-.6 2.5-2 1.7zM127.4 152l-1.6-1.1-.2-1.9 1.8-1.8 2.1-.5 1.6 1.3-.8 2.7zM131.5 135.9l1.1 1.7 .1 2.1-1.7 1.1-1.9-.7-.5-2 .5-1.9zM151.5 131.4l2.9-.4 2.8 1.7-1.6 1.9-2.3 1.2-2.4-.5-.2-1.8zM180.2 134l-2.1-3 2-1.7 1.9-.7 3.1 2.2-.2 3.6-2.3 .3zM222.5 121.5l-3.6 .8-1.9-2.3 0-3.4 2.2-1.2 2.7-.1 1.3 3.1zM240.9 119.6l.4 1.9-1.5 1.3-1.9-.7-1-2.2 .6-1.9 2.1 .2zM242.7 108.5l1.7 2.4-.3 2.8-2 .8-2.1-1.7-1.4-3.5 1.7-2.1zM254.6 116.8l2.2-.7 1.9 1.1-.2 2.4-1.1 1.9-2.5-.3-.8-2.2zM262 119.5l1.6 1.7 .1 2.7-1.8 2.3-3.4-.8-.6-2 1.1-2.6zM252.2 142.1l-1.2 2.5-2 1.4-3.4 .1-.4-2.3 1.4-2.8 2.9-.9zM257 149.5l-1.2 2.3-3.6 .8-2.8-.7-1.1-3.9 3.4-.6 2.3 0zM265.9 136.2l-.9 3.4-1.8 .9-2.4-1.1-.8-3.8 1.4-2.8 2.4 1.5zM258.7 133.1l2.1-.7 2.8 1.4 1.2 1.9-1.3 2-3.5 .8-1.1-2.7zM261.7 147.2l-.4-1.8 1.3-3.3 1.7 0 1.1 2.2-.3 2.1-2.3 2zM259 30.4l.1-2 1.1-1.7 1.9-.5 .4 3-1 1.9-1.3 1.5zM275.6 46.8l-2-.8-1.2-2.5 2-2.2 2.7 .6 1.4 1.1-.9 2.8zM280.3 52.5l.2-2.6 .8-2.3 1.7 1.1 1.6 1.4-1.2 1.9-1.4 .9zM275.5 53.3l-.2 3.2-2.5 1.8-3.2-.4-.5-2.8 1.1-3.1 3.3-.1zM290.7 53.4l-1.9 .5-2.1-.5-.3-2.4 1.6-2 2.4 .2 .3 1.8zM298.2 54.9l1.6-1.5 1.5-1.2 2.6 2 1.1 2.4-2.7 1.2-2.5-1zM322.5 69.5l-.1 2.1-2.8-.2-1.9-1.2-1.3-3.4 2.5-.7 2.5 .9zM320.9 70.8l-1.2 1.8-2.4 .7-2.6-2.1 .5-2.9 1.7-.9 2.2 0zM326.3 75l-1.7-2.6 .9-3.9 3-.1 1.9 .1-.2 3.9-1.2 1.7zM324.6 74.1l-.3 2.2-2.6 .4-1.6-1.7-.5-1.5 1.5-1.5 2.5 .4zM324.3 78.5l-.6-1.7 1.3-1.3 2-.6 1.1 1.1 .1 1.9-2.2 1.2zM295.2 85.5l-.5 2.8-1.3 1.2-2.6-.9-.6-2.3 .9-2.1 1.6-.6zM279.8 89.1l1.6 1 .4 2-2.2 1.4-1.6-.9-2-1.9 1.3-1.1zM283 85.5l-3.6-.4-.8-2.7 .4-3.3 3.2-.9 1.7 1.7 .2 3.1zM276.8 101l-.5 2.6-3.5 .3-2.1-1.8 .6-2.6 2.4-1.8 2.1 .4zM278.4 57.9l2-1 1.9-.1-.1 2-1.6 1.9-1.5 .2-1.4-1.3zM270.4 66.2l-4.1-1.4 0-3.2 .9-2.1 3.4-1.1 2.1 2.1-.1 3.2zM273.1 62.8l2.4 1.1 2 2.4-1.3 2.3-2.2 0-2-2.3 .5-2.1zM273.6 68.1l-3.6-1.4 .5-3.1 1.7-1.7 3.6 .4 1.3 2.1-.1 3.5zM300.4 75.9l3.5-2.3 3 2 .2 2.4-2.4 2.7-3.1 1-1.2-2.5zM316.1 74.4l1.5 2-2 2.5-2.5 1.6-1.9-1.3 .4-2.5 1.8-1.4zM310.5 65.8l1.9-1.1 2.3 .2 1.3 2-.6 2.5-2.5 .1-2-.2zM321.3 97.8l-1.8 1.1-1.7-.1-1.2-1.6 .5-2.2 2.6-.1 2.3 1.3zM325.7 100.9l-2.7 .6-1.2-2.3-.5-2.5 3-1.8 1.9 1.8 .8 2.2zM341.8 98.6l-2.2-.1-1.3-2.2 .3-1.9 1.7-.3 1.8 .8 1.3 2.3zM333.9 91.2l1.9-.6 3.3 1.1 .7 1.9-1.1 1.6-3-.2-1.5-1zM343.4 93.8l-2.2 .5-1.7-1 .7-2.7 1.9-2.6 1.8 1.6 .6 2.1zM350.7 97.4l-1.9 .4-2.5-1.7-.4-3.1 3-1.1 3.3-.5 1.1 3.5zM353.2 92.9l1.8 .4 .4 2.1-1.7 2-2.1 .4-1.1-1.3-.1-1.5zM351.9 100.9l-1.8 1.6-2.3 .5-1.7-2.5-.2-2.7 2.4-.9 1.4 1zM369.2 95.7l-2.8 1-3 0-.2-3.2 1.4-2.4 2.4 .8 2.1 .7zM358.7 90.4l1.9-.9 1.6 1.6 0 2.3-2.4 2-2.2-1.6-.1-2zM366.3 91.7l1.5 .8 .7 1.8-1.4 2.6-1.8-.2-.8-1.4 0-1.7zM365.6 116.1l1.4-1.6 2.4-.5 .9 1.4-.6 1.4-2 1.1-1.4-.2zM371.1 105.7l1.1 3.1-1.7 .7-1.8 .5-2.1-1.9 .6-2.6 1.8-.1zM374.8 113.6l4.2 1.1-.7 2.9-2.4 1.2-2.9 .1-2.1-2.6 1.3-1.5zM300.9 113.6l-1.8 1.5-1.3-.5-.9-2 1.5-2 2.1-.7 1 1.2zM292.1 108.3l2.1 .8 1.2 2.6-1.8 2.5-2.6 1.7-1.4-2.4-.5-2.3zM284.2 145.3l-2.1-.7-.4-3.1 .8-2.2 2.3 .6 1.4 1.4-.5 2.2zM359.9 105.6l-2.4 1.5-1.3-1.5-.1-1.5 1.6-1.7 2.9-.5 .6 2.3zM292.6 136.1l2.2-4.1 2.8-.5 2 2.5-1.4 2.7-2.2 2-3.2-.6zM306.3 150.9l2.1-3 3 0 .4 3.5-.6 2.8-3.3 .7-1.7-1zM305 159l2.1-.7 1.9 1.2 .7 2.2-1.4 1.6-1.7-.3-1.6-1.7zM318.1 157.5l-2.1-.5-1.7-2.1 .7-2.9 4.1-1.5 2.1 1.7-.4 2.9zM297 179.2l-2.7 .2-1.7-2.1 .6-2.7 2.5-.7 2.9 .6 .1 3.5zM295 175.5l1.2 2.8-3.6 2.6-2.1 .2-3.1-2.6 2.2-3.8 2.6-.2zM283.1 173.5l-1.9 .1-2.3-1.3 .7-3.4 3.2-1.3 1.5 1 .2 2.5zM281.8 165.6l1.8 1.5-.3 3-3 3-2.1-1.6-.8-3.3 1.5-2.4zM411.8 108l1.3-1.3 2.5 .2 .9 1.3-.1 2.2-1.1 .9-2.8-1.5zM438.4 76.7l2.3-2 1.1 1.3 1.3 2.2-1.2 1.5-2.3 1.6-1-2.4zM446.2 64.4l-.6-1.3 1.2-1.1 2.4 0 1.4 1.6-.4 1.6-2.2 .1zM457.2 98.2l.7 1.4-1 2.5-1.3 0-1.9-1.1 0-2.4 1.6-.9zM454.1 112.8l2.1-1.3 2.2 .5 2.3 2.3-.4 2.7-2.8-.2-2.5-1.8zM464.1 119.2l-2.1-1.1-.1-4.2 2.2-.8 4.6 1.3 .3 2.3-.7 3zM449.9 123.2l-.8 2.9-1.9 .5-1.2-1-.8-2.2 1.9-1.5 1.5-.1zM471.3 139.5l.6 3.3-2.1 1.2-3.9 .8-.6-3.7 .9-2.2 2.3-.8zM463.2 164.1l2 .4 .6 2.9-1.4 1.9-1.5 .6-1.6-1.9-.3-2.5zM465.3 156l.3 2.5-2 2-2.3-.6-2-1.8 2-2.2 1.7-1.8zM466.1 140.3l1.7-1.1 2-.2 1.1 1.2-.2 1.7-2.6 .6-1.4-.9zM459 88.4l-1.7-.2-1.3-1.4 1.9-2.4 1.7-.3 2 .8-1.1 1.8z"/><path class="b1" d="M28.5 97.2l-4.6-.1-1.3-1.8 0-3.9 2.7-.2 2.5 .5 1.8 2.7zM17.6 98.7l-1.1-1 .1-2.1 1.8-.9 2 .8 .4 1.6-.9 1.5zM21.3 90.8l.1-1.9 1.5-1.2 1.6-.3 .5 1.8-.7 1.5-1.7 1.1zM11.1 106.3l1.5-.1 1.1 .9 .1 2.2-1.5 .9-2.2-1.3-1-1.4zM6.8 130.4l2.6-.5 2.5 .5 1 1.7-1.9 1.6-3.2 .2-2.5-1.4zM16.3 145.8l.4-3.3 2.7-1.2 1.5 1.8 .7 2-1.9 1.7-2.3 1.2zM25 148.8l1.7-1.2 2.4 .4 1 3.9-2.5 1.9-2-.1-1.4-1.5zM16.6 161.9l1.3 0 .8 2.7-1.4 2.4-1.3 1-1.3-2.4-.1-1.9zM1.9 140.5l1.7-1.2 3.2-.5 1.5 2-1 2.3-3.3 1.2-2.5-1.2zM4.5 133.2l.7-3.9 3.9-.5 2.5 1.4 .9 2.7-2.3 2.5-3.3-.1zM69.9 133.2l.4-2 1.8-2 2.3 .7 1 2.5 .3 2.5-2.8 .8zM80 141.1l1.2 1.9 .9 2.4-2.5 1.2-2.5-1.7 0-1.9 .9-2.7zM72.3 135.4l2.6 .4 1.4 2.9-2.6 2.7-3.5-.4-1.3-1.6 1.1-2.6zM99.8 152.3l-3-.7-2.2-1.7 1.4-3.1 2-.4 3 1.8 .9 1.8zM112.5 122.1l.6 2.8-1.1 2.2-4 0-2.5-1.3 1.9-2.8 3.3-2zM122.6 133.8l-2.3 1-2.1-.4 .4-1.6 1-1.9 2.1 .2 1.7 1zM137.7 125.1l-1.6 .6-2.1-2.2 .2-2.1 1.5-1.2 2.6 .4 .5 1.9zM142.9 115l2 .2 .5 1.5-.5 1.9-3.2 .5-.5-1.5 .1-1.7zM159.7 144.9l.2 1.8-3.5 1.7-3.6-1.2-.3-2.4 2-1.6 3.6-.1zM182.7 135.8l-2.8 .6-2.2-1-.9-1.9 1.3-2.5 3.4 .3 1.9 2zM166 91.1l-1.9-1.7-.1-1.3 1.2-.8 1.6 .4 .8 1.6-.4 1.5zM169.4 90.2l-1.5-.6-.9-1.5 1.4-2.7 3 .1 1.2 1.6-.4 2.1zM188.3 73l-1.9-2.1 1.1-2.4 3.1 .8 2.3 2.3 .8 2-2.8 .6zM206.9 69l-.8 1.6-2.2 1.4-1.7-2.5 .1-2.2 1.7-1.7 1.6 1zM198 73.1l-2.2-.8-.8-1.5 .4-2 1.7-1.3 2 1.6 .4 2.3zM216.7 75.4l-1.3-2.6 .5-1.7 3-.6 2.5 .6-.2 3.2-1.4 1.3zM216.8 57.6l-1.7-.6-1.5-2.1 1-1.6 .8-.7 1.9 2 .6 1.4zM224.9 49.7l-.1-1.8 .7-1 2.6 .1 1.2 2-1 2.1-1.6 0zM228 45.4l2.7-.4 2.5 1.3-.2 2.4-1.8 .6-1.8-.4-1.8-1.9zM242.2 94.3l-1.1 1.6-2.8 .9-1.2-1.3-.8-1.9 2.5-1.4 2.4 .9zM218.1 100.2l2.5-2 3.2 .5 .6 3.8-2.3 2.2-2.8 1.3-1.6-2.8zM181.2 111.5l-2-3.4 1.9-1.7 3.3-.5 1.7 3.4 .9 2.2-3.5 1.1zM206.4 91.3l2.4-1.5 2.1 .6 1.5 2.7-.8 2.7-2.4 0-2.4-2zM224.7 84l-2.4 .6-1.3-1 .3-2.3 1.8-1 1.3 .1 1.7 1.6zM220.7 80.1l-2.4-.8 1.2-2.6 3.4-1.8 3.1 .8 .5 2.1-3.4 2.3zM217.1 83.2l2.4 .5 1.8 2.5 0 2.3-.8 1.1-2.9-.4-.8-3zM147.2 152.6l.1 1.6-.9 1.7-1.7-.1-.7-2 .4-1.6 1-1.4zM161.1 170.3l2.1 2.6-1.6 3-3.1-.2-3-1.2 0-2.9 3-2.3zM168 177.1l.1-2.9 2.1-1.1 2.1 .3 1.2 1.7-.9 2.7-2.4 .4zM127 175.2l-2.3 .1 .3-2.3 1.9-2.1 2.3-.2 1.2 1.1-.7 2.5zM77.4 158.2l2.1 1.5 1 1.9-2.1 .8-3.3-.5-.3-2.2-.2-1.4zM62.9 155l-1.4-1.7 2.5-2.4 2.3 0 1.4 .8-.8 3.5-2.1 1.6zM122.4 140.3l-2.2 2-3 1.1-2-2.5 1.3-1.6 2.5-1.7 2 .6zM123.4 137l1.5 1.3-.4 2-2.2 .3-1.5-.4-1.4-1.7 1.8-1.8zM141.4 139.5l1.9-2.3 2.1-.2 2.7 1.1-.5 2.7-2.3 .8-2.8-.7zM154.1 128.9l1.3 2.2 .3 2.2-2.1 .7-2.4-1.3-.6-2.1 1.1-1.5zM174.3 130.6l1.4 .7-.4 2-2.4 1.4-1.2-.9-.9-2 1.3-1.1zM188.2 143.1l-1-1.9 .3-3.3 1.6-1.5 2.2 .4 .9 2.8-1.1 2.4zM188.1 149.2l-2.2 .2-.9-1.1 1.1-3.1 1.8-.8 2 .3 0 2.2zM224.5 123l1 2.2-1.3 1.2-3 .5-1.4-1.7 .4-1.7 2-1.7zM257.2 104.2l2.1 1.4 .8 3.9-2 3-2.1 .3-1-3.4 .5-2.3zM260.3 116.9l2.1 1.7-.1 2.7-2.5 3-1.9-1-.9-1.7 .8-3.3zM255.3 134.6l-1.3-2.6 1-1.8 2.4-1.3 2.9 1.5-.8 2.9-1.5 2.1zM260.6 122.1l.7 2.3-1.5 2.2-2.6 1.3-1.8-2.4-.5-3.5 2.6-1.5zM233.7 132.5l.1-2 1.4-.9 2.3 .2 1.5 2.3-.9 1.1-2.4 0zM228 139.1l2.3-.7 1.3 2.6 .1 2.5-2.1 .9-1.7-.9-1-2.3zM238.7 140.7l-1.7-2.3 1.3-2.1 1.7-1.1 2.2 2.1 0 1.6-1.5 1.6zM239.5 131.3l-.8 2.2-2.2 .8-1.9-1.5 .2-1.6 2.2-2 1.7-.2zM241.9 154.2l-1.6 2.2-2.2 1.6-2.1-1-1.3-1.2 2.2-2.4 3.1-1zM226.6 144.2l-.9-1.7 1-2.8 3.2-.3 1.8 .8-.3 2.5-1.9 2zM210.4 126.6l2.8 .4 .8 1.6-.8 2.2-1.6 .8-2.3-.7-.5-3.3zM212.5 132.4l1.9-.1 1.6 1.4-1.3 3-3.7 .6-1.9-1.1-.1-2.1zM266.7 152.1l-.2-3.1 1.3-2.1 2 .1 1.2 2.4-.2 2.9-2.7 .4zM266.5 39.4l-1.8 .4-2.5-.3-1.6-2.6 .7-1.4 2.6 .5 1.9 1.1zM271.2 37.7l-2.5-2.5 2.7-1.7 1.9-.5 2.5 2 .5 2.3-2.4 1.8zM281.8 55.2l-.1-2.6 1.8-1 1.3 .9 .4 2.6-1.2 1.5-1.7 .5zM289.6 61.7l1.2-.6 2.5 1.4 .1 1.6-1.4 1-2-.5-1.1-1.3zM309.4 66.5l-2.7-.8-2.6-2.4 1.9-2.9 2.7-1.2 2.8 2.2 0 2.7zM323.8 69l.1 2.4-2 .9-2.4 .5-.1-1.7 .9-2.1 1.9-1zM287.8 75.5l3-1.4 1.8 1.3 1 3-2.4 2.5-3-.5-.9-2.3zM294.6 66.8l.9 2.8-1.9 3-2.9 .6-1.6-1.7-.5-4.1 3.1-2.1zM290.1 89l-2.3-1.2 .5-1.7 1.9-1.8 2.4 .5 1.1 2.1-1.3 2.4zM296.3 91.7l-.5 2.7-1.6 1.3-1.9-.7-1.4-1.3 .9-3 2.7-.3zM281.3 104.3l-3 1.2-3.7-2.5 .6-2.3 2.1-2.1 3.2 1.5 1.7 1.4zM279.5 63.7l-.4-1.6 .9-1.7 2-.8 1.6 2.3-.6 2.3-1.4 .2zM313.1 96.5l1.8-2.1 3.8 2.5 0 2.9-1.4 2.1-3.2-.6-2.4-3.4zM315.9 97.2l-2-.7-.7-1.4 .7-2.8 1.7-1.1 2.7 2-.1 2.5zM327.6 98.9l2.6-1.3 2.2 .5 1.2 2.9-1.1 2.3-2.8 1.4-2.3-3.6zM336.8 102.5l-.7-1.9 1.4-1.8 1.8 .1 1.5 1.6-.7 2.8-1.6 .6zM342.1 92.8l.8 2.1-2.8 2.1-2.1 .2-1-2.1 1.1-2.2 1.7-.4zM358.1 99.4l.7 1.9-.7 2.5-1.1 .4-1.6-1.4-.2-2.6 1.3-1zM364.2 109l-1.4-1-.8-1.6 1.4-2.3 1.9 0 1.1 1.7-.1 1.9zM370.8 101.5l.7 1.5-1.8 1-2.7-.9-.9-1.7 .9-1.6 1.6 .2zM371.8 97.5l.3-2.2 2.3-.9 1.9 .7 1.4 2-1.5 2.1-2.8 .5zM368.2 113.1l-.8-3.2 2.4-2.2 2.2-.1 1.9 3.1-.9 2.9-2.1 .8zM372.2 117.3l2.1 0 1.8 1.6 .1 3.1-2 2.2-2.1-1.4-.9-2.4zM383.5 113.9l-.2 3.4-2.8 1.3-2.2 0-1.7-3.1 1.2-1.8 2.7-1.3zM373.6 117.9l1.2 2.3-.2 2.7-3.4 1.8-2.1-1.3 .5-2.8 1.5-2.4zM336.9 106.8l3-.6 2.2 2.5 1.2 2.2-1.9 2.9-3-1.2-2-3.5zM307.6 106.7l2.5 0 2 1.9-1 2.2-1.3 1.4-3.1-.8-.3-3zM304.3 105.4l-2.3 1.9-1.3-2.4 0-2.6 1.7-.9 2.3 .4 1.3 1.7zM307.1 113.1l-1.2 1.8-2.9 .7-1.9-3.1 1-2.9 2.3-.6 2.1 1.6zM302.9 121.2l-1.1 1.3-1.2 .4-1.6-2-.1-1.2 1.5-1.7 1.7 1.4zM293.7 112.3l-.6-2.3 1.2-2 3.1 1.1 .7 1.3-.5 2.6-2.1 .5zM290.4 114.9l-1.4-2.8 2.9-2.3 4.1 .9 .6 1.8-1.4 2.8-3 .4zM285.2 121.9l1.7-1 2 .7 .2 1.5-.2 2.3-2.3 .2-1.7-2zM284.3 127.7l-1.4-1.1-1.1-2.4 1.5-1.4 2.1-.5 2.1 1.7-1.3 2.2zM284.7 125.2l-2.6 1.2-2-2.1-.8-1.6 2.1-2.2 2.5-.1 1.6 2.7zM281 118.3l2.5 1.7-.4 2-1.6 1.8-2.7-.1-1.7-2.3 1.7-2.3zM277.4 142.5l-.5 3.6-1.5 1.7-1.4-.4-.7-2.2 .7-3.7 1.6-.2zM352.1 98.2l2-2.3 2.9 1.1 1.1 1.4-2 2.7-1.7 .1-2.1-.7zM304.6 155.4l2.9-2.5 2.4 .6 1 3.3-2.3 3.3-2.4 .5-1.8-2.4zM301.8 149.4l2 .6-.6 2.9-2.6 1.7-2.5-.8-.8-1.3 1.6-2.7zM309 153.8l1.2 .7-.2 2.2-1.3 .7-2.4 .1-.5-1.8 .8-1.6zM305.8 154.4l2-2.1 2.7 1 1 2.2-.2 2.9-3.1 1.7-1.9-2.4zM290 164.8l-2.4 1.2-2.6-2.2-.5-2.7 2.4-1.4 3.3 .1 1.5 2.3zM288.3 157.5l.9-1.5 1.8-.1 1.5 2 .3 1.6-1.6 1.4-1.4-.9zM284 174.4l.4-2.4 1.7-.7 1.5-.2 .1 2.6-.3 2.1-2 .4zM286.2 173.1l.3-2.7 2.4-1.6 1.7 2 1.5 3.7-2.5 2.6-2.3-1zM279.6 181.7l-.5-2.8 1.2-2.3 2.5-.6 2.2 1.8-.4 2-2.6 2.9zM279.7 168.7l3.4 .5 2.4 2-.1 2.3-2.5 1.9-3-.3-1.5-2.8zM282.5 177.8l1-2.9 2.1-1.6 1.7 1.3 1.6 2.2-2.1 3.2-2.1 .2zM301.6 176.5l-1-1.7-.8-2.2 2-1.2 1.8 1.1 1.2 2.1-1 .9zM274.1 175.7l1.7-2.1 1.9 .6 1.3 .9-.4 2.2-2.5 1-1.4-.7zM287.3 164.5l-1.8 3.4-3.4 .6-3.5-2 .5-2.9 2.3-3.4 2.8 1.2zM343.8 140.3l-.8 2.1-2.4 .3-1.1-2-.1-1.9 1.4-1 2.9 .1zM333.4 139.1l1.7-1.2 3.7 .4 .3 2-.9 1.2-2.6 .6-2.1-.8zM417 105l.7 3.4-.5 1.6-3.4 1.5-1.8-2.7-.1-3.2 2.2-.5zM399.1 115.7l-1.8-2 .3-3.2 2.9 0 2.5 1.3 1.5 2.8-2.4 2.1zM419.7 108.4l-2.6-1.3-1.3-1.3 2.1-1.5 2.4-.2 2.4 1.6-.7 1.4zM412.6 110l-1.3-1.7 .5-2.6 2.1-1.2 2.3 0 1 3.3-1.8 2.2zM437.2 78.8l-.2-1.8 1.8-1.6 2.7 .8 .5 1.5-.6 2.3-2 .9zM433.7 67.7l.7-3.6 4.1-.6 1.5 2.5 .2 2.1-1.3 3.1-3.5-1.4zM447.3 58.7l2.2 .5 2 3-1.2 1.7-2.5 .8-2.6-1.4 .3-3.1zM443.4 68l-.9-2 2.3-1.1 3 .7 2.2 1.8-.7 2.3-2.7 .1zM450.5 102.2l-2.1 0-1.2-1.5-.2-1.7 1.7-1.3 2 1.4 .6 1.6zM446.6 89.6l-.8 2.1-1.4 .5-1.5-.5-.1-2.2 1.3-1.1 1.6 .1zM456.1 106.1l-1.9-1.4-.9-1.7 2.1-.7 1.8 .2 .8 1.6 .2 1.7zM452.9 104.9l-.8-1.9 .6-2.4 2-.5 1.4 .7 .1 3.2-1.7 1.1zM451.9 109.9l0-4.2 2.3-2.1 3.8 1.2 .4 3-2 3.6-2.9 .3zM451.7 119.3l-.5 3.3-2 .1-2.2-.6-.6-2.2 1-1.5 2.1-1.1zM460.5 114.3l.4 3.3-2.4 1.6-1.6-.7-.6-2.6 .4-3.1 1.9 .1zM461.1 131l1.8 2.7-.6 2.4-2.4 2.9-3.4-.8-1-2.8 1.7-3.8zM461 136.2l-2.1-1.2 1.7-3.1 2.2-.8 2.2 1.1 .9 2.6-3 1.4zM477.7 133.2l.3 2.4-.8 2-3.1 .8-1.4-2 .2-2.3 2.9-1.5zM452.2 174.2l-1.3-3.6 2.1-1.9 2.9 .6 1.8 3.4-1.8 2.2-1.9 .8zM470.7 154l-.4-1.4 1.6-1.4 2.7 .5 2 2.3-1.2 1.6-2.2 0zM462.1 74.7l1.4 3-1.2 2.5-2.1 1.5-2.8-1.8 .2-3.8 1.7-2.4zM456.9 91.1l-1.5-1.2 .1-1.1 1.3-1.1 2.6-.2 1.6 2-1.4 1.9zM455.8 87.6l-2.4-1.9-1.2-1.9 1.3-2.4 2.5-.1 2.2 1.9-1 2.6z"/><path class="b2" d="M13.2 111.1l-1.7-.9-.9-1.1-.1-2.4 3.3-1.7 1.1 .8 .8 2.3zM7.8 107.8l1.7-.9 2.4 .3-.1 3.5-1.1 2.8-1.7-.6-1.9-1.5zM17.1 133.7l1.2-1.9 1.9-.9 1.9 1 1.1 2.3-.8 2.3-2.6-.7zM21.7 123.7l-1.3 3.3-2.3-.4-1.6-.5-.6-2.8 2.5-1.9 2 .5zM13.8 152.2l-1.8-2.5 .5-2.5 2.7 .2 1.5 1.4 1.1 2.9-1.6 1.9zM24.3 153.7l1.8 .9 .6 1.9-2.9 1.3-2.5-.7-.5-2.1 .8-1.6zM19 165.1l-2.3-2.3-1.2-3 1.7-2.5 3.7 .3 2.2 2.4-.4 3.4zM55.6 133.1l-1.9-.5 0-2.6 .7-1.7 2.3 .6 .8 2.3-.6 1.7zM95.5 138.5l-1-2.8 2.1-1.7 3.3 2.5 1.6 1.7-1.3 2.5-3.3-.1zM96.6 140.5l-2.5 1.1-2.7-2 0-2.5 2.7-1.7 2.6 .2 2 2.2zM98.8 142.5l2.3-.6 1.6 .9 .4 1.5-1.2 1.7-1.9-.4-.9-1.1zM131.1 135.6l-.8-1.7 1-2.2 1.2 .2 1.7 1.6 .6 1.5-1.8 1.2zM169.3 155.7l-2.6-.9-.1-2.6 1.7-1.2 2.7 1 .6 1.6-.4 1.7zM173 139l.6 2.3 .8 2.7-2.4 1-2.3-1.8-.5-2.4 1.2-1.2zM169.1 146.2l-2.8-1-.7-2.4 2.1-2.4 2.9-.4 2.1 1.5-1.4 3.7zM157 90.6l2.3-.4 1.2 1.3-1.1 2.3-2 1.9-1.4-.8-.5-2.5zM166.8 84.6l.1 2.2-2 .1-1.5-1.1-1-2.2 1.9-1 1.9 .5zM193.8 71.6l.5 2.1-.9 1.3-3 1-1.8-.9 1.4-2.3 1.7-1.1zM222.3 58.5l-1 1.5-1.8-.1-2-1.2-.2-1.9 2.4-.5 2 .5zM218.3 53.4l-1.5-2.4-.2-1.7 1.2-.7 2.4-.1 .6 2.7-.3 2.4zM227.3 47.2l1.6 1.9 .3 1.4-1.3 1-2.1-1.1-1-1.7 .2-1.8zM246.9 95.4l-3.6 1.4-3.1-1.8 .6-3.8 1.5-2.6 2.8 .2 2.5 3.4zM226.1 102.3l2.8-.7 1.3 1.8-1 1.7-2.9 1.5-1.8-.9-.4-1.5zM228.3 97.6l2 1.8-.2 2.8-2.3 2.4-3.4-.2-1.1-2.4 1.8-3.3zM182.7 101.5l2.2 2.4-1.2 3-2 1.5-2.9-1.6-1.3-3.6 2.1-2.8zM171.7 104l.4-2.3 1.4-2.4 2.8-.9 1.9 1.9-1.1 3.1-2.6 2.1zM186.3 104.3l-.3-2.8 1.7-1.7 1.5 .9 1.5 1.2-.7 2.7-1.8 1.2zM212.3 86l2 1.6-1.2 1.8-2.7 1.4-3-.2 .2-1.8 2.2-2.8zM229.3 79.2l2.2 1.3-1.5 2.1-1.8 1.7-3.4-1.7 .2-2.4 1.8-1.2zM224 79.5l-2.1 .3-1.9-1.7 .8-3.1 2.2-.2 2 1 1.3 2.8zM142.6 151.6l1.4-2.3 2.8 .9 2.5 2.8-1.3 1.8-2.6 .8-2.5-2.3zM144.6 153.7l1.9-.5 1 2.1 .2 2.1-2.1 1.3-2.4 .1-.4-2.3zM163.2 166.9l.3-3.3 2.1-1.5 2.2 .2 .7 2.5-1.8 2.1-2.3 1.1zM165.9 180.1l.5 2.8-2 1.4-3.7-1-1.6-2.7 .7-1.9 3.7-.3zM167.3 177.4l2.2 1.1-.3 2.3-1.9 1.6-2.5-.6-.4-2.1 1-2.2zM167.9 181.5l1.7 .1 1.4 1.8 .2 2.5-1.9 .5-2.2-1.2-.8-2zM70.9 164.5l2.5 1.8 .2 4.2-3.1 1-3.1-1.2-1.4-2 2.5-3zM78.6 153.6l.1 2.9-1.7 .1-2.7-.9-1.3-3.6 2-1.4 2.8 .7zM126.5 151.4l-2.7 .1-1.6-1.8-.2-1.8 1.9-.1 2.5 .2 .7 2zM143 141.9l-3.1-2.5-1.2-3.5 2.4-2.1 2.7 1.1 1.9 2.6-.2 2.5zM138.4 136.1l2.1 2 .4 2.3-1.8 2.2-2.6-.1-1.8-2.5 1.3-3.5zM168.8 131.7l-1.7 2.4-2.2-.9-.5-2.6 .6-2 1.9-.9 1.5 1.1zM158.2 132l.1 2.4-1.6 1.7-3.2-.9-1.7-2.2 1.1-2.1 2.9-.5zM168.2 129.9l-.8 1.6-2 1.3-2.9-1.2 .2-2.9 2.1-.8 1.7 .4zM181 122.5l-1.6 .1-.5-1.8 1.2-1.7 2.1 .2 1.9 .8-.3 1.5zM217.3 122l-2.1 0-1.4-1.3 .4-2.9 2.1-.9 1.9 .1 .4 2.5zM238.9 116.3l2.2 .3 .8 2.5-1.2 1.6-2 .5-2.7-1.2 1.1-2.5zM230.3 125.1l-.7-2.3 2.2-1.1 3.6 1.3 .3 2.3-1.4 1.3-2.4 .4zM230.9 123l1.3-1.3 2-.1 1.3 1 0 2.8-1.9 .8-2.3-.5zM233.4 136.6l-1.5 1.4-2.5 .2-.7-1.6 .1-2.9 2.4-.5 1.6 1.4zM253.9 149l-1.9 2.2-2.9-.8-.4-2.9 .2-3.2 2.2 .7 1.8 .8zM238.7 146.8l.7-1.3 2.2-.2 2.7 2.6-.4 1.5-1.6 1.5-2.2-1.4zM231 150.1l.8-1.1 1.9-1 1.1 1.4 .2 2-1.9 1.2-1.6-.3zM231.4 156.7l.7-2.2 2.8-.7 2.2 1.5 1.2 3.7-2.3 1.1-2.9 0zM224.6 131.4l2 1.6-.1 1.3-1.4 1.3-2.5-1.5-.4-1.5 .6-1.1zM227.2 136.2l-1 2.7-3.2-.4-1.8-2.6 .4-2.6 2.5-.8 2.6 .9zM212.6 137.9l3.4-2.2 2.4 .5 .8 2.1-.8 3.6-3.2 0-1.7-.6zM205.4 125.3l1.5-2.5 3.6-.2 2.3 1.1 .7 3.2-2.2 2-3.4-1.7zM212.6 126.6l.3-2.4 2.6-1.3 1.8 .9 .8 2.3-1.6 1.8-3.2 .4zM263.3 30.9l1.8 2.9-1.1 1.4-2.6-.1-2-1.7-.5-2.1 2-1.1zM262.9 20.8l3.3 .4 .3 3.2-2.2 1.9-4-.3-1.9-1.6 1.4-3.5zM279.7 49.8l1.3-2.4 3.2-.4 2.6 1.8-.7 2.7-2.5 2.2-2.1-.5zM284.8 62.1l2.5 .8 1.2 2.2-2.3 1.1-2.2 .1-2.2-1.1 .1-2zM284.3 59.2l1.8-1.7 2.8-.5 1.2 2 .3 3.9-2.4 1.1-3.8-2zM304.8 66.6l-1.4 1.8-1.7 .2-1-2.6 .2-2.4 1.9-.2 2.4 .6zM297.5 67.5l2.8 .2 2.5 1.6-.2 2-2.1 2.1-2.6-1.5-.6-2zM305.2 68.3l-.1 2.3-3.4 1.8-1.6-2.3-1.3-2.2 2.3-1.2 2.4-1zM300.3 61.1l.8-2.1 2.4-.6 2.2 1.4 .8 3.2-2.7 1.8-2.1 0zM309.6 63l1.6 .5 2 2.3-1.5 2-1.6 1.2-2-2.2-1-2zM321.9 64.9l.1 2.1-1.3 3.5-2.8 .7-1.8-2.3 1.2-3.7 2.4-1.6zM319.5 86.2l.2-2.9 .8-1.3 2.2 0 1.1 2.1-.9 2.6-2 .4zM296 72.5l-3.8 1.5-2.2-1.1-.8-2.4 1.8-2.9 2.7-.9 2.6 2.8zM287.7 66.4l1.7 1.3-.5 3.1-2.3 .8-3.2-1.3-.3-3.4 1.7-1.9zM295.5 68l2.4-1.2 2.4 1 .2 4.2-2.1 1.5-2.7-.9-1.8-2.4zM284.6 104.7l1.1-2.1 1.4-.7 1.4 1.8-.3 2.4-1.6 1.5-1.9-1.1zM283.2 95.6l1.9 1.8-.8 3.5-1.6 .7-2.7-.3-.2-3.2 .9-2.2zM301.1 69l2.5-1 2.1-.3 1.3 2.3-1.4 1.8-2.4 .3-1.8-.9zM301.9 90.6l-.6-2.6 2.3-.9 2.7 .3 .7 2.3-.5 1.9-2.7 1.3zM310.7 92.1l2.1 1.3-.9 1.2-1.4 .7-2.7-.7-.6-1.5 1.2-1.2zM317.2 100.7l-2 .6-2-1.1 .2-2 1.2-1.4 2-.6 1.7 2.3zM310.6 101.2l-3.3-.1-2.7-3.2 1-1.9 2.9-.9 2.4 .7 1.1 3.5zM321 96.4l-1.6 .8-2-.7-.4-1.9 1-2.3 1.7 .1 1.6 1.6zM371 99.3l1.4-.9 2.1 .7 1.2 2.6-.6 1.9-2.4-.4-1.1-1.2zM360.9 105.1l.4-2.7 2.7-2 2.7-.2 1.5 1.6-1.3 2.5-3.1 1.4zM370 110.6l1.8 3.1-2.3 1.9-2.9 1.4-1.7-1.8-.5-2.8 2.1-1.3zM337.4 100.2l-1 2.3-2.6-.5-1.4-2.6 .3-2 2-1.1 2.6 1.8zM330.6 109l1.8-2.5 2.2 .7 .7 2.9-1 3.1-2.6 1.6-2.4-2.9zM336.3 112.5l-1.7 .8-2.2-.2-1.9-2.5 2.1-1.9 2.4-.3 1.2 1.5zM344.4 109.8l-1-2 0-2.3 2.7-.6 2.1 .9 .4 2.5-2 1.4zM300.5 100.2l1 1.2-1.3 1.4-2.3 .9-1.6-1.7-.5-1.8 2.6-.7zM299.3 120.8l-2.3 1-1.9-1.4-1.1-2.4 2.4-1.6 2.3 .7 1 1.5zM291.3 109.7l.4-1.3 2.2-.5 2.5 .4 .4 2-2.1 .8-2.1 0zM282.9 124.9l-3.7-.2-1.8-2.4 .6-3.3 2.7-.4 3.4 1.3-.2 2zM276.6 135.9l.7-3 1.9-1.5 2.4 .1 2.2 1.1-1.6 3-3.1 .8zM276.9 143.3l-.8-3.2 1.7-1.5 2-1.2 2 3.9-.9 1.7-1.3 1.3zM292.5 136.9l-.5-1.8 .4-2 2.8 .2 1.6 1.7-.1 2.1-1.8 .3zM297.5 139.9l1.1-1.7 1.6-1 1.8 2.1 .1 2-1.7 .9-2.1 .1zM299.5 147.7l-.9-1.5 .9-2 2.3-1.4 2.1 1.8 0 1.9-2.5 1.5zM302.6 152.3l2.2 .3 1.6 .4-.2 1.8-1.4 1-2.8-.6-.7-1.4zM292.7 166.2l.8-1.9 1.7-.7 2.3 .9 .5 2.7-1.8 1-1.8-.1zM287.4 172l-2.5 1.9-2.3-.8-.6-2.2 1.6-2.7 2.3-.2 1.9 2.1zM308.2 175.7l-2.2 1.8-2.8-.9 0-2.9 1.3-2.6 2.7-.4 .9 2zM308.2 183.9l-.7 1.8-3-1-2.1-2.1 .5-2.5 1.8-.2 2.4 .9zM283 169.5l-1.5-.7-.5-1.9 2.2-1.8 2.7-1 .2 2.1-.5 2.2zM338.3 148.8l-1.2-1.5 .6-2.5 1.5-2 1.8 1.2 .2 2.8-.8 1.2zM340.8 144.7l-.5-3.1 .8-2.8 2 .6 2.1 1.6-.3 2.1-1.9 1.5zM337.6 136.3l-1.9 1.2-2.1-.9-.3-1.2 .6-2.1 2.9-.6 1.8 1.5zM405.8 114.8l.5 1.5-1.2 2.5-2.1 .3-2.4-1.4-.1-2.2 2.4-1zM416.5 104.5l-1.5 .1-1.9-.7 0-3.2 1.6-1.2 1.8 .3 .3 1.8zM449 67.5l-2.9 1.6-2.9-1.3-.2-1.8 2-3.2 3.1 .4 1.3 1zM442.2 76l-.7-2.2 3.1-2.5 3-.8 2 2.5-1 2.9-3.1 1.1zM444.6 64.4l-1.4-2.3 .3-2.6 1.3-1.9 2.9-.5 .5 3.5-1 2zM465.9 62.6l-1.2-1.5 .4-2.4 2.3-.9 1.6 .2 .6 1.5-1.3 2.2zM465 67l-.7 1.5-2.1 .3-1.8-.2 .7-2.5 1.6-.8 2.3 .1zM462 67.7l-.7-3.2 2.8-1.8 2.4 .7 2.8 2.3-1.3 2.8-2.6 1zM451.1 92l-3 .8-2-2.9 1.9-2 1.6-1.6 2.4 1.5 .7 2.1zM470 108.9l-1.2 1-1.5-.6-.9-1.6 .2-1.6 1.2-.9 1.7 1.6zM457.3 118.3l-.3 1.9-2.1 .2-1.6-.2-.6-1.9 .9-1.4 2.4 .2zM448.7 129.4l-2.6 .7-2.1-1-.2-2.8 1.9-2.4 3.1 .9 1.2 2.4zM460.7 124.6l1.6-.1 1.1 1.5-.8 2-1.5 1.3-1.7-1.1 0-1.8zM465.1 123.3l-1.4-.2 .2-2.7 .4-1.6 2.2 .6 .6 1.5 .1 2zM473.9 143.6l-1.3-2.8 1.5-2.5 2.3-.5 2.6 1.1-.2 3.5-1.8 1.5zM456.3 166.8l-1.7-2.8 .3-2.6 2.1-2 4 .8 .9 3.7-2.7 2.7zM455.6 157.1l2.6-1.1 2.6 .1-.4 1.7-1.7 2-2.4 .6-1.4-1.9zM442.2 176.8l-1.4-1.5 1-1.7 2.6-.4 1.7 .9-.1 1.8-1.9 .8zM447.1 180.7l-.8-3.1 1.7-1.4 2.8 .3 1.8 2.2-1.6 1.7-1.6 1.4zM474.4 147.4l0-1.4 1.5-2.1 1.8 .8 .5 2.2-.5 1.6-2 .5z"/><path class="b3" d="M25.5 127.7l-2.9 .1-3-2 1.9-2.7 1.8-.8 2.9 1.3 .9 2.3zM29.2 147l-3.1 1.5-4.2-1.2 .8-2.7 1.4-2.9 3.5-.1 2.2 3.2zM23.8 152.6l4 .6 1.1 4.1-1.6 1.8-3.5 .7-3-2 1.4-3.9zM22.4 159.9l-1.6 2.4-2.8-.1-1.8-1.1 1-1.6 1.8-1.7 2.1 .6zM26 184.1l.9-1.7 1.6-1.2 2.2 .9-.1 2.3-.6 1.8-2-.6zM29.5 182.5l-.2-3.1 1.3-2.1 3.7-2 2.2 1.5-1.5 3-2.6 2.7zM25.3 171.9l2 .4 2.1 1.2 .4 3-2.7 1.6-1.7-.7-1.7-3.1zM10.7 134.6l1.2 2.6-1.5 2.3-1.9 .4-1.3-1.6-.1-2.5 1.1-2.4zM56.7 126.5l.7 3.6-2.2 2.1-3.2 .6-2.1-1.8 .3-3.8 3.1-.5zM55.3 140.1l-3.1 1-1.7-1.7-.8-1.7 1.7-2.5 3.6-.1 1 2.7zM68.8 142.8l2.3-.4 2.3 1.5 .8 2.5-2.9 1.9-2.6-.9-1.1-2.4zM69.2 132.2l1.7-.8 1.7 1.8-.6 2.1-1.5 1.3-2.2-.6-.5-2zM106.6 150.1l-1.8-1.2 0-2.3 3.6-1.8 2.2 1.7 .5 2.2-1 1.2zM109.4 141l1.8 2.7-1.6 2.3-2.7 1.4-2.7-1.6 .5-3.6 2.4-1.5zM121.9 136.9l-2.6 .4-1.6-2.2-.8-2.8 3-.8 2.7-.1 1.8 3.3zM121.6 134l1.4-1.2 1.9 .7 .4 2-.7 1.4-2.2 .4-.9-1.5zM151.9 122.9l1.6 1.3 1.2 1.9-1.2 1.1-2.2 .3-1.5-.9-.3-1.7zM162 141l-2.5 3.2-2.7-.9-1.3-1.9 1.6-3.2 2-1.4 2.1 1.5zM155.4 151.3l-1.2 .9-1.4-1.5-.7-2.7 1.2-1.3 1.8 .2 .7 1.8zM159.3 147l1.8 2.9-1 2-2.2 1.6-2-2.3-.3-2.3 1.4-1.1zM169.6 142.9l-.8-1.9 .5-2.2 2.1-1.3 2.4 .9-.7 2.3-1.8 2.5zM167.1 144.4l1.8-.6 2.2-.1 .6 2.5-1.2 1.6-3.1 .2-1.1-2zM167.8 145.7l-.6-2.6 2.1-2.2 2.2 0 1.3 1.8-.2 2.8-2.1 1.7zM171 94l-2.1-.1-1.9-1.1 .7-3.9 2.4-.1 1.7 .8 .6 3zM177.8 89.8l-2.3 2-3.1-.8-1.8-1.7 2.6-3.7 2-.5 2.5 2.3zM180.9 81.2l-3.1-1-1.8-2.8 .1-2.7 3.9-1.2 2 2.2 .9 3.7zM185.4 74l-.8 1.3-2.1-.6-1.1-1.2 .7-2.1 1.1-1 1.8 1.1zM197.2 73.3l1.2-1.7 1.8-.9 2 1.5 1.8 2.9-2.2 1.4-2-.7zM220.7 72.2l-2.7 1.5-3.9-1.3 .4-3 2.5-1.2 3.3 .5 1.7 1.5zM215.8 64.7l0-3.6 2.1-1.7 2.9 1 1 2.7-2.4 3.3-1.6 0zM217 50.9l1.6 .8 .8 2.3-.8 2.4-1.7 0-1.8-.7 .6-2.7zM241.7 89.3l-2.4-1 .5-2.3 1.4-2.6 2.6 .5 1.5 2.2-1.9 2.1zM236.3 98.2l-2.6 .4-.6-1.7 .3-2.3 1.8-1.3 2.3 1 .1 1.4zM230.2 94.3l-.2 2.1-2 1.3-2-.8-1.8-1.9 1.4-1.9 2.6-1zM177.3 100.5l2.3-.4 1.5 1.8 .2 2.5-1.9 1.7-2.6-.9-.4-2.8zM193.7 108.1l.7-2.7 1.8-1.5 1.8 2 .6 3.3-1.6 1.8-1.9 .2zM202.9 106.7l-3.3 0-1.9-2.1-.3-2.6 2.2-3.1 3.5 .8 1 3.1zM191.9 105.3l-.7-2.2 .9-3 2.4 0 1.3 1.6 .7 2.3-2 1.3zM215.4 89.8l-2.9 .8-1.3-2.4 .6-2.5 2.8-.7 1.9 .3 .1 2.9zM205.4 82.8l3.1 .5 1.1 1.9-.5 1.6-2.7 .6-2.5-1.5 .3-1.9zM141 162l-1.8-.5-.1-1.6 1-2 1.4-.1 1.6 .7-.3 2.3zM163.8 178.1l1.3-1.5 2.6 .2 1.2 .9-.5 1.7-2.2 1.7-1.5-.8zM155.7 178.8l1.3-2.8 2.9-1.3 2.2 2 .1 1.9-1.7 2.8-2.4 .7zM178.7 170.1l1.8 3.2-1.8 1.6-2.8 .8-2.5-1.4-.9-3.2 3.8-1.6zM124.1 166.1l2.1-1.2 1.5 1.5-1.2 1.6-1.5 1.2-2 0-.1-1.4zM65.6 168.5l-2.4-2.3 1.5-3.1 2.5-.7 3.3 .4-.4 3.4-1.8 2.5zM68.3 163l-.7-1.8 2.2-2 1.7-.2 1.1 2.6-.3 3.2-1.9 .4zM77.4 167l3.3 .1 .9 1.9 .2 2-2.7 1.6-2.9-2.2 0-2.2zM74.1 146.8l.9 2-1 2.5-2.6 .1-2-2.6-1.1-3.1 3.5-.9zM73.7 153.5l-1.5-.3-1.4-1.8 .9-2.5 1.2-.1 1.7 1.1 .8 2.3zM65.9 151.4l-2.6-.8-.1-3.5 1.9-1 3.6-.5 .3 2.2-.6 3.4zM114.9 137.2l1.4-1.3 2.4-.1 1.1 1.8-.3 1.7-1.2 1.5-2.2-1.7zM138.8 130.9l-.8 1.7-2.3 .5-.9-1.7 .4-1.9 1.2-1.4 2.5 1.3zM173.4 127.2l2.9 .4 1 1.8-1.4 2.5-3.2 .4-1.5-1.1-.1-2.7zM176.3 136l-.4-3.1 1.1-2.2 2.4 .1 2.4 1-.5 3.2-2.6 1.5zM191.3 147.3l1.1-2.2 4-.2 .9 2.3-.9 2.2-2.7 1.7-2.5-1.4zM188.1 137.3l-.4 2.4-1.7 .8-2.3-.6 0-3 1.6-1.5 1.7 .4zM188.2 134.9l1.2-.7 2.1 1 1.8 1.6-.6 1.8-2.2-.4-2.2-1.6zM216.5 124.3l2 1.5-1.6 1.9-2.8 .6-1.3-1.3-.3-2.7 1.6-.6zM216.6 128.5l.5-3.3 2.2-1.3 1.8 2.6 1.3 2.8-1.8 2.3-2.4-1.2zM246.1 114.6l-2.3-2.4 .7-3.7 3.5-.4 2.2 .6 1.6 2.9-2.4 2.4zM254.5 115.6l2 1.3-.3 2.1-1.5 2-1.9-.8-2-2.2 1.4-1.5zM263.3 133.9l-1.2-1.6-.7-1.9 1.9-1.9 1.4 .7 1.3 2-.8 2zM260.2 129.5l1-1.8 3.3 1 1 2.8 .2 2.3-3.5-.5-1.8-1.3zM245.2 147.7l1.1 1.2 .1 1.8-1.4 1.2-2.4-.1-.9-1.4 .8-2.2zM238.7 133.6l1.7-1.3 1.5 2.8 .1 2.6-1.3 .4-1.8-.5-1.4-2.4zM245.8 147.3l.8 2.5-2 .9-2.8-.1-.6-1.6 .8-1.4 2.7-1zM222.8 136.2l.9-2.5 2.5-1 2 1.9-.2 2.8-1.9 1.4-2.3 .1zM202.1 120.7l1.6-1.1 1.8 1.2 .7 2-1.7 2.6-1.6 .4-1.9-2zM258.7 144.5l.5-2.6 2.2-.5 2.9 1.2 .9 3.2-2.2 1.4-2.9-.1zM260.5 31l-.5 1.6-2.3-.1-1.5-.7 .1-2.8 1.3-1 1.5 .4zM268.9 31.6l-2.7-.7-1.4-3.2 .8-2 2.2-1.2 1.8 2.2 1.1 2.9zM277.2 35.8l2.1 2.3-.9 3.7-2.1 0-3.3-.2 .1-3 1.7-2.6zM272.7 38.1l-1.8 2.5-2.4 .7-2.5-3.3 .3-2.6 2.6-2.1 3 2.4zM284.7 47.8l-1.9 1.3-1.4-.4-.8-3 1.3-2.7 2.9 0 .4 2.5zM284.9 52.3l2.7-2.4 1.6 .9 2 1.3-2 2.7-2.6 2.2-2.3-1.7zM282.3 54.4l-1.8-1.1 1.1-2.8 2-1 3 1-.8 2.5-.9 1.8zM300 61.5l3.3 2.1-.7 2.3-2.9 3-2.4-1.2-1.3-3 1.6-3.5zM303.8 66.4l-1.8-.4 .3-1.7 2-2.3 1.6 .1 .4 2-1 2zM308.2 62.4l1.6 2.9-1.9 2.1-3.1-.8-1.6-1.8-.7-2.7 1.9-.8zM310.4 73.1l-2.1 .2-2.3-.7-.3-2.2 1.6-2.4 2 .4 1.8 2zM288 90l.5 1.6-1.1 2.3-1.8-.1-2-1.5-.4-1.8 2.4-1zM302.1 76.9l.9 1.3-.4 2.4-1.2 .9-1.7-.4-1-2.1 1.2-2.2zM315.5 95.6l3 .7 1.6 2.8 .3 2.9-3.2 .2-2.6-.4-1.4-3.8zM343.4 92.4l.2 2-1.3 1.9-1.9 .4-1.8-1.8 .6-2 1.8-1.5zM359.2 95.4l.6-2.9 2.1-1.7 2.6 1.1 .8 2.6-1.4 2.5-2.7 .6zM384.6 123l-1.9-.1-1.6-1.4 1.7-3.4 2.2-1 1.7 1.1-.3 2.3zM378.3 122.8l-.8-1.4 .9-3.1 1.3-1.8 2.3 .6 .1 3.9-1.9 2.8zM302.4 108.3l2.1 0 .7 1.4-1.7 2-1.5 .8-1.2-.9 .2-2zM295.2 122.8l-.5 2.5-2.6 1-3.2-1.1 .4-3 1.4-1.8 3.2 .4zM277.1 120.6l.5-1.9 1.7-1.3 1.7 2 1.1 1.8-1.7 1.8-2.6-.2zM284 133.1l-2.8 .6-1.2-2.6 .2-3 1.7-.5 2.4 .7 1.6 3.1zM278.2 139.3l-1.9 .8-2.7-1.8-.3-3.1 2.2-1.2 2.1 0 1.8 2.9zM347.8 110.2l-1-1.3-.4-2.6 2.3-1.2 2.8 .7-.1 2-1 2.4zM361.7 111.2l-1.9 .1-2.8-1.4 0-1.6 1.4-2.8 1.8 1.3 1.7 1.7zM357.8 98l1.4 .8 .6 1.7-1 1.3-1.7 .1-1.6-2.1 .8-1.4zM297.4 138.7l1.8 .7 .7 2.4-1.8 2.9-2.3 .7-1.9-1.2 .7-2.2zM308 147.4l-2.1-2.2 1.5-2.1 3.3-.8 1.9 1.6 .1 2.8-1.9 .7zM320.1 151.3l2.7 1.2 .4 2.9-1.7 2.1-3.3-.9-.8-1.7 .8-2.7zM284.9 167.3l2.1-2.6 2-1.1 2.7 1.1-1 2.7-2.3 2.6-2 0zM291 157.7l2.7 .8 .3 3.4-2 2.1-2.8-.7-1.7-1.2 .8-3.2zM282.8 180.2l-1.4-2.1 .5-3.9 2.8-.3 1.3 1.5 .9 2.3-1.5 2.2zM284.2 178.8l2.3 0 1.7 1.4-.3 1.9-1.9 2.1-2.3-.1-.9-1.7zM305.1 176.3l-1.8 1.2-1.9 .2-2.3-1.8-.1-1.9 2.2-1.7 3.3 1.2zM306.1 181.1l-1.2 2.8-3 .6-1.1-2-.4-2.8 2.4-.9 3 .1zM400.1 110.9l.8-1.7 2.5-1.1 1.2 1.8-.8 2.1-1.6 1.9-1.9-.6zM407.2 108.9l1.7-3.4 1.7 .6 .9 3.5-.6 2.2-2.3 2.1-1.4-2.6zM418.2 110.9l1.6-2.3 3.1 2.1 1.2 1.7-.3 2.8-3.1 .5-1.9-1.5zM444.4 58.7l1.7-1.6 1.9-1.3 2.4 2.8-1.2 3.2-1.1 1.1-2.8-.3zM473.3 56.3l-.9 2.2-1.5 1.4-3.2-.7-1.2-3.4 2-1.6 2.5-.8zM468.8 62.4l-1.7-.8-1.8-2.8 1.5-2.3 3-.3 1.9 2.1-.3 3.4zM449.9 94l-2.9 1.2-2.2-.1-.9-2.1 2.6-2.1 2-1.2 1.8 2.2zM447.6 112.2l.1-2.2 1.9-2.2 2.7 1.3 .5 1.8-1.2 3.4-2.6-.8zM450.9 95.5l3.1 1.3 1.2 1.4 .3 3.7-2.8 1.1-3.1-.7-1.2-3.9zM474.1 110.8l-2.3 2.3-3.3 .4-.9-2.6-.9-2 3.4-2.2 2.7 .9zM468.8 106.9l.3 3-2.7 2.4-3.3-.8-1.8-3.2 1.5-2.6 3.5-.6zM454.9 125l1.5-1.2 1.3 1 .5 1.5-1.2 1.8-2.2 .3-.7-2zM466 141.9l1.8 1.9-1.6 3.7-2.6 .7-3-.7-.3-3.5 2.4-1.6zM469.9 140.1l.8 .8-.4 1.9-2.4 1.1-1-.8-.1-1.6 1.2-1zM460.1 158l1.1 2.3-.6 2.4-2.7 1-3.1-1.4 .3-2 1.9-2.3zM445.5 176.5l2.6 .9 1.2 1.4-.7 4.1-2 .4-1.8-.5-.2-2.8zM438.7 182l1.3-1.1 2.4-1.3 1.9 1.9-.2 2.3-2 1.7-2.3-.7zM471.7 154.6l-2.5 0-1.6-2 .9-2.6 2.4-1 2.1 .8 0 3.2zM467.2 151.9l-1.2 3.3-2.6 .7-1.6-1.1-.7-2.3 1-2.7 3.1 0zM453.8 83.5l.7 1.9-.4 1.2-1.8-.4-1.6-1.1-.2-2.2 1.7-.2z"/></g></defs>
<g transform="translate(1615.5 888)" clip-path="url(#cf)"><rect width="478" height="184" fill="#5c9bdb"/><use href="#fs1" style="--k0:#5c9bdb;--k1:#5896d6;--k2:#62a0df;--k3:#5c9bdb;--k4:#5591d2;--k5:#66a3e0;--k6:#5c9bdb;--k7:#5a98d8" stroke="#2b5fa6" stroke-opacity="0.55" stroke-width="0.9"/><path d="M271 0l3 30 2 25-5 3-3-28-2-30zM296 0l4 20 3 30-6 2-4-30-2-22z" fill="#3a3d42"/><use href="#fs1b" style="--b0:#d42a26;--b1:#c92420;--b2:#dc3430;--b3:#cf2824;--b4:#17120f"/><path d="M4 37.4H470M4 101.5H470" stroke="#d2da3c" stroke-width="2.4" stroke-dasharray="10 6" opacity="0.95"/></g>
<g transform="translate(1615.5 1071.8)" clip-path="url(#cf)"><rect width="478" height="184" fill="#c878b0"/><use href="#fs1" style="--k0:#e4729e;--k1:#cf5ccb;--k2:#a8dc5a;--k3:#f0a064;--k4:#9a6ed6;--k5:#ee7f78;--k6:#c8dc50;--k7:#d9a0d8"/><path d="M271 0l3 30 2 25-5 3-3-28-2-30zM296 0l4 20 3 30-6 2-4-30-2-22z" fill="#3a3d42"/><use href="#fs1b" style="--b0:#35c840;--b1:#3a48d8;--b2:#c850c8;--b3:#30b8a0;--b4:#0d0d0d"/></g>
<text transform="translate(2015.6 1046.3) scale(1.14 1)" font-size="25.6" font-weight="bold" fill="#fff"><tspan>5 µm</tspan></text><path d="M2018 1062H2084.8" stroke="#fff" stroke-width="3.2"/>
<text transform="translate(2015.6 1231.5) scale(1.14 1)" font-size="25.6" font-weight="bold" fill="#fff"><tspan>5 µm</tspan></text><path d="M2018 1246.7H2084.8" stroke="#fff" stroke-width="3.2"/>
<text transform="translate(1591.9 1302.3) scale(1.1 1)" font-size="26.7" font-weight="bold" fill="#000"><tspan>Thermal annealing phase transition</tspan></text>
<defs><filter id="blur3f" x="-30%" y="-30%" width="160%" height="160%"><feGaussianBlur stdDeviation="3"/></filter></defs>
<path d="M1690.9 1382.8 1678.4 1382.8 1672.7 1363.7 1672.7 1336.7 1683.1 1333.2 1697 1336 1697 1363Z" fill="#bf615a"/><path d="M1678.4 1355.8 1672.7 1336.7 1683.1 1333.2 1697 1336 1690.9 1355.8Z" fill="#df8a82" stroke="#f3b6ae" stroke-width="0.9" stroke-linejoin="round"/><path d="M1666.9 1338.5 1677.4 1356 1677.4 1383 1666.8 1387.4 1647.8 1374.3 1647.8 1347.3 1654.5 1340.5Z" fill="#bf615a"/><path d="M1666.8 1360.4 1647.8 1347.3 1654.5 1340.5 1666.9 1338.5 1677.4 1356Z" fill="#df8a82" stroke="#f3b6ae" stroke-width="0.9" stroke-linejoin="round"/><path d="M1692 1356.1 1702.4 1338.9 1710.1 1338.4 1722.7 1346.7 1722.7 1373.7 1702.4 1387.5 1692 1383.1Z" fill="#bf615a"/><path d="M1692 1356.1 1702.4 1338.9 1710.1 1338.4 1722.7 1346.7 1702.4 1360.5Z" fill="#df8a82" stroke="#f3b6ae" stroke-width="0.9" stroke-linejoin="round"/><path d="M1633.1 1390.9 1633.1 1363.9 1634.2 1354.3 1642.1 1349.5 1666.1 1360.9 1666.1 1387.9 1660.9 1395.3Z" fill="#bf615a"/><path d="M1660.9 1368.3 1633.1 1363.9 1634.2 1354.3 1642.1 1349.5 1666.1 1360.9Z" fill="#df8a82" stroke="#f3b6ae" stroke-width="0.9" stroke-linejoin="round"/><path d="M1740.4 1390.6 1708.2 1395.5 1703.1 1388.1 1703.1 1361.1 1728.9 1348.9 1740.4 1356.8 1740.4 1383.8Z" fill="#bf615a"/><path d="M1703.1 1361.1 1728.9 1348.9 1740.4 1356.8 1740.4 1363.6 1708.2 1368.5Z" fill="#df8a82" stroke="#f3b6ae" stroke-width="0.9" stroke-linejoin="round"/><path d="M1662.4 1377.1 1662.4 1404.1 1634.3 1410.5 1627.4 1403.3 1627.4 1376.3 1629.9 1367.9 1660.7 1369Z" fill="#bf615a"/><path d="M1662.4 1377.1 1634.3 1383.5 1627.4 1376.3 1629.9 1367.9 1660.7 1369Z" fill="#df8a82" stroke="#f3b6ae" stroke-width="0.9" stroke-linejoin="round"/><path d="M1706.5 1404.3 1706.5 1377.3 1708.3 1369.2 1738 1368.2 1741.5 1376.7 1741.5 1403.7 1735.6 1411.1Z" fill="#bf615a"/><path d="M1708.3 1369.2 1738 1368.2 1741.5 1376.7 1735.6 1384.1 1706.5 1377.3Z" fill="#df8a82" stroke="#f3b6ae" stroke-width="0.9" stroke-linejoin="round"/><path d="M1728.8 1419.6 1715.3 1425.8 1697.8 1411.1 1697.8 1384.1 1706 1378 1729.7 1386.9 1729.7 1413.9Z" fill="#bf615a"/><path d="M1706 1378 1729.7 1386.9 1728.8 1392.6 1715.3 1398.8 1697.8 1384.1Z" fill="#df8a82" stroke="#f3b6ae" stroke-width="0.9" stroke-linejoin="round"/><path d="M1636.1 1414.7 1636.1 1387.7 1662.8 1377.8 1670.9 1384 1670.9 1411 1652.7 1426.2 1642.1 1423.5Z" fill="#bf615a"/><path d="M1670.9 1384 1652.7 1399.2 1642.1 1396.5 1636.1 1387.7 1662.8 1377.8Z" fill="#df8a82" stroke="#f3b6ae" stroke-width="0.9" stroke-linejoin="round"/><path d="M1709.8 1400.9 1709.8 1427.9 1706.5 1431.8 1687.5 1432.8 1684.9 1413.7 1684.9 1386.7 1696.9 1384.5Z" fill="#bf615a"/><path d="M1696.9 1384.5 1709.8 1400.9 1706.5 1404.8 1687.5 1405.8 1684.9 1386.7Z" fill="#df8a82" stroke="#f3b6ae" stroke-width="0.9" stroke-linejoin="round"/><path d="M1658.1 1428.5 1658.1 1401.5 1671.8 1384.4 1683.8 1386.7 1683.8 1413.7 1681.1 1432.2 1672.3 1434Z" fill="#bf615a"/><path d="M1683.8 1386.7 1681.1 1405.2 1672.3 1407 1658.1 1401.5 1671.8 1384.4Z" fill="#df8a82" stroke="#f3b6ae" stroke-width="0.9" stroke-linejoin="round"/><path d="M1708 1375.8 1697.8 1384.5 1681.4 1387 1666.5 1382 1659.9 1371.8 1664.9 1361.3 1679 1355.3 1695.7 1356.7 1707.2 1364.8Z" fill="#b5cde6" stroke="#f3b6ae" stroke-width="0.8"/>
<ellipse cx="1855.5" cy="1400" rx="57.3" ry="36.4" fill="#e23a3a" filter="url(#blur3f)" opacity="0.85"/><path d="M1861.7 1383.2 1849.6 1383.2 1843.5 1363 1843.5 1337 1853.3 1333.5 1868.2 1336.4 1868.2 1362.4Z" fill="#8ba7c6"/><path d="M1849.6 1357.2 1843.5 1337 1853.3 1333.5 1868.2 1336.4 1861.7 1357.2Z" fill="#b9cfe7" stroke="#e6eff9" stroke-width="0.9" stroke-linejoin="round"/><path d="M1838 1339.8 1848.6 1357.4 1848.6 1383.4 1838.3 1387.6 1819.1 1374.5 1819.1 1348.5 1826.8 1341.3Z" fill="#8ba7c6"/><path d="M1838.3 1361.6 1819.1 1348.5 1826.8 1341.3 1838 1339.8 1848.6 1357.4Z" fill="#b9cfe7" stroke="#e6eff9" stroke-width="0.9" stroke-linejoin="round"/><path d="M1862.8 1357.4 1874.2 1338.4 1881.1 1337.4 1895.6 1346.6 1895.6 1372.6 1872.9 1387.8 1862.8 1383.4Z" fill="#8ba7c6"/><path d="M1862.8 1357.4 1874.2 1338.4 1881.1 1337.4 1895.6 1346.6 1872.9 1361.8Z" fill="#b9cfe7" stroke="#e6eff9" stroke-width="0.9" stroke-linejoin="round"/><path d="M1832.4 1395.4 1805.8 1391.2 1805.1 1384.2 1805.1 1358.2 1814.5 1351.2 1837.6 1362.1 1837.6 1388.1Z" fill="#8ba7c6"/><path d="M1832.4 1369.4 1805.8 1365.2 1805.1 1358.2 1814.5 1351.2 1837.6 1362.1Z" fill="#b9cfe7" stroke="#e6eff9" stroke-width="0.9" stroke-linejoin="round"/><path d="M1908.4 1365 1908.4 1391 1878.6 1395.6 1873.6 1388.3 1873.6 1362.3 1897.5 1351.1 1903.9 1352.5Z" fill="#8ba7c6"/><path d="M1873.6 1362.3 1897.5 1351.1 1903.9 1352.5 1908.4 1365 1878.6 1369.6Z" fill="#b9cfe7" stroke="#e6eff9" stroke-width="0.9" stroke-linejoin="round"/><path d="M1833.9 1377.9 1833.9 1403.9 1805.6 1410.5 1798.9 1404.5 1798.9 1378.5 1801.1 1368.9 1832.3 1370.1Z" fill="#8ba7c6"/><path d="M1833.9 1377.9 1805.6 1384.5 1798.9 1378.5 1801.1 1368.9 1832.3 1370.1Z" fill="#b9cfe7" stroke="#e6eff9" stroke-width="0.9" stroke-linejoin="round"/><path d="M1876.9 1404.1 1876.9 1378.1 1878.8 1370.3 1907.8 1369.3 1911.9 1372.5 1911.9 1398.5 1905.4 1410.8Z" fill="#8ba7c6"/><path d="M1878.8 1370.3 1907.8 1369.3 1911.9 1372.5 1905.4 1384.8 1876.9 1378.1Z" fill="#b9cfe7" stroke="#e6eff9" stroke-width="0.9" stroke-linejoin="round"/><path d="M1808.8 1414.1 1808.8 1388.1 1834.4 1378.6 1842.3 1384.6 1842.3 1410.6 1824.8 1425.2 1816.6 1424Z" fill="#8ba7c6"/><path d="M1842.3 1384.6 1824.8 1399.2 1816.6 1398 1808.8 1388.1 1834.4 1378.6Z" fill="#b9cfe7" stroke="#e6eff9" stroke-width="0.9" stroke-linejoin="round"/><path d="M1868.5 1410.8 1868.5 1384.8 1876.5 1378.8 1902.2 1388.4 1902.2 1414.4 1900.4 1421.1 1887.3 1426.7Z" fill="#8ba7c6"/><path d="M1876.5 1378.8 1902.2 1388.4 1900.4 1395.1 1887.3 1400.7 1868.5 1384.8Z" fill="#b9cfe7" stroke="#e6eff9" stroke-width="0.9" stroke-linejoin="round"/><path d="M1852.2 1431.4 1840.6 1432.7 1829.7 1427.8 1829.7 1401.8 1843.2 1385 1854.8 1387.3 1854.8 1413.3Z" fill="#8ba7c6"/><path d="M1854.8 1387.3 1852.2 1405.4 1840.6 1406.7 1829.7 1401.8 1843.2 1385Z" fill="#b9cfe7" stroke="#e6eff9" stroke-width="0.9" stroke-linejoin="round"/><path d="M1880.9 1402 1880.9 1428 1875.1 1432.6 1858.5 1433 1855.9 1413.3 1855.9 1387.3 1867.6 1385.1Z" fill="#8ba7c6"/><path d="M1867.6 1385.1 1880.9 1402 1875.1 1406.6 1858.5 1407 1855.9 1387.3Z" fill="#b9cfe7" stroke="#e6eff9" stroke-width="0.9" stroke-linejoin="round"/><path d="M1878.4 1376.6 1868.5 1385.2 1852.5 1387.6 1837.9 1382.7 1831.5 1372.8 1836.4 1362.5 1850.2 1356.7 1866.5 1358 1877.6 1365.9Z" fill="#b3cae4" stroke="#e6eff9" stroke-width="0.8"/>
<path d="M1971 1398L1996 1434L2058 1433L2086 1398Z" fill="#e23a3a" filter="url(#blur3f)" opacity="0.9"/><path d="M2083.6 1374.5 2057.6 1408 2057.6 1430.5 2083.6 1396Z" fill="#7f9cbd"/><path d="M1995.6 1409.2 2057.6 1408 2057.6 1430.5 1995.6 1431.7Z" fill="#a3bdd9"/><path d="M1973.3 1373.3 1995.6 1409.2 1995.6 1431.7 1973.3 1394.8Z" fill="#8eaaca"/><path d="M1973.3 1373.3 1996.8 1344.8 2032.8 1333.6 2083.6 1374.5 2057.6 1408 1995.6 1409.2Z" fill="#b4cbe4" stroke="#dfe9f4" stroke-width="1" stroke-linejoin="round"/>
<text transform="translate(1680 1381) scale(1.06 1)" font-size="27" font-weight="bold" fill="#000"><tspan>t</tspan></text>
<text transform="translate(1709.5 1397.5) scale(1 1)" font-size="27" font-weight="bold" fill="#000"><tspan>m</tspan></text>
<text transform="translate(2022 1385) scale(1.06 1)" font-size="27" font-weight="bold" fill="#000"><tspan>t</tspan></text>
<text font-family="DejaVu Sans, sans-serif" font-size="36" text-anchor="middle"><tspan x="1618.6" y="1471.3">①</tspan><tspan x="1780.7" y="1471.3">②</tspan><tspan x="1969.5" y="1471.3">③</tspan></text>
<text transform="translate(1642.7 1468.8) scale(1.1 1)" font-size="26" font-weight="bold" fill="#000"><tspan>Original</tspan></text>
<text transform="translate(1805.9 1468.8) scale(1.1 1)" font-size="26" font-weight="bold" fill="#000"><tspan>Transition</tspan></text>
<text transform="translate(1994.3 1468.8) scale(1.09 1)" font-size="26" font-weight="bold" fill="#000"><tspan>Fusion</tspan></text>
<text transform="translate(1672 1527.3) scale(1.1 1)" font-size="26.3" font-weight="bold" fill="#000"><tspan>3Y-TZP+3 wt% α-Fe</tspan><tspan dy="5.3" font-size="17.4">2</tspan><tspan dy="-5.3">O</tspan><tspan dy="5.3" font-size="17.4">3</tspan><tspan dy="-5.3">: 8 W</tspan></text>
<text transform="translate(1605.6 1541.9) scale(1.02 1)" font-size="27" font-weight="bold" fill="#000"><tspan>T</tspan></text>
<linearGradient id="ta2" gradientUnits="userSpaceOnUse" x1="0" y1="1548" x2="0" y2="1729.6"><stop offset="0" stop-color="#e0302a"/><stop offset="0.45" stop-color="#ee6a40"/><stop offset="0.7" stop-color="#f2b040"/><stop offset="0.85" stop-color="#e8e040"/><stop offset="1" stop-color="#8ed050"/></linearGradient><rect x="1610.5" y="1556" width="3.4" height="173.6" fill="url(#ta2)"/><path d="M1612.2 1548L1608.2 1564L1616.2 1564Z" fill="#e0302a"/>
<text x="1592" y="1597.8" font-family="DejaVu Sans, sans-serif" font-size="40" text-anchor="middle" font-weight="normal">③</text>
<text x="1592" y="1653.5" font-family="DejaVu Sans, sans-serif" font-size="40" text-anchor="middle" font-weight="normal">②</text>
<text x="1592" y="1718" font-family="DejaVu Sans, sans-serif" font-size="40" text-anchor="middle" font-weight="normal">①</text>
<defs><g id="fs2"><path class="k0" d="M150.6 -2.7l.9 70.3 9.9-70.3zM204 59.9l-6.2-51.2 0-11.4 11.4 0zM232.9 68.5l-3.4-71.2 14.5 0zM338.2 29.9l-3.4-32.6 9.7 0zM389.6 35.1l-.1-37.8-17.9 0 9.5 58.9 6.6-5.3zM411.5 -2.7l3.9 103.7 9 0 11.1-3.9 .6-5.1-6-94.7z"/><path class="k1" d="M121.8 77.3l1.2-80-10 0-10.7 83.6 9.1 0zM232.7 100l-.1-31.3-3.2-71.4-20 0-5.1 63 .1 17.5 2.8 26.7 12.8 0zM392.5 40.7l4.3 54.7-4.5 1.5-4.6 0 .1-45.4 2-15.9zM430.2 -2.7l5.8 90.8 1.2 0 6.8-60.8 .1-30zM475.5 -2.7l5.5 29.1-.1-29.1z"/><path class="k2" d="M8 95.5l0-25.8-11-55.9 .1 83.6 5.4 0zM40.7 -1.7l0-1.1 28.9 .1-.3 25.2-1 43.7-.4 1.2zM68.6 66.3l.9 18.4 17.4 0 14.5-5.1-3.6-82.3-3.2 0-24.8 25.3zM255.1 78.4l.6-81.1 20.4 0 .5 8.1-.6 69.5-9.8 3.5zM277 5l26.6-6 0-1.9-27.1 0zM276.8 5.4l27-6.1 3 63 0 1.5-13.6 4.8-16.9 .1zM379.1 76.8l1.7-20.5-9.4-59-12.9 0 0 83.5 9.2 0zM387.7 51.5l-6.6 5.3-2.2 24 2.5 0 6.2-2.2z"/><path class="k3" d="M40.3 -1.7l.1-1-6.1-.1 4.5 14zM194.3 -2.7l3.3 10.9 .1-10.9zM254.9 84.3l.7-87-11.5 0-11 71.3-.1 19.5 11 0zM396.6 91.9l-3.9-51.3 12.7-43.3 6 0 3.4 91.7-8.4 2.9z"/><path class="k4" d="M69.2 83.7l-.8-16.9-.5 1.2-2.1 16.9 .2 0zM69.7 22.1l24.7-25-24.5 .1zM101.8 84.5l11.1-87.2-14.9 0zM307.2 68.7l0-6.3 18.4-65.1 9 0 3.3 33.1 .2 33.7-12.9 4.5zM358.4 82.2l0-84.9-13.8 0-6.3 33.2 0 55.4 9.6 0z"/><path class="k5" d="M8.2 69.2l-11-55.5-.1-16.4 14.6 0zM38.7 11.8l-4.7-14.5-22.2 0-3.4 72-.2 24.9 14 0 16.2-5.7zM178.1 90.5l1.3-93.2 14.7 0 3.5 11.5 6.2 51.2 .3 17.7-.6 9.2-10.2 3.6z"/><path class="k6" d="M304 -2.7l0 2 3 63 18.4-65.1zM444.2 27.3l19.8-14.9 .5 71.6-11.7 4.1-15.5 0z"/><path class="k7" d="M40.6 -1.7l27.1 69.2-.3 2.5-21 7.4-7.8 0 .3-65.6zM142.2 92.5l-9.1-95.2 17.4 0 .9 70.3-.8 23.2-4.8 1.7zM140.4 74.2l-7.4-76.9-9.9 0-1.2 80.6 7.9 0zM177.9 85.7l1.4-88.4-17.8 0-9.8 70.4-.9 22.8 13.4 0zM206 95.4l-1.8-17.1-1.2 17.3 2.4 0zM405.3 -2.7l-12.8 42.8-2.7-5.1-.2-37.7zM464.6 -2.8l-.8 14.8-19.6 14.7 .2-29.5zM464.7 84.3l-.5-71.9 .7-15.1 10.5 0 5.4 29.6 .1 53.9-9.8 3.5z"/><path class="k0" d="M56.8 108.3l-1.4 8.4-24.8 9-8.1-3-7.8-9-.1-1.9 7.8-24.6 6.5-4.8 3.2-.5 18.4 10.3zM303.2 158.4l-1.3 5.5-3.9 2.4-13.6-1.6-2.5-2.2-1.1-6.1 2.7-5.8 10.5-3.8 5.4 2.4 3.5 3.5zM371.3 86.2l4.5-2.4 6.5-.2 2.5 2.3 3.6 8.1-.1 4.3-14.2 5.4-4.5-3.1-2.4-4.5 .9-7.4zM273.3 128.6l3.2 4.7-.2 2.8-2.3 4.2-5 3.9-2.5-.5-8-7.8 0-3.8 1.9-3.1 3.4-2.3 5.1-1.2zM363.4 158.3l-4-1.3-2.6-3.5 .3-3.6 3.6-3.1 4.2-.5 2.9 2.3 .6 4.9-1.3 2.3zM214.4 174.3l1.7 3.1 0 3-2.3 2.5-3.4 .6-2.8-1.8-1.2-3 1.2-3.5 2.9-1.7z"/><path class="k1" d="M389.7 95.8l-8.1-18.9 0 0 5.3-10.7 11.7-5.8 12.1 1.2 10.7 5.9 5.3 7.1-.1 5.1-15 22-3.9 1.4zM37 84l-2.2-4.3-.2-8.4 4.4-7.9 10.8-5.7 7.7-.1 9.7 3.5 5.6 10.8-.5 5.8-13.9 12.2-7.7 1.9zM374.8 155.1l-5.7-6.8 .4-6 9.3-12.3 18.4-.5 3.7 6.2-5.1 21.3-4.3 2.7-9 1.2zM446.7 131.8l-1.4 3-4.7 3.2-6.3-.8-5.5-7.9 4.2-10.2 1.6-1.1 6.4 .3 2.1 1.5zM239.1 112.6l2.7 4.5-.4 3.9-1 3-3.6 3-4.8 .6-4.3-2.1-1.5-3.1-.7-4.9 7.3-5.9 1.9-.3zM392.7 108.8l-.6-.6-2.7-6.8 2.4-3.1 2.1-.2 6.5 2.6 .8 3.1-1.7 4-3.1 1.5zM315.4 168.8l-.4-3.7 2-3 4.2-.8 2.4 1.2 1.9 3.6-.9 3.9-3.3 1.6-3.6-.5zM380.5 124.8l-.1-3.3 2.6-3.2 3.2-.6 3.4 2.1 1.4 3-1.3 3.4-3.6 2.2-3.6-.9zM341.5 73.2l.9 2.8-1.1 3.6-1.9 1.3-3.6-.2-2.4-2.4 .1-3 2.3-3.1 2.8-.4z"/><path class="k2" d="M369.3 192.1l-.7 8.4-9.3 12.2-15.9 6.2-13.7-2.4-7.7-7.1-5-10.9 0-15.6 14.5-13.3 20-2.4zM60.2 166l-2.7 .4-21.5-7.5-7.8-9.1 2.8-23.7 24.7-9 14.8 12.2-.8 28.6-1.7 2.6zM493 80.3l7.1 6.8 6.1 14.6-2.1 8.5-6.9 12.2-7.3 3.5-17-.6-1.8-1.2-14.2-19.1 10.1-16.7 16.1-9.9zM101.1 156.9l10.8 4.3 7.4 7.5 .1 1-7.2 21.2-3.7 3.1-6.3 2.8-10.2-3.4-1.9-2-7-21.7 1.1-1.9 7.7-8.1zM140.4 143.7l-2.6 4.3-17.8 10.8-.6 .1-9.7-4.4-7-7.9-.6-8.9 2.3-5.3 18.8-11.2 4.2 1.5zM401.1 136.7l5.6-2.3 8.7 2.1 8.1 10.4-.1 8.3-3.8 4-18.5 .3-2.9-2.3-1.4-2.2zM442.5 148.7l-7.7 4.4-3.8-2.5-1.7-5 2.6-4.6 4.1-1.6 4.9 1 .3 .6zM331.1 71.4l-1.1 4.4-2.9 2.3-4.7 .4-3.9-3-1.1-5.2 1.8-3.5 5.3-1.7 3.4 1.1zM321.5 87l3.9-3.8 3.4 .4 2.9 2.1 1.5 4.9-2 3.1-4.6 1.6-3.7-1.5-2-3.7zM157.9 189.4l-3.3-1.7-1.3-3.7 1.4-2.9 3.3-2.1 3.3 .7 1.9 3.2-.2 4-2.5 2.3zM253.5 181.5l-1.3-3.8 1.8-3.2 3.1-1.6 1.7 .7 3.2 2.8 .2 3.6-2.9 2.5-2.5 .4zM62.6 97.6l-.3 2.1-3.1 1.7-2.4-.1-2.6-2.3-.6-3.6 1.6-2.4 3.9-.9 .3 .1z"/><path class="k3" d="M375.9 196.6l-.2-.7 10.8-30.8 9-5 29.9-.5 21.9 26.3 .9 7.2-8.4 19.3-13.5 9.7-20.2 1.1-18.3-9zM270.8 218.9l-11.4-14.5-1.6-4.9 7.8-20.2 12.7-14.9 26.9 3.3 11.3 15.2-.1 24.5-10.4 12.3-18.2 5.6zM471.8 125.7l20.8 .9 6.5 3.7 8.8 18.4-1.9 8.9-12.3 15.3-6.7 4.1-28-14.3-2.1-8.8 3.4-17.2zM183.3 156.6l-1.2-4.7 4.6-11.3 4.6-3.9 31.7-1.5 5.8 6.2 1.2 22-2.3 3.9-4.9 3.1-19.4 2.9zM349.1 143.2l-2.9-2-6.3-10.3 .1-13.9 4.3-7.8 9.1-7.3 13.2 .9 1 .7 10.2 14.3 .6 11.8-9.3 12.3zM289.1 96.5l-4.5 1.8-3.3 .8-.6-.3-6.7-7.9-.2-2.6 1.5-3.8 5.4-3.8 4.2 .7 4.3 1.6 2.3 3.3-.6 6.4zM448 135.6l4.9 1.2 3.2 4 .9 3.6-1.1 4-2.3 3.2-1.3 .5-9.3-3.4-1.5-9.2 2.1-1.9zM13.9 139.4l.2-4.8 3.1-4.7 6.7-.6 3.6 2.6 1.7 4.7-.2 1.9-1.9 3.8-5 2.4-4.6-.4z"/><path class="k4" d="M164.3 145.8l-22.2-.2-14.2-23.2 8.6-20.8 25.2-13.9 2.1 1 19.1 23.6 0 6.5zM201.1 101.8l15.1 5.1 7 11.9 .3 12.7-4.4 3.5-25 1.1-6.5-5.3-2.9-9.8 1.7-9 3.4-3.4zM226.8 72.3l7.3-3.3 9.6 2.3 8.2 17.1-.4 4.7-6.8 5.8-5.5 1.5-9-.9-7.8-21.7zM187.6 106.5l-9-3.7-2.6-3.6-1.5-8.6 2.4-7.6 7.3-5.3 5.7-1.4 8.4 2.4 3.7 6.4-1 14.5-5.6 5-2.4 1.4zM83.9 194.2l-4.8 2.7-6.2-.4-6-4.3-3.1-3.9 0 0 7.1-16.4 1.4-.7 8.3 1.2 3.6 2.3 4.3 13.4zM443.2 118.5l.6-2.2 4.8-3.8 3.9-1.2 6.4 1.9 5.7 5.1 .4 5.3-1.7 5.1-3.2 4.7-7.1 1-5.4-1.4zM272.8 118.1l3-3.7 3.4-1.8 5.4-.3 5.5 3.3 1.5 5 .1 3.6-3.2 4.8-3 1.8-3.6 .8-2.6-.6-4.4-2.9-1.9-3.2zM295 141.6l-.9 3.7-2.1 1.7-7.2 2.6-2.6-1.2-4.7-4.1-.6-4.5 1.6-4.7 3-2.2 4-1.5 1-.2 5.3 1.9 2 2.7zM257.4 171.6l-.4-1.7 1-2.4 7-5.5 3.4 .8 4.2 5-.4 3-5.2 6-3.1 .6zM22.6 155.5l4.9 1.8 2.4 3-.1 3.8-7 6.3-.9 .3-4.8-2.9-1.3-3.6 2.1-5.8zM444.7 108.5l-5.6-.7-3.1-5.1 .3-4.1 1.8-2.8 6.5-1.6 3.8 2.1 1.7 4.6-1.6 4.5zM128.1 160.6l1.2-3.6 3.1-2.3 4 .8 2.2 2.4 .5 3.9-2.8 3.2-3.5 .7-3.6-1.7zM81.1 143.8l-3.3 2.5-2.4-.2-3.2-2-.9-3.1 1.4-3.2 3.1-1.7 3.4 1.1 2.2 3.4z"/><path class="k5" d="M300.8 141.1l-6.4-12 1.5-20 1.6-2.9 9.1-5.7 12.9-1.1 11.6 6 7.8 7.7 .1 21.9-3 5.9-9.2 6.9zM52.7 191.1l-10.1 7.3-10.1-1.1-9.2-3-6.9-10.1 .5-7.7 18.9-17.2 15.6 5.5 .5 .8zM124.3 96.9l-4.1-4.6 5.5-17.9 3.6-3.3 6.9-.6 7.3 .8 6.7 8.5 2.2 8.1-2.3 5.6-13.8 7.7zM216.3 106.4l-15-5.1 1.3-18.1 2.2-2.7 5.9-3.8 11.2 1.2 7.4 20.5zM97.6 84.6l-5.1 3.7-4.9 .5-4.7-1.8-3.3-3.5-1.7-5.6 1.9-5.9 4.9-3.6 6-.5 3.6 2 4.2 4.4 1.1 5zM75.4 96.2l-.6 .5-10.1 3.5-5.9-10 9.3-8.1 .6-.1 4.3 1.6 2.4 3.4 1.2 4zM101.1 120.2l.1-4 1.7-2.7 4.7-1.9 4.4-.4 3.3 3 1.9 3 0 4.2-3.3 4.5-2 1.4-.5 .3-4.4 .1-3.6-2.7zM265.2 102.8l-1.3-5.1 2.6-4.6 4.9-1.8 3.3 1.2 4.8 5.6 0 4-3.6 3.5-5.3 1.5zM143.4 175.4l-2.1 3.6-4.8 2.9-1.3-.2-6.8-6.3 .5-4.3 3.1-3.5 4.8-.8 4.6 2.7zM419.6 140.2l-1.1-4.6 .7-1 8.4-4.5 1.5 .6 3.7 5.3-1.1 3.8-3.9 3.1-4.5 .5zM308.4 96l-3.8-.5-3.2-2.1-1.2-5.5 2.8-3.7 3.8-.9 4 1.7 1.8 4.5-.6 3.5z"/><path class="k6" d="M175.4 156.7l7-.2 20.7 17.2 3.2 22.2-6.5 7.9-18 4.5-10.1-.8-6.1-6.2-1.9-27.4zM72.8 128.1l-5.6-2.3-9.8-7.9-.8-4.5 .8-5 7.3-7.7 16.4-5.6 3 1 5.8 7.9 2.3 9.6-4.6 7.4-6.1 6zM221.4 174.8l1.4-1.3 7.2-1.5 6 1.7 5.9 5.9 2 6.1-1.2 9.8-7.1 4.6-7.4 1.5-5.7-.7-6.9-7-.9-5.1zM165.8 152.9l1.8 5.5-.4 9.4-4.3 6.3-8.9 2.8-4.6-.8-2.2-1.3-6.4-9 1-12.9 2.3-2 7.1-3.7 8 .7zM468.3 63.3l4.8 2.1 3.6 8.5 .1 6.5-2 2.4-7.1 4.4-.2 .1-1.7 0-13.8-7.8-1-1.9 0-6.4 3.6-4.7 8.4-4.7zM454.7 153.5l1.3 5.5-1.2 4.2-4.1 6.1-6.7 2.3-5.2-.8-6-5.5-1.2-6 .8-4.2 10.4-6zM358 164.9l4.4-4.1 8.1-1.2 4.5 3 3.9 3.9 0 5.7-2.1 7.9-4.6 2.6-7.5 .4-2-1.2-6.3-8.7-.5-3.4zM3.3 142.5l5.3 1 3 3.5 1.2 4.5-1.4 4.3-3.1 4.2-4.4 1-4.7-1-3.1-2.5-2-5.9 1-5.3 2.9-2.5zM-4 107.6l2.4-.9 6.8 1 3 3.1 1.4 3.5 .3 4.2-2.8 4-5.7 1.5-3.7 .1-3.6-2.8-2.3-4.3 1.3-5.2zM131 101l2.9 1.8 .8 2-4.9 11.7-1.2 .7-3.8-.3-3.3-2.4-2.5-3.7 .8-5.5 3-3.7 3.1-1.6zM435.7 94.9l-3.1-2.1-1.9-4.5 1.1-4 2.2-3.5 5.2-2 4.8 1.3 2.9 2.7 1.2 4.6-.7 4-2.3 2.2-7.5 1.7zM59.5 169l4.1 .2 3.1 2.6 2.1 3.9-3.9 8.9-2.7 1.2-5-.4-2.6-2.5-1.7-1.9-.2-6.6 2.7-3.2zM229.6 102.3l3 4.1-.1 4.8-6.3 5.1-3 .4-1-.6-4.8-8.2 .5-1.8 7.5-4.7zM172.1 141.6l-1.7-3.9 6.2-8.9 3.6 .2 4.2 3.3 .5 6.5-2.5 3.3-5.8 1.2zM461.7 90.6l-3.1 2.8-3.9 .2-2.4-1.6-1.4-4.9 1.7-3.1 3.5-1.7 5.6 3.2 .4 .5zM426.8 93.7l0 3.6-2.8 3.2-2.7 .4-3.7-2-1.3-3.2 3.2-4.7 1.8-1.1 2.5 .5z"/><path class="k7" d="M229.6 145.2l5.6-11 8.8-5.4 8 1.5 21.5 20.8-1.4 4.7-17.4 13.6-11.2 2.9-11.2-6-1.9-4.1zM397.9 115.9l2.5-8.9 2.5-1.6 8.9-3.1 19.9 3.9 3.7 5 0 .5-7.1 17.5-12.8 6.8-14.1-3.4-2.5-5.7zM469.3 195.9l-7.1-.8-9-2.5-4.1-8.5-.6-5.9 3.6-9.2 6.6-5.5 .6-.1 19.5 9.9 1.1 1.9 .5 5.5-4.7 9.5zM-9.9 101.5l-1.9-7.4 4.8-10.1 5.4-3.8 7.2-1.5 8.6 3.5 4.2 6.7 1.3 5.2-3.1 9.6-.1 .4-6.1 3.9-15.9-2.4zM111 91.8l-6.4-2.9-4.8-7 .3-4 4.1-8.1 4.2-2.2 5.9-1.1 7.6 4.1 2.8 5.1 0 .1-3.8 12.7-2.8 2.9zM268.5 78l-3.3 6.3-4.9 2.1-4.1 1.1-5.2-2.1-5-10.4 0-2.2 1.6-4.1 6-3.7 6.6-.8 3.6 2.3 4.3 5.9zM328.9 151.5l4.3-4.1 5.7-1.8 5.7 2.1 3.7 3.8 1 8.1-2.4 4.9-5.2 3.3-6.3 .8-4.1-2.3-3.9-4.2-1.2-5.3zM135.6 189.9l-4.2 5.3-4.7 1.3-5.6-2.2-5.7-4.2-1.1-3.6 2.8-8.3 2.3-1.9 6.6-2.5 11 10.2 .3 .7zM387.4 99.1l.8 .6 4.7 11.8-1.1 3.2-2 1.3-10.1 1.3-1.8-1-2.3-2.7-1.8-2.4 .1-3.6 1.3-3.7zM303.8 154.3l-.2-4.1 2.3-2.5 3.2-.9 3.4 1.9 1.6 3.9-1 2.8-3.2 1.6-3.9-.2zM252.4 117l.1-3.3 2.1-2.9 3.8-.2 3.6 2.6 .6 2.7-1.6 3.3-4.1 1.6-2.8-1.2z"/></g><g id="fs2b"><path class="b4" d="M8.2 137.2l-3.1-3.1 1.1-3.8 3.8-1 3.9 2.8 2.7 3-1.9 4-3.7 0zM12.2 133.7l-5.9-.6-3.6-2.2-.5-2.7 4.3-2.9 5.6-.6 4.8 3.4-1.5 3.6zM16.3 136.9l-2.8 1.2-3.4-2-2-2.7 2-5.5 3 .9 3.9 1.3 1.7 1.9zM20.5 125.5l-3.6-.7-.4-5.4 3.1-4.6 3.9-2.4 3.7 2.7-.3 6.9-2.6 2.9zM19.4 123.1l-1.9-.8-2.6-2.4 1.5-3.1 3.4-1.3 4.5 .6 1.4 2.2-1.2 3.6zM14.1 122.4l-.5-2.6 1.7-3.9 3.6-2.5 4.9 2.8 .7 4.8-1.7 3.2-4.3 1.2zM15.2 149l-2.9 2.5-2.5 .1-3.7-3.5 1.1-3.1 2-5.5 3.4 1.4 3.1 2.3zM14.6 154.8l-3-2.1 .4-5.1 3.5-3.4 3.6 1.8 4.3 2.4-1 3.9-3.7 3.8zM10.2 143.2l2.9 1 2.5 2.8-2.6 4.5-3.6 2.1-4.4-.4-1.7-4.3 3.7-4.1zM2.4 169.3l-2.1-1.5-3.1-3.2 3-3.7 3-.6 2.9 1.7 1.8 4.2-.8 3zM8.9 160.8l4.3 1 1.2 3 0 4.6-4.1 .5-2.5-.2-3.1-3.5 2.7-3.3zM5.2 165.7l-3.5 1.1-1.3-4.1 .4-2.4 4.2-2.5 4.1-1 2.1 2.8-1.8 4.7zM19.2 162.1l-2.5-3 3.4-3.2 4.4-1 4.3 2.8 .1 2.5-3.5 3-4.2 .6zM17.2 167.7l-5.5-3.5-2.4-3.5 1.2-5.9 2.7-2.8 5.6 2.7 3.6 5-.9 5.6zM17.7 165.2l-1.2-4.6 1.8-3.3 4-4.3 5.4 3.7-.7 4.9-.6 5-4.5 1.4zM30.2 149.6l3 .6 2 2.4 2 4.5-3.5 3.3-4.3-2.2-2.5-.8-.7-4.5zM23.2 161.7l-3.7-1.6-1.1-3.5 2.8-4.5 5.3-1.7 3.1 2.6 2.1 5.1-2.9 3.2zM29.9 151.3l3.3 4.5-.4 3.7-5 1.4-6.4 .8-3.7-3.6 .9-4.3 3.3-3.5zM37.2 160.1l-3.3 .9-2.6-2.1-.3-2 1.7-3.4 2-.5 3 .5 .6 3.4zM35.6 161l.7-3.6 4.4-1.5 3.6 .7 3 1.8-2.9 5.4-4.9 2.8-3.7-1.7zM40.9 157.5l-2.3 3.1-3.1 2.1-3.6-.8-2.2-4 1.1-3.9 4.2-2.2 4.2 2.4zM57.5 164.6l-4.4 1.2-6.6-.3-1.2-4.2 1.4-5.3 3.3-2.2 5.5 1.2 2.7 5.1zM47.9 163.8l.2-3.8 1.5-3.6 4.2 1 2.2 1.8 0 4.8-3.2 2.1-2.4 1.2zM41.1 160.9l-3.6-1.9 2.5-3.1 3.5-1.9 3.6 1 2.2 2.9-1.8 2.5-3.2 1.3zM4.3 175.1l1.5-5.9 4.7-3.6 4 2.5 3.4 3.8-.7 6.7-4.4 .4-4.1 .3zM14 173.5l2.1 2.2 .2 5.8-3.6 1.6-8.5-.8-2.2-2.5 .3-5.3 5.3-2.7zM7 172.6l-1.2-5 4-1.6 5.1 .3 3.4 4.4-.7 6.1-1.5 3.6-6.4-2.3zM15 178.9l-.2-3.3 2.9-2.4 4.4-.7 4.5 2.5 .1 3.4-2.6 3.8-5.7-.9zM14.5 180.1l-1.7-4 4.8-4.9 4.7 2.1 1.6 2.9 0 3.5-2.9 2.6-4.5 0zM19.4 182.8l-2.8-.4-.4-4.7 1.3-4.2 3.8-1.8 2.5 3.2 1.8 3.7-2.3 4.5zM56 109.2l-1.6-1.2-2.2-3.6 1.8-4.3 4.1-.4 4.1 .8-.8 4.1-2.4 2.9zM55.4 112.6l-3.4-1.5-1.4-3.1 2.9-5 1.9-2.1 4.7 3.2 1.9 3.7-2.7 3.2zM57.3 103.6l3.5 1.5 4.5 .3-.7 5.2-4.6 4.7-3 2.6-3.8-2.6 .3-7.1zM85.1 84.2l3.5-2.8 5.4-1.4 .9 2.9 .3 4-2.3 3-3.6 1.9-4.4-4.6zM94.1 82.9l4 5.4-2.4 5.5-4.1 .5-6-.1-1.5-4 .6-7.4 4.2 .1zM87.6 97.2l-1.8-2.9-.8-4.2 3.3-1.3 3.5 .3 1.3 3.5 .7 3.9-2.9 1.6zM86.5 98.4l-1.2-4.8 1.8-2.7 4.1-3.5 3.7 1.3 1.4 5-.5 3.9-4.8 3.1zM91.9 94.9l4.5 2-.2 4.7-2.5 3.4-3.4 0-4.6-3.9-.2-3.5 1.8-4.4zM97 102.6l-3.9 1-1.8-1.4-1-4 2.2-2.7 3.1-.8 2.6 .5 1.7 3.8zM100.6 106.4l-3.6 1.1-2.9-2.2-.9-4.5 2.1-1.9 3.2-.5 2.1 1 .5 3.9zM105.9 91.1l4.2 3.2-2.7 2.9-3 3.5-2.7-1-2.6-3.1 .5-4.6 4-2.6zM96.1 101.9l-3-2.9-.9-5.6 3.1-3 5.3 .1 1.3 3.4 1.8 5.9-4.1 2.6zM119.9 98.5l-3-.8-1.8-3.9 .6-3.5 3.5-1.5 3 .8 1.6 4.1-.8 2.3zM125.4 87.9l2.7 3.9-.7 2.8-3.1 2.5-3-2.4-2.2-3.8-.1-4 3.1-1.4zM123.4 89.5l4.2 3.5-2 2.3-4.1 3.2-4.6-.2-1.6-3.7 1-3.7 4.8-1.5zM115.6 103.6l-3 4.8-2.8 1.6-4.3-1.8-1.2-4.7 2.5-3.4 3.7-1.6 3.1 1.8zM108.8 99.6l4.7 1.6 .1 2.9-2.2 4.9-3.2 .3-3.5-1-2-4 2.8-4.3zM102.3 110.8l-3.5-2.8 .7-5.4 2.4-1.8 3.5-2.1 3.3 2.9 1 5.3-4.3 3zM66.3 135.6l-1.9-4.4-1.4-3.6 5.3-3.9 4.5 1.1 4.5 .6 .4 5.6-5.3 4zM80.4 126.5l.1 3.3-1.5 3.8-4.8 .3-3.9-.3 .8-6.5 1.2-2.8 5.4-1.1zM71.4 134.1l-.6-4.6 2.8-.5 5.5 .5 2.4 2.6 .1 4.7-2.4 .7-4.5 .9zM78.1 128.1l2.5 2.8 1.5 3.7-.8 5.6-3.1 .6-3.7-.2-2.1-5.4 2.2-4.8zM76.8 148.8l-2.8-4.4-1.5-5 3.3-5.7 4.1 1.8 2.2 3.1 1 4.7-1.5 4.6zM87.5 140.3l-3.9 3.5-4.8-2.7-3.3-3.1 1.7-3.6 .9-3.6 5.8-1.2 4.5 4.3zM91.5 131.5l1.3 2.9-1.3 4.4-4.1 .3-4.1-2.8-.4-4.4 1.7-3.3 4.3 0zM92.6 130.9l4.8 .7-.5 4.5 0 2.3-3.8 2.7-4.6-2.4-2.1-4.5 1.7-3.7zM91.2 127.3l5-1.3 2.7 2.7 1.5 3.2-.6 3.6-4.2 1.9-4.5-2.6 .3-3.5zM95.3 139.6l-.6-3.7 4.6-.4 2.8 .2 1.7 2.4-1.1 2.7-2.5 1.5-4-1zM102.8 137.7l-1.5 3.2-4-1.4-3.2-1.9 .1-4 1.9-2.8 3.5-.5 2.7 3.8zM105.1 137.4l-3.3 .9-3.1-1.9-2.2-3.2 1.7-3.6 2.4 .8 2.5 .9 2.1 3.3zM108.1 147.8l-3.7 5.8-4.2-.4-4.5-1.9-.9-4.3 6-4.9 3.7 0 5.8 2.1zM105.6 148.4l1 2.5-2.5 3.5-3.5 1.7-3.8-2.5 .1-4.2 .8-4.1 5.9-1.4zM103.3 150.3l-3.5-1.5-.7-2.9-.5-2.6 3.7-.4 2.7 0 1.5 3.2-.4 4.1zM96.1 154l-4.8-.2-2.9-1.2-.4-5.7 4.1-3.7 4-.4 4 1.9-1.7 4.5zM86.1 145.2l3.9-4.2 5.2-1 6.4 4.7-1.3 4.9-1.5 4.1-7.3 1.2-4.8-3.3zM87.9 141.4l3.4-.3 4.7 .4-.5 5.7 .2 3.7-4.8 1.1-2.9-1.8-1.5-4.9zM91.5 160.5l-1.3 4.3-4.6 2.2-1.6-1.6-1.9-4.9 2.5-3.6 2-1.7 2.9 2.5zM76.9 151.9l5.1 .3 3.2 2.6 .4 6.3-3.9 2.1-4.3-.6-4.8-4.2 0-5.3zM79.3 148.3l4.7 3 1.8 3.8-2.2 2.3-6.4 1.4-3.1-4-2-3.2 2.8-3.3zM76.4 160l3.5 1.9 .7 3.8-2.1 3.6-2.5 1.5-2.5-3-1.3-2.3 1.3-3.3zM74.4 158.2l2.4-.1 2.3 3.4 .6 4-2.8 1.8-4.2-.6-2.1-2.4 0-3.5zM76.3 169.9l-3.2 3-2.4-1.5-3-1.7 .2-4.7 2.8-2 3.4 .3 3 2.5zM60.3 175.7l-.4-4.1 4.9-1.7 4 .7 4.2 3.5-2.4 2.3-2.6 4-7.6-1.1zM74.8 174.6l-3.6 .3-3.3-2.1-.4-2.8 2.2-3.9 2.2-.1 3.6 1.8 .6 3.3zM70 169.7l2.1 4.2 .6 4.1-2.4 2.6-2.5 1.8-4.6-4.2-.6-3.3 2.9-5.4zM79.6 178.3l3.7-4.2 4.9-2.9 5 0 1.2 5.6-1.7 4.1-5.5 3.6-4.6-2.5zM85.8 170.4l4.3-.5 2.2 3.8 1.7 4-3.8 2-3.3 .1-2.4-1-.9-4.6zM79.4 177.4l3.7-4.7 5.4-1.4 1.8 3.3 1.5 2.1-4.3 3.3-4.5 2.9-4.2-2.6zM115.2 161.2l-5.4 .2-3.4-.9-1.4-5.7 2-4.2 4.6-.3 6.2 .8-.3 5.5zM113.2 155.5l-2.9 2.2-2.7 1.3-2.6-1.7 1.1-3.9 2-2 4.7-1.7 .7 3.1zM109.2 159.3l-3 2.3-4-1.6-1-3.4 2.7-3.3 3.5-1.6 2.1 2.2 2.6 3.1zM115.4 156.2l3.9-1 1.8 3.3 .4 3.8-2.1 2.8-3.6-.7-2.2-2-1.1-4.9zM114 166.6l.3-4.2 2.1-1.8 4.5 3 .2 3-.4 3.6-3.3 1.6-2.2-.5zM118.1 161.1l.9-3.7 3.4 1.9 2.7 2.8 1 3.6-1.7 2-2.8-1.2-3.5-1.2zM180.9 96.9l-.1 2.6-3.6 2.1-2.5-.1-2.5-.7 .7-3 2.6-3.1 3.5 .1zM182.7 89.8l-1 4.5-4.1 1.2-3.5-.7-1-3.2 1.8-3.8 1.2-2.7 4.8 1.2zM165.3 95.7l3.7-1.3 5.1 .1 2.9 2.8-1.2 3.3-5.2 2.1-3.5-1.3-2.7-3.4zM166.3 115.1l0-3.8 4.6-4 3.7-.9 4.9 4.2-.1 4-4.7 3.4-4.2 .4zM169.4 113.7l2.3-6.1 3.8-4.3 5.1 1.3 3 3-.4 4.8-5.6 3-4.7 1.6zM183.5 112.3l-3.5 2.3-3.4 .5-2.1-.9 1.2-4.5 2.3-3.1 2.8 .3 1.2 1.8zM175.8 124l1.6-3.9 2.8-.3 5.4 2.6 .9 3.3-.2 1.9-3.9 1.2-4.2-.8zM179 125.3l-4.5 2.1-4.1-2.9-.2-2.2 2.3-4.1 5.2-1.8 2.9 .9 2.7 2.1zM185.2 127.5l-1 2.5-3.1 1.6-3.1-4.2-2.4-3.4 2.7-3.2 4.1-1.5 2.7 3.4zM185.5 133.8l-1.2-2.9 1-2.8 3-1.2 3.2-.7 .7 3.6-.9 2.5-2.2 2.6zM185.7 133.1l-1.6 3.1-2.1 .9-3.2-.7-2.9-3 1.1-2.6 3-1.3 2.5 0zM192.1 127.7l-1.1 4.6-3.6 2.2-4.3 0-3.1-3.4-.4-3.7 3.8-2.8 5.1-.5zM198.5 122.2l1 5.2-.7 5.4-6 1.4-5.5-1.1-3-4.4 2.1-4.2 6.5-4.8zM189.2 126.3l3.4-2.7 4.3 .2 1.9 3.3-.1 3.3-3.1 2.7-4.3-.4-2.5-4.2zM200.5 128.9l-1.5 3.7-4.6-1.3-3.4-.7 .6-4.5 2.2-3.1 4.9 .3 2.2 3.3zM202.1 129.5l4.1 .5 3.3 2.8 2.7 3.8-4.1 2.5-3.7 2.6-3.6-3.2-1-4.6zM207.8 141.5l0 5.9-4.3 .6-4.6-1.7-5.2-3.2 .5-6.1 5.1-2.1 5.4 2.4zM203.1 140.6l-2.2-2.8 .5-3 3-4.3 4.5 .4 1.4 3.9-2 3.7-2.6 3.4zM184.4 144.9l-1.4-2.2 .8-4 2.3-1.8 3.7 2.7 2 3.2-1.6 2.1-3.1 2.4zM183.2 139.7l4.1-1.3 2.9 .4 1.7 2-.4 3.9-2.8 3.5-3.1-1-2.9-2.9zM188.7 145.6l-3.9-.2-2.8-4.1-.7-4.3 4.3-1 4.2-1.6 3.1 5.2 .1 5.1zM186.4 149.3l1.4 5.1-3.5 5.6-4.3 .5-2.5-3 0-4.7 1.7-2.9 3.9-2.3zM189.5 148.5l-.7 3-3.8 3.3-6.1-4.3-2.2-2.7 2.6-4.2 3.7-3.1 5.8 1.7zM176.5 152.7l1.3-4.7 4.2-2.6 5.4 1.5 .7 4.8-2 4.1-3.4 2.3-4.4-1zM162.9 158.4l-.7-3.4 2.5-2.6 3.9-1 2.8 2.8 .9 3.3-3 2.1-3.6-.3zM173.7 153.5l.7 3.9 0 4.4-4.4 .1-4.2-1.3-1.6-3.7 2.4-3.3 4-2.8zM168 162.1l-2.9-4.1 1.3-5.2 5.3-2.1 3.4 .1 1.1 5.1-.2 5.1-3 1zM164.9 174.5l-1.3-2.9 2.3-3.1 2.7-.7 3.4 .8-.3 2.5-.1 2.9-2.5 2.6zM158.9 171.1l-3.3-3.5 2.7-4.2 3.2-3.5 2.8 2.2 3.2 4.2-2.4 2.3-2.6 2.2zM159.8 166.2l3.2 .7 5.4 2.5-1.3 4.2-3.4 3.1-4.7-2.4-3.5-3.8 .5-2.6zM146.5 166.3l1.9 2.8 1.2 5.9-3.5 4.2-3.4-.9-4.6-3-.8-4.9 3.9-2.9zM142.7 165l6.7-2.3 1.9 3.7 2.8 4.1-4.4 6.7-5.5-1-3.2-2.7 .2-4.2zM142.1 164.5l4.8 2.7 1.6 4.1-1.6 3.5-4.1-1.1-4.1-.8-.4-4.8 1.1-1.9zM147.3 183.4l.6 3.4-6.2 .9-5.2-2.9-1.5-4.1 3.3-2.5 4.4-1.9 3.6 3.1zM148.5 179.3l-1.7 2.1-2.6 .9-2.9-1.7-.6-2.5 1.8-3.7 3.1-1.1 1.9 2.2zM147.7 173.8l1.3 3.7-3.4 4-4.3 .4-3.8-.5-1-4.3 1.8-4.7 6.4-.8zM149 181.7l-2.3-3.3-.3-5.2 4.5-3.9 4.8 2.3 2.7 3.3-1.1 4.9-4.7 2.6zM159.4 181l-2 3-2.6 2-3-3.7 .2-2.6 1.5-3.4 2.9-2.5 3 2.1zM160.6 174.3l1.7 6-2.8 2.7-5.2 3.1-5.3-1.7 1-4.2 1-5.8 4.5 .5zM206.5 138.4l-.6-4.1 2.7-2 4.8 1.7 3.1 1.4 .7 4.3-3.7 1.5-4.2 0zM213.1 130.3l1.7 1.4 .9 3.9-1.4 3.1-3.3-1.2-1.8-1.3-1.4-4.4 2-1.2zM212 139.2l-4.6-1.1-1.2-1.9-1.4-3.8 1.5-1.5 4.8-.3 3.2 3.4-.7 3.1zM217.8 125.1l1.2-4.5 4.4-1.2 3.5 3.4 1.6 3.8-4.1 4.1-2.7 .6-3.8-1.2zM230 128.7l-4.3 .8-1.8-2.6-1.9-3.7 2.5-2.6 3.5-.8 3.3 .7 2 3.9zM231 122.5l-1.3 3.2-2.1 1.7-2.5-.1-1.3-1.2-.5-3.6 3.2-2.7 2.2-.1zM235.6 125.8l1.2-4.7 5.1 1.8 1.7 4.3 .1 3.8-1.8 5.4-5.2-2-3.2-5.4zM236 129.7l-2.5-1.4-2-4.2 3.8-2 3.1-.8 2.6 2.5 2.1 2.8-2.7 2.9zM230.4 125.9l1.8-5.2 4-3.5 4.3 3.8 2 3.5-.3 3-4 2.2-6.7-.2zM251.1 106.1l1.4 3.3-.7 3.8-2.7 1.9-3.5 0-3.3-3.8 .4-4 3.6-2zM243.1 112.7l2.2-3.6 4.6 2.6 2.4 1.9-.8 4.1-3.4 3.5-4.4-.6-1.3-4.2zM247.1 110.4l1.5-3.8 4-.6 2.9 4.6 .3 3.6-2.5 2.7-5.1 .3-2.4-2.5zM257.7 104.9l2 2.3-.3 3.9-2.5 2.6-4.1-1.2-1.5-2.3-.1-3.5 2.9-1.6zM264.6 110.5l-3.7 1.5-2.4-2.8-1.2-1.8 .8-3.3 3.4-.6 2.5 .5 1.6 3.8zM257.6 98l4 1.9 1.3 4.5-1 5.3-4 1.9-5-.4-1.9-4.7 3.1-4.8zM271.6 115.2l.2 5.9-3.3 3.3-4.4 1.8-3.7-2.5-3.1-5.6 3.3-2.1 6.4-3.5zM263.5 121.7l-2.5 2.6-4.6 1.4-2.7-2.2 .2-5.2 2.8-2.3 5.5 .1 3.4 1.1zM260.9 120.5l2-3.2 3.5 1 1.6 2.5 1.7 2.7-3.3 3-4 1-2.5-2.9zM248.3 136.7l-1.4-3.1 .9-3.5 2.4-.9 3.6 .3 .3 4-1.6 3.5-2 1.3zM247.2 136.5l-.8-2.1-1.1-3.3 3.2-3.4 2.4-1.7 1.8 2.7 1.8 2.9-3.4 3.2zM253.9 137.1l-4.3 0-3.5-3.6-.5-4.2 1.5-5 3.4-.4 4.3 3 .6 5zM242.4 149.2l-5.6 .6-3.5-.9 1.3-5.1 3.4-3.4 4.4 .9 2.4 2.4 0 3.6zM245.2 141.6l-.1 4.5 .3 3.5-3.2 2.6-2.5-1.6-.9-5.2 .8-1.8 2.8-2.7zM233.1 136.6l4.3-2.9 4 .4 1.5 3.5-.3 3.7-2.8 5.5-5-1.7-1.1-3.5zM223 154.4l-7.9 .1-2.1-5.2 0-6.8 3.9-1.7 5.6-1.2 4.7 5.2 .4 6.2zM222.2 150.4l-2.9-3.1 .4-3.4 3.6-4 4.7 1.8 1.4 2.7 .3 4.9-4.1 2.2zM221.3 153.1l-2.8-2.7-1-2.6 2.1-4.7 5 .6 4.7 .8 .8 4.2-3 4.1zM219.4 157.4l5-3.7 5.8-1.5 2.1 3.5-.5 5.7-3.6 3.9-4.7-.4-4.4-4.9zM227.6 156.4l3.6-.1 4 1.6 .5 4.1-2.8 2.3-4.6 .1-2.8-1.2 .7-3.8zM221 165.9l-.7-4.5 2.3-2.1 3.7 2.3 2 1.9 .3 4.8-2.7 1.7-2.5-.4zM219.8 163.1l4.4 5.1 2.6 5.3-2 4.2-4.7 .9-6.1-2.9-.3-5.9 2.3-5.6zM218.5 177.1l-.2-3.5 1.5-2.6 2.8-1.9 2.1 1 .3 3.7-.9 3.5-3.3 .6zM225.2 171.9l-3.9 2.1-5.7-.9-.1-4.2 2.4-7.3 4-1.2 3.4 1.5 .5 4zM237.6 177.5l-3-3.2 1.8-1.4 2.1-1.8 3.9 1 2.1 1.8-1.3 3.7-2.6 1.4zM247.1 189.4l-6.4 .6-3.9-4.5 1.4-4.6 1.4-2.9 7.5-1.8 2.8 3.6-.2 4.9zM233.5 172.8l.9-4.9 6.5 .8 5.2 2.9 1.4 5.7-4.7 2.8-4.8 .3-4.6-2.6zM215.7 172.7l5-2.3 5 0 2 4.2-.1 5.9-6.3 2.9-3.1-1.8-4.9-3.5zM214.3 181.1l-.2-4.7 3.8-1.1 6.8-.7 1.5 2.8 .9 5.2-3.8 .6-6.3 0zM219.1 185.6l-3-2-2.8-1.5 1.5-5.3 2.5-.8 5-.6 .8 2.7-1.4 4.8zM268 110l3.3-4.3 4.1-.7 3.4 5.3 1.8 4.9-4.4 4.3-3.8-.5-5.6-4zM261.8 108.6l2.3-2.8 4 1 4.2 .8 .6 4.4-2.7 2.6-2.6-.4-3.7-.9zM273 117.1l-3.3 2.6-5.2-.2-3.5-2 1.8-5.6 2.5-1.8 4.9 .8 3.6 1.4zM288.1 104.3l-.3 5.6-4.1 .5-6.3 .5-3.5-1.9-1.3-4.7 4.1-3.8 6 .4zM276.3 107.7l-2.9-2.1 1-5.1 2-4.4 5.5 1 3.3 3.3-1.3 3.2-3.4 3.7zM270.9 110.9l-.1-7.9 3-2.7 3.4-1.4 4.4 .5 .8 7.1-3.5 5.6-2.9-.3zM286.6 116.5l-3.9-.9-2.1-1.8 .2-2.5 3.8-2.4 3.2 .3 .7 2.3 .4 2.3zM275.8 106.3l1.8-5.2 5-1.9 5.1 2.4 1.4 5-2.7 4.1-3.2 .5-4.9-1.1zM290.5 107.6l0 4.2-1.3 2.4-3.4-1.3-3-3.4-.3-2.5 3.6-2 2.8-.6zM289.8 97.3l4.6-2.3 4 1.9 1.9 5.7 .5 3-5.5 3.6-5.7-1.3-1.1-6.2zM296.3 100.9l3.6 .7 5.1 1.9-2.8 5-2.5 3.3-4.3 .8-3.2-1.6 1.3-5.1zM295.7 111.9l-4.3-1 1.1-4.3 1.3-3 4.1-1.3 4.5 1.9 1.1 5.4-3.6 3.2zM306.6 100l-.2 3.1-2.3 2-3.8-.3-2.4-2.3 .9-3.2 2.3-3.6 4.1 1zM303.4 85.1l2.9 6.3 0 4.5-5.4 2.7-5.6 .3-1.4-4.9 .6-4.1 3.7-4.9zM305.8 94.3l-1.5 4.7-4.4 0-3.5-2.4-1.2-4.1 3.2-5.1 4.5-.2 2.5 4.8zM303.7 83.3l2.2 5.5-2.7 2.5-3.7 1.1-3.6-1-3.6-6.5 2.8-5.6 5 .9zM300.9 86.4l-1.6 3.4-5.6 2.2-1.9-2.6-1.3-4 .2-4.3 4.7-.1 2.4 .7zM294 89.7l3.6-1.7 4.8 2.3 1.8 4.3-2 2.7-4.6 2.1-4.2-.4-2.7-6.5zM307.8 71.3l1.6 5.2-4.8 3.9-6.2-1.9-1.9-2.9-2-6.4 5.2-.5 4.8-.9zM311.3 66.8l2.4 2.5 1.1 4.6-1.7 4.7-3.9 .7-4.1-2.1-1.7-3.8 2.1-4.4zM306.5 66.3l-1.3 4.2-2.1 1.1-3.8 .4-2.1-3.1 1.6-2.1 2.6-1.9 3.2-1zM272.7 88l-3.8 1.5-4 .8-1.6-3.7 1-3.5 3.3-1.7 3.9 0 1.3 3.4zM264.3 75.7l3.4-.7 4.6 2.4 2.2 3.5-2.1 3.4-3 2.2-2.8-2-3.1-2.9zM263.1 81.6l0-3.2 2.9-3.7 3.6 .6 3.6 1.4-.3 4.4-2.4 2-4.5 .1zM259.3 96.7l-3.6 1.8-4.1-.3-3.2-1.7-.5-4.9 2.6-3.4 3.1 2.2 4.9 2.2zM257.7 87.2l2.9-1.6 3.5 2.8 .3 2 .2 3.3-3.4-.2-3.7-1.6-1.8-2.4zM260.9 92.1l-2.9 3.3-2.4-1.8-.6-4.2 .7-3.2 3.1-1.7 2.9 .1 .4 4.4zM279.4 126.2l4.2 4-1.7 2.9-2.8 3.7-4.9-3.1-3.2-1.3 .2-4.9 4.7-2.8zM271.5 123.2l6.3-.5 3.8 3.4 1.2 4.8 0 5.1-4.4 1-5.5-2.8-1.6-6zM276.9 134.3l-3.5-1.6-1.9-5 .8-3.4 3.6-2.3 3.5 1.8 .5 5.3-1.5 2.8zM290.9 143.5l-4.9 .9-3.2-6.5-.4-4.4 4.9-3.5 5.9-1.8 1.1 6.4 0 5.5zM288.2 126.4l2.2 2.7-.8 2.3-1.8 1.1-2.3-.1-3.3-2.4 .2-3.6 2.6-.8zM283.8 134.1l2.4-2.7 3.3 .9 3.6 1.4 1.2 4.9-2.2 3.1-4.1-1.5-3.8-1.5zM291.3 137.5l.8-4.2 3.3-.1 3.5 .2 2.7 3.8-.9 3-4.4 2.9-5.7-1.8zM294.9 148.4l-5.7-2.3-.7-4.7 .1-4.7 4.1-1.6 5.6 3 2.7 3.8-1.5 4.8zM301.7 136.1l3.7 .5-1.1 3.7-1.9 3.9-3.5-.3-2.2-1.8 0-2.7 1.5-1.8zM275.2 135l3.3 3.1-.1 4.2-3.7 .5-4.5 .1-4.2-3.6 1.2-4.7 4.6-1.2zM270.1 138.5l4.3 .4 2.9 .5 2.9 5.2-2.4 2-3.6 1.2-3.6-1.5-.8-3.3zM275.6 138.6l1.5 1.8 .5 3.6-2.8 4.5-4.7-2.2-2.7-1.2 0-5.7 4.2-2.1zM308.3 141.9l-.7 3.6-1.8 3-5.3-1.4-3.4-1.6-1.5-5.4 3.5-1.3 4.8-.1zM315 143.2l1.4 5.2-4.4 2.8-6.3 1.7-4.6-5-.8-5.6 5-1.4 6.3-1.5zM305.4 148.4l-2-4.4 .5-3.5 2.2-4.6 5.3 1 2.8 1.9 .6 3.3-3.4 4.1zM321.3 150.5l-2.6 3.2-3.7 3.5-1.4-2.7-.9-3.8 1.9-3.4 3.5-2.8 3.7 2.3zM316.7 149.8l-4.3 .2-2.5-1.9-2.5-2.6 2.1-2.9 4.1-1.8 3 2.6 1.4 2.5zM313.1 146.2l3.7 .5 4.2 3.2-.1 3.9-3.4 2.4-3.3 .1-2.3-1.2-1.8-4.9zM334 153.3l-5.5 3.5-6.7 .3-.9-4.2 1.7-4.3 3.9-1.6 6.7-1.8 2.4 3.2zM324 143.6l3.8 1.7-.6 3.3-2.1 3.6-4.1 1.5-4.8-1.9-.4-2.6 2.7-3.8zM322.9 152.9l-4.3 1.1-2.9-2.4 0-3.3 2.9-2.5 2.8-1.3 2.5 2.4 2.1 3.9zM326.4 153.3l1.5 4.9 .1 3.9-4.7 .2-5.6-.7-2.5-4.2 .5-2.9 5.3-.9zM322.5 157.3l-1.6 3.9-5.4 1.4-3-3.6 .6-2.6 1.5-5.3 4.8-.4 3.5 1zM312.1 157.7l2.1-3.1 2.9-.5 4 2.1-.1 2.7-.6 4.3-3.6 .7-3-1.1zM339.1 165.3l-6.7 2.6-2.7-2.7-4.3-4.2 2.1-4.2 4.4-1.5 3.6 1.1 2.8 5.6zM327.1 153.6l3.5 .7 1 5.2-1.3 4.4-4.1 1.3-4.6-2-.9-5.1 .2-3.5zM337.4 157.4l2.6 2.9 0 3.6-2.9 3.1-5.8 .8-1.9-1.9-.1-3.8 3.7-4.4zM337.4 162.7l3.7-.8 2.6-.1 4.4 2.5 .4 2.7-2.2 2.5-3.1-.3-4.8-1.3zM343.5 161.1l.8 2.6-2.1 2.5-4.7 .9-3.7-3.2 .1-2.4 3.5-1.9 2.9-.3zM337.5 172.6l-1.7-1.9 .8-4.7 2.9-3.1 2.9 .3 2.6 2.9-.5 2.2-2.9 3.6zM302.8 168.3l3.6-3.3 2.9-1.2 4.4 .8 0 5.3-1.6 3.8-4.1 4.2-2.9-3zM312.5 169.4l.8 3.5-2.9 3.2-3.6-.7-3.3-3.3-.5-4.6 3.1-2 4.2 1.6zM310.4 174.7l-4.4-1.3-3.1-2.8 .1-3.4 3.4-5 5.1-.2 3.4 4.2-2.1 4.3zM295.6 160.9l-.4-4.5 4.6-2.1 5 1.8 .4 4.4-1 2.9-4.4 3.1-3.4-.4zM302.6 155.1l2.5 2.3 3.4 3.5-.4 6.2-2.8 3.9-5.7-.2-2.1-5 .1-5.1zM297.9 158.1l2.7 2.5 .7 2.8 0 2.3-4.1 1.1-3.1-.2-2-2.7 1.6-3.4zM345.6 150.7l4.1 3.2 .2 2.3-1.6 3.9-3.9-.5-3.3-2-1.9-3 2.4-2.2zM345.3 151.5l5.4-1.5 3.7 4.1 1.5 5.6-3.4 4.6-7.5-1.2-4-3.5 1.7-6.3zM347.7 150.8l2.9 .8 3.4 4.8-2.6 4.2-5 1.1-2.6-.2-2.2-4.8 1.2-4.4zM352.8 161.7l5.6 .7 2.8 3.8-1.1 2.9-6.2 3.2-5.1-2-1.4-3.9 .7-3.4zM348.1 162.5l.5-6.4 2.7-4.6 4.5 2 4.1 .1-1.8 6.6-2.8 5.5-3.4-1.6zM353.4 165.6l-3.2-3.9 .9-5.4 4-4 4.4 .9 2.2 3.8-.9 4.8-3 3.8zM347.7 106l-2 3.1-6.8 4.1-3.4-1.9-1.1-7 2.1-5.7 3.9-.9 4.9 2.8zM347.3 116.8l-3.5-3.7-3.3-3.9 3.5-3.1 3.6-2 5.4 2.2 1.1 3.2-2.8 6.5zM350.7 110.4l-2.6 2.8-2.4 1.7-4-1.6 .4-5 .8-2.8 3.7-1.6 3.5 1.1zM346.3 91.4l4.3 1.5 1.2 4.8-2.6 3.2-4.2-.4-2.4-1.8-2.9-2.8 2.6-4.9zM352.9 84.7l2.1 4 .8 4.4-2.4 2.8-3.1-.7-3.3-2.8 .7-5.1 2-2zM349.1 93.2l1.7-3 3.8 .8 3.6 1.8-.8 2.4-3.1 2.4-3.3 .4-3.3-1.9zM361.9 96.9l-5.2-1-3.6-3.2-2.4-5.2 4.1-.8 3.2-1 3.9 3.2 2.2 4.4zM360 93.4l-3.3 1.9-3.4-.4-3.5-2.9 3-4.9 3.8-1.7 3.8-.1 2.4 5.2zM363.2 101.2l-3.5 1.6-2.6-.4-3.3-3.5 1.5-4.9 2.6-2.2 2.4 2.3 2.6 3.2zM336.8 103.1l-5.6 .1-5.1-6.1 1.8-5.2 4.1-2.1 5.5-.8 2.9 5.7-.2 3.6zM329.7 105.6l-2.7-3.5 3.4-7.4 3.6-.3 6.6 .6 1.3 5.6-1.9 6.4-4.1 .5zM341.4 103.5l-.8 2-4.3-.2-2.3-3.3-2.2-3.2 3.2-2.8 3.9 .6 2.9 3.1zM322 102.3l-1.3 4.9-2.8 6.6-3.4-2.2-3.9-3.4 .3-4.1 3.1-6 3.5 2.2zM307 101.7l2.5-3.5 1.7-3.4 7 .1 1.3 5.2 .2 3.8-3.1 2.4-5.1-.1zM317.6 108.5l-1.5-2.3-.2-4.2 3.2-2.5 6.6 1.5 3.3 4.4-1.6 2.1-3.9 2.3zM316.1 81.9l-4.5 1.1-3-.8-1-3 1.6-3.6 4.8-.5 4.4 1.2-1 3.5zM307.1 78.6l1.3-1.9 2.8-1.3 1.2 2.3 1.5 5-1.6 1.9-3.6 .2-1.8-2.6zM310.1 76.6l1.8 3.5 .6 3.7-2 2.1-3.2-.9-2.6-1.7 .5-3.8 2.6-1.5zM364.8 80.1l5.8 2.7 .2 4.5-2.1 3.7-4.5 1.3-3.5-1.6-1.4-5.7 1.8-3.3zM364.8 86.2l-3-3.7 1.3-4.7 4.3-2.9 3.7 3.3 3.3 3.8-.8 4.8-5.8 1zM367.6 82.9l3.6-3.9 5.1-.8 3 2.6-1.1 5.3-3.5 2.9-3.6 1.3-2.4-1.9zM346 115.9l5.4-.1 .8 3.2 .8 4.1-3.3 1.7-3.6 1.4-2.3-2.1 .2-5.2zM342.1 113.5l6 2.1-1.6 4.1-1.1 5.1-5.6 .4-3.5-1.8-.8-3.1 2.7-2.9zM338 124.8l1.1-3.6 4.1-2.1 4-.1 3.3 1.7-2.1 5.1-2.2 2.7-4.2 1.1zM353.6 142.5l-2.6 3.5-5.8 .9-3.6-2.6-.7-3.2 1.1-4.5 5.9-.2 3.7 1.2zM347.8 134.2l4.2-.2 2 4.1-.1 3.9-1.8 4.4-2.5-1.8-4.1-2.1 .2-5.6zM352.8 140.5l-3.7 1.5-3.6-4.2 .2-3 3.7-4.9 3.4 0 2.9 1-1.7 5.5zM356.4 148.2l-5.2 .3-3.7-3.7 1.4-3.6 6.9-1.3 5.1 .5 1 3.3-.2 3.6zM348.4 146.7l1.1-2.5 3-2 4.1 1.2 2 1.9 .4 4.5-4.2 .5-4.3 .2zM353.8 144.6l3.3 4-.8 2.4-2.8 2.9-4.1-1-2.5-3.1-.7-4.7 4-.9zM372.2 159.8l6.2 .9 3 4-2.3 3.4-2.1 2.8-4.2 1.3-2.5-4.1-2.3-3.8zM383.3 163l-1.1 4.1-4.7 1.6-3-3.3-3.9-4.3 1.7-2.6 4.7-1.1 4.3 3zM385.3 169.7l-2.3 1.8-4.1-.6-2.1-1.2 1-3.3 2.4-1.7 3.4-.2 3.2 2.7zM431 134.1l3.9-.5 2.7 1.6-.3 5.1-2 4.1-3.8-1.5-2.2-1.6 .2-3.6zM429.6 147l-3.1-1.5-3-5.1 .9-4.6 5.8-.5 3.5 1.3 2.5 4.1-1.5 7.5zM440.9 139l-1.9 4.2-4.8-.5-2.7-1.9-2.1-4.9 3.5-3.8 3.1-.5 3.1 3.4zM434.3 140.1l2.2-3.4 4.6-2 3.6 2 0 5.8-2.5 3.2-4.5 1.4-2.7-3.7zM443.2 138.5l-1.8 4.2-4.5-.8-3.3-2.6-1.2-6.6 3.1-1.4 4.2 .1 3.3 2.2zM435 135.6l1.8-3.7 4.6-1.8 3.6 3.5 0 4.2-2.4 2.6-4.2 1.4-2.9-1.9zM450.6 134.4l-2.6-3.6-.3-3.5 3.1-2.5 2.3-.5 3.1 1.7-.9 4.7-2.4 4zM452.9 137.6l-2.3-2.3 .2-3.5 3.9-1.2 3.3 0 2.9 2-.7 4-4.5 1zM447.3 132.2l-1.1-4.7 6.9-.5 4.4 .6 3.1 3.9-3.3 5-4.2 3.7-7-1.9zM433.4 107.7l4 1.6 1.6 3.1 .5 2.8-3.1 .6-2.8-.1-1.9-3.1-.6-3.6zM439.9 104.5l-1.2 3-2.2 2.2-3.5 .9-1.7-2-1.1-2.7 2.7-2 3.7-1.1zM426.4 107.7l3.6-5.3 4.9-3.9 3.2 2.2 2.6 4.7-2 4.1-4 2.6-6.8-1zM453.2 111.4l-2.4 2.8-3-2.2-1.7-3.9 1.1-3.4 3-1.9 2.9 2 1.7 2.8zM451.3 102l2.6-2.5 2.5 .5 5 2.5 .2 4-3 2.3-4.5-1.1-4.3-1.8zM460.9 107.8l1.2 2.7-2.3 3.6-4.7 .5-2-1.7-2-2.6 2.6-3.9 3.1-.3zM445.7 99.9l-4.2 .4-4.2-3.4-.4-3.2 1.9-4.3 5-1.1 5 2.4-1.2 4.3zM440.1 93.3l3.6-4.5 3.8-1.7 3.5 3.8-1.3 3.2-3.2 4.8-3.3 1.7-2.6-3.4zM444.8 92.6l-2.5-3 .6-3.2 3-2.5 3.7-.6 .7 2.6-.6 4.2-1.2 1.4zM459.3 114.3l1-2.3 2.1-.9 3.2 2.6 .4 3.3-1.5 1.5-2.3 .3-2.2-1.2zM463.9 119.8l1.4-3.4 4.6-.3 2.7 3 2.7 4.2-1.6 5.9-3.4-1.5-4.3-1.3zM466.3 116.6l-3.2-4 2.6-2.9 3.7-.5 3.9 1.9 3.2 4.1-3.9 3.3-4.2 .1zM446.4 162.7l3-4 3.5-2.1 4.7 1.4 1.8 3.9-2.4 4.3-5.2 1.2-4.6-1.2zM457.1 160.3l.4-3.2 2.3-3.2 2.8-.2 2.7 3.2-.8 3.5-2 2.3-2.6 .9zM463.4 164.1l-3.6 .2-4.4-3 .9-3.5 1.9-5 3.6-.2 4.2 2.1 .8 5.3zM418.1 160.4l2.1-2.8 1.6-2.1 3.1 3.3 1.1 2.6-.9 3.1-2.7 .4-2.9-1.3zM419.9 157.8l-3.4-.4-2.3-2.2 3.2-5.2 4.7-.6 3.7 .3 2 3.2-1.8 3.5zM431 161.4l-5 2.7-4-1.7 0-3.3 2-4 2.7-.2 4.4 .7 .6 2.6z"/><path class="b0" d="M13.2 138.7l1-3.2 1.9 0 2.3 1.6 .6 3.2-1.3 2.2-2.2-.7zM-.2 130l1.5-1.1 3.8 1.1 1.1 2 0 2.4-3.3 .1-2.4-1.9zM8.2 135.2l-.7 2.9-2.6-.7-.7-2.4 .7-2.4 1.5-1.5 2.1 1.5zM12.6 117.5l.8-3.6 2.5-2 2.8 1.5 1.1 2.5-.2 2.7-3.1 .6zM17 149l-1.9-.4-1.6-1.6 .2-2.6 2.7-.5 1.6 .2 .4 2.4zM26.7 144.3l1.3 2.1 0 3.4-2 1.8-2.3-.9-.5-3.6 .7-3.2zM39.8 162.8l-.6 1.9-2.4 .5-2.2-1.3 1.2-1.8 1.7-.9 2 .1zM47.5 159l.8-2.4 .9-2.7 3.6-.6 1.9 2.8-2 2.5-2.3 .9zM6.9 167.6l2.6 2.9-1.4 2.2-2.5 .8-2.6-2-.5-2.5 2.3-2.2zM17.8 175.3l-.4-2.9 2.7-2 1.9 .9 2.8 1.7-2.3 3.5-2.5 .3zM23.6 185.8l0-2.6 1-1.6 2.4 2 1 2.2-.8 2-1.6 .3zM57.2 106.7l.1 1.7-1.1 3.2-3.5 .2-2.3-2.8 1.1-3.7 2.8-.5zM84.4 87.3l-1 2.8-1.9 1.1-1.9-1.2-.3-2 1.5-2 2.5-1.1zM93.1 99.1l-3.1-2.3-.8-2.5 3.2-3.4 3 1.7 1.4 2.1-1 3.7zM95.7 97l-2 0-1.7-1.2-.2-1.9 1.9-1.2 2.2 .8 .3 1.3zM99 100.6l-2 .1-1.3-1.8 1.2-3 2.3-.5 1.3 .6 .1 2.9zM131.7 93.7l-.3 3.8-2.3 1.6-2.8-.4-.5-3 1.4-1.8 1.8-.8zM132.7 98.6l-2.3 2.4-2.7-1.3-.5-3.6 2-2.8 2.9 .6 2.6 1.7zM113.1 112.8l-.8 2-2.2 .9-1.8-1.3 .1-1.6 1-1.7 2.7 .2zM75.2 132.3l.4-1.4 1.8-1.2 1.6 1.7-.1 2.4-1.4 .8-1.9 .2zM76.2 145.9l-1.4 1.2-1.4-1.2 .2-1.7 1.3-2 1.1 .3 1.1 1.8zM84.2 136.4l-1.5 1.3-2 .1-1.5-1.2-.2-2.1 2.1-.1 2.1 .6zM106 138.7l.5-2.6 1.8-1.1 3.3 1.9 1.2 2-1.4 1.5-4-.6zM99.4 140.2l2.3 2 0 3.2-1.6 2.1-3.8 .5-1.9-3.8 1.2-2.7zM94.7 155.7l1.6-1.3 2 .9 .9 2.3-.5 1.8-2.1 .2-1.3-1.2zM96.9 153.6l1.9-1.2 2.6 1.3 .6 3.2-1.8 1.6-2.6 .2-2.2-3.3zM72 167.2l-1-2.6 1.1-1.3 1.6-.5 .9 2.2 .1 1.8-.9 .6zM66.3 171.3l1.5 2.8-2.3 2-1.7-.2-1.6-2.3 .1-1.9 2.1-1.5zM71.3 171.8l-2.3 .7-2.7-.8-.6-1.7 2-1.4 2.1-.6 1.9 1.6zM87 185.1l-2.3-1.2-.9-1.6 2-3.2 2 .1 1.6 2.2-.1 2.9zM110.2 148.7l1.9-.4 1.8 2.2-.3 2.1-1.5 2-2.2-1.2-.5-2.7zM168.8 85l2.9-1.8 1.9 2 .7 2.8-2.5 3.3-3.3-1.1-.1-2.5zM178.1 124l1.1-1.5 1.1-1.4 1.6 1.4 .4 2-1.2 1.9-1.7 0zM197.4 127.4l-2-1.6 0-2 2.4-2 2.1 .3 1.1 2.6-1.3 2.8zM195.9 128.3l-1.8 1.1-2.7 0-1.9-2.3 .5-1.7 2.6-1.1 2.3 1.5zM196.7 145.4l.7-2.1 2.6-1.5 3.7 .5 .9 2.8-.6 2.2-3 .2zM197 145.5l.3 1.8-.4 2.1-1.6 .7-1.6-.7 .5-2.5 .8-1.5zM187.5 137.9l-2.8 3.1-2.5-1.3-2.3-2.1 1-3.8 4.1-.7 1.7 2.5zM174.6 156l.9-2.1 1.3-.5 1.3 2.3-.1 1.7-1.7 1.1-1.6-1zM179.3 146.7l-2.7 .7-2-2.3 .3-1.9 2.6-1.4 1.8 1.4 .8 2.1zM171.1 150.4l1.8 1.5 .5 2.9-1.4 1.3-2.4 .2-.4-2.7 0-3.1zM176.9 164l-.9 2.6-2.6 .5-2.4-1.4 0-2.9 1.9-1.9 2.6 .7zM170.7 154.6l1.2-1.8 2.1 .9 1.5 2.3-1.2 1.7-1.9-.5-1.5-1.2zM141.3 168.7l-2.5-2 .3-3.3 1.5-2.2 2.5 1.3 1.2 2.7-.4 3.6zM149.8 169.2l1.1-1.2 1.4-.3 1.1 .8 0 1.9-1.5 1.1-1.7-.6zM148.4 167.6l1.8 2.1 0 1.9-2 1.3-2-.6-.8-2.1 .5-1.8zM138.6 181.7l1-3.3 2.2-.2 2.5 2.1 .9 4.1-2.5 1.2-2.3-1.3zM144.7 173.1l2.8-1.3 2.9-.1 .3 2.1-1.5 1.7-2.7 .8-1.4-1.5zM152.9 172.1l2 0 2.1 1.5 0 2.1-1.9 1.3-2-.5-1.6-2.4zM213.7 132l2.5 2.1 1.2 2.1-2 2-2.2-.3-2-3.1 .3-2.1zM215.6 128.2l1.9-.6 2.4 .4 1.5 1.4-1.8 2.2-1.5 .1-1.9-.9zM219.2 119.6l1.8 .3 1.4 2.3-1.9 2.2-2.2 .2-1.6-1.6 .3-2.1zM239.3 121.8l3.1 .2 1.3 3.3-.1 2-3.6 2-2.3-2.6-.1-2.9zM248.8 119.9l-2.3 1.3-2.2-.1-.3-1.3 .8-1.4 2.3-1.5 1.1 1.5zM255.6 110.4l1.5-1.1 2.6 .3 1 3.3-.9 1.2-2.2 0-2.2-1.4zM264 119.2l-2-1.3-.6-1.9 .1-2.5 3.1 .3 .9 2.2 .1 2.7zM269.5 117.1l-.2 1.8-2.6-.1-1.3-.3-.2-2.3 1.6-.8 1.8 .6zM265.6 114.3l-1.7-4.1 1.7-1.3 1.2-.3 1.8 1.8 .8 3-2 .9zM262.6 135l-3.3 1.5-2.3-1.2-.4-3 2.1-2.2 2.1-.1 1.9 2.5zM259.8 138.1l-2.5 1.8-2.6-.7-1.3-2.8 1.5-2.6 2-.6 2.5 2.6zM234.9 139.6l-2.4 1.5-3-.8-.1-1.8 1.5-2 2.3-.2 2.1 1.4zM217 140.7l1.9-.4 2.6 .9 1 1.5-1.9 1.9-2.1 .6-2-2zM222.4 159.3l1.3-1.1 2.3-.5 1.2 1.5-.9 1.6-1.7 1.2-1.8-.9zM249.2 184l-1.9 1.1-1.1-1.8 .2-2 1.7-.9 2.2 .5 1 .9zM240.1 180.5l-1.5 1.5-1.8 .2-1.2-1.4 .3-1.7 2.2-1 1.2 .7zM265.4 108.4l-.7-2 .4-1.7 1.4-1.2 1.9 1.6 0 1.7-.8 1.8zM281.8 107.2l1.6 1.7-.9 3.3-2.7 1-2-2.1-1.4-2.7 2.7-1.5zM299.7 104.4l1.8 1.8 1 2.3-2.3 2-2-1-1.6-1.6 .9-2.5zM298.3 89l.6 3.5-2.3 1.5-3.1-1.5-1.6-2.5 .6-2.1 3.3 0zM305.2 72.4l-2.4 .8-2.1-.3 .3-2.6 1.3-1.8 2.4 .2 .9 1zM275.1 84.9l2.9 1.6-.1 3.9-1.2 2.8-2.8-.8-2.5-2.5 .6-3.4zM268 78.3l1.6-2.3 2.4-.4 1.3 2.1-.3 2-1.9 1.5-2.9-.3zM268.9 72.2l2.3-1.7 2.2 3.4-.4 2.7-1.8 1.7-2.2-1.7-1-2.5zM262.7 99.5l-2.4-2.1 .2-1.6 1.3-2.5 2.4 1.1 1.1 2.3-.3 1.6zM266.6 125.6l0-2.3 2-.9 1.1 .5 .6 2.8-1.1 2.1-1.6 .2zM266.6 121.5l1.8-2.6 2.6-.1 2.9 .6-.7 3-2.1 3.2-3.4-1zM270.6 119.4l1.8-1.7 2.3 .9 .8 2.4-.7 2.4-2.9 .7-1.4-1.1zM284.7 131.9l-2.2 1.8-1.7-.6 0-2.5 1.8-2.2 2.4-.1 .7 1.5zM304 137.7l-2.1-1.1 .9-2.9 2.9-.4 1.7 .5 .8 2.1-1.6 1.6zM312.5 142.9l-.4 2.9-1 3.3-2.3-1.1-1-2.1 .3-2.5 2.8-1zM311.9 152.9l-3.4-.8-1.7-1.7 .6-4.3 4-1.2 2.1 1.6 .4 3.2zM329 139.9l1.2 1.5-1 2.5-2.5 .8-1.2-1.6-.3-3.5 2.1-.9zM325.6 168.4l-2.6 0-1.2-2.4 1-2.7 2.4-1.4 3.1 1.7-.2 2.2zM338.1 173.1l-2.7 1.3-3.6-3.1-.1-2.5 1.6-2.6 2.5 1 2.8 3.2zM311.9 161.6l-.1 1.9-1.1 2.1-1.9-.2-1.7-2-.1-1.7 2.5-1.1zM314.6 167.7l-.7 2.6-2.1 .8-1.7-2 .2-2 1.1-1.4 2 .7zM313.1 173.8l-.5-2.9 .3-3.4 2.7-.2 1.2 2 .8 3-2.1 2.3zM308.4 173.9l1.5-1.9 3.3-1.1 1.6 2.3 0 2-2.2 1.5-3.2-.3zM308.4 165.5l-1.2 1-1.7 0-1.5-2 1.2-1.6 1.6-.6 1.3 1zM304.9 165.8l-2.5-1-1.5-2.7 .5-1.9 3.1-1 3.2 1.8-.5 2.6zM350.4 157.9l2.3-.5 2.2 .8 .3 2.7-1.3 1.6-2.6-.3-1.7-1.9zM354.6 157.4l1.7-2.2 2.1 1 .6 2.4-1.7 2.2-1.9 1-1.6-2.2zM361.8 169.7l-2.3-1.6-.9-2.2 .6-1.8 2-.2 2.6 2.3 .4 2.6zM351.4 101.7l-2 2.1-1.9 .4-1.9-1.1 .4-2.2 2.6-1.2 2.5 .2zM348.5 119.2l-3-1.8-1.5-2.3 3.1-3.2 2.6 .2 1.9 3-.9 1.7zM362 91l2.7-.8 2.1 1.1 .9 2.8-1 3.1-4.8 .2-.9-2.9zM325.6 102.5l-1.6-1.6-.3-2.1 1.1-1.1 1.8 .5 .8 1.7-.3 2.5zM311.4 84.8l-2.4 1.5-2.2-1-.3-3.4 1.5-.8 2.9-.6 1.3 1.8zM337.8 126.4l1.6-1.8 3.6 0 2.3 1.9-3 3.2-2.1 1.8-3-1.8zM340 119.4l.1-2.2 1.2-.2 2.3 .5 .8 1.3-.8 1.8-1.3 .4zM346.2 133.3l1.4-.5 2.9 1.4 0 2.5-2.5 1.7-1.6 .1-1.2-2.1zM382.5 161.9l-.9-3.2 .7-2.3 2.5-1.5 1.8 1.1 .4 2.7-2 3zM457.3 136.7l0 2.6-1.7 .6-2.1-.7-.2-1.8 1-1.7 1.5-1.1zM437.8 105.9l-3.2 1.1-2.8-1.8-.2-3.3 2.8-1 3.2 1.1 1.2 1.9zM441.2 115.1l-2.5 1.7-2.7-2.1-1.3-3.3 .8-2.8 3.9 1 1.2 1.7zM457.1 114.1l-1.6-3.1 2.2-1.7 2.8-1.4 1.8 2.7-1 3.1-2.1 .3zM468.7 117l-1.8-1.5 .9-2 2.4 .1 1.4 .7 .8 1.2-1.7 1.4zM459 160.6l3.6-.6 1.6 2.2-1.5 2.3-2.9 1.8-2.6-.9-.7-1.9zM416.1 146.9l2.5 .8 2.1 1.8-1.1 2.3-2.1 1.4-2.8-1.5-.1-2.3z"/><path class="b1" d="M13.7 153l-2 1-2.2-3.1 0-2.9 1.9-1.6 4.1 1.9 .2 2.4zM17 151.4l2.1-.8 1.4 1.1-.2 2.4-1.9 1.6-1.8 0-1.3-2.3zM10.4 165.6l-2.5 .2-3.2-1.1 0-3.2 3-1.7 3.7 1.4 .2 1.7zM10.3 158l1.7-1.3 2.8-.1 1.6 2.5-1.1 2.6-2.7 .8-2.4-2.1zM8.8 168.4l-1.1 2.9-2.8 .8-3.2-1.5-.2-2.9 2.5-2 2.9 0zM21.9 163.1l-1.3-1.7 .6-2.2 1.9-1.1 1.9 1.6-.1 1.7-1.4 2.4zM29.2 143.3l1.6 2-1 2.2-2.6 1.6-3-1.1-.1-2.9 2-1.4zM36.8 154.9l1.8 2.6-1 2.9-3-.3-1.6-1.2 0-2.9 1.9-1.2zM50.9 162.5l1.4-2.8 1.7-1.2 3.6 .5 .2 3.8-1.3 1.7-3.2-.3zM60.2 109.6l2.3-1 2.6 0 .5 3-.9 2.4-2.7 1.1-1.7-2.6zM62.1 99.9l1.2 1.5 .7 1.9-1.5 2.1-1.4-.8-1-1.5 0-2.9zM84.5 90.1l-2.6 .2-.6-2.5 1.1-2.8 2.2 .4 1.5 1.1 .8 2.4zM78.3 91.2l-1.1-2.4 .1-2.3 3.1-.7 2.7 1.1 .6 2.3-2.7 1.5zM93.5 87.7l3.1 3-.8 2.7-1.4 2.1-2.7 .9-2-3.5 1.5-3.8zM91.7 102.8l-1 1.9-2.5 .4-2.1-1.6-.3-2 1.7-1.3 2.8 .5zM101.7 90.9l2.6 .8-1.2 3.7-2.7 1.9-2.8-.9 .1-2.5 1.1-2.8zM118.8 98.4l1.5-4.3 3-.6 2.1 1.3 .6 2.7-2.5 2.6-3.1-.5zM128.3 87l3.8-1 2.2 1.8-.3 2.3-3.2 3-3-1.4-1.4-1.8zM124.8 87.5l-2.9-1.9 .9-2.2 1.7-2 3.4 1.4 1 1.9-1.9 2.5zM99.1 103.5l1.1 0 1.5 1.8 0 2.2-1.3 .5-2-1.7-.4-2.1zM113.5 114.1l-2.5-.1-2.2-2.2 .4-2.2 1.7-.9 2 1.1 2.3 3.4zM108.1 100.2l1.9 .3 1.2 1.1-.9 1.4-2.6 .8-2-1 .2-1.5zM70.5 127.4l-.2 2.8-.4 2.2-3.2 .6-1.6-2.5 0-2.8 2.7-1.3zM75.6 147.3l-1.6-1.5 .3-1.2 1.9-2 2.9 .7 .6 1.4-1.1 2.4zM87.8 135.4l-.2 2.4-2.8 2.1-2.4-.8-1.1-2.3 1.6-3.1 3.3 0zM81.8 156.7l2-2.3 3.6 1 1.1 2.6-1.7 2.3-2.3 .2-3-1.1zM84.9 160.5l3.3 .4 1.3 1 1 2.5-3 .5-2.2 0-1.5-2zM72.5 175.2l-2.6 1.5-2.5-.5-1.3-2.3 .1-3 3.5-.5 1.7 1.1zM86.8 187.9l-2.3-.8-1.3-2.1 .8-2.1 1.9-.1 1.6 1.4 .2 1.9zM83.5 176.4l-1.1 1.5-1.9 .1-1.4-2.1 .1-1.5 1.6-.8 1.5 .3zM94.4 186.8l-1 1.3-2.9 .2-1.2-1.7-.4-1.8 1.8-.9 2.2 .4zM115.2 172.3l-1.5-1.4 .3-1.5 1.7-1.7 2 .2 .3 1.3-.7 2zM120.3 169.6l-2.7 0-1.7-1.4 .6-1.8 2.6-.4 2 .4 .8 1.9zM118.2 174.4l-4.1-1-1.6-2.6 1.9-1.8 2.9-.2 1.8 1.5-.1 2.4zM125.2 158.9l-1.9 3.6-3.3 1.4-2.1-1.6 .2-3.7 2.4-2.5 2.2 .8zM175.3 96.3l-1.4-2.2 2.9-3.2 3-.5 2.2 2.8-1.7 3.2-2.1 1.2zM168.1 117.3l1.5-1.4 1.4 .5 1 1.5-1.3 2.5-1.2 .3-1.8-.9zM182.5 123.4l-2.1-2-.3-3.2 2.3-.8 2.3 .7 1.9 1.3-1.7 3.4zM180.1 127l1.2-2.3 2.4-.6 2.2 1-.5 2.1-1.1 1.2-2.9 .7zM192 131l-2.6-.1-3-.5 .3-3.8 1.8-1.2 3.2 .8 1.5 1.9zM192.5 131.8l1.7-1.2 2.9 .1 1.6 3.2-1.9 2.3-3 1.5-2.2-2.5zM200.1 144.3l-.7-2.5 2.6-1.6 3.3-.4 1.2 3.2-1.6 1.8-2.6 .9zM196 138.9l-1.2 1.5-2-.7-1.6-1 .3-1.9 1.8-.8 2.3 .9zM185.5 157.6l-1.6-1.7-1.5-1.6 2.7-2.1 2-.7 1.2 2 .7 2.6zM159.7 158.5l2.8 1.6 .1 2.7-1.9 1.9-2.3 0-1.4-3 .4-2.5zM157.4 165.5l-1.8-1.3-.3-2.3 1.1-2.5 2.3 .4 1.6 1.9-.7 1.9zM149.6 174.3l-2.2-1.6-1.3-1.9 1.9-1.9 1.7-1 2.1 2.3 0 1.5zM152 166.8l.1 2.2-3.1 1.7-2.4-.2-.6-3.6 1.5-1.5 2.4-.7zM134.2 183.6l2.3-.8 2.8 1.5 .1 2.6-2.7 2.1-4-.6-.7-3.1zM131.8 182.3l.4-1.8 1.2-.7 2.9 1.1 1 1.9-.8 1.5-2.3-.2zM213.4 140l-1-1.8 3.4-1.5 2 .3 1 2-.8 1.5-3.4 1.2zM207.1 129.2l-2-.9-1.1-1.7 .9-1.6 2.7 0 .7 1.4 .5 2zM217.5 137.4l-1.6-2.6 1.8-2.5 2.7 .1 2.7 1.3 0 2.6-2.1 1.5zM244.3 110.1l-.1-2 1.1-1.5 2.1-.3 2 1.5 0 3.1-2.7 .2zM253.4 131.8l-1.3-3.1 1.5-2 3.3-1.8 1.5 3.2 0 2.1-2.9 2.9zM230.3 137.7l2.1-.7 2.7 1.3 1.5 3.6-1.9 1.4-3.7 .5-1.9-1.8zM239.6 141l2.3 2.1-2.3 2.3-3.1-.7-2.5-1.8 1.3-2 2.7-.5zM236.9 145.9l-2 1.2-2.2-1.9-1-1.9 .9-2.3 2.8-.2 1.4 1.4zM214.2 151.8l3.3-.9 2.3 2.7 1.2 2.8-3.1 1.5-3.2 .4-1-2.5zM225.5 149.3l3 .4 .5 2.7-1.3 1.8-3.4-.1-2.1-1 .2-2.8zM230.6 160.9l3.4 .7 1.2 2.9-1.8 2-2.8-.5-2.8-1 .7-2.8zM231.9 160.2l-2.5-.6-1.6-1.9 1.7-1.3 2.2-.9 2 1.9-.3 1.3zM219.1 176.2l-1.7 .4-2.3-.8 .3-2.3 2.2-2.2 2.8 .7-.1 2.2zM218.8 173.4l2.4 1.6 .9 2.8-1.7 2.4-3.5-1-1.9-1.9 1.3-3.1zM218.7 183.5l-2-.6-1.1-2.4 1.3-2.7 3.2-.5 1.9 2.4-.9 2.3zM269.9 102.9l1.2 1-.4 2-1 1.2-2.2 .9-1-1.8 .7-2.4zM278.9 112.8l-2.6 .8-4.3 .5-1.1-3.2 1.9-2.1 3.7-.5 1.8 .9zM273.7 103.7l-1.5 1.3-1.5-.2-1.7-1.5 .8-2.4 2-1.4 1.7 2zM277 114.1l-1.4 1.6-2-1.1-1.9-2.3 1.4-2.4 1.2-.9 2.4 1.8zM295.1 102l-2-.8 .7-2.4 3.6-1.5 2.6 .8 .3 1.8-2.6 2.2zM288.4 103.9l1.5-.9 2.3 1-.2 2.7-2.3 2.2-1.7-.9-.8-1.4zM300.5 95.7l-2.2-2.2-.7-3 3.3-1.1 3 1.1 .4 2.6-.7 2.9zM294.3 100l1.9-1.1 1.8 .8 1.2 2.1-2.1 1.4-2 1-1.9-2zM296.4 95.6l.8-1.5 1.4 0 2.1 2.2-.5 1.6-1.6 1.5-1.3-1.6zM302.5 93.2l-.9-1.4 .8-2.6 1.5-.3 1.1 1.8-.6 1.8-1.2 .9zM303.6 92.3l-1.8 1.4-1.9-1.8-1-2.2 .8-2.3 3.1 .6 1 2.2zM289.4 85.2l3.2-.5 3.7 2.1-.9 2.7-1.9 3.1-2.8-1-2.2-3.3zM308.9 77.1l-1.7-1.1 .1-2.5 1.3-1.2 1.8 0 .8 2.1 0 1.5zM305.1 68.8l-1.8-1.4-.7-2 .3-2.1 2.4 .4 1.7 .8-.4 2.8zM270.8 81.9l1.1 3-.5 2.5-2.6 .8-2.2-1.5-.1-2.1 .6-2.4zM249.5 96.5l-.6-2.4 1.9-1.7 2 1.4 1.3 2-1.1 2.7-2.2 .3zM293.8 129.1l.4 2.6-.4 2.1-2.4-.1-1.7-1.6 .4-1.9 1.2-1.9zM304.8 136.8l-2 1.8-2 .2-.9-2 1.3-2.4 2.4-2.1 1.4 1.5zM310.9 145.2l-1.3 1.9-1.9 .4-1.8-1 .9-1.4 1.7-1.1 2-.1zM334.3 147.3l-1.4 2.2-3.2-.2-1.2-1.8-.3-2.4 2.8-1.3 2.1 1zM330.1 143.9l.8 2.1-.9 2.5-2.1 .3-1.6-2.1 .3-1.9 1.5-1.8zM321.1 167.2l-.4-2.6 1.3-2.5 2.5-1.3 1.1 3.3 .5 2.1-2 2zM332.9 162l-2.5 .2-1.9-.6-.9-2.7 .7-2.5 2.8 .3 2.2 2zM324.7 160.7l2.4-1.7 2.8-.7 .7 2.2-.8 2.7-3.3 1.4-2-1.5zM330.5 157l2.2-.1 1.9 2.8-.1 1.9-2.5 1.7-2.4 0-.4-3.2zM342.6 162.4l-1.8 1.8-3.2-.5-.2-3.9 1-2.3 2.9 .1 2.1 1.9zM342 169.2l-2.3 .6-1.8-1.9 1.2-1.8 1.6-1.8 2.6 .1-.1 2.6zM300.1 165.6l2.3 1.2 1.2 1.7-.5 2.5-2.1 1.8-1.6-1.6-.3-2.1zM355.1 162.7l1.4 1.5-.3 3.2-2.5 1.4-.8-.9-.8-1.7 1.5-3.2zM344.1 157.1l-.2-2.7 1.1-2.8 3.1 .6 .8 2.6-.2 1.9-2.2 1.2zM347.8 94.3l-2.6 2.3-3-.1-1-2.9 .1-2.6 3.5-1.8 2.6 2.4zM340.8 93.6l2.3-2.5 4.2 .2 .7 2.6-2.4 2-3.3 1.1-1.3-1.2zM330.5 99.4l-1.4-2.3 0-1.5 1.9-2.7 2.5 .7 1.8 3.1-1.4 1.9zM316.8 98.7l-.6 2.4-3.6 .1-2.5-1.9 .2-2.6 2-1.6 4.5 .5zM316.7 79.9l2.4-.5 .8 1.4 .4 1.9-1.9 1.1-1.5-.4-.6-2zM373 83.4l1.4-.2 1.5 1.1 .4 1.9-1.1 1.3-1.6-.4-1.2-1.7zM339.9 125.4l3.2 .1 .7 2.7-1.1 2.7-2.3 .6-3-2.1 .5-3.1zM337.5 117.5l1.3-2.1 3.3-.5 2.3 1.4 .2 3-1.3 1.2-3.9-1.4zM347.3 116.9l-1 2.4-1.9 1.4-2.1-.6-1.4-2.3 1.3-1.7 3.1-.1zM343.3 135.5l1.2-2.4 1.7-.9 2.8 .4 .4 3.8-.7 2.4-2.6-.7zM362 152.2l-1.5 1.8-4-.3-2-2.3 1-3.5 4-1.2 2.7 2zM427.4 136.8l.6 1.9-2.7 1.8-1.9-1.3-2.4-3.1 2.1-1.5 2.8-.3zM435.5 130.9l2.4 .7 .8 1.5-.9 2.1-2.5 1.3-1.8-1.5-.6-3zM435.3 141.4l.1 2.7-1.5 .8-2.2-1.1-.6-2.2 .8-1.9 1.7 .3zM439.6 134.1l1.2-1.5 2.2 .1 2.2 .4-.9 2-2.4 1.7-2.4-.6zM453.3 135.8l.2 1.9-2 2.4-1.8-.8-1-1.1 1.7-2.3 2.3-1.4zM450.2 140.2l-2.2-1-1.5-2.4 0-2.7 3.9-.9 2.3 1.6 .3 3zM425.7 111.3l1.8-1.9 2.5 .5 2 2.6-.8 1.7-2.6 1.3-2.2-2.5zM426.9 103.6l2.7 .5 2.8 2.1-.1 1.9-2 1.6-3.4-1.1-.8-1.6zM453.3 105l-2.2 2.8-3.1 .9-2.2-3.2 1.1-3.3 2.8-1.1 3.4 1.7zM447.9 109.7l2.2 .1 2.1 1.3 .6 2.8-1.6 .8-2.6-1.1-1.9-1.7zM455.6 87.5l-2.3 3.3-2.5-.8-2.1-2.1 1-3.2 3.1-2.1 2.6 1.3zM439 94.3l-.6-2.2 .5-1.9 1.6-.8 1.5 .8 .1 2.1-1.6 1.4zM470.1 124l2.5-.6 .9 1.8-1.6 1.8-2.6 1.2-1.4-1.1 .4-2.7zM452.4 162.8l.2-3.3 3-2.1 3.1 1.1 1.8 3-2.2 2.9-3.2 .8zM416.9 158.8l.5-2.1 2.5-.5 2 1.7 1.2 2.5-1.7 1.1-3.5-.5z"/><path class="b2" d="M2.4 131.6l-.9-2 1.2-3.5 2.1-.3 1.6 2.5 0 3.4-2 1.2zM16.6 113.1l1.7 1.8-1.2 2.5-1.7 1.1-1.5-1.5-.6-2.1 1.4-1.3zM22.1 121l-1.2 1.2-1.6-1.2-.6-2.1 .6-1.8 1.9 .5 1.3 1.6zM18.9 139.5l2.7 1.7 .9 2.4-2.2 1.9-1.5 .7-1.7-2.2 .2-2.4zM4.2 164l1.5-2.5 2.6-1.3 2.1-.1-.2 3-1.1 1.9-2.3 .5zM18.7 158.5l3.2 .5 .8 2.4-.7 1.5-1.4 .7-2.6-1.3-.6-2.7zM16.3 159.6l2.5-.8 2.7 1.1 1.6 3.5-1.7 1.8-2.1-.5-3.2-2.1zM23.3 157.2l.1-2.5 2.9-1.3 1.6 .9 1.2 2.6-1.5 2.3-2.5 .1zM28.7 152.3l1.6 2.1-1.2 2.7-2.6 .5-2.3-1 .5-2.2 1.3-2.1zM34.6 153.4l1.2 1.1-.3 2.9-1.8 1.4-.9-.8-.8-1.5 1-2zM36.5 152.3l-1.5-2 1.9-2.7 2.4-.4 2.2 .5-.5 2.3-1.4 2.9zM54.9 156.8l-3.1 .2-1.7-1 .4-3.3 1.8-2.3 1.9 .9 1.5 2.3zM45.1 156.7l-1.2-2.1 1.1-1.6 1.6-1.3 2.2 1.5-.3 2.2-1.6 1.2zM1.5 175.6l-1.5-2 1-2.6 2.3-.1 2.5 1.8 .2 2.5-2.3 1.1zM8.6 174.7l-2.6-1.2 .9-2.7 2.2-2.6 2.2 1.5 .8 1.7-1.2 3.2zM7.6 171.1l-.3 3.1-2.2 1.8-2.2 .1-1.2-3.6 1.4-2.5 2.4 .1zM19.3 178.7l-2.7-1.9-.9-1.5 .3-3 4.2-.9 1.8 2.1-.6 2.9zM24.8 189.4l-3.5-2.6 0-3 3.4-.8 4 .3 1 2.5-2 3.9zM50.8 102.2l-.1-3.9 1.5-1.7 3.2 .4 .3 3.3-.5 3.3-1.9-.1zM51.4 104.8l1.8-.7 1.6 .5 .5 1.7-2.3 1.9-1.3-.6-1-1.2zM92 81.7l.6 2.5-1.2 1.4-2.1 .6-1.5-1.3 .4-1.9 1.8-1.7zM93 104l-2 0-2.1-2 .4-2.3 1.8-1.2 2.4 1.6 .5 2.5zM85.1 98.3l-1.2-1.2 .9-2.8 1.6-.6 1.3 .2 .2 2.3-1.4 2.2zM97.6 94.5l-2 2.2-2.3 .5-1.1-2.2 .9-1.8 2.4-1.5 1.5 .7zM102.8 106.2l1.5 2.3 .1 4.1-3.8 1.8-3-1.8-.9-3.4 2.6-2.3zM67 134.9l-1.9 1.1-2.9-3.1 .8-2.8 .9-1.8 2.4 .9 1.3 2.8zM77.4 135.8l-2.4 .5-2.8-1.3-.8-2.3 2.6-1.3 2.9 .4 1.1 1.6zM64.7 130l1.5-3 3-.5 3.2 1.8-.2 2.4-1.7 2.4-3.7-.2zM96.7 136.9l-3-.5-1.6-2.2 .8-2 1.4-1.9 3.6 1.2-.3 2.3zM87.1 136.9l-3.5 0-2.2-1.8 1.5-2.4 2.7-1.7 3.2 .9-.4 2.1zM106.2 146.4l-2.4 .8-2.4-.4-.6-2.4 1.5-1.7 2.5-.2 1.4 1.7zM107.6 134.9l-1.5 1.5-2.7-.8-1.1-1.8 .2-2.1 2.7-.3 2.6 .5zM102 143.2l1.2 2.7-2.5 1.7-2.4-.7-2.3-1.5 1.8-3.1 2-1.5zM89 141l1.4 2.6-1.9 2.2-1.4 0-2.3-1-.2-2.8 1.7-1.2zM96.3 147.5l-1.4-1.9 .5-2.3 1.9-.3 1.6 1.5 .6 2.8-2 .3zM84.1 153.3l0-1.3 2-1.2 1.8 .6 .9 1.6-1.4 1-1.8 .1zM78.3 161.8l-1.6 .1-2-.3-.6-2.5 1.1-1.1 2.1-.6 1.4 2.3zM82.2 170.4l-1.1 1.7-1.7 .1-1.6-1.4-.4-1.9 1.5-1.1 1.3 1zM68.5 168.8l-1.6-.6-1.5-3.2 1.8-1.3 2-.4 2.4 1.8-.1 2.5zM79.9 175.6l-2.1-1.6 .6-4.1 3.5-.9 2.6 1.4-.5 2.9-1.1 3zM74.4 168.6l1.3 3-.7 3.1-2.4 1.4-2.5-2.4-.8-2.3 2.1-2.5zM70.4 171l-.6-3.2 1.2-.5 1.9-.4 1.2 3.1-.2 1.6-1.6 .2zM113.5 160.1l-2-.7-.5-2.3 1.1-2.2 2.8-.5 1.4 1.4 .3 3zM117.3 166l1.6-1.3 1.7-.3 .7 2.6-1.1 1.8-1.7 1.2-1.6-2.1zM169.5 97l2.6 1.7-.1 3.5-2.2 2-2.6-.6-1.8-2.9 .6-1.8zM177.4 114.2l1.9-1.9 1.5 .1 .9 2.9-1.4 2.8-1.8 .2-1.8-1zM181.2 114.3l-2.8 .9-2.2-.2 .2-1.7 .8-.9 1.8-.8 2.3 .4zM175.8 118.3l1.6-1.6 1.7 .5 .6 2.5-.8 2.6-1.8-.2-1.4-.7zM174.9 131.2l-1.2-2.3 .8-2 2-1.8 2.6 2 .4 2.7-1.5 1.5zM184.7 142.6l-3.4 0-.8-3.1 2.1-2.1 2.6-.5 2.6 .7-.7 2.4zM186.4 136.8l-2.2-2.7-.6-2.5 2.3-.2 2.4 .7 1.5 2.3-.8 2.1zM207.2 135.3l-1.4 1.9-1.2 1.1-1.7-1.3 .4-2.6 1.6-2 1.1 1zM203.6 139.1l2.6-.6 1.4 1.6-.9 2.4-2.1 2.5-2-.9-.5-1.8zM190.4 143l-1.8 1.2-2.2-.1-.2-1.3 1.2-1.9 2-.1 1.5 .7zM181.9 139.3l.2-2.4 1.2-1.7 2 .4 1.6 3-.7 1.9-1.8 .2zM175.9 150.1l-1.8 1.2-1.4-1.4-.7-3 1-1.3 1.7 .2 2 1.9zM167.7 155.9l3.1-.6 2 .6-2.1 3.3-2 1.4-2.6-.8-.2-2zM174.5 162.8l3.1-.1 2.8 2.3 .1 1.6-2.8 1.7-2.3-1.1-2.6-3.1zM164.9 168.7l2.2-.4 2.7 1.2-.2 2.7-1 2.3-2.5 .1-1.4-2.5zM162.4 169.8l3-1.1 3 .6 .2 3.1-1.5 2.9-2.8-.1-2.5-2.4zM138.1 182.9l-.9-1.6 .2-2.8 2.9-.7 2.5 .3 .2 1.8-1.5 2.4zM145.9 179.6l1.9 .2 2.2 1.7 .2 3.1-3.2 1.4-1.6-.6-1-2.5zM215.5 136.6l2.3 .9 .6 1.8-2 .9-2.5 0-1.1-.9 .3-1.9zM221.7 125.5l2.3-1.5 1.2 1.1 0 1.3-1 1.8-1.8 .6-1.8-.7zM225.3 132.3l1.4-2.3 2.6 .4 1.6 1.4-.6 1.8-1.8 .8-2.1-.7zM243.8 123.6l-2.4 1.5-2.8-.5-.8-2.2 1.1-1.8 2.5-.4 2.3 2.1zM228.9 127.5l-.3-2.3 1.7-.8 1.9 .3 .9 1.9-.8 1.6-2 .9zM249 115.5l-1.4-.4-.7-1.8 1.6-1.8 2.9 0 .9 1.3-1.3 2.7zM248.1 114.2l-2.9 1.3-2.7 .4-1.2-2 .5-3.1 2.7-.3 2.7 1.2zM257 116.9l-2.7 2.7-2.5-.5-2.1-2.1 .8-3.4 3.3-1.3 3 1.4zM264.7 107.5l-1.3 2.8-3.3 1.8-2.3-1.4-.2-2.4 2.6-2.6 2.8-.7zM262.2 112.3l.2-1.5 1.6-1.4 2.2 .6 .9 .9-2 1.6-1.5 .7zM257.5 137.8l2-.9 .8 2.1-.4 2.4-2.3 .5-1.1-.8-.8-2.1zM235.8 137.2l1.7-1 1.8 .3-.2 2-1.1 3.1-2.2 .6-.6-2.6zM232.9 150.5l-1.4 1.4-2.7-.3-.8-1.6 .5-2 2.3-.4 1.4 1zM221 175.9l-1.8-.4-1.3-1.4 .2-2.5 2-1.4 2.3 1.3 .7 3zM239.1 179.5l2.2-1.8 2.6-.3 1.7 2 0 2-1.7 2.1-2.8-2zM243 179l-2.9-1.1 1.1-3.1 2.1-1.3 3.4-.4 .7 2.3-1.7 2.9zM210.3 186l-1.9-.8 1.2-2.6 1.4-1.5 2.3-.1 .2 2.2-.7 1.9zM210.3 185.6l-2.3-2.1-.8-2.3 4.1-2 2.5 .6 .6 3-1.6 2.1zM223.2 178.4l-2 .9-2.3-.5-1.8-2 .2-1.7 3 0 2.5 .6zM274.4 119.4l-1.9 .6-1.5 0-.3-2.2 .6-2.5 1.7-.1 1.1 1.8zM277.9 106.4l1 1.8-2.3 1.7-2.4-.5-1.7-2.3 .8-2.1 2.8-.1zM273.2 103l-2.6 1-1.4-1.8 .4-2.9 2.5-1.6 2 .6 .6 2.2zM288.5 109.3l1.6-1.4 3.6 .5 1.1 2.7 .2 3.1-3.5 .3-2.3-2.5zM286.3 113.2l-1.1 .5-2.2-1.5 .3-2.8 1.8-.8 2.3 .5 .2 2zM286.2 104.9l3 2.4 .4 2.9-2.2 .5-2.4-.7-.7-2.1 0-2.7zM298.9 99l1.8 .1-.8 3.5-1.8 1.9-1.4-.7-1.2-1.4 1.3-3.5zM299.9 100.6l1.2 2.5-1.6 2.7-3.8-.2-1.3-1.8-.2-3 3-1.5zM302.6 79.9l-.9 2.4-1.8-.6-1.7-.7-.2-2.4 2.1-1.5 1.7 .4zM272.6 90.5l-.6-2 .9-1 2.6-.1 .6 1.9 0 1.9-2.5 .1zM255.5 87.3l-1.7-1.1 .2-2.4 1.9-1.4 2.7-.2 1.1 2-1.4 1.6zM270 121.1l.9-2.9 2.6-1.6 3.7 1.8 .7 3.8-2.5 2-2.8 .2zM285.7 135.2l.4 2.7-1.4 2.5-2.7-.5-1.8-2 .4-3.3 1.3-1zM289.5 136l-2 .1-1.6-1.1-.5-2.5 1.5-.7 1.9 .4 1.1 1.5zM288.6 130.6l1.3-2 1.8-.8 2 1.1-.1 2.3-1.7 1.5-1.8-.7zM288.9 132.1l-.5-1.5 1.9-2 2.7-.3 3 2.3-1.3 1.9-2.8 .8zM269.7 147.9l2-1.1 1.9 1.1 .4 1.9-.8 1.8-1.3-.2-1.7-1.4zM277.8 136.8l.5 2.2-2 1.8-2.3 .8-3.5-2.3 1.1-2 3-1.5zM272.8 143.1l-2.7-.5-2-1.6 .7-1.9 2.1-.3 2.6 1.2 1.1 1.7zM296.6 138.8l-1.1-2.4 2.7-2.7 2.9 .6 .5 2.7-.9 2.5-2.3 .1zM303.5 141.2l3.9 .9 1.1 2.4-2.1 3.1-3 .7-1.8-1.6 .1-3.2zM319.4 150.3l-2.3 .7-1.7-1.9-.8-2.5 2.1-1.3 1.9 .2 1.6 2.8zM309 143.1l2.5-.6 2.5 .5 .3 2-1 1.3-2-.5-1.9-1.2zM323.3 147.9l-1.3 1.8-2.3-1.1-.9-3.1 .8-2.4 2.3 1.3 1.6 1.2zM320.2 154.2l2.5 1.5 1.5 3.8-1.8 .8-3.1 0-1.6-2.9 .3-1.6zM318.8 161.7l1.4 2.7-1.8 1.8-1.7 1-2.8-1.2-.2-3.9 2.2-1zM322.6 156.5l-.5-2.1 2.6-1.7 2.5 .1 2.3 3-1.5 2.3-2.8 .8zM348.3 172.7l-3.6 0-1.6-1.5 .1-2.1 3.2-1.1 2.2 .6 .8 2.4zM311.2 164.2l-1.8-1-.1-2 1.7-1.6 2.1 0 .9 2.3-.6 1.5zM297.7 159.9l-1.5-3.1 1.2-2.9 1.7-.1 2.9 1.2 .8 4-2 1.8zM298 160.1l.5-3.4 3.1-1.2 2.3 .2 .7 3.5-1.7 2.8-3.7-.5zM352.5 157l-1.3-1.1 1.5-2.1 1.1-1.1 2 1.3 .8 1.3-1.5 1.9zM350.1 163.5l1.7 0 2.2 1.4-.9 1.8-2.8 .9-2.1-.7-.2-1.7zM361.2 154.9l2.7 3.3-1.5 2.2-2.2 1-3.3-2 .1-2.6 1.7-2.2zM339.4 116.1l-1.5-2.1 1-2.3 2.6-.1 2.2 .6 .7 2.8-3.2 1.6zM345.3 112.8l-2 .2-1.8-.9 .3-2.1 1.8-2.8 1.8 1.1 .7 2zM363 93.3l2.3 1 1.8 2.5-1.1 1.2-2.4 .3-1.6-1.9-.5-2.4zM362 101.3l-.3 3.1-1.9-.1-1.6-1.7-.4-2.9 2.1-1.3 1.6 .9zM340 95.8l1.3-.1 .8 1.9-.6 1.7-2.8 1-.9-1.3 0-1.7zM327.8 100.3l-.3 1.7-2.4 .6-1.9-.9-.2-1.6 1.3-1.4 2.3 .1zM320.5 102.5l1.2 2.4-1.4 2.1-1.8 .5-1.5-1.4-.3-2.7 1.5-.5zM304.8 85.7l-.9-2 2.1-2.7 2.9-.9 2 1.5-.7 3.7-2.5 1zM365.2 89.5l.6-2.4 2-2.6 3 .6 1.5 2.1-1.7 2.4-2.8 1.4zM365.5 81.5l2.1 1.4-.7 2-2.4 1.4-1.5-.6-1.1-2.3 2.2-1.7zM340.4 136.5l2.5-1.4 2.9 1.4-.3 3.4-1.4 2-3.1-.7-1-2.5zM343.6 137.6l-.3 1.8-1.4 .5-2.5-.8-1.6-2.2 1.8-1 2.7 0zM349.5 153.5l-2.8 .1-1.4-2 1-1.8 2.1-.9 2.3 1 .4 2.4zM353.8 152.8l3-1.1 1.9 .5 1.5 2-1.9 1.3-2.3 .6-1.5-1.6zM350.9 156.5l-1.1-1.6 1.2-3.3 2.4-1.2 2.7 .5 0 2.2-2.6 2.5zM356.5 149.5l-3.3-1.1-1-2.1 1.7-2 2.6-.8 3.3 2.6-1.2 2.2zM381.4 164.2l.7-2 2.4-1.1 2.6 2.2 1.2 1.8-2.5 1.5-2.5-.5zM373.5 158.3l2.6 1.4-.6 3.3-2.3 1.9-2-.2-1.1-2.6 .5-3.3zM430 130.2l2.8 1 .1 2.7-1.7 1.4-1.7 .8-1.5-3.5 .9-2.1zM445.2 132.8l1.1-1.9 2.4 1.3 .8 1.9-.8 2.3-2 .2-1.3-2zM458.4 130.7l2.3 .1 1 3-1.1 2.3-3.4 1.3-1.4-1.9 .3-3.1zM431.1 107.6l.2 2.2-.8 1.5-2.2-.1-1-1.2-.5-2 1.9-.6zM459.9 101.6l1.4 .4 .1 2.8-2.2 1.7-1.9 0-.9-1.4 1-2.3zM453.8 103.1l-1.5-2.8-.4-2.6 3.1-1.5 3.5-.2 .6 3.2-1.6 1.9zM465 113.9l-1.4 1.9-3.3 .3-1.9-1.2 .8-2.9 1.7-1 3.4 1.2zM466.2 123.9l1.5-1.5 4 .7 1.8 1.9-1.8 3.9-2.8 .1-2.9-2.2zM447.4 166.4l-1-2.1 1.9-.9 2.6 .2 1.8 1.8-.2 2-2.5-.2zM446.8 160.5l.2-2.5 1.6-1.8 2.9 .3 1.2 2.3-.5 2.4-2.7 .2zM455.6 159.1l-2.8 .7-1.6-1.7 .5-2.7 2.7-1.7 2.9 .8 .2 3zM426.5 165.5l-3.5-.4-1.5-1.5 .6-3.6 3.8-1.1 1.9 1.7 .5 2.1z"/><path class="b3" d="M10.1 142.2l-.6-2.4 1.7-1.6 1.6 0 2.6 1.4-.9 2.8-2.5 .9zM24.2 125.1l.2 3.3-1.8 1.6-2.5-1-.6-1.7 1.1-3 1.8-.4zM14.3 122.1l-.1 2.3-.8 3.4-2.3 0-1.4-1.2 .4-3.5 2.2-2.4zM20 155.3l-1 2-2.7-1-2.4-2 .5-2.2 2.1-.7 2.9 2.1zM-.2 160.4l-.3-2.1 0-2.2 1.9-.5 1 1.1 .2 2.2-.9 .9zM14.5 162.8l-.1-2.6 1.9-1.7 1.8-.2 .8 2.7-.3 2.2-2.4 1.5zM33 152.8l-1.6 1.5-1.3-.2-1.4-1.5 .6-2.7 2-1.6 1.2 1.2zM35.3 158.7l-.4-1.5 2.7-1.7 2.8 .7 1.2 1.2-1.9 1.9-2 .4zM40.1 154.9l-.9 1-2.2 1.2-1.7-1.2 .3-1.5 1.7-.5 2.6-.3zM43.2 148.6l3.3 1.9 1 3.6-1.8 2-3.6 .9-1.3-3.1 .5-3.7zM-.7 183l.4-2 2.4-.7 2.7 1.4 .3 2.3-.9 1.9-2.5-.2zM21.6 176.1l2.3-2 2.6-.7 2.1 1.6-2.1 3.2-2.3 1.5-1.8-.6zM96.4 99.6l-2.2-2.2 1.6-1.9 2.5-.6 2.8 3.1-.1 2.5-1.5 1.3zM110.1 91.2l.6 1.7-1.3 2.4-2.9 .2-1.3-2.4 .5-2.4 2.1-1.3zM75.6 139.3l-2.1 1.1-2.6-.5-.4-2 2.4-1.8 2.4-1 .9 1.6zM80.3 140.5l-1.7 3.1-3.3-.3-1.6-1.8 0-2.5 1.6-2 3 .9zM90.1 133.5l2.5 1 1 2.5-1.9 2.1-3.1 .1-1.5-2.2 .1-1.9zM90.9 128.9l-1.1 1.4-2.1-1.1-.8-1.6 .7-2 1.4-1.3 1.8 2.3zM99.3 143.4l-2.9 .3-2.7-1.7-1.1-2.5 1.7-2.3 2.6-.1 2.5 2.6zM100.5 150.6l1.9 2.5-.9 2-2.9 1.1-1.7-1.3-.9-2.9 1.7-1zM105.9 144.9l2-1.8 2.3 .4 1.5 1.5-1.1 2.5-1.9 1.4-2.3-1.8zM106.8 153.1l-.6 1.9-1.8 .1-1.8-.5 .1-2.3 1.5-1 1.6-.2zM103.3 145.4l1.5 1.5 .6 1.7-1.6 1.9-1.3 .5-1.6-1.7 .5-2.8zM74.8 156.7l3-.5 1 2.4-.8 2.2-2.8 1-3.1-.9-.1-3zM84.1 163.1l.6-2 1.5-.2 1.2 .7-.2 2.1-1.2 1.4-1.6 0zM74.3 170.7l1.8-.2 2.2 2 1.1 1.8-2.2 1.4-2.2-.8-1.8-1.7zM84.6 176.1l-2.1-2-.2-3.3 1.9-1.5 2.5 .5 1.3 2.4-.9 2.5zM109.5 151.9l2 2.3 0 2-1.7 3-2-.1-1.2-2.5 .7-2.8zM107.8 153.8l-1.7-3.5 1-1.8 2.8-1.4 1.5 2.9 .2 2.9-1.9 2.8zM100.9 150.7l-1-1.8 1.7-2.6 2.2-.2 1.3 1.2 .6 2.2-2.3 1.9zM173.1 86.6l1.5 2.3-.1 2.1-1.6 1.7-2.2-.6-.8-2.4 1.5-1.9zM180.7 90.3l-2.1-.1-.3-2.2 1.1-1.8 2.7-.9 .8 1.7 .6 2.3zM184 117l-2.1 .3-1.7-1.2 .3-2.8 1.8-1 2.4 1.2 .5 2.3zM174.1 115l0-1.6 1.9-1 2.5 1.1 .3 1.3-1.2 1.8-2-.2zM177.7 120.5l-1.4-.9-1.1-1.6-.1-2.5 2 .5 2.5 1.7 .1 1.5zM194.5 136.6l-1 1.8-2.8 1.7-1.5-2-.5-1.4 1.6-2.2 2-.2zM193.5 120.5l2 2.3-.3 2.9-2.4 2-3-1.2-1.3-3.9 1.7-1.7zM200.3 120.3l.7 2.1-1.3 1.6-2.9 .6-.9-1.2-.5-2.2 2.3-.7zM205.1 141.5l-.2-3.4 3-1.7 1.3 2.7 .8 2.3-2.1 2.8-2.4-.5zM183.8 152.7l2.3 1 .5 2.1-1.5 1.9-3 .3-1.4-1.7 1.5-2.3zM171.7 172.5l-1.8-1.4 0-1.9 .3-1.9 3-.2 1 1.4-.7 2zM133.5 173.3l-.1-1.8 1.2-2.8 3.6 1 .8 1.8 .4 3-3.5 1.1zM150.5 179.6l-1 3.3-3.7 0-2.7-1.6-.1-2.7 2.2-2.4 3.3 .7zM151.4 177.3l2 .6 .4 4-1.5 2.4-2.3 .3-2.3-3.2 1.2-2.2zM215.4 125.4l2.3-1.3 1.7 2.3-.5 2.2-2.1 2.8-2.1-1.6-1.2-1.4zM247 121.7l-.2 2.3-2.1 .9-2.7-.8 .2-2.6 1.3-.9 2.5-.4zM239.6 124.4l-2.3-2 .2-1.9 .9-2.2 2.3 1.1 1.2 2-.8 2.8zM246.3 115.2l.7-2.2 2.8-1.9 1 1.6 .4 3.5-1.5 1.9-1.6 .2zM252.9 115.6l3-1.8 3.1-1.1 1.7 2.6-2.1 1.7-2.8 1.8-2.7-.1zM261.1 106.7l1.6-1.8 2.4 .1 1.6 1.4-1.1 1.6-2.8 1.6-2-1zM264.6 125l-2-.6-1.5-1.8 1.7-2.6 2-1 2.2 1.7-.1 2.1zM244.4 129.4l1.4-1.5 2.4 .3 1 1.8 .2 2.1-1.4 .8-2.9-1.2zM223.6 145.6l.1 2.5-2.6 2.3-2.7-.6-.7-2 1-2.4 3.2-1.3zM227.8 159.7l-2.4 .6-3.2-1.1-.4-2.7 2.2-1 4.1-1.1 1.4 2.7zM223.3 155.4l2.5-2.3 2.3 .2 .5 3.4-1 2.7-3 .6-1.3-2zM225.2 177.9l-2-.6-.9-1.6 1.1-2.4 1.9-1.7 1.6 1.1 .6 2zM223.2 163.9l2.1 2.2 1 3.4-2.9 2.2-2.3-2-1.7-2.1 1.1-2.8zM241.4 187.4l-1.3 1.5-2.2-1.4-.6-2.6 1.7-2.1 1.7 1 1.2 1.9zM216.9 177.1l1.8 1.4 .6 2.1-1.5 1.4-1.5 .1-.7-2.4 .2-1.6zM273.1 106.3l-2 2.3-3.3-1.6-1.6-2.2 2.1-2.4 2.4-.7 3.2 2zM290.8 99.2l1.7 1.7 .3 1.7-2.3 2-2.2-.2-1.1-2.1 .9-3.5zM280.1 108.8l-1.1-2.4 1.3-1.7 2.2 .6 1.7 .9-1 2.6-1.4 1.1zM291.5 110.7l1.7-1.5 2.4 1.8 .9 2.8-1.3 2-2.1-.3-2.2-3zM301.1 102.2l-1.1-2.3 .7-2.5 1.5-.7 2.1 1.2 .7 2.3-1.7 2.4zM300.2 91.7l-1.3-2.1-.3-1.9 1.2-2.9 1.8 .6 1.1 1.2-.9 3.1zM315.2 79.5l-1.5 2.1-2.4 .1-1.2-.9 .3-2.1 2.9-1.5 1.7 .3zM263.8 97.3l-2.3 1.4-2.4 .3-.3-2.5 .6-2.2 2-1 2.1 1.4zM261.6 88.5l.9 2.8-2.4 .8-2.8-.6-1.3-3.1 .8-2.2 2.7 .1zM269.4 132.9l.2-2.1 1.6-1.2 2.4 .9 .2 1.8-.9 1.7-1.9 .9zM298.1 142.3l1.1 2.5-2.1 1.4-2.1-1.2-1.6-2.9 1.4-2.1 1.3-.8zM297.6 134.3l1.6 2.2-.9 1.9-3.8 1.5-.9-1.3 0-1.9 1.9-1.5zM301.4 134.2l2.2 .7-.5 4.1-1.6 1.7-3.3-1.1-.4-2.7 1.1-3.1zM269.2 144.9l3.6 0 1.8 1.6-.1 2.5-3.4 1.2-2.1 .1-1.1-2.5zM271.8 141l.5 2.4-2.7 2.2-2.3-.3-1.5-1.9 1.4-3.2 3.3-2zM304.4 140.3l.3-2.6 2.2-1.4 1.7 1.3 .2 2.6-.6 1.7-2.5-.5zM297.1 141.3l-.7-2.2 1.6-2.1 3.3 .4 1.2 2.5-1.1 2.1-2.1 1.1zM323.1 143.2l.6-3.2 1.6-.7 1.8 1.4 .4 1.5-1.5 2.2-2 1zM329.9 155.9l-1.1 2.1-2 .9-1.9-1.2 .9-3.1 1.6-1.3 1.9 .7zM328.5 157.7l3.4-1.8 2.8 1.5 1.7 3.2-2.7 1.9-2 .9-2.8-2.7zM337.8 157.9l1.6 .4 .6 1.6 .2 2-1.3 1.1-1.9-.4-.2-2.4zM348.4 166.9l-2.3-1.2-1.7-2 .9-3 1.9-.3 2.6 1.6 1 2.8zM360.7 153.4l2 1.7 0 2.3-.4 2.6-2.1-.5-1.7-2 .3-2.7zM346.6 106.9l-4 0-1-3.2 0-1.8 3.4-1 1.9 1.6 1.8 2.4zM350.9 97l1.1-2.5 3.1 .4 1.7 2.6 0 2.8-3.3 .6-1.9-1.3zM359.7 94.7l-2 1.7-2.8 1.2-2.1-1.6 .3-2.2 2.4-2.8 1.7 1.2zM345.8 102.1l-1.2-2.7 1-2.4 1.6-1.3 1.6 1.3 .5 2.3-1.9 2.7zM345.2 98.8l-.5-2.4-.2-2.5 1.8-.9 1.5 1.3 .4 2-1.2 1.9zM358.5 96.6l3.5 .3 1.3 1.7-.7 1.6-3 1.7-1.9-1.5-1.3-2zM363.2 94.5l-.3 3.8-1.8 2.2-2.8-.8-1.3-2.9 .7-2.7 2-.6zM338 96.7l-.6-3.3 2.1-1 2.8 1.2 .6 2.7-.6 2.2-2.1 .9zM337 96.9l-3-.2-3-1-.6-2.8 3.5-1.7 2.8 .6 1.2 2.9zM320.4 103.4l.3 1.6-1.5 2.1-1.7-.3-1-1.2 .4-1.3 1.4-.9zM311.2 72.7l2.8-.6 2.2 2-.3 2.7-1.8 1.6-3.4-1.5-2-2.2zM311.3 83.2l-.5-2.6 1.8-3.1 3.7 1 1.9 2.1-.7 2.8-3.4 2.1zM371.5 85l1.7 .2-.2 2.4-.5 1.6-2 0-.9-1 .5-2.1zM367.5 78.9l-2 .7-1.7-1.3 .4-1.5 1.7-1 1.6 .1 1.1 1.8zM343.3 132.2l-1.9 3-2.5-.8-1.3-2.6 .7-2.5 3-.7 1.9 .9zM374.3 170.4l-1.8-1.8 .4-4.3 3.9-1.9 2.4 2.9 .5 2.5-2.1 2.5zM388 168.9l-.8 2.8-3.3 .6-1.7-1.7-.4-2.3 2.8-2.1 1.7 1.1zM433.2 148.4l-2-2.5 0-2.3 3-2.1 3.3 .9-.4 3.1-1.7 1.8zM447.9 138.7l.4 2.2-2.3 1.5-2.7-.3-2.1-1.8 1.4-2.4 3.2-.5zM442 141.9l-2-1-1.8-2.2 1.9-.9 2.9 .3 1.2 1.4-.5 1.3zM446.5 145.6l-2.2 .3-1.8-1 .7-2.2 1.2-1.5 2.6 .9 1.2 1.7zM459.2 138.9l-2.7-.3 .3-1.8 1.5-2.6 1.7-.5 1.7 1.2-.3 2.6zM455.9 105.3l2.9-1.6 2.2 1.1 1.4 3.7-1.4 2.3-3.2 .3-2.4-2.1zM452.9 93.5l-1.6 1.4-2.3 .5-1.2-1.8 .1-1.6 3.1-1 2.1 .8zM449.4 95.2l-1.9 2.7-2.7 .4-2.4-1.4 .5-3.8 2.6-1.2 3.1 .8zM442.1 86l.9 2.1-.8 2.2-1.3 1.6-3.3-1.1 .1-2.7 1.9-2.5zM415.8 152.4l1.9 1.9 1.2 2.1-2.2 2.1-3.8-.1-.8-2.9 1.9-2.3zM419.2 167.1l-1.2-1-.7-2.1 1.3-2 2 .8 1.1 1.5-.4 2z"/></g></defs>
<g transform="translate(1615.5 1546)" clip-path="url(#cf)"><rect width="478" height="184" fill="#5c9bdb"/><use href="#fs2" style="--k0:#5c9bdb;--k1:#5896d6;--k2:#62a0df;--k3:#5c9bdb;--k4:#5591d2;--k5:#66a3e0;--k6:#5c9bdb;--k7:#5a98d8" stroke="#2b5fa6" stroke-opacity="0.55" stroke-width="0.9"/><use href="#fs2b" style="--b0:#d42a26;--b1:#c92420;--b2:#dc3430;--b3:#cf2824;--b4:#17120f"/><path d="M4 62H470M4 117.3H470" stroke="#d2da3c" stroke-width="2.4" stroke-dasharray="10 6" opacity="0.95"/></g>
<g transform="translate(1615.5 1729.8)" clip-path="url(#cf)"><rect width="478" height="184" fill="#c878b0"/><use href="#fs2" style="--k0:#e66aa8;--k1:#d45fd0;--k2:#8fe060;--k3:#f09a60;--k4:#9a72da;--k5:#ee7f78;--k6:#d8e04a;--k7:#e88ad0"/><use href="#fs2b" style="--b0:#35c840;--b1:#3a48d8;--b2:#c850c8;--b3:#30b8a0;--b4:#0d0d0d"/></g>
<text transform="translate(2020.9 1706.8) scale(1.11 1)" font-size="25.6" font-weight="bold" fill="#fff"><tspan>5 µm</tspan></text><path d="M2018.8 1720.5H2085.7" stroke="#fff" stroke-width="3.2"/>
<text transform="translate(2020.9 1890.9) scale(1.11 1)" font-size="25.6" font-weight="bold" fill="#fff"><tspan>5 µm</tspan></text><path d="M2018.8 1904H2085.7" stroke="#fff" stroke-width="3.2"/>
<text transform="translate(870.2 1016.8) scale(1.09 1)" font-size="26.5" font-weight="bold" fill="#000"><tspan>Phases</tspan></text>
<rect x="869.4" y="1059.4" width="21.5" height="21" fill="#f01818"/>
<text transform="translate(904.8 1078.2) scale(1.13 1)" font-size="25.5" font-weight="bold" fill="#000"><tspan>m-ZrO</tspan><tspan dy="5.1" font-size="16.8">2</tspan></text>
<rect x="869.4" y="1124.4" width="21.5" height="21" fill="#26a2e8"/>
<text transform="translate(904.8 1142.3) scale(1.12 1)" font-size="25.5" font-weight="bold" fill="#000"><tspan>t-ZrO</tspan><tspan dy="5.1" font-size="16.8">2</tspan></text>
<text transform="translate(864.5 1296.9) scale(1.1 1)" font-size="26.5" font-weight="bold" fill="#000"><tspan>IPF coloring</tspan></text>
<text transform="translate(905.2 1366.7) scale(1.12 1)" font-size="25.5" font-weight="bold" fill="#000"><tspan>m-ZrO</tspan><tspan dy="5.1" font-size="16.8">2</tspan></text>
<text transform="translate(871 1452.3) scale(1.05 1)" font-size="25.2" font-weight="bold" fill="#000"><tspan>001</tspan></text>
<text transform="translate(988.4 1452.3) scale(1.1 1)" font-size="25.2" font-weight="bold" fill="#000"><tspan>010</tspan></text>
<text transform="translate(872 1494) scale(1.07 1)" font-size="25.2" font-weight="bold" fill="#000"><tspan>100</tspan></text>
<text transform="translate(913.8 1563.1) scale(1.11 1)" font-size="25.5" font-weight="bold" fill="#000"><tspan>t-ZrO</tspan><tspan dy="5.1" font-size="16.8">2</tspan></text>
<text transform="translate(867.4 1619.8) scale(1.04 1)" font-size="25.2" font-weight="bold" fill="#000"><tspan>001</tspan></text>
<text transform="translate(1001 1624.9) scale(1.11 1)" font-size="25.2" font-weight="bold" fill="#000"><tspan>010</tspan></text>
<text transform="translate(954.7 1691.5) scale(1.11 1)" font-size="25.2" font-weight="bold" fill="#000"><tspan>110</tspan></text>
<defs><clipPath id="hd"><path d="M932.8 1404.5A39 39 0 0 1 932.8 1482.5Z"/></clipPath><radialGradient id="hdr" gradientUnits="userSpaceOnUse" cx="932.8" cy="1443.5" r="39"><stop offset="0" stop-color="#f00"/><stop offset="0.5" stop-color="#f00"/><stop offset="0.97" stop-color="#000"/></radialGradient><radialGradient id="hdk" gradientUnits="userSpaceOnUse" cx="932.8" cy="1443.5" r="39"><stop offset="0" stop-color="#000"/><stop offset="0.28" stop-color="#000"/><stop offset="0.62" stop-color="#000" stop-opacity="0"/></radialGradient><filter id="hb" x="-20%" y="-20%" width="140%" height="140%"><feGaussianBlur stdDeviation="2.5"/></filter></defs><g clip-path="url(#hd)" style="isolation:isolate"><g filter="url(#hb)"><path d="M928.8 1443.5L931.8 1388.9L943.2 1389.9Z" fill="#000eff"/><path d="M928.8 1443.5L941.3 1389.6L952.4 1392.5Z" fill="#002aff"/><path d="M928.8 1443.5L950.6 1391.9L960.9 1396.7Z" fill="#0046ff"/><path d="M928.8 1443.5L959.3 1395.7L968.6 1402.3Z" fill="#0063ff"/><path d="M928.8 1443.5L967.2 1401.1L975.2 1409.1Z" fill="#007fff"/><path d="M928.8 1443.5L974 1407.7L980.6 1417Z" fill="#009bff"/><path d="M928.8 1443.5L979.6 1415.4L984.4 1425.7Z" fill="#00b8ff"/><path d="M928.8 1443.5L983.8 1423.9L986.7 1435Z" fill="#00d4ff"/><path d="M928.8 1443.5L986.4 1433.1L987.4 1444.5Z" fill="#00f0ff"/><path d="M928.8 1443.5L987.4 1442.5L986.4 1453.9Z" fill="#00fff0"/><path d="M928.8 1443.5L986.7 1452L983.8 1463.1Z" fill="#00ffd4"/><path d="M928.8 1443.5L984.4 1461.3L979.6 1471.6Z" fill="#00ffb8"/><path d="M928.8 1443.5L980.6 1470L974 1479.3Z" fill="#00ff9b"/><path d="M928.8 1443.5L975.2 1477.9L967.2 1485.9Z" fill="#00ff7f"/><path d="M928.8 1443.5L968.6 1484.7L959.3 1491.3Z" fill="#00ff63"/><path d="M928.8 1443.5L960.9 1490.3L950.6 1495.1Z" fill="#00ff46"/><path d="M928.8 1443.5L952.4 1494.5L941.3 1497.4Z" fill="#00ff2a"/><path d="M928.8 1443.5L943.2 1497.1L931.8 1498.1Z" fill="#00ff0e"/></g><rect x="930.8" y="1402.5" width="43" height="82" fill="url(#hdk)"/><rect x="930.8" y="1402.5" width="43" height="82" fill="url(#hdr)" style="mix-blend-mode:screen"/></g><path d="M932.8 1404.5A39 39 0 0 1 932.8 1482.5Z" fill="none" stroke="#223" stroke-width="1.2"/>
<defs><clipPath id="tr"><path d="M917.8 1601.8L999 1601.8Q1001 1632 975 1659.4Z"/></clipPath><linearGradient id="tA" gradientUnits="userSpaceOnUse" x1="917.8" y1="1601.8" x2="987" y2="1630.6"><stop offset="0" stop-color="#f00"/><stop offset="0.55" stop-color="#f00"/><stop offset="1" stop-color="#000"/></linearGradient><linearGradient id="tB" gradientUnits="userSpaceOnUse" x1="999" y1="1601.8" x2="958.1" y2="1642.4"><stop offset="0" stop-color="#0f0"/><stop offset="0.55" stop-color="#0f0"/><stop offset="1" stop-color="#000"/></linearGradient><linearGradient id="tC" gradientUnits="userSpaceOnUse" x1="975" y1="1659.4" x2="975" y2="1601.8"><stop offset="0" stop-color="#00f"/><stop offset="0.55" stop-color="#00f"/><stop offset="1" stop-color="#000"/></linearGradient></defs><g clip-path="url(#tr)" style="isolation:isolate"><rect x="915" y="1600" width="90" height="62" fill="url(#tA)"/><rect x="915" y="1600" width="90" height="62" fill="url(#tB)" style="mix-blend-mode:screen"/><rect x="915" y="1600" width="90" height="62" fill="url(#tC)" style="mix-blend-mode:screen"/></g>
</svg>
</body></html>
